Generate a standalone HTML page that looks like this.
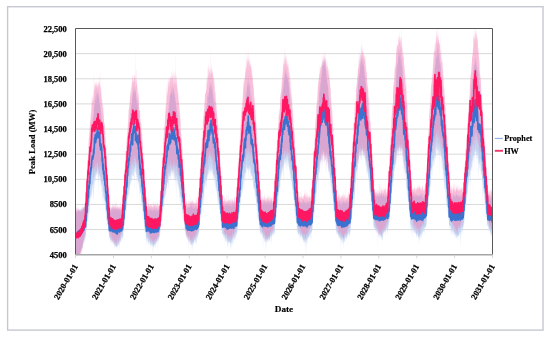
<!DOCTYPE html>
<html><head><meta charset="utf-8"><style>
html,body{margin:0;padding:0;background:#fff;width:550px;height:337px;overflow:hidden}
svg{display:block}
</style></head><body>
<svg width="550" height="337" viewBox="0 0 550 337">
<rect x="7.6" y="6.7" width="535.4" height="323.4" fill="#fff" stroke="#c5c8d0" stroke-width="1.4"/>
<line x1="75.5" y1="53.64" x2="492.5" y2="53.64" stroke="#d9d9d9" stroke-width="1"/><line x1="75.5" y1="78.78" x2="492.5" y2="78.78" stroke="#d9d9d9" stroke-width="1"/><line x1="75.5" y1="103.92" x2="492.5" y2="103.92" stroke="#d9d9d9" stroke-width="1"/><line x1="75.5" y1="129.06" x2="492.5" y2="129.06" stroke="#d9d9d9" stroke-width="1"/><line x1="75.5" y1="154.20" x2="492.5" y2="154.20" stroke="#d9d9d9" stroke-width="1"/><line x1="75.5" y1="179.34" x2="492.5" y2="179.34" stroke="#d9d9d9" stroke-width="1"/><line x1="75.5" y1="204.48" x2="492.5" y2="204.48" stroke="#d9d9d9" stroke-width="1"/><line x1="75.5" y1="229.62" x2="492.5" y2="229.62" stroke="#d9d9d9" stroke-width="1"/>
<clipPath id="c"><rect x="75.5" y="28.5" width="417.0" height="226.26"/></clipPath>
<g clip-path="url(#c)">
<polygon points="75.5,210.8 75.6,205.6 75.7,210.1 75.8,210.9 75.9,200.4 76.0,210.0 76.1,209.7 76.2,208.9 76.3,211.9 76.4,211.4 76.5,211.8 76.6,209.9 76.7,210.7 76.8,213.4 77.0,211.3 77.1,210.3 77.2,210.7 77.3,212.4 77.4,212.1 77.5,211.7 77.6,211.4 77.7,210.3 77.8,211.2 77.9,212.6 78.0,210.6 78.1,209.5 78.2,211.1 78.3,206.1 78.4,208.3 78.5,208.9 78.6,209.7 78.7,211.0 78.8,212.0 78.9,210.5 79.0,210.0 79.1,213.4 79.2,209.2 79.3,209.9 79.4,210.8 79.5,210.2 79.7,209.1 79.8,208.3 79.9,210.2 80.0,209.7 80.1,212.9 80.2,208.6 80.3,210.3 80.4,209.3 80.5,210.5 80.6,209.6 80.7,209.4 80.8,209.6 80.9,207.9 81.0,209.7 81.1,211.9 81.2,207.4 81.3,210.3 81.4,207.9 81.5,207.7 81.6,210.5 81.7,210.3 81.8,211.8 81.9,209.0 82.0,212.0 82.1,205.5 82.2,208.1 82.3,208.2 82.5,209.3 82.6,208.7 82.7,206.8 82.8,213.2 82.9,209.3 83.0,207.7 83.1,207.2 83.2,210.2 83.3,208.1 83.4,207.3 83.5,207.4 83.6,209.3 83.7,208.7 83.8,209.7 83.9,208.8 84.0,204.6 84.1,208.8 84.2,207.3 84.3,207.7 84.4,206.5 84.5,199.0 84.6,204.2 84.7,205.0 84.8,207.8 84.9,205.9 85.0,207.2 85.2,205.5 85.3,207.0 85.4,205.2 85.5,207.4 85.6,210.3 85.7,207.6 85.8,205.1 85.9,202.3 86.0,202.1 86.1,202.1 86.2,201.4 86.3,201.9 86.4,196.5 86.5,194.7 86.6,193.4 86.7,198.6 86.8,191.9 86.9,193.6 87.0,191.2 87.1,189.9 87.2,184.8 87.3,185.7 87.4,186.5 87.5,185.9 87.6,187.3 87.7,180.4 87.9,180.6 88.0,179.3 88.1,175.4 88.2,179.4 88.3,181.5 88.4,169.7 88.5,174.8 88.6,166.3 88.7,173.1 88.8,168.4 88.9,164.4 89.0,166.2 89.1,169.2 89.2,166.3 89.3,167.9 89.4,162.8 89.5,157.7 89.6,152.7 89.7,157.6 89.8,154.3 89.9,155.7 90.0,158.0 90.1,155.7 90.2,150.9 90.3,145.8 90.4,147.2 90.5,148.0 90.7,149.6 90.8,141.2 90.9,148.9 91.0,142.3 91.1,135.8 91.2,140.9 91.3,141.5 91.4,140.5 91.5,133.2 91.6,133.4 91.7,134.0 91.8,129.9 91.9,133.6 92.0,131.2 92.1,131.9 92.2,128.5 92.3,127.9 92.4,120.1 92.5,127.0 92.6,125.8 92.7,123.4 92.8,117.9 92.9,124.1 93.0,111.1 93.1,119.5 93.2,119.0 93.4,116.4 93.5,117.5 93.6,116.0 93.7,117.1 93.8,106.3 93.9,115.6 94.0,106.0 94.1,107.9 94.2,109.9 94.3,99.4 94.4,104.4 94.5,104.1 94.6,111.1 94.7,97.1 94.8,96.2 94.9,102.8 95.0,104.8 95.1,96.0 95.2,109.6 95.3,81.6 95.4,103.9 95.5,95.3 95.6,97.7 95.7,91.9 95.8,101.6 95.9,99.8 96.0,97.1 96.2,104.0 96.3,97.5 96.4,87.9 96.5,83.8 96.6,97.7 96.7,91.7 96.8,96.6 96.9,93.6 97.0,91.3 97.1,94.6 97.2,93.8 97.3,89.2 97.4,93.9 97.5,92.6 97.6,91.5 97.7,95.6 97.8,94.6 97.9,96.3 98.0,98.0 98.1,91.0 98.2,91.8 98.3,91.6 98.4,100.2 98.5,98.8 98.6,97.8 98.7,96.7 98.9,93.4 99.0,99.5 99.1,103.0 99.2,93.8 99.3,96.9 99.4,100.9 99.5,103.0 99.6,106.7 99.7,104.2 99.8,104.6 99.9,105.2 100.0,98.2 100.1,103.7 100.2,104.1 100.3,111.1 100.4,109.4 100.5,102.7 100.6,106.7 100.7,114.4 100.8,109.1 100.9,110.9 101.0,115.2 101.1,110.7 101.2,119.9 101.3,111.2 101.4,119.4 101.5,119.6 101.7,119.5 101.8,115.6 101.9,125.4 102.0,119.0 102.1,128.9 102.2,131.8 102.3,126.5 102.4,128.7 102.5,126.8 102.6,127.2 102.7,131.0 102.8,138.3 102.9,136.7 103.0,137.1 103.1,140.3 103.2,138.4 103.3,133.4 103.4,142.3 103.5,137.9 103.6,144.3 103.7,141.3 103.8,148.2 103.9,143.6 104.0,148.0 104.1,153.1 104.2,154.0 104.4,149.8 104.5,152.7 104.6,158.2 104.7,159.8 104.8,159.3 104.9,161.2 105.0,159.8 105.1,155.5 105.2,161.4 105.3,165.9 105.4,164.0 105.5,167.8 105.6,169.7 105.7,168.1 105.8,175.8 105.9,170.7 106.0,165.4 106.1,176.5 106.2,175.1 106.3,169.3 106.4,177.0 106.5,180.7 106.6,174.7 106.7,181.3 106.8,184.6 106.9,187.1 107.1,182.9 107.2,184.7 107.3,186.9 107.4,185.8 107.5,190.2 107.6,192.8 107.7,194.6 107.8,193.1 107.9,196.7 108.0,197.6 108.1,196.4 108.2,197.1 108.3,203.2 108.4,200.9 108.5,202.3 108.6,203.3 108.7,210.0 108.8,206.7 108.9,210.1 109.0,208.5 109.1,207.5 109.2,210.2 109.3,208.6 109.4,210.6 109.5,208.4 109.6,207.8 109.7,209.8 109.9,205.7 110.0,211.0 110.1,209.6 110.2,213.4 110.3,208.7 110.4,209.2 110.5,213.5 110.6,211.0 110.7,210.4 110.8,206.4 110.9,209.2 111.0,208.9 111.1,209.1 111.2,211.6 111.3,209.2 111.4,207.1 111.5,208.2 111.6,211.8 111.7,211.3 111.8,208.5 111.9,206.0 112.0,209.8 112.1,201.6 112.2,206.4 112.3,208.8 112.4,208.1 112.6,210.4 112.7,211.1 112.8,213.0 112.9,207.7 113.0,208.3 113.1,202.3 113.2,211.5 113.3,206.1 113.4,209.2 113.5,208.4 113.6,210.1 113.7,208.4 113.8,208.4 113.9,206.7 114.0,208.2 114.1,208.2 114.2,209.8 114.3,206.6 114.4,202.9 114.5,207.8 114.6,211.6 114.7,209.1 114.8,210.5 114.9,205.8 115.0,209.7 115.1,207.3 115.2,207.1 115.4,208.9 115.5,208.5 115.6,208.1 115.7,203.4 115.8,208.3 115.9,210.2 116.0,209.1 116.1,207.2 116.2,207.3 116.3,211.6 116.4,208.1 116.5,207.2 116.6,208.0 116.7,210.3 116.8,209.1 116.9,210.1 117.0,208.4 117.1,210.2 117.2,201.3 117.3,211.1 117.4,206.3 117.5,209.8 117.6,209.0 117.7,211.9 117.8,212.3 117.9,206.5 118.1,211.4 118.2,208.5 118.3,210.0 118.4,207.7 118.5,208.2 118.6,209.2 118.7,208.3 118.8,207.7 118.9,210.4 119.0,208.8 119.1,207.6 119.2,207.9 119.3,210.6 119.4,211.4 119.5,202.7 119.6,214.1 119.7,207.1 119.8,205.5 119.9,210.2 120.0,208.2 120.1,211.9 120.2,208.6 120.3,208.2 120.4,211.8 120.5,212.8 120.6,210.1 120.7,209.7 120.9,209.3 121.0,209.6 121.1,208.9 121.2,208.9 121.3,209.0 121.4,209.1 121.5,208.6 121.6,210.5 121.7,206.3 121.8,208.0 121.9,211.7 122.0,207.9 122.1,209.7 122.2,210.8 122.3,209.9 122.4,212.8 122.5,211.6 122.6,209.9 122.7,207.5 122.8,197.2 122.9,210.0 123.0,208.4 123.1,204.2 123.2,209.1 123.3,206.7 123.4,199.9 123.6,203.8 123.7,196.7 123.8,198.3 123.9,199.4 124.0,193.1 124.1,194.6 124.2,193.4 124.3,188.3 124.4,192.4 124.5,191.4 124.6,180.9 124.7,190.9 124.8,177.2 124.9,184.3 125.0,184.7 125.1,183.6 125.2,181.1 125.3,172.1 125.4,180.1 125.5,176.0 125.6,174.6 125.7,169.3 125.8,170.4 125.9,170.4 126.0,167.9 126.1,165.2 126.2,163.8 126.4,162.3 126.5,164.5 126.6,157.5 126.7,162.6 126.8,156.4 126.9,158.3 127.0,154.4 127.1,149.9 127.2,153.5 127.3,156.5 127.4,150.4 127.5,151.5 127.6,149.1 127.7,147.2 127.8,141.6 127.9,143.1 128.0,147.1 128.1,144.7 128.2,134.0 128.3,142.5 128.4,139.4 128.5,137.3 128.6,138.4 128.7,133.7 128.8,128.9 128.9,133.7 129.1,125.5 129.2,128.5 129.3,121.4 129.4,127.4 129.5,127.9 129.6,123.8 129.7,124.1 129.8,122.5 129.9,121.6 130.0,118.3 130.1,126.0 130.2,118.4 130.3,113.3 130.4,116.0 130.5,114.9 130.6,108.4 130.7,112.7 130.8,111.5 130.9,108.1 131.0,105.8 131.1,104.0 131.2,108.6 131.3,111.1 131.4,101.2 131.5,106.6 131.6,106.4 131.8,102.9 131.9,105.7 132.0,102.3 132.1,89.4 132.2,98.0 132.3,92.5 132.4,96.0 132.5,99.9 132.6,99.4 132.7,98.0 132.8,84.4 132.9,98.9 133.0,92.3 133.1,91.6 133.2,92.0 133.3,93.6 133.4,86.3 133.5,89.7 133.6,81.7 133.7,92.6 133.8,86.0 133.9,97.9 134.0,89.7 134.1,84.7 134.2,94.7 134.3,93.8 134.4,91.7 134.6,92.5 134.7,83.7 134.8,90.1 134.9,94.9 135.0,88.6 135.1,88.5 135.2,89.1 135.3,89.0 135.4,91.5 135.5,91.6 135.6,90.6 135.7,91.0 135.8,95.7 135.9,90.8 136.0,94.9 136.1,96.3 136.2,97.0 136.3,100.1 136.4,101.0 136.5,105.3 136.6,96.3 136.7,104.4 136.8,99.2 136.9,100.3 137.0,95.4 137.1,99.1 137.3,106.5 137.4,102.6 137.5,108.7 137.6,101.9 137.7,104.2 137.8,107.7 137.9,106.8 138.0,105.9 138.1,95.2 138.2,109.9 138.3,116.1 138.4,112.4 138.5,116.0 138.6,116.0 138.7,118.5 138.8,114.2 138.9,124.2 139.0,120.8 139.1,126.5 139.2,125.9 139.3,122.9 139.4,126.4 139.5,128.6 139.6,127.3 139.7,128.5 139.8,139.3 139.9,132.3 140.1,135.2 140.2,133.8 140.3,134.9 140.4,132.5 140.5,139.6 140.6,138.6 140.7,136.4 140.8,142.0 140.9,143.0 141.0,141.5 141.1,145.7 141.2,151.8 141.3,145.6 141.4,146.3 141.5,147.9 141.6,151.8 141.7,154.4 141.8,154.0 141.9,159.1 142.0,158.6 142.1,158.7 142.2,161.9 142.3,167.5 142.4,163.4 142.5,161.5 142.6,171.6 142.8,170.2 142.9,170.1 143.0,174.6 143.1,169.4 143.2,176.8 143.3,175.2 143.4,177.7 143.5,178.5 143.6,182.4 143.7,180.5 143.8,185.7 143.9,183.2 144.0,186.4 144.1,187.6 144.2,185.0 144.3,190.0 144.4,185.8 144.5,190.4 144.6,193.1 144.7,192.4 144.8,197.8 144.9,199.6 145.0,197.7 145.1,201.3 145.2,204.0 145.3,205.1 145.4,203.9 145.6,204.0 145.7,199.2 145.8,209.9 145.9,203.4 146.0,213.9 146.1,210.8 146.2,207.9 146.3,212.0 146.4,210.2 146.5,210.1 146.6,210.6 146.7,211.3 146.8,210.7 146.9,209.1 147.0,211.3 147.1,210.1 147.2,206.8 147.3,211.9 147.4,210.4 147.5,211.8 147.6,205.4 147.7,207.8 147.8,209.4 147.9,210.9 148.0,212.7 148.1,208.0 148.3,210.7 148.4,212.2 148.5,210.4 148.6,211.0 148.7,207.5 148.8,209.8 148.9,208.9 149.0,208.3 149.1,209.9 149.2,207.4 149.3,205.1 149.4,209.3 149.5,208.6 149.6,211.2 149.7,212.7 149.8,208.0 149.9,212.2 150.0,208.2 150.1,212.2 150.2,207.1 150.3,209.4 150.4,207.5 150.5,208.2 150.6,209.6 150.7,208.8 150.8,209.9 151.0,208.8 151.1,209.2 151.2,206.7 151.3,208.1 151.4,209.5 151.5,209.6 151.6,211.3 151.7,212.4 151.8,209.7 151.9,210.5 152.0,209.1 152.1,211.7 152.2,207.1 152.3,212.1 152.4,211.4 152.5,211.5 152.6,207.2 152.7,207.1 152.8,209.6 152.9,210.8 153.0,209.5 153.1,211.1 153.2,206.7 153.3,210.9 153.4,210.1 153.5,208.3 153.6,210.4 153.8,211.5 153.9,210.0 154.0,204.5 154.1,210.1 154.2,208.8 154.3,207.1 154.4,209.8 154.5,208.2 154.6,204.0 154.7,208.2 154.8,208.8 154.9,209.7 155.0,211.6 155.1,208.4 155.2,207.6 155.3,208.7 155.4,212.4 155.5,210.2 155.6,209.1 155.7,210.6 155.8,206.7 155.9,212.7 156.0,209.4 156.1,211.3 156.2,205.9 156.3,208.5 156.5,210.6 156.6,212.7 156.7,210.3 156.8,206.5 156.9,207.5 157.0,209.0 157.1,209.2 157.2,208.0 157.3,209.6 157.4,211.3 157.5,209.9 157.6,208.5 157.7,209.9 157.8,212.8 157.9,210.9 158.0,210.0 158.1,205.3 158.2,206.0 158.3,210.1 158.4,210.3 158.5,210.8 158.6,212.2 158.7,208.6 158.8,211.0 158.9,209.7 159.0,209.0 159.1,211.8 159.3,209.9 159.4,209.3 159.5,207.9 159.6,203.7 159.7,205.9 159.8,200.9 159.9,198.6 160.0,201.1 160.1,201.5 160.2,198.9 160.3,198.1 160.4,195.6 160.5,197.8 160.6,195.0 160.7,190.6 160.8,189.5 160.9,186.2 161.0,189.2 161.1,189.8 161.2,184.8 161.3,186.4 161.4,185.7 161.5,185.0 161.6,175.5 161.7,183.6 161.8,176.5 162.0,180.5 162.1,176.6 162.2,175.1 162.3,175.4 162.4,169.3 162.5,173.5 162.6,172.1 162.7,173.5 162.8,169.5 162.9,170.4 163.0,166.9 163.1,168.2 163.2,160.4 163.3,163.7 163.4,167.1 163.5,160.5 163.6,152.7 163.7,154.8 163.8,155.1 163.9,155.1 164.0,153.1 164.1,156.7 164.2,154.3 164.3,151.6 164.4,151.9 164.5,150.5 164.6,142.2 164.8,139.8 164.9,147.1 165.0,137.5 165.1,144.1 165.2,137.1 165.3,143.0 165.4,144.6 165.5,142.1 165.6,135.0 165.7,134.5 165.8,135.1 165.9,138.0 166.0,134.9 166.1,128.8 166.2,132.5 166.3,126.4 166.4,129.4 166.5,128.0 166.6,126.5 166.7,126.4 166.8,128.6 166.9,117.1 167.0,125.9 167.1,123.4 167.2,123.8 167.3,119.3 167.5,116.1 167.6,118.5 167.7,112.8 167.8,110.9 167.9,116.3 168.0,115.3 168.1,101.5 168.2,115.3 168.3,114.1 168.4,101.2 168.5,110.6 168.6,107.8 168.7,112.4 168.8,113.9 168.9,111.8 169.0,107.0 169.1,104.5 169.2,103.5 169.3,99.8 169.4,104.9 169.5,103.2 169.6,95.9 169.7,99.6 169.8,91.7 169.9,99.1 170.0,94.8 170.2,90.9 170.3,94.6 170.4,98.6 170.5,91.3 170.6,92.6 170.7,96.5 170.8,93.8 170.9,93.2 171.0,90.3 171.1,95.9 171.2,92.9 171.3,93.9 171.4,86.1 171.5,90.5 171.6,89.6 171.7,93.5 171.8,85.1 171.9,85.4 172.0,88.1 172.1,85.0 172.2,88.4 172.3,91.4 172.4,83.2 172.5,89.7 172.6,95.5 172.7,95.7 172.8,93.4 173.0,90.7 173.1,86.9 173.2,90.4 173.3,87.0 173.4,91.5 173.5,86.7 173.6,86.7 173.7,94.3 173.8,94.0 173.9,87.4 174.0,83.4 174.1,94.4 174.2,93.7 174.3,97.1 174.4,94.2 174.5,93.0 174.6,91.3 174.7,89.4 174.8,97.8 174.9,96.2 175.0,101.0 175.1,99.6 175.2,95.3 175.3,97.0 175.4,102.3 175.5,99.1 175.7,107.5 175.8,100.7 175.9,104.2 176.0,100.3 176.1,107.0 176.2,110.7 176.3,109.0 176.4,107.8 176.5,104.5 176.6,116.5 176.7,107.3 176.8,104.9 176.9,114.2 177.0,116.1 177.1,114.4 177.2,110.5 177.3,114.5 177.4,109.7 177.5,115.0 177.6,116.7 177.7,118.6 177.8,118.8 177.9,124.2 178.0,120.3 178.1,119.2 178.2,125.2 178.3,123.2 178.5,125.2 178.6,131.7 178.7,130.4 178.8,130.7 178.9,138.9 179.0,133.3 179.1,130.7 179.2,131.9 179.3,135.0 179.4,143.2 179.5,137.7 179.6,137.7 179.7,142.7 179.8,137.2 179.9,142.8 180.0,146.4 180.1,131.1 180.2,147.3 180.3,151.9 180.4,145.8 180.5,148.2 180.6,151.5 180.7,150.8 180.8,155.2 180.9,149.7 181.0,146.5 181.2,156.5 181.3,151.2 181.4,156.0 181.5,153.8 181.6,158.2 181.7,159.0 181.8,162.8 181.9,162.3 182.0,165.2 182.1,165.8 182.2,167.4 182.3,167.8 182.4,170.6 182.5,167.8 182.6,173.0 182.7,176.1 182.8,173.5 182.9,175.8 183.0,180.3 183.1,172.9 183.2,182.1 183.3,177.9 183.4,176.8 183.5,181.4 183.6,182.4 183.7,186.1 183.8,184.2 184.0,190.1 184.1,180.9 184.2,186.0 184.3,188.9 184.4,188.3 184.5,192.2 184.6,193.0 184.7,194.6 184.8,195.9 184.9,193.6 185.0,198.3 185.1,200.1 185.2,195.8 185.3,200.5 185.4,195.5 185.5,202.4 185.6,206.6 185.7,204.5 185.8,205.4 185.9,209.8 186.0,212.4 186.1,206.7 186.2,207.6 186.3,210.0 186.4,204.9 186.5,208.0 186.7,210.3 186.8,205.3 186.9,210.5 187.0,205.4 187.1,213.9 187.2,208.6 187.3,207.1 187.4,209.0 187.5,207.0 187.6,206.4 187.7,207.1 187.8,206.0 187.9,209.7 188.0,207.0 188.1,208.3 188.2,205.4 188.3,205.8 188.4,209.2 188.5,206.3 188.6,207.1 188.7,207.7 188.8,208.5 188.9,206.2 189.0,210.7 189.1,205.9 189.2,205.9 189.3,208.0 189.5,206.4 189.6,206.5 189.7,208.0 189.8,209.3 189.9,206.2 190.0,205.0 190.1,205.2 190.2,204.6 190.3,205.8 190.4,205.4 190.5,205.0 190.6,209.4 190.7,209.8 190.8,204.5 190.9,197.7 191.0,208.6 191.1,207.5 191.2,205.6 191.3,202.7 191.4,204.3 191.5,207.7 191.6,204.7 191.7,207.3 191.8,205.0 191.9,205.0 192.0,205.4 192.2,201.7 192.3,208.6 192.4,206.4 192.5,209.4 192.6,204.8 192.7,202.5 192.8,206.5 192.9,209.2 193.0,210.0 193.1,203.7 193.2,205.2 193.3,204.5 193.4,205.1 193.5,208.6 193.6,209.5 193.7,207.4 193.8,209.9 193.9,208.3 194.0,205.0 194.1,208.0 194.2,206.5 194.3,207.6 194.4,205.0 194.5,209.5 194.6,207.0 194.7,210.3 194.9,207.0 195.0,198.3 195.1,204.7 195.2,206.0 195.3,209.0 195.4,210.6 195.5,206.8 195.6,205.4 195.7,207.2 195.8,203.5 195.9,205.6 196.0,206.6 196.1,205.7 196.2,208.2 196.3,207.2 196.4,209.2 196.5,207.7 196.6,205.8 196.7,205.9 196.8,205.4 196.9,208.8 197.0,206.8 197.1,205.1 197.2,205.8 197.3,207.2 197.4,207.0 197.5,206.6 197.7,208.2 197.8,205.8 197.9,209.9 198.0,209.6 198.1,207.7 198.2,205.1 198.3,208.3 198.4,208.2 198.5,207.7 198.6,203.7 198.7,206.4 198.8,202.7 198.9,202.2 199.0,201.1 199.1,201.4 199.2,196.0 199.3,195.8 199.4,192.6 199.5,198.6 199.6,191.4 199.7,189.8 199.8,188.9 199.9,185.2 200.0,188.7 200.1,184.1 200.2,187.2 200.4,182.0 200.5,182.3 200.6,180.1 200.7,178.8 200.8,172.0 200.9,176.0 201.0,176.2 201.1,175.0 201.2,175.1 201.3,172.4 201.4,168.5 201.5,171.9 201.6,172.2 201.7,156.6 201.8,170.3 201.9,162.9 202.0,164.5 202.1,161.5 202.2,157.3 202.3,161.7 202.4,151.8 202.5,155.8 202.6,154.4 202.7,148.9 202.8,149.8 202.9,150.6 203.0,150.0 203.2,149.6 203.3,145.4 203.4,145.0 203.5,145.0 203.6,140.7 203.7,140.9 203.8,136.5 203.9,136.8 204.0,134.3 204.1,132.0 204.2,131.6 204.3,132.9 204.4,132.5 204.5,130.5 204.6,135.5 204.7,126.9 204.8,126.8 204.9,120.0 205.0,120.4 205.1,120.2 205.2,127.3 205.3,127.2 205.4,121.6 205.5,114.5 205.6,120.1 205.7,116.5 205.9,108.7 206.0,116.6 206.1,107.1 206.2,104.9 206.3,111.6 206.4,111.9 206.5,106.3 206.6,107.4 206.7,105.6 206.8,107.3 206.9,108.6 207.0,105.5 207.1,99.3 207.2,108.1 207.3,104.4 207.4,102.6 207.5,95.7 207.6,95.0 207.7,97.6 207.8,92.5 207.9,97.4 208.0,92.6 208.1,91.6 208.2,95.4 208.3,92.7 208.4,90.8 208.5,95.2 208.7,98.7 208.8,93.4 208.9,96.3 209.0,95.0 209.1,90.6 209.2,90.2 209.3,86.4 209.4,88.4 209.5,86.6 209.6,87.7 209.7,87.2 209.8,86.9 209.9,77.0 210.0,61.2 210.1,79.4 210.2,86.1 210.3,88.1 210.4,85.4 210.5,81.4 210.6,86.8 210.7,84.4 210.8,79.9 210.9,88.0 211.0,91.9 211.1,86.6 211.2,85.1 211.4,91.3 211.5,78.0 211.6,81.9 211.7,89.1 211.8,81.7 211.9,83.6 212.0,93.9 212.1,78.0 212.2,86.5 212.3,89.3 212.4,88.8 212.5,93.9 212.6,94.4 212.7,92.9 212.8,88.5 212.9,97.1 213.0,100.9 213.1,93.1 213.2,98.0 213.3,95.8 213.4,101.4 213.5,99.4 213.6,105.8 213.7,103.6 213.8,97.5 213.9,106.8 214.1,101.1 214.2,88.6 214.3,107.8 214.4,106.4 214.5,107.3 214.6,109.0 214.7,101.4 214.8,111.7 214.9,113.5 215.0,114.6 215.1,115.5 215.2,110.6 215.3,113.8 215.4,120.4 215.5,117.7 215.6,124.9 215.7,125.6 215.8,123.9 215.9,120.1 216.0,126.0 216.1,126.9 216.2,131.8 216.3,132.8 216.4,132.8 216.5,133.8 216.6,133.4 216.7,136.2 216.9,133.5 217.0,141.2 217.1,140.0 217.2,137.4 217.3,139.3 217.4,140.7 217.5,144.5 217.6,148.3 217.7,150.1 217.8,141.5 217.9,150.1 218.0,150.3 218.1,153.8 218.2,150.6 218.3,154.8 218.4,157.9 218.5,158.1 218.6,152.4 218.7,154.9 218.8,162.1 218.9,164.3 219.0,166.3 219.1,165.4 219.2,165.1 219.3,171.1 219.4,167.3 219.6,166.8 219.7,172.5 219.8,175.5 219.9,174.9 220.0,174.0 220.1,178.4 220.2,175.4 220.3,180.7 220.4,176.9 220.5,183.6 220.6,184.4 220.7,184.7 220.8,184.5 220.9,185.3 221.0,187.8 221.1,185.0 221.2,187.4 221.3,192.7 221.4,195.8 221.5,192.3 221.6,196.6 221.7,197.3 221.8,199.9 221.9,200.2 222.0,199.0 222.1,199.7 222.2,202.4 222.4,206.1 222.5,205.2 222.6,205.2 222.7,207.4 222.8,204.8 222.9,207.4 223.0,205.9 223.1,207.3 223.2,207.3 223.3,204.0 223.4,203.1 223.5,206.1 223.6,206.2 223.7,207.5 223.8,202.8 223.9,206.9 224.0,204.2 224.1,205.5 224.2,206.6 224.3,204.2 224.4,203.2 224.5,206.2 224.6,205.2 224.7,203.1 224.8,206.9 224.9,208.6 225.1,205.9 225.2,204.7 225.3,205.8 225.4,204.6 225.5,204.7 225.6,205.2 225.7,203.8 225.8,204.3 225.9,204.2 226.0,204.2 226.1,203.6 226.2,202.2 226.3,202.9 226.4,208.8 226.5,204.1 226.6,204.5 226.7,205.6 226.8,204.1 226.9,202.4 227.0,200.9 227.1,204.8 227.2,203.9 227.3,201.2 227.4,206.3 227.5,206.5 227.6,203.5 227.7,206.5 227.9,200.0 228.0,203.3 228.1,206.2 228.2,178.9 228.3,204.7 228.4,209.1 228.5,201.8 228.6,201.7 228.7,204.1 228.8,205.3 228.9,206.1 229.0,203.2 229.1,204.7 229.2,203.7 229.3,205.6 229.4,204.8 229.5,204.6 229.6,205.3 229.7,204.8 229.8,204.2 229.9,199.2 230.0,201.8 230.1,196.4 230.2,203.6 230.3,202.9 230.4,205.5 230.6,207.2 230.7,205.7 230.8,206.6 230.9,202.6 231.0,208.5 231.1,206.5 231.2,205.9 231.3,208.6 231.4,203.7 231.5,201.4 231.6,203.9 231.7,206.1 231.8,204.5 231.9,204.2 232.0,207.9 232.1,199.1 232.2,206.9 232.3,206.8 232.4,199.8 232.5,205.1 232.6,206.0 232.7,206.5 232.8,198.5 232.9,197.6 233.0,204.3 233.1,202.7 233.3,207.0 233.4,206.1 233.5,203.6 233.6,205.5 233.7,205.0 233.8,202.5 233.9,205.1 234.0,205.4 234.1,205.3 234.2,201.2 234.3,201.1 234.4,206.5 234.5,206.8 234.6,197.3 234.7,201.3 234.8,200.6 234.9,192.7 235.0,202.5 235.1,205.1 235.2,205.8 235.3,203.9 235.4,207.6 235.5,206.3 235.6,208.1 235.7,206.3 235.8,204.2 235.9,205.0 236.1,204.2 236.2,206.5 236.3,204.9 236.4,204.6 236.5,203.8 236.6,207.5 236.7,205.7 236.8,205.7 236.9,203.2 237.0,201.6 237.1,203.0 237.2,198.4 237.3,197.5 237.4,198.4 237.5,198.0 237.6,197.5 237.7,194.4 237.8,194.0 237.9,188.7 238.0,191.4 238.1,191.4 238.2,187.5 238.3,181.2 238.4,185.2 238.5,189.1 238.6,185.0 238.8,178.6 238.9,178.2 239.0,174.3 239.1,179.0 239.2,168.4 239.3,161.7 239.4,163.1 239.5,174.2 239.6,170.1 239.7,164.5 239.8,166.4 239.9,165.4 240.0,157.8 240.1,164.2 240.2,159.1 240.3,160.1 240.4,156.3 240.5,155.6 240.6,155.0 240.7,160.0 240.8,153.2 240.9,151.4 241.0,142.4 241.1,158.3 241.2,151.8 241.3,143.9 241.4,143.4 241.6,141.4 241.7,142.7 241.8,139.9 241.9,131.3 242.0,138.6 242.1,139.0 242.2,136.3 242.3,132.0 242.4,138.3 242.5,134.0 242.6,125.9 242.7,128.2 242.8,116.3 242.9,116.9 243.0,122.0 243.1,125.6 243.2,124.2 243.3,122.9 243.4,120.8 243.5,125.9 243.6,117.8 243.7,120.1 243.8,112.9 243.9,113.7 244.0,104.6 244.1,114.6 244.3,116.0 244.4,116.0 244.5,113.2 244.6,110.4 244.7,104.6 244.8,114.4 244.9,105.9 245.0,102.1 245.1,112.4 245.2,105.0 245.3,101.1 245.4,104.0 245.5,99.7 245.6,99.5 245.7,88.7 245.8,94.8 245.9,92.8 246.0,97.1 246.1,97.7 246.2,95.7 246.3,86.3 246.4,90.8 246.5,93.7 246.6,98.5 246.7,91.3 246.8,91.4 246.9,90.0 247.1,77.1 247.2,87.9 247.3,86.0 247.4,88.3 247.5,80.6 247.6,85.7 247.7,84.3 247.8,80.8 247.9,82.8 248.0,86.4 248.1,82.3 248.2,77.0 248.3,86.7 248.4,86.0 248.5,83.4 248.6,73.9 248.7,79.4 248.8,84.6 248.9,88.6 249.0,84.7 249.1,80.8 249.2,89.0 249.3,84.8 249.4,81.9 249.5,84.6 249.6,92.3 249.8,90.3 249.9,78.5 250.0,88.0 250.1,82.9 250.2,93.7 250.3,90.7 250.4,103.9 250.5,85.2 250.6,97.2 250.7,98.3 250.8,96.5 250.9,95.0 251.0,96.6 251.1,93.7 251.2,98.1 251.3,93.4 251.4,97.7 251.5,106.2 251.6,103.2 251.7,98.9 251.8,104.6 251.9,97.1 252.0,103.8 252.1,98.4 252.2,105.0 252.3,109.2 252.4,111.4 252.6,98.6 252.7,113.2 252.8,114.6 252.9,113.2 253.0,114.5 253.1,118.2 253.2,113.0 253.3,124.2 253.4,119.0 253.5,123.1 253.6,119.3 253.7,124.9 253.8,115.0 253.9,121.4 254.0,123.0 254.1,125.3 254.2,129.9 254.3,125.9 254.4,131.0 254.5,132.7 254.6,128.9 254.7,137.3 254.8,135.0 254.9,132.0 255.0,144.2 255.1,139.7 255.3,142.3 255.4,142.5 255.5,145.3 255.6,139.6 255.7,147.6 255.8,151.6 255.9,147.8 256.0,152.5 256.1,149.9 256.2,152.1 256.3,156.9 256.4,161.3 256.5,153.1 256.6,159.1 256.7,158.2 256.8,165.2 256.9,168.6 257.0,161.9 257.1,165.6 257.2,168.6 257.3,169.7 257.4,167.6 257.5,173.3 257.6,170.8 257.7,178.8 257.8,177.1 258.0,179.2 258.1,181.7 258.2,180.6 258.3,183.4 258.4,181.9 258.5,182.6 258.6,184.5 258.7,185.2 258.8,189.0 258.9,187.6 259.0,188.7 259.1,193.1 259.2,188.0 259.3,194.4 259.4,194.6 259.5,197.2 259.6,200.1 259.7,201.8 259.8,203.0 259.9,198.0 260.0,203.7 260.1,204.9 260.2,201.7 260.3,204.0 260.4,207.2 260.5,204.5 260.6,204.4 260.8,205.8 260.9,204.5 261.0,193.7 261.1,200.4 261.2,202.3 261.3,203.4 261.4,205.9 261.5,200.2 261.6,203.4 261.7,202.7 261.8,201.1 261.9,198.7 262.0,201.4 262.1,201.2 262.2,203.9 262.3,201.5 262.4,204.1 262.5,203.3 262.6,205.7 262.7,201.2 262.8,207.0 262.9,195.7 263.0,202.4 263.1,199.5 263.2,200.9 263.3,203.6 263.5,205.8 263.6,202.0 263.7,204.4 263.8,204.1 263.9,200.3 264.0,200.2 264.1,202.8 264.2,204.4 264.3,201.2 264.4,194.6 264.5,200.9 264.6,201.4 264.7,199.4 264.8,204.5 264.9,203.5 265.0,200.3 265.1,201.5 265.2,199.9 265.3,201.7 265.4,200.1 265.5,205.0 265.6,202.3 265.7,202.7 265.8,203.1 265.9,194.0 266.0,203.0 266.1,201.4 266.3,202.7 266.4,203.4 266.5,203.8 266.6,205.3 266.7,202.8 266.8,203.0 266.9,201.2 267.0,203.7 267.1,203.1 267.2,204.3 267.3,202.4 267.4,201.7 267.5,199.9 267.6,201.7 267.7,201.9 267.8,203.2 267.9,198.9 268.0,203.3 268.1,204.8 268.2,200.6 268.3,200.1 268.4,203.4 268.5,199.3 268.6,205.7 268.7,201.5 268.8,202.5 269.0,196.4 269.1,205.1 269.2,201.9 269.3,200.7 269.4,203.4 269.5,200.9 269.6,203.0 269.7,200.3 269.8,204.7 269.9,202.4 270.0,204.2 270.1,203.3 270.2,203.4 270.3,201.3 270.4,206.3 270.5,202.7 270.6,202.1 270.7,199.4 270.8,203.4 270.9,202.6 271.0,200.2 271.1,198.4 271.2,199.9 271.3,202.3 271.4,195.5 271.5,205.4 271.6,202.5 271.8,202.7 271.9,201.9 272.0,201.8 272.1,203.1 272.2,204.1 272.3,204.0 272.4,200.7 272.5,203.6 272.6,203.1 272.7,202.9 272.8,201.0 272.9,203.7 273.0,203.3 273.1,201.7 273.2,198.6 273.3,200.5 273.4,200.4 273.5,202.3 273.6,201.5 273.7,202.0 273.8,204.2 273.9,201.7 274.0,201.2 274.1,202.9 274.2,199.8 274.3,208.3 274.5,204.1 274.6,204.1 274.7,203.3 274.8,201.2 274.9,198.1 275.0,195.3 275.1,193.3 275.2,195.1 275.3,193.0 275.4,190.7 275.5,186.8 275.6,189.5 275.7,184.8 275.8,189.0 275.9,183.9 276.0,187.7 276.1,182.4 276.2,175.4 276.3,179.7 276.4,177.3 276.5,173.5 276.6,170.2 276.7,175.6 276.8,172.1 276.9,163.4 277.0,164.5 277.2,164.7 277.3,161.6 277.4,166.3 277.5,158.9 277.6,151.4 277.7,157.6 277.8,159.2 277.9,155.3 278.0,150.4 278.1,153.8 278.2,156.5 278.3,142.8 278.4,139.4 278.5,144.4 278.6,146.9 278.7,140.6 278.8,137.8 278.9,143.0 279.0,139.7 279.1,138.1 279.2,136.5 279.3,138.9 279.4,133.8 279.5,134.7 279.6,130.6 279.7,124.3 279.8,126.1 280.0,123.2 280.1,128.4 280.2,127.4 280.3,124.7 280.4,123.1 280.5,114.6 280.6,119.0 280.7,112.4 280.8,119.6 280.9,112.4 281.0,115.7 281.1,109.3 281.2,104.9 281.3,110.2 281.4,104.0 281.5,88.4 281.6,103.9 281.7,104.3 281.8,101.7 281.9,102.8 282.0,99.7 282.1,100.1 282.2,93.9 282.3,92.8 282.4,91.7 282.5,89.1 282.7,92.3 282.8,99.3 282.9,90.5 283.0,84.8 283.1,88.6 283.2,86.1 283.3,90.1 283.4,82.0 283.5,90.5 283.6,88.1 283.7,86.4 283.8,80.6 283.9,81.3 284.0,77.8 284.1,82.0 284.2,82.0 284.3,70.7 284.4,77.3 284.5,76.4 284.6,80.3 284.7,80.3 284.8,59.9 284.9,73.4 285.0,78.9 285.1,77.0 285.2,74.7 285.3,69.5 285.5,74.8 285.6,66.8 285.7,70.0 285.8,67.2 285.9,73.1 286.0,69.5 286.1,75.6 286.2,72.1 286.3,71.3 286.4,77.9 286.5,75.1 286.6,73.4 286.7,74.1 286.8,77.5 286.9,73.6 287.0,76.0 287.1,80.3 287.2,75.4 287.3,78.4 287.4,79.5 287.5,73.3 287.6,81.4 287.7,74.3 287.8,79.4 287.9,75.3 288.0,81.0 288.2,76.6 288.3,83.2 288.4,86.7 288.5,84.4 288.6,74.3 288.7,87.3 288.8,83.6 288.9,82.2 289.0,88.8 289.1,86.9 289.2,93.3 289.3,93.0 289.4,87.5 289.5,97.1 289.6,96.1 289.7,103.1 289.8,95.6 289.9,97.8 290.0,104.1 290.1,105.0 290.2,100.1 290.3,107.5 290.4,102.7 290.5,101.3 290.6,108.1 290.7,105.8 290.8,108.2 291.0,114.0 291.1,114.4 291.2,110.3 291.3,110.0 291.4,124.2 291.5,122.4 291.6,123.8 291.7,124.2 291.8,119.1 291.9,121.3 292.0,126.6 292.1,133.0 292.2,130.6 292.3,128.7 292.4,131.9 292.5,125.9 292.6,136.8 292.7,137.4 292.8,136.3 292.9,137.2 293.0,139.9 293.1,147.6 293.2,144.0 293.3,143.0 293.4,146.5 293.5,139.3 293.7,145.8 293.8,148.9 293.9,148.4 294.0,154.3 294.1,158.2 294.2,158.8 294.3,163.6 294.4,161.2 294.5,167.4 294.6,166.1 294.7,164.5 294.8,166.2 294.9,170.5 295.0,165.3 295.1,167.4 295.2,169.0 295.3,168.7 295.4,175.8 295.5,169.1 295.6,179.0 295.7,177.9 295.8,177.9 295.9,179.0 296.0,188.6 296.1,187.4 296.2,178.4 296.4,191.3 296.5,189.0 296.6,186.2 296.7,189.0 296.8,193.7 296.9,195.4 297.0,198.5 297.1,194.8 297.2,201.0 297.3,201.6 297.4,202.8 297.5,205.3 297.6,205.5 297.7,203.8 297.8,202.6 297.9,197.0 298.0,205.9 298.1,203.6 298.2,203.9 298.3,199.0 298.4,203.5 298.5,201.1 298.6,203.0 298.7,205.1 298.8,200.6 298.9,204.0 299.0,201.6 299.2,203.7 299.3,203.1 299.4,199.8 299.5,201.6 299.6,205.3 299.7,200.5 299.8,199.8 299.9,202.9 300.0,201.6 300.1,204.1 300.2,201.1 300.3,202.3 300.4,203.5 300.5,202.7 300.6,203.0 300.7,201.6 300.8,203.8 300.9,200.9 301.0,202.6 301.1,199.9 301.2,205.5 301.3,201.9 301.4,203.6 301.5,201.6 301.6,202.5 301.7,202.7 301.9,201.3 302.0,201.2 302.1,206.0 302.2,201.5 302.3,203.8 302.4,204.8 302.5,202.5 302.6,198.1 302.7,201.7 302.8,202.5 302.9,196.6 303.0,203.6 303.1,203.5 303.2,200.3 303.3,200.2 303.4,203.1 303.5,201.5 303.6,197.9 303.7,201.7 303.8,198.8 303.9,197.4 304.0,204.4 304.1,201.9 304.2,200.6 304.3,204.4 304.4,200.3 304.5,203.5 304.7,199.8 304.8,201.3 304.9,202.8 305.0,203.8 305.1,202.3 305.2,201.8 305.3,201.7 305.4,201.7 305.5,195.6 305.6,202.5 305.7,206.9 305.8,203.2 305.9,204.5 306.0,202.5 306.1,204.9 306.2,197.0 306.3,203.7 306.4,203.8 306.5,201.5 306.6,202.0 306.7,202.0 306.8,202.2 306.9,205.5 307.0,202.3 307.1,200.9 307.2,200.9 307.4,204.2 307.5,203.4 307.6,201.0 307.7,203.0 307.8,202.2 307.9,202.8 308.0,199.5 308.1,203.8 308.2,204.8 308.3,201.0 308.4,201.4 308.5,203.6 308.6,201.1 308.7,202.8 308.8,200.6 308.9,200.7 309.0,201.3 309.1,204.9 309.2,201.4 309.3,204.0 309.4,200.3 309.5,198.0 309.6,204.1 309.7,200.8 309.8,201.5 309.9,203.9 310.0,203.0 310.2,204.1 310.3,201.8 310.4,200.8 310.5,200.5 310.6,203.1 310.7,205.3 310.8,200.0 310.9,204.2 311.0,201.1 311.1,203.5 311.2,203.1 311.3,203.3 311.4,199.6 311.5,202.3 311.6,204.9 311.7,203.2 311.8,199.8 311.9,199.5 312.0,203.6 312.1,202.7 312.2,199.9 312.3,194.2 312.4,197.2 312.5,193.9 312.6,194.6 312.7,192.0 312.9,192.5 313.0,188.3 313.1,182.8 313.2,184.6 313.3,183.2 313.4,181.6 313.5,181.9 313.6,182.3 313.7,174.0 313.8,173.4 313.9,172.7 314.0,166.4 314.1,170.9 314.2,172.0 314.3,169.6 314.4,168.9 314.5,167.5 314.6,160.9 314.7,164.6 314.8,162.8 314.9,161.3 315.0,159.6 315.1,160.3 315.2,160.2 315.3,155.9 315.4,149.9 315.6,148.5 315.7,151.2 315.8,141.9 315.9,148.9 316.0,143.1 316.1,143.9 316.2,142.7 316.3,138.6 316.4,139.0 316.5,136.2 316.6,143.8 316.7,139.3 316.8,131.3 316.9,133.3 317.0,130.7 317.1,129.1 317.2,131.8 317.3,125.1 317.4,120.3 317.5,116.0 317.6,119.9 317.7,121.9 317.8,109.0 317.9,119.3 318.0,116.8 318.1,109.9 318.2,108.2 318.4,107.4 318.5,112.5 318.6,106.5 318.7,109.8 318.8,104.9 318.9,100.9 319.0,99.0 319.1,99.6 319.2,101.4 319.3,95.8 319.4,85.6 319.5,89.9 319.6,90.5 319.7,93.9 319.8,82.0 319.9,92.3 320.0,89.7 320.1,92.1 320.2,89.8 320.3,87.5 320.4,81.2 320.5,85.4 320.6,82.5 320.7,78.7 320.8,83.4 320.9,80.5 321.1,80.0 321.2,86.3 321.3,79.0 321.4,77.6 321.5,78.6 321.6,68.7 321.7,73.6 321.8,68.7 321.9,72.5 322.0,74.0 322.1,70.8 322.2,61.9 322.3,81.6 322.4,59.2 322.5,62.3 322.6,64.5 322.7,67.0 322.8,59.3 322.9,64.5 323.0,67.7 323.1,57.9 323.2,66.1 323.3,60.2 323.4,60.2 323.5,64.5 323.6,64.7 323.7,66.2 323.9,63.4 324.0,59.3 324.1,60.0 324.2,62.1 324.3,57.4 324.4,62.1 324.5,61.4 324.6,70.0 324.7,61.4 324.8,58.6 324.9,72.9 325.0,56.7 325.1,65.7 325.2,75.7 325.3,56.5 325.4,64.6 325.5,58.3 325.6,67.9 325.7,63.5 325.8,69.8 325.9,67.6 326.0,67.8 326.1,75.5 326.2,76.2 326.3,79.4 326.4,80.2 326.6,70.3 326.7,80.9 326.8,72.4 326.9,80.9 327.0,76.5 327.1,86.3 327.2,82.5 327.3,82.0 327.4,84.9 327.5,86.2 327.6,80.6 327.7,86.1 327.8,81.3 327.9,89.2 328.0,84.9 328.1,89.1 328.2,87.5 328.3,96.4 328.4,98.0 328.5,91.3 328.6,96.6 328.7,101.7 328.8,98.7 328.9,93.0 329.0,99.8 329.1,102.9 329.2,105.2 329.4,101.1 329.5,112.3 329.6,107.7 329.7,108.7 329.8,105.8 329.9,111.8 330.0,106.8 330.1,109.3 330.2,115.9 330.3,114.2 330.4,116.3 330.5,121.5 330.6,125.1 330.7,121.9 330.8,129.7 330.9,126.8 331.0,124.8 331.1,135.3 331.2,132.2 331.3,128.7 331.4,135.8 331.5,136.0 331.6,134.8 331.7,137.9 331.8,140.3 331.9,143.1 332.1,147.9 332.2,139.1 332.3,147.5 332.4,144.1 332.5,150.2 332.6,148.2 332.7,152.2 332.8,153.9 332.9,156.2 333.0,158.2 333.1,163.1 333.2,157.3 333.3,157.8 333.4,165.0 333.5,158.9 333.6,166.3 333.7,166.2 333.8,169.1 333.9,169.6 334.0,175.4 334.1,173.5 334.2,172.7 334.3,175.6 334.4,176.3 334.5,178.3 334.6,175.6 334.7,179.8 334.9,181.4 335.0,183.3 335.1,185.3 335.2,185.7 335.3,189.9 335.4,192.3 335.5,195.4 335.6,189.4 335.7,196.4 335.8,198.9 335.9,199.4 336.0,200.9 336.1,201.8 336.2,204.1 336.3,205.8 336.4,202.4 336.5,199.3 336.6,204.3 336.7,201.4 336.8,202.3 336.9,208.2 337.0,204.4 337.1,199.4 337.2,203.1 337.3,205.7 337.4,204.7 337.6,204.9 337.7,204.1 337.8,205.1 337.9,201.8 338.0,206.0 338.1,200.2 338.2,204.8 338.3,201.5 338.4,202.3 338.5,203.0 338.6,202.7 338.7,203.9 338.8,202.3 338.9,204.2 339.0,199.8 339.1,199.2 339.2,201.8 339.3,199.9 339.4,205.6 339.5,201.2 339.6,204.4 339.7,199.1 339.8,198.3 339.9,201.2 340.0,200.3 340.1,205.6 340.3,199.8 340.4,201.8 340.5,201.9 340.6,200.9 340.7,199.9 340.8,204.1 340.9,203.5 341.0,206.1 341.1,205.4 341.2,208.6 341.3,203.6 341.4,204.2 341.5,205.4 341.6,205.0 341.7,203.6 341.8,200.4 341.9,201.2 342.0,202.8 342.1,203.7 342.2,200.4 342.3,202.0 342.4,202.2 342.5,200.2 342.6,202.8 342.7,203.0 342.8,198.9 342.9,205.5 343.1,199.1 343.2,199.7 343.3,201.5 343.4,200.0 343.5,204.3 343.6,203.0 343.7,201.7 343.8,202.5 343.9,200.1 344.0,205.0 344.1,201.5 344.2,203.5 344.3,200.6 344.4,203.6 344.5,203.2 344.6,202.0 344.7,200.7 344.8,203.9 344.9,202.3 345.0,200.9 345.1,202.5 345.2,202.6 345.3,200.0 345.4,203.6 345.5,203.8 345.6,199.5 345.8,201.9 345.9,203.3 346.0,204.4 346.1,200.3 346.2,203.0 346.3,200.1 346.4,198.8 346.5,200.4 346.6,203.4 346.7,202.1 346.8,204.8 346.9,202.8 347.0,201.0 347.1,203.3 347.2,201.5 347.3,200.9 347.4,198.8 347.5,204.9 347.6,196.0 347.7,203.3 347.8,200.9 347.9,201.7 348.0,201.1 348.1,200.3 348.2,203.8 348.3,203.4 348.4,201.0 348.6,203.5 348.7,202.6 348.8,198.0 348.9,203.2 349.0,201.2 349.1,203.6 349.2,202.4 349.3,199.5 349.4,201.9 349.5,198.0 349.6,204.6 349.7,199.4 349.8,202.7 349.9,202.4 350.0,201.6 350.1,203.0 350.2,200.7 350.3,203.6 350.4,201.0 350.5,201.2 350.6,204.3 350.7,197.8 350.8,192.7 350.9,193.4 351.0,193.4 351.1,190.1 351.3,192.9 351.4,187.2 351.5,182.5 351.6,182.5 351.7,182.8 351.8,184.3 351.9,175.6 352.0,176.1 352.1,178.5 352.2,174.2 352.3,176.9 352.4,173.8 352.5,171.1 352.6,168.6 352.7,173.8 352.8,166.4 352.9,162.9 353.0,160.6 353.1,149.8 353.2,160.0 353.3,155.4 353.4,153.9 353.5,157.1 353.6,152.9 353.7,148.4 353.8,151.8 353.9,144.5 354.1,133.5 354.2,146.7 354.3,144.9 354.4,137.0 354.5,138.4 354.6,134.2 354.7,137.4 354.8,130.7 354.9,134.4 355.0,128.1 355.1,129.2 355.2,128.9 355.3,132.1 355.4,124.4 355.5,121.7 355.6,121.8 355.7,109.5 355.8,107.0 355.9,118.2 356.0,113.3 356.1,117.7 356.2,114.3 356.3,108.3 356.4,105.9 356.5,110.5 356.6,106.2 356.8,103.8 356.9,108.5 357.0,105.7 357.1,98.4 357.2,99.2 357.3,94.8 357.4,100.1 357.5,96.6 357.6,93.8 357.7,89.9 357.8,93.6 357.9,84.0 358.0,87.4 358.1,80.0 358.2,80.3 358.3,83.5 358.4,79.7 358.5,78.2 358.6,73.0 358.7,76.5 358.8,84.8 358.9,74.8 359.0,70.6 359.1,78.0 359.2,75.0 359.3,68.9 359.5,79.1 359.6,71.8 359.7,75.2 359.8,71.8 359.9,68.5 360.0,64.0 360.1,71.7 360.2,63.8 360.3,71.6 360.4,65.1 360.5,54.1 360.6,65.9 360.7,60.1 360.8,60.1 360.9,42.7 361.0,56.5 361.1,53.8 361.2,71.9 361.3,62.5 361.4,57.3 361.5,61.4 361.6,59.7 361.7,58.5 361.8,34.5 361.9,48.5 362.0,58.5 362.1,63.6 362.3,61.9 362.4,53.9 362.5,54.5 362.6,62.7 362.7,60.4 362.8,67.8 362.9,62.0 363.0,60.3 363.1,61.7 363.2,53.9 363.3,59.7 363.4,69.1 363.5,65.5 363.6,65.5 363.7,66.5 363.8,57.1 363.9,68.7 364.0,63.4 364.1,73.8 364.2,65.0 364.3,73.8 364.4,67.2 364.5,70.6 364.6,77.9 364.7,75.8 364.8,76.6 365.0,76.5 365.1,75.7 365.2,76.1 365.3,80.5 365.4,84.4 365.5,83.0 365.6,79.5 365.7,84.7 365.8,80.2 365.9,85.4 366.0,89.2 366.1,83.3 366.2,95.2 366.3,95.7 366.4,98.5 366.5,88.0 366.6,91.4 366.7,97.0 366.8,94.9 366.9,101.9 367.0,100.5 367.1,97.9 367.2,97.7 367.3,100.0 367.4,106.9 367.5,111.1 367.6,113.4 367.8,114.7 367.9,107.7 368.0,107.1 368.1,109.8 368.2,117.1 368.3,110.8 368.4,113.8 368.5,124.6 368.6,120.8 368.7,117.3 368.8,125.1 368.9,126.1 369.0,133.0 369.1,130.4 369.2,132.2 369.3,135.3 369.4,134.0 369.5,140.5 369.6,131.9 369.7,142.1 369.8,134.9 369.9,143.0 370.0,137.9 370.1,142.6 370.2,143.3 370.3,145.2 370.5,145.8 370.6,155.5 370.7,157.8 370.8,153.0 370.9,133.0 371.0,160.1 371.1,156.3 371.2,156.3 371.3,163.2 371.4,165.6 371.5,164.1 371.6,167.2 371.7,168.9 371.8,165.5 371.9,172.6 372.0,172.4 372.1,160.7 372.2,175.1 372.3,177.8 372.4,181.6 372.5,178.4 372.6,181.2 372.7,183.6 372.8,183.5 372.9,182.5 373.0,184.0 373.1,188.1 373.3,188.3 373.4,191.3 373.5,195.3 373.6,193.6 373.7,198.0 373.8,195.9 373.9,199.8 374.0,197.0 374.1,196.0 374.2,194.6 374.3,197.8 374.4,192.6 374.5,194.4 374.6,198.4 374.7,193.8 374.8,195.5 374.9,197.0 375.0,196.0 375.1,194.2 375.2,189.9 375.3,194.9 375.4,194.0 375.5,192.5 375.6,196.8 375.7,196.1 375.8,196.0 376.0,197.0 376.1,193.7 376.2,197.4 376.3,194.6 376.4,190.2 376.5,199.1 376.6,196.6 376.7,197.6 376.8,190.9 376.9,200.0 377.0,194.6 377.1,198.8 377.2,201.3 377.3,197.5 377.4,191.8 377.5,195.6 377.6,194.6 377.7,197.1 377.8,193.0 377.9,197.3 378.0,194.3 378.1,196.1 378.2,196.9 378.3,196.7 378.4,192.4 378.5,196.0 378.7,196.2 378.8,193.8 378.9,195.6 379.0,199.3 379.1,192.9 379.2,184.3 379.3,192.6 379.4,194.0 379.5,198.0 379.6,195.0 379.7,199.2 379.8,193.5 379.9,195.7 380.0,194.9 380.1,196.1 380.2,197.6 380.3,192.1 380.4,193.7 380.5,194.8 380.6,191.8 380.7,196.3 380.8,196.8 380.9,194.2 381.0,196.2 381.1,192.8 381.2,196.8 381.3,197.0 381.5,193.4 381.6,193.3 381.7,193.0 381.8,194.2 381.9,193.6 382.0,194.8 382.1,196.4 382.2,197.2 382.3,195.6 382.4,196.7 382.5,192.8 382.6,196.9 382.7,194.4 382.8,194.1 382.9,197.3 383.0,194.6 383.1,197.0 383.2,192.9 383.3,196.4 383.4,196.4 383.5,190.7 383.6,194.8 383.7,193.8 383.8,194.1 383.9,195.3 384.0,196.2 384.2,197.2 384.3,192.6 384.4,197.4 384.5,196.3 384.6,193.9 384.7,193.9 384.8,197.0 384.9,198.6 385.0,197.0 385.1,195.2 385.2,194.1 385.3,194.7 385.4,199.3 385.5,194.2 385.6,195.5 385.7,195.2 385.8,196.8 385.9,194.3 386.0,196.5 386.1,194.4 386.2,197.0 386.3,193.5 386.4,199.5 386.5,194.7 386.6,198.0 386.7,192.4 386.8,199.2 387.0,196.1 387.1,194.7 387.2,197.7 387.3,190.1 387.4,192.9 387.5,194.8 387.6,194.3 387.7,194.3 387.8,192.3 387.9,197.3 388.0,191.0 388.1,196.8 388.2,196.1 388.3,195.1 388.4,195.9 388.5,194.4 388.6,193.1 388.7,198.4 388.8,196.7 388.9,195.5 389.0,192.3 389.1,191.3 389.2,187.0 389.3,188.7 389.4,187.1 389.5,185.0 389.7,179.6 389.8,184.2 389.9,181.1 390.0,176.0 390.1,175.0 390.2,169.9 390.3,175.3 390.4,170.6 390.5,168.3 390.6,163.6 390.7,164.9 390.8,163.8 390.9,163.6 391.0,158.6 391.1,162.1 391.2,159.6 391.3,153.5 391.4,155.0 391.5,151.6 391.6,152.7 391.7,148.4 391.8,149.4 391.9,145.5 392.0,144.5 392.1,144.5 392.2,144.8 392.3,137.5 392.5,135.8 392.6,135.8 392.7,138.9 392.8,126.3 392.9,126.5 393.0,129.3 393.1,125.9 393.2,121.5 393.3,120.0 393.4,122.7 393.5,117.4 393.6,120.3 393.7,115.8 393.8,119.7 393.9,113.6 394.0,111.2 394.1,114.0 394.2,108.4 394.3,109.5 394.4,104.5 394.5,99.2 394.6,103.9 394.7,99.9 394.8,106.1 394.9,99.1 395.0,99.5 395.2,102.0 395.3,82.7 395.4,87.4 395.5,90.2 395.6,83.5 395.7,88.5 395.8,90.1 395.9,90.0 396.0,83.9 396.1,78.3 396.2,58.8 396.3,75.9 396.4,77.1 396.5,69.2 396.6,76.6 396.7,72.7 396.8,63.0 396.9,69.2 397.0,57.1 397.1,70.8 397.2,63.6 397.3,70.5 397.4,62.8 397.5,60.7 397.6,62.7 397.7,64.5 397.8,65.9 398.0,54.2 398.1,58.0 398.2,62.6 398.3,54.6 398.4,58.4 398.5,57.3 398.6,43.3 398.7,57.4 398.8,43.7 398.9,55.1 399.0,55.0 399.1,59.3 399.2,55.8 399.3,56.1 399.4,52.9 399.5,55.6 399.6,51.3 399.7,51.7 399.8,49.3 399.9,50.7 400.0,51.3 400.1,42.9 400.2,57.5 400.3,51.3 400.4,53.9 400.5,53.2 400.7,64.4 400.8,65.4 400.9,58.0 401.0,40.2 401.1,55.9 401.2,60.4 401.3,59.8 401.4,58.7 401.5,61.1 401.6,59.2 401.7,67.6 401.8,66.3 401.9,64.8 402.0,68.4 402.1,58.9 402.2,67.3 402.3,70.7 402.4,68.2 402.5,68.6 402.6,76.1 402.7,68.8 402.8,74.6 402.9,81.9 403.0,79.7 403.1,76.5 403.2,81.0 403.4,81.0 403.5,79.0 403.6,83.3 403.7,94.9 403.8,81.1 403.9,90.1 404.0,87.3 404.1,91.7 404.2,97.4 404.3,95.4 404.4,100.9 404.5,95.0 404.6,93.9 404.7,102.7 404.8,98.0 404.9,104.2 405.0,106.1 405.1,104.6 405.2,107.6 405.3,105.7 405.4,111.4 405.5,107.0 405.6,119.2 405.7,118.1 405.8,119.9 405.9,121.9 406.0,121.8 406.2,124.2 406.3,123.8 406.4,132.7 406.5,133.7 406.6,123.7 406.7,131.8 406.8,135.6 406.9,131.5 407.0,133.7 407.1,134.6 407.2,143.7 407.3,143.2 407.4,131.6 407.5,144.1 407.6,146.7 407.7,147.4 407.8,134.2 407.9,159.8 408.0,146.6 408.1,153.9 408.2,155.0 408.3,156.1 408.4,158.1 408.5,164.8 408.6,170.5 408.7,158.6 408.9,166.4 409.0,171.9 409.1,169.6 409.2,171.2 409.3,176.0 409.4,175.6 409.5,176.1 409.6,182.6 409.7,182.3 409.8,186.4 409.9,185.8 410.0,176.5 410.1,188.6 410.2,192.1 410.3,191.7 410.4,186.0 410.5,192.6 410.6,194.9 410.7,195.9 410.8,202.2 410.9,194.2 411.0,192.7 411.1,196.4 411.2,195.9 411.3,197.4 411.4,196.6 411.5,192.7 411.7,195.7 411.8,194.3 411.9,194.7 412.0,197.5 412.1,194.3 412.2,197.5 412.3,195.2 412.4,194.6 412.5,195.7 412.6,197.0 412.7,197.6 412.8,194.9 412.9,196.0 413.0,194.2 413.1,189.7 413.2,197.4 413.3,190.1 413.4,196.8 413.5,193.8 413.6,194.0 413.7,194.5 413.8,197.7 413.9,195.1 414.0,191.7 414.1,198.3 414.2,192.2 414.4,196.3 414.5,196.4 414.6,190.6 414.7,194.8 414.8,195.0 414.9,196.8 415.0,194.1 415.1,190.9 415.2,196.9 415.3,198.5 415.4,190.7 415.5,196.0 415.6,197.9 415.7,196.4 415.8,196.6 415.9,193.3 416.0,195.2 416.1,193.9 416.2,196.5 416.3,197.0 416.4,196.6 416.5,194.1 416.6,194.5 416.7,196.3 416.8,193.0 416.9,195.8 417.0,195.9 417.2,194.5 417.3,193.5 417.4,196.9 417.5,195.6 417.6,195.9 417.7,195.1 417.8,196.8 417.9,196.1 418.0,198.0 418.1,194.8 418.2,195.6 418.3,195.0 418.4,195.3 418.5,199.2 418.6,193.7 418.7,196.2 418.8,193.7 418.9,197.8 419.0,194.3 419.1,196.2 419.2,194.6 419.3,194.9 419.4,196.0 419.5,197.9 419.6,197.2 419.7,194.8 419.9,196.4 420.0,197.5 420.1,195.7 420.2,196.0 420.3,195.7 420.4,191.7 420.5,196.7 420.6,191.9 420.7,194.0 420.8,196.8 420.9,192.8 421.0,193.8 421.1,195.3 421.2,197.4 421.3,191.1 421.4,196.3 421.5,196.9 421.6,198.2 421.7,191.6 421.8,194.3 421.9,194.0 422.0,189.6 422.1,194.1 422.2,198.8 422.3,198.4 422.4,193.9 422.6,195.1 422.7,195.9 422.8,196.7 422.9,198.6 423.0,198.9 423.1,196.8 423.2,197.4 423.3,195.2 423.4,193.1 423.5,195.3 423.6,198.0 423.7,197.4 423.8,199.0 423.9,197.9 424.0,196.1 424.1,193.8 424.2,195.6 424.3,195.6 424.4,194.6 424.5,195.8 424.6,194.9 424.7,194.8 424.8,199.8 424.9,196.5 425.0,198.2 425.1,198.7 425.2,196.2 425.4,199.6 425.5,195.5 425.6,196.4 425.7,200.2 425.8,195.5 425.9,195.8 426.0,196.9 426.1,200.1 426.2,197.8 426.3,196.4 426.4,192.9 426.5,191.9 426.6,189.8 426.7,191.1 426.8,183.3 426.9,182.8 427.0,184.4 427.1,181.5 427.2,188.6 427.3,182.7 427.4,177.3 427.5,179.3 427.6,175.1 427.7,168.7 427.8,173.7 427.9,168.6 428.1,168.4 428.2,168.0 428.3,159.4 428.4,164.9 428.5,162.8 428.6,155.4 428.7,158.8 428.8,153.3 428.9,159.1 429.0,149.7 429.1,152.3 429.2,150.8 429.3,148.9 429.4,147.0 429.5,144.4 429.6,144.8 429.7,132.8 429.8,137.9 429.9,135.0 430.0,136.0 430.1,135.0 430.2,130.4 430.3,127.5 430.4,129.5 430.5,129.9 430.6,123.6 430.7,113.5 430.9,117.2 431.0,115.3 431.1,119.7 431.2,123.6 431.3,115.9 431.4,116.4 431.5,112.8 431.6,113.0 431.7,114.5 431.8,111.4 431.9,90.2 432.0,107.4 432.1,103.5 432.2,104.8 432.3,102.7 432.4,92.0 432.5,95.5 432.6,98.0 432.7,93.4 432.8,93.1 432.9,93.2 433.0,80.5 433.1,89.6 433.2,97.7 433.3,88.4 433.4,78.8 433.6,84.0 433.7,78.6 433.8,81.6 433.9,85.3 434.0,76.4 434.1,76.5 434.2,83.3 434.3,76.6 434.4,76.4 434.5,73.5 434.6,68.2 434.7,78.4 434.8,63.4 434.9,66.7 435.0,68.4 435.1,61.7 435.2,66.9 435.3,67.5 435.4,62.2 435.5,64.9 435.6,63.0 435.7,50.5 435.8,55.6 435.9,59.8 436.0,53.4 436.1,58.9 436.2,54.7 436.4,59.3 436.5,57.0 436.6,45.3 436.7,51.2 436.8,59.3 436.9,53.4 437.0,56.8 437.1,55.6 437.2,62.4 437.3,49.4 437.4,47.8 437.5,49.6 437.6,43.5 437.7,46.0 437.8,42.1 437.9,43.0 438.0,53.2 438.1,48.0 438.2,56.2 438.3,48.4 438.4,42.0 438.5,64.1 438.6,34.8 438.7,56.8 438.8,54.3 438.9,52.8 439.1,53.4 439.2,56.3 439.3,51.4 439.4,64.1 439.5,66.9 439.6,53.8 439.7,63.7 439.8,60.7 439.9,59.0 440.0,63.8 440.1,64.2 440.2,67.3 440.3,63.9 440.4,65.3 440.5,72.3 440.6,63.7 440.7,63.1 440.8,65.4 440.9,75.0 441.0,70.6 441.1,73.7 441.2,76.7 441.3,74.7 441.4,79.6 441.5,72.4 441.6,77.7 441.8,82.9 441.9,85.7 442.0,80.3 442.1,84.6 442.2,89.0 442.3,84.2 442.4,86.3 442.5,91.5 442.6,94.2 442.7,88.7 442.8,100.0 442.9,102.5 443.0,98.3 443.1,95.8 443.2,104.1 443.3,104.6 443.4,106.7 443.5,102.1 443.6,107.0 443.7,107.7 443.8,111.9 443.9,109.3 444.0,120.8 444.1,115.6 444.2,113.7 444.3,119.8 444.4,123.6 444.6,120.2 444.7,126.9 444.8,123.2 444.9,129.2 445.0,129.3 445.1,126.7 445.2,134.6 445.3,130.5 445.4,134.1 445.5,134.5 445.6,136.8 445.7,140.2 445.8,144.1 445.9,147.5 446.0,144.5 446.1,149.9 446.2,146.1 446.3,152.1 446.4,148.6 446.5,150.7 446.6,152.4 446.7,159.5 446.8,153.4 446.9,162.0 447.0,164.2 447.1,162.3 447.3,164.9 447.4,170.8 447.5,163.0 447.6,171.6 447.7,170.9 447.8,173.7 447.9,173.4 448.0,177.7 448.1,175.9 448.2,183.7 448.3,178.8 448.4,183.5 448.5,182.6 448.6,187.4 448.7,188.9 448.8,185.6 448.9,190.8 449.0,190.3 449.1,190.8 449.2,195.7 449.3,193.1 449.4,191.7 449.5,192.8 449.6,196.0 449.7,193.1 449.8,197.6 449.9,196.9 450.1,195.0 450.2,193.5 450.3,198.5 450.4,198.0 450.5,196.1 450.6,197.1 450.7,198.0 450.8,196.6 450.9,192.3 451.0,198.3 451.1,194.2 451.2,186.5 451.3,199.0 451.4,197.7 451.5,199.6 451.6,195.3 451.7,196.1 451.8,197.3 451.9,195.1 452.0,197.7 452.1,197.1 452.2,194.9 452.3,198.0 452.4,199.5 452.5,194.1 452.6,199.0 452.8,197.5 452.9,194.0 453.0,190.7 453.1,197.1 453.2,196.4 453.3,194.7 453.4,193.9 453.5,197.9 453.6,193.2 453.7,194.5 453.8,193.7 453.9,194.3 454.0,192.8 454.1,193.4 454.2,196.7 454.3,193.0 454.4,196.0 454.5,201.1 454.6,195.8 454.7,196.9 454.8,195.9 454.9,195.6 455.0,197.9 455.1,196.7 455.2,198.1 455.3,195.2 455.4,196.8 455.6,195.4 455.7,188.9 455.8,197.2 455.9,194.9 456.0,194.1 456.1,195.4 456.2,183.7 456.3,189.6 456.4,195.3 456.5,194.4 456.6,196.3 456.7,192.5 456.8,194.5 456.9,193.9 457.0,196.5 457.1,194.4 457.2,196.7 457.3,196.2 457.4,192.0 457.5,196.0 457.6,194.9 457.7,198.7 457.8,195.1 457.9,195.2 458.0,197.9 458.1,189.4 458.3,195.5 458.4,196.9 458.5,196.4 458.6,197.4 458.7,195.1 458.8,197.0 458.9,196.0 459.0,193.6 459.1,195.4 459.2,195.4 459.3,196.0 459.4,194.3 459.5,196.8 459.6,197.8 459.7,196.2 459.8,198.9 459.9,197.3 460.0,193.2 460.1,195.0 460.2,197.4 460.3,197.1 460.4,196.1 460.5,196.8 460.6,194.5 460.7,196.3 460.8,196.9 460.9,201.5 461.1,192.3 461.2,197.6 461.3,195.0 461.4,195.2 461.5,193.9 461.6,196.2 461.7,197.1 461.8,196.6 461.9,193.9 462.0,197.1 462.1,198.4 462.2,195.5 462.3,198.7 462.4,199.0 462.5,198.1 462.6,196.5 462.7,197.3 462.8,198.5 462.9,193.3 463.0,196.0 463.1,198.8 463.2,199.4 463.3,196.9 463.4,198.3 463.5,198.1 463.6,196.3 463.8,193.6 463.9,188.5 464.0,189.9 464.1,183.5 464.2,184.2 464.3,184.4 464.4,182.4 464.5,180.9 464.6,179.5 464.7,175.3 464.8,184.6 464.9,180.7 465.0,173.7 465.1,180.6 465.2,168.7 465.3,171.1 465.4,164.9 465.5,168.0 465.6,161.5 465.7,159.8 465.8,164.0 465.9,158.8 466.0,161.7 466.1,155.5 466.2,157.3 466.3,155.9 466.5,159.1 466.6,156.3 466.7,150.0 466.8,144.1 466.9,155.0 467.0,151.3 467.1,153.0 467.2,144.3 467.3,146.8 467.4,147.9 467.5,137.6 467.6,138.9 467.7,144.7 467.8,135.8 467.9,132.4 468.0,130.0 468.1,139.5 468.2,131.6 468.3,124.4 468.4,126.2 468.5,127.6 468.6,126.5 468.7,121.9 468.8,117.8 468.9,122.7 469.0,119.6 469.1,118.6 469.3,117.7 469.4,108.3 469.5,107.2 469.6,105.9 469.7,111.4 469.8,110.2 469.9,105.2 470.0,109.8 470.1,114.2 470.2,104.3 470.3,100.2 470.4,105.3 470.5,99.6 470.6,95.5 470.7,92.2 470.8,103.8 470.9,98.6 471.0,92.2 471.1,93.6 471.2,88.8 471.3,93.7 471.4,93.0 471.5,84.3 471.6,87.5 471.7,89.3 471.8,83.6 472.0,77.0 472.1,89.6 472.2,87.1 472.3,86.4 472.4,81.1 472.5,78.9 472.6,77.7 472.7,79.4 472.8,77.4 472.9,79.0 473.0,70.4 473.1,75.4 473.2,71.4 473.3,73.5 473.4,70.8 473.5,72.2 473.6,70.6 473.7,68.6 473.8,66.0 473.9,66.2 474.0,63.9 474.1,65.3 474.2,61.8 474.3,64.7 474.4,68.2 474.5,69.8 474.6,61.2 474.8,69.0 474.9,57.9 475.0,55.8 475.1,57.9 475.2,59.0 475.3,60.0 475.4,59.2 475.5,61.7 475.6,66.2 475.7,56.7 475.8,58.2 475.9,64.9 476.0,70.5 476.1,62.9 476.2,60.6 476.3,59.0 476.4,67.6 476.5,64.2 476.6,66.7 476.7,59.7 476.8,67.4 476.9,65.8 477.0,77.9 477.1,69.4 477.2,70.5 477.3,68.9 477.5,68.0 477.6,70.0 477.7,78.7 477.8,64.5 477.9,70.3 478.0,74.9 478.1,66.5 478.2,69.7 478.3,74.8 478.4,76.6 478.5,80.9 478.6,86.3 478.7,78.2 478.8,81.1 478.9,81.5 479.0,85.4 479.1,81.6 479.2,88.6 479.3,85.7 479.4,88.7 479.5,95.2 479.6,92.6 479.7,97.0 479.8,91.2 479.9,90.1 480.0,93.6 480.1,88.8 480.3,96.2 480.4,103.1 480.5,101.5 480.6,103.9 480.7,111.3 480.8,106.3 480.9,104.0 481.0,108.1 481.1,101.1 481.2,110.9 481.3,101.9 481.4,113.6 481.5,104.0 481.6,113.6 481.7,116.7 481.8,113.8 481.9,115.7 482.0,123.3 482.1,118.1 482.2,117.8 482.3,120.4 482.4,129.4 482.5,122.0 482.6,125.5 482.7,128.7 482.8,134.1 483.0,131.1 483.1,139.8 483.2,139.3 483.3,132.8 483.4,140.5 483.5,136.7 483.6,138.3 483.7,123.8 483.8,141.4 483.9,149.4 484.0,145.1 484.1,150.6 484.2,147.9 484.3,153.3 484.4,151.7 484.5,152.6 484.6,158.3 484.7,156.3 484.8,155.5 484.9,158.1 485.0,161.9 485.1,158.9 485.2,158.2 485.3,168.1 485.4,165.7 485.5,163.0 485.7,169.8 485.8,171.8 485.9,172.9 486.0,178.3 486.1,175.6 486.2,176.8 486.3,179.0 486.4,181.6 486.5,180.6 486.6,180.9 486.7,185.4 486.8,179.8 486.9,186.2 487.0,190.2 487.1,187.0 487.2,190.0 487.3,191.8 487.4,194.1 487.5,201.1 487.6,196.4 487.7,197.7 487.8,197.3 487.9,199.1 488.0,199.7 488.1,191.2 488.2,195.7 488.3,194.4 488.5,200.0 488.6,197.7 488.7,197.6 488.8,199.7 488.9,190.3 489.0,194.2 489.1,194.5 489.2,196.0 489.3,196.4 489.4,199.4 489.5,198.4 489.6,194.9 489.7,196.2 489.8,200.5 489.9,202.9 490.0,195.2 490.1,194.5 490.2,197.7 490.3,197.7 490.4,200.8 490.5,196.2 490.6,202.0 490.7,199.6 490.8,197.9 490.9,196.4 491.0,198.0 491.2,193.3 491.3,198.3 491.4,197.4 491.5,194.7 491.6,197.2 491.7,201.1 491.8,194.4 491.9,197.3 492.0,200.2 492.1,199.8 492.2,197.7 492.3,196.1 492.4,196.2 492.5,193.6 492.5,246.1 492.4,236.2 492.3,234.8 492.2,234.5 492.1,238.0 492.0,233.4 491.9,237.6 491.8,234.0 491.7,235.5 491.6,233.9 491.5,239.8 491.4,235.7 491.3,232.3 491.2,229.6 491.0,232.3 490.9,232.3 490.8,232.2 490.7,234.8 490.6,234.6 490.5,232.1 490.4,235.8 490.3,233.2 490.2,228.6 490.1,232.6 490.0,237.3 489.9,230.9 489.8,229.2 489.7,229.6 489.6,229.3 489.5,229.9 489.4,226.7 489.3,233.1 489.2,228.7 489.1,229.3 489.0,229.8 488.9,233.3 488.8,229.0 488.7,226.2 488.6,229.4 488.5,228.1 488.3,226.5 488.2,225.4 488.1,226.3 488.0,224.4 487.9,227.0 487.8,225.4 487.7,226.0 487.6,227.5 487.5,223.2 487.4,226.5 487.3,223.2 487.2,224.3 487.1,220.3 487.0,230.6 486.9,218.4 486.8,217.5 486.7,215.2 486.6,212.7 486.5,220.5 486.4,215.8 486.3,212.9 486.2,211.1 486.1,208.6 486.0,210.5 485.9,213.1 485.8,209.2 485.7,207.2 485.5,222.3 485.4,205.1 485.3,203.9 485.2,205.6 485.1,203.0 485.0,200.8 484.9,214.5 484.8,199.7 484.7,200.1 484.6,202.9 484.5,197.2 484.4,198.2 484.3,190.7 484.2,195.5 484.1,196.1 484.0,191.9 483.9,186.5 483.8,194.6 483.7,194.1 483.6,184.3 483.5,194.1 483.4,190.3 483.3,187.5 483.2,194.6 483.1,186.0 483.0,218.3 482.8,190.9 482.7,179.9 482.6,180.0 482.5,178.4 482.4,185.2 482.3,181.8 482.2,180.1 482.1,189.0 482.0,170.2 481.9,176.0 481.8,174.5 481.7,178.7 481.6,171.5 481.5,173.3 481.4,173.7 481.3,174.4 481.2,170.6 481.1,171.9 481.0,168.9 480.9,176.2 480.8,163.8 480.7,166.9 480.6,173.6 480.5,166.4 480.4,161.5 480.3,161.0 480.1,158.0 480.0,176.1 479.9,161.5 479.8,169.0 479.7,170.1 479.6,164.3 479.5,165.6 479.4,163.0 479.3,164.0 479.2,157.7 479.1,162.4 479.0,161.9 478.9,165.1 478.8,162.0 478.7,154.2 478.6,160.5 478.5,151.7 478.4,192.8 478.3,162.1 478.2,178.3 478.1,160.7 478.0,153.0 477.9,159.8 477.8,154.8 477.7,165.3 477.6,156.0 477.5,151.3 477.3,152.5 477.2,159.5 477.1,153.0 477.0,158.1 476.9,160.1 476.8,151.4 476.7,154.1 476.6,174.2 476.5,155.6 476.4,154.7 476.3,151.6 476.2,150.0 476.1,156.4 476.0,144.9 475.9,151.4 475.8,149.8 475.7,154.3 475.6,149.9 475.5,156.4 475.4,143.7 475.3,151.2 475.2,151.1 475.1,153.6 475.0,147.6 474.9,148.6 474.8,173.1 474.6,154.7 474.5,151.0 474.4,153.5 474.3,157.9 474.2,151.3 474.1,155.9 474.0,155.3 473.9,154.7 473.8,156.4 473.7,156.7 473.6,159.9 473.5,152.1 473.4,147.2 473.3,163.4 473.2,158.6 473.1,161.3 473.0,169.1 472.9,160.8 472.8,158.1 472.7,179.2 472.6,151.1 472.5,161.0 472.4,153.7 472.3,163.7 472.2,160.3 472.1,165.5 472.0,170.8 471.8,168.3 471.7,174.2 471.6,161.7 471.5,160.2 471.4,167.7 471.3,168.3 471.2,166.4 471.1,165.9 471.0,161.9 470.9,167.9 470.8,217.5 470.7,167.5 470.6,171.8 470.5,169.9 470.4,158.7 470.3,190.5 470.2,174.8 470.1,167.8 470.0,180.1 469.9,165.4 469.8,171.5 469.7,175.9 469.6,176.7 469.5,176.9 469.4,172.1 469.3,176.1 469.1,183.1 469.0,174.9 468.9,176.5 468.8,175.4 468.7,183.2 468.6,178.8 468.5,181.6 468.4,183.1 468.3,189.8 468.2,184.8 468.1,183.1 468.0,189.2 467.9,186.3 467.8,185.1 467.7,188.3 467.6,191.8 467.5,191.8 467.4,192.8 467.3,200.8 467.2,188.1 467.1,198.1 467.0,189.6 466.9,197.2 466.8,197.3 466.7,202.1 466.6,197.2 466.5,195.8 466.3,201.0 466.2,200.9 466.1,203.7 466.0,200.7 465.9,212.1 465.8,204.7 465.7,203.5 465.6,205.9 465.5,205.5 465.4,209.2 465.3,205.6 465.2,210.7 465.1,208.5 465.0,211.0 464.9,214.3 464.8,214.9 464.7,215.5 464.6,215.3 464.5,213.5 464.4,218.2 464.3,223.3 464.2,216.4 464.1,226.1 464.0,222.9 463.9,222.9 463.8,227.6 463.6,222.9 463.5,223.3 463.4,225.8 463.3,226.8 463.2,225.3 463.1,231.3 463.0,227.6 462.9,228.4 462.8,226.2 462.7,226.3 462.6,228.4 462.5,237.4 462.4,231.0 462.3,232.1 462.2,230.8 462.1,229.6 462.0,226.6 461.9,229.8 461.8,226.9 461.7,228.2 461.6,228.8 461.5,229.0 461.4,227.5 461.3,234.2 461.2,230.8 461.1,232.6 460.9,251.3 460.8,232.8 460.7,229.7 460.6,234.4 460.5,231.9 460.4,233.2 460.3,239.4 460.2,238.3 460.1,232.4 460.0,230.1 459.9,234.5 459.8,235.7 459.7,236.0 459.6,231.3 459.5,231.6 459.4,233.9 459.3,235.3 459.2,233.4 459.1,231.6 459.0,235.2 458.9,233.9 458.8,235.6 458.7,235.7 458.6,235.5 458.5,236.7 458.4,240.7 458.3,234.6 458.1,236.2 458.0,236.0 457.9,236.0 457.8,234.5 457.7,235.2 457.6,238.0 457.5,237.9 457.4,236.1 457.3,233.9 457.2,237.5 457.1,235.2 457.0,234.0 456.9,237.4 456.8,239.0 456.7,237.3 456.6,234.7 456.5,233.7 456.4,234.9 456.3,238.1 456.2,239.0 456.1,238.0 456.0,233.3 455.9,233.9 455.8,240.6 455.7,234.7 455.6,234.0 455.4,235.0 455.3,237.8 455.2,238.4 455.1,234.2 455.0,233.8 454.9,228.9 454.8,237.2 454.7,236.0 454.6,231.9 454.5,236.7 454.4,232.6 454.3,235.0 454.2,233.4 454.1,235.1 454.0,230.9 453.9,231.8 453.8,231.3 453.7,231.6 453.6,236.8 453.5,232.2 453.4,235.8 453.3,231.0 453.2,230.0 453.1,232.5 453.0,233.2 452.9,229.6 452.8,228.6 452.6,234.4 452.5,230.6 452.4,238.6 452.3,231.5 452.2,230.6 452.1,226.8 452.0,229.9 451.9,232.5 451.8,227.6 451.7,236.7 451.6,228.2 451.5,230.9 451.4,237.7 451.3,227.9 451.2,228.3 451.1,230.3 451.0,230.5 450.9,236.0 450.8,225.5 450.7,226.5 450.6,224.8 450.5,228.3 450.4,226.0 450.3,226.3 450.2,237.6 450.1,226.5 449.9,224.8 449.8,233.2 449.7,226.8 449.6,225.9 449.5,227.3 449.4,225.6 449.3,226.0 449.2,225.6 449.1,225.3 449.0,219.9 448.9,221.6 448.8,215.9 448.7,219.0 448.6,218.6 448.5,216.6 448.4,220.0 448.3,219.3 448.2,211.9 448.1,207.3 448.0,214.4 447.9,212.2 447.8,210.5 447.7,206.5 447.6,205.9 447.5,199.3 447.4,212.6 447.3,200.4 447.1,200.2 447.0,205.7 446.9,202.1 446.8,214.5 446.7,201.8 446.6,199.2 446.5,201.3 446.4,205.1 446.3,203.5 446.2,190.3 446.1,192.3 446.0,192.6 445.9,206.9 445.8,190.3 445.7,191.4 445.6,185.5 445.5,187.1 445.4,186.2 445.3,179.7 445.2,181.1 445.1,185.4 445.0,181.5 444.9,182.6 444.8,188.9 444.7,188.3 444.6,192.0 444.4,186.5 444.3,176.5 444.2,175.1 444.1,178.5 444.0,174.4 443.9,183.7 443.8,181.3 443.7,175.0 443.6,169.6 443.5,169.3 443.4,172.3 443.3,165.9 443.2,172.1 443.1,174.0 443.0,184.3 442.9,170.0 442.8,168.0 442.7,163.0 442.6,158.0 442.5,171.8 442.4,159.9 442.3,166.1 442.2,156.0 442.1,162.1 442.0,173.0 441.9,154.2 441.8,157.2 441.6,159.8 441.5,176.5 441.4,154.7 441.3,155.3 441.2,157.4 441.1,156.2 441.0,158.1 440.9,155.5 440.8,151.5 440.7,155.0 440.6,151.4 440.5,147.6 440.4,154.0 440.3,154.4 440.2,148.1 440.1,150.1 440.0,157.7 439.9,151.9 439.8,187.0 439.7,151.1 439.6,146.2 439.5,152.9 439.4,155.2 439.3,142.4 439.2,142.6 439.1,155.2 438.9,150.7 438.8,150.5 438.7,159.5 438.6,143.5 438.5,144.1 438.4,147.0 438.3,158.5 438.2,149.1 438.1,159.7 438.0,140.0 437.9,147.5 437.8,147.1 437.7,156.7 437.6,148.4 437.5,151.3 437.4,162.4 437.3,152.1 437.2,147.9 437.1,151.1 437.0,150.8 436.9,147.2 436.8,141.4 436.7,133.0 436.6,144.9 436.5,160.5 436.4,145.5 436.2,150.2 436.1,148.3 436.0,164.0 435.9,144.1 435.8,156.8 435.7,157.4 435.6,158.4 435.5,145.6 435.4,154.4 435.3,160.6 435.2,154.8 435.1,159.0 435.0,155.1 434.9,167.2 434.8,156.2 434.7,154.6 434.6,149.8 434.5,163.2 434.4,157.8 434.3,154.6 434.2,159.9 434.1,167.9 434.0,161.2 433.9,158.5 433.8,160.0 433.7,158.2 433.6,165.5 433.4,167.0 433.3,159.4 433.2,156.5 433.1,167.4 433.0,161.5 432.9,157.3 432.8,161.9 432.7,160.4 432.6,162.5 432.5,165.3 432.4,167.7 432.3,167.0 432.2,173.2 432.1,177.9 432.0,175.4 431.9,167.3 431.8,166.4 431.7,171.0 431.6,169.3 431.5,169.8 431.4,168.1 431.3,170.0 431.2,174.8 431.1,178.3 431.0,178.3 430.9,178.9 430.7,177.6 430.6,184.4 430.5,182.5 430.4,195.2 430.3,182.8 430.2,188.6 430.1,184.6 430.0,190.3 429.9,187.3 429.8,193.3 429.7,191.5 429.6,193.5 429.5,196.2 429.4,194.6 429.3,193.2 429.2,190.8 429.1,196.2 429.0,197.0 428.9,194.2 428.8,202.5 428.7,209.7 428.6,196.8 428.5,199.6 428.4,203.8 428.3,198.7 428.2,206.6 428.1,203.9 427.9,205.1 427.8,215.3 427.7,208.9 427.6,207.3 427.5,210.0 427.4,212.9 427.3,212.6 427.2,215.1 427.1,214.0 427.0,216.6 426.9,216.6 426.8,214.3 426.7,221.1 426.6,223.2 426.5,222.0 426.4,227.3 426.3,221.2 426.2,228.1 426.1,224.9 426.0,225.7 425.9,226.0 425.8,229.0 425.7,227.4 425.6,226.9 425.5,225.2 425.4,228.2 425.2,226.2 425.1,228.6 425.0,227.0 424.9,226.0 424.8,226.4 424.7,230.2 424.6,226.7 424.5,228.4 424.4,227.3 424.3,230.6 424.2,232.7 424.1,234.5 424.0,231.6 423.9,229.4 423.8,229.6 423.7,233.6 423.6,230.9 423.5,228.7 423.4,231.5 423.3,231.8 423.2,231.9 423.1,225.4 423.0,225.7 422.9,227.5 422.8,233.0 422.7,237.4 422.6,231.0 422.4,233.5 422.3,230.7 422.2,232.0 422.1,235.5 422.0,232.7 421.9,235.7 421.8,230.7 421.7,231.3 421.6,233.0 421.5,233.1 421.4,235.5 421.3,239.5 421.2,232.3 421.1,241.3 421.0,234.2 420.9,236.7 420.8,232.6 420.7,236.0 420.6,233.5 420.5,235.2 420.4,241.5 420.3,238.0 420.2,233.1 420.1,237.7 420.0,235.4 419.9,233.7 419.7,238.5 419.6,240.7 419.5,234.0 419.4,237.4 419.3,242.3 419.2,239.2 419.1,236.4 419.0,235.3 418.9,242.5 418.8,236.2 418.7,250.7 418.6,236.4 418.5,237.0 418.4,237.2 418.3,238.2 418.2,235.4 418.1,235.6 418.0,238.2 417.9,235.8 417.8,233.1 417.7,233.4 417.6,233.6 417.5,230.6 417.4,236.5 417.3,232.7 417.2,237.0 417.0,234.9 416.9,239.0 416.8,236.4 416.7,236.7 416.6,235.2 416.5,233.5 416.4,234.4 416.3,234.0 416.2,233.5 416.1,233.0 416.0,238.0 415.9,230.6 415.8,231.8 415.7,233.2 415.6,232.8 415.5,234.6 415.4,229.8 415.3,231.1 415.2,234.8 415.1,231.9 415.0,228.6 414.9,230.5 414.8,232.1 414.7,235.8 414.6,232.5 414.5,229.8 414.4,232.6 414.2,233.3 414.1,231.4 414.0,228.4 413.9,229.2 413.8,227.9 413.7,230.0 413.6,230.6 413.5,232.2 413.4,232.9 413.3,230.7 413.2,230.6 413.1,225.8 413.0,239.7 412.9,230.7 412.8,226.7 412.7,230.0 412.6,227.1 412.5,225.3 412.4,239.3 412.3,228.2 412.2,230.1 412.1,229.4 412.0,227.7 411.9,236.7 411.8,227.9 411.7,233.9 411.5,226.8 411.4,220.2 411.3,228.0 411.2,226.1 411.1,224.9 411.0,230.1 410.9,232.5 410.8,228.8 410.7,227.7 410.6,223.9 410.5,223.6 410.4,225.7 410.3,223.7 410.2,218.1 410.1,215.3 410.0,230.6 409.9,215.8 409.8,213.6 409.7,217.0 409.6,212.2 409.5,211.8 409.4,213.9 409.3,210.9 409.2,211.6 409.1,219.5 409.0,210.5 408.9,208.9 408.7,205.8 408.6,198.6 408.5,197.3 408.4,200.5 408.3,201.7 408.2,198.8 408.1,195.4 408.0,209.1 407.9,194.5 407.8,200.4 407.7,193.5 407.6,188.5 407.5,198.4 407.4,192.4 407.3,185.1 407.2,192.7 407.1,187.4 407.0,200.4 406.9,186.8 406.8,189.0 406.7,186.7 406.6,178.7 406.5,193.4 406.4,186.1 406.3,183.3 406.2,175.7 406.0,171.0 405.9,180.4 405.8,176.7 405.7,174.6 405.6,171.6 405.5,175.5 405.4,172.0 405.3,169.7 405.2,166.9 405.1,170.2 405.0,164.6 404.9,174.0 404.8,163.7 404.7,173.2 404.6,167.6 404.5,169.4 404.4,159.1 404.3,172.5 404.2,161.7 404.1,174.3 404.0,159.7 403.9,178.2 403.8,163.5 403.7,159.5 403.6,155.8 403.5,176.1 403.4,162.9 403.2,161.8 403.1,165.3 403.0,148.0 402.9,148.4 402.8,156.2 402.7,154.5 402.6,160.1 402.5,162.3 402.4,155.6 402.3,145.7 402.2,152.2 402.1,149.1 402.0,151.3 401.9,151.9 401.8,146.4 401.7,151.7 401.6,155.0 401.5,148.4 401.4,148.3 401.3,149.3 401.2,149.0 401.1,153.6 401.0,146.8 400.9,147.3 400.8,148.3 400.7,153.7 400.5,152.1 400.4,150.6 400.3,147.5 400.2,147.1 400.1,164.5 400.0,147.1 399.9,149.4 399.8,140.8 399.7,155.5 399.6,144.5 399.5,146.5 399.4,137.3 399.3,146.7 399.2,147.8 399.1,149.1 399.0,144.8 398.9,152.1 398.8,148.6 398.7,146.4 398.6,152.7 398.5,149.4 398.4,154.8 398.3,158.0 398.2,151.5 398.1,149.9 398.0,153.2 397.8,146.3 397.7,155.2 397.6,158.9 397.5,156.8 397.4,152.4 397.3,150.5 397.2,148.7 397.1,150.7 397.0,153.7 396.9,160.0 396.8,165.6 396.7,159.3 396.6,152.0 396.5,154.3 396.4,157.4 396.3,152.7 396.2,176.9 396.1,150.5 396.0,172.6 395.9,159.1 395.8,166.6 395.7,166.9 395.6,161.3 395.5,163.6 395.4,157.0 395.3,164.7 395.2,163.6 395.0,164.7 394.9,165.0 394.8,168.7 394.7,164.1 394.6,168.5 394.5,168.3 394.4,174.1 394.3,168.5 394.2,171.3 394.1,172.1 394.0,168.8 393.9,175.4 393.8,169.7 393.7,178.0 393.6,176.1 393.5,178.6 393.4,176.8 393.3,190.1 393.2,178.7 393.1,181.4 393.0,183.5 392.9,182.9 392.8,186.6 392.7,187.3 392.6,181.9 392.5,180.0 392.3,184.8 392.2,186.4 392.1,187.7 392.0,188.5 391.9,188.0 391.8,191.8 391.7,194.3 391.6,204.4 391.5,197.4 391.4,199.2 391.3,200.3 391.2,193.9 391.1,200.5 391.0,210.3 390.9,203.2 390.8,204.4 390.7,203.7 390.6,207.9 390.5,204.4 390.4,214.2 390.3,208.5 390.2,207.7 390.1,212.2 390.0,210.2 389.9,216.0 389.8,215.8 389.7,216.8 389.5,220.5 389.4,225.4 389.3,226.0 389.2,216.9 389.1,222.2 389.0,222.1 388.9,220.8 388.8,226.6 388.7,227.0 388.6,223.9 388.5,227.8 388.4,222.4 388.3,227.9 388.2,237.0 388.1,223.4 388.0,227.8 387.9,232.1 387.8,225.9 387.7,239.1 387.6,230.7 387.5,229.8 387.4,227.3 387.3,236.3 387.2,223.9 387.1,231.7 387.0,227.4 386.8,229.3 386.7,227.9 386.6,231.6 386.5,227.4 386.4,230.4 386.3,227.2 386.2,229.0 386.1,231.2 386.0,226.3 385.9,230.0 385.8,229.1 385.7,235.0 385.6,237.5 385.5,233.7 385.4,230.0 385.3,230.1 385.2,229.8 385.1,232.3 385.0,230.5 384.9,231.6 384.8,232.2 384.7,230.1 384.6,232.0 384.5,228.9 384.4,232.3 384.3,230.7 384.2,230.1 384.0,234.9 383.9,231.6 383.8,232.8 383.7,234.2 383.6,232.2 383.5,233.1 383.4,232.8 383.3,234.2 383.2,229.7 383.1,237.4 383.0,234.9 382.9,239.3 382.8,241.9 382.7,235.0 382.6,243.4 382.5,234.3 382.4,242.8 382.3,238.1 382.2,237.1 382.1,234.9 382.0,233.6 381.9,242.0 381.8,236.0 381.7,239.4 381.6,235.1 381.5,240.4 381.3,237.4 381.2,235.9 381.1,235.2 381.0,238.6 380.9,235.1 380.8,234.5 380.7,231.3 380.6,234.6 380.5,237.3 380.4,239.4 380.3,237.2 380.2,233.6 380.1,236.3 380.0,232.9 379.9,236.4 379.8,235.9 379.7,234.2 379.6,237.6 379.5,231.9 379.4,239.1 379.3,230.4 379.2,235.6 379.1,235.2 379.0,235.3 378.9,238.0 378.8,232.0 378.7,233.4 378.5,233.7 378.4,240.9 378.3,234.1 378.2,233.4 378.1,235.8 378.0,229.8 377.9,229.1 377.8,255.5 377.7,229.0 377.6,232.2 377.5,233.3 377.4,230.8 377.3,231.3 377.2,232.1 377.1,232.7 377.0,228.6 376.9,232.9 376.8,230.0 376.7,233.3 376.6,230.3 376.5,239.0 376.4,228.3 376.3,230.4 376.2,228.8 376.1,230.8 376.0,231.5 375.8,227.9 375.7,228.0 375.6,228.4 375.5,229.8 375.4,228.6 375.3,229.6 375.2,230.7 375.1,236.1 375.0,228.3 374.9,227.9 374.8,230.4 374.7,227.6 374.6,228.0 374.5,230.4 374.4,226.8 374.3,225.8 374.2,229.2 374.1,227.0 374.0,227.2 373.9,226.5 373.8,231.0 373.7,226.2 373.6,226.6 373.5,224.9 373.4,220.0 373.3,218.5 373.1,220.3 373.0,222.2 372.9,218.5 372.8,216.4 372.7,218.3 372.6,214.2 372.5,213.4 372.4,211.3 372.3,215.0 372.2,214.5 372.1,208.2 372.0,211.2 371.9,211.7 371.8,205.6 371.7,207.8 371.6,202.4 371.5,200.2 371.4,207.1 371.3,204.5 371.2,199.1 371.1,200.0 371.0,198.9 370.9,193.8 370.8,197.7 370.7,195.6 370.6,192.7 370.5,190.0 370.3,195.0 370.2,194.9 370.1,190.3 370.0,188.6 369.9,193.1 369.8,189.9 369.7,196.2 369.6,190.6 369.5,186.3 369.4,174.1 369.3,185.3 369.2,193.2 369.1,184.0 369.0,182.6 368.9,180.4 368.8,182.9 368.7,176.3 368.6,179.1 368.5,175.4 368.4,179.0 368.3,180.6 368.2,170.2 368.1,174.8 368.0,172.7 367.9,176.5 367.8,171.3 367.6,174.3 367.5,161.6 367.4,170.8 367.3,167.6 367.2,173.0 367.1,171.1 367.0,171.7 366.9,165.8 366.8,166.2 366.7,165.5 366.6,179.8 366.5,173.0 366.4,168.9 366.3,163.5 366.2,164.5 366.1,162.8 366.0,158.7 365.9,167.8 365.8,165.3 365.7,160.1 365.6,167.9 365.5,153.6 365.4,163.5 365.3,160.8 365.2,157.9 365.1,159.6 365.0,153.7 364.8,158.4 364.7,157.5 364.6,156.7 364.5,158.8 364.4,151.0 364.3,149.0 364.2,156.4 364.1,152.4 364.0,146.9 363.9,156.3 363.8,149.7 363.7,154.2 363.6,164.2 363.5,149.2 363.4,151.4 363.3,155.9 363.2,156.0 363.1,151.2 363.0,156.8 362.9,147.9 362.8,155.2 362.7,139.0 362.6,147.7 362.5,155.0 362.4,145.1 362.3,150.8 362.1,152.9 362.0,153.7 361.9,167.9 361.8,151.7 361.7,150.6 361.6,149.3 361.5,149.0 361.4,153.0 361.3,148.3 361.2,154.6 361.1,149.3 361.0,154.7 360.9,148.2 360.8,163.2 360.7,155.4 360.6,160.0 360.5,150.5 360.4,155.1 360.3,144.5 360.2,158.0 360.1,157.1 360.0,147.8 359.9,158.8 359.8,148.8 359.7,150.6 359.6,152.3 359.5,152.8 359.3,158.3 359.2,154.9 359.1,157.5 359.0,161.1 358.9,160.2 358.8,157.6 358.7,162.1 358.6,160.5 358.5,160.1 358.4,155.3 358.3,164.2 358.2,162.3 358.1,164.2 358.0,161.5 357.9,161.7 357.8,208.0 357.7,177.8 357.6,162.1 357.5,163.7 357.4,167.4 357.3,166.5 357.2,169.8 357.1,170.2 357.0,172.8 356.9,171.4 356.8,170.1 356.6,168.9 356.5,173.8 356.4,169.0 356.3,173.1 356.2,180.9 356.1,178.4 356.0,171.1 355.9,185.1 355.8,175.7 355.7,179.3 355.6,192.5 355.5,184.4 355.4,173.4 355.3,175.7 355.2,185.7 355.1,180.4 355.0,200.0 354.9,179.8 354.8,201.0 354.7,219.1 354.6,186.9 354.5,188.6 354.4,193.8 354.3,197.5 354.2,204.5 354.1,198.3 353.9,189.1 353.8,194.9 353.7,193.1 353.6,195.4 353.5,198.0 353.4,201.8 353.3,196.4 353.2,209.1 353.1,202.4 353.0,204.4 352.9,203.7 352.8,201.7 352.7,205.6 352.6,206.5 352.5,211.3 352.4,220.1 352.3,207.5 352.2,208.8 352.1,214.0 352.0,208.5 351.9,215.6 351.8,213.0 351.7,217.4 351.6,216.9 351.5,222.1 351.4,221.5 351.3,221.7 351.1,218.8 351.0,224.2 350.9,224.8 350.8,226.9 350.7,224.4 350.6,229.4 350.5,235.3 350.4,228.1 350.3,230.7 350.2,232.9 350.1,229.9 350.0,234.1 349.9,231.2 349.8,231.4 349.7,238.7 349.6,233.4 349.5,236.0 349.4,228.7 349.3,234.0 349.2,235.4 349.1,237.3 349.0,235.8 348.9,233.0 348.8,238.7 348.7,230.9 348.6,232.9 348.4,236.5 348.3,230.4 348.2,232.5 348.1,232.7 348.0,234.0 347.9,233.7 347.8,234.1 347.7,235.3 347.6,234.7 347.5,235.3 347.4,237.6 347.3,234.5 347.2,238.4 347.1,235.5 347.0,244.2 346.9,233.1 346.8,234.2 346.7,238.7 346.6,235.1 346.5,240.7 346.4,238.0 346.3,238.6 346.2,238.2 346.1,240.0 346.0,237.0 345.9,236.8 345.8,234.2 345.6,237.5 345.5,235.9 345.4,244.4 345.3,237.5 345.2,237.9 345.1,237.2 345.0,241.0 344.9,240.4 344.8,235.6 344.7,236.7 344.6,240.0 344.5,242.8 344.4,240.9 344.3,242.2 344.2,242.5 344.1,239.8 344.0,241.5 343.9,245.9 343.8,242.0 343.7,237.8 343.6,238.0 343.5,251.5 343.4,243.2 343.3,240.1 343.2,237.8 343.1,238.6 342.9,242.0 342.8,244.6 342.7,241.7 342.6,236.6 342.5,240.8 342.4,246.3 342.3,241.6 342.2,238.1 342.1,236.9 342.0,242.0 341.9,237.4 341.8,239.9 341.7,243.4 341.6,240.6 341.5,236.4 341.4,242.2 341.3,238.2 341.2,242.6 341.1,235.6 341.0,242.4 340.9,260.9 340.8,238.2 340.7,235.2 340.6,237.9 340.5,240.6 340.4,238.2 340.3,237.9 340.1,238.8 340.0,236.8 339.9,237.0 339.8,238.2 339.7,232.8 339.6,243.6 339.5,237.2 339.4,233.8 339.3,239.8 339.2,235.8 339.1,237.2 339.0,238.5 338.9,233.4 338.8,234.3 338.7,239.9 338.6,235.1 338.5,233.5 338.4,236.3 338.3,233.9 338.2,237.6 338.1,234.2 338.0,234.2 337.9,234.3 337.8,228.3 337.7,236.8 337.6,232.7 337.4,232.3 337.3,230.5 337.2,236.1 337.1,234.3 337.0,231.0 336.9,235.1 336.8,229.8 336.7,233.6 336.6,230.3 336.5,235.7 336.4,233.9 336.3,230.7 336.2,229.4 336.1,229.4 336.0,230.5 335.9,226.9 335.8,232.2 335.7,223.4 335.6,224.4 335.5,219.1 335.4,222.3 335.3,220.7 335.2,222.4 335.1,217.5 335.0,216.7 334.9,218.0 334.7,212.0 334.6,226.1 334.5,216.8 334.4,216.0 334.3,208.9 334.2,211.1 334.1,209.5 334.0,209.8 333.9,210.1 333.8,210.4 333.7,205.7 333.6,204.3 333.5,200.1 333.4,203.3 333.3,204.2 333.2,222.1 333.1,201.3 333.0,197.6 332.9,201.6 332.8,195.8 332.7,197.3 332.6,194.1 332.5,194.1 332.4,190.6 332.3,188.5 332.2,192.9 332.1,197.5 331.9,188.5 331.8,185.7 331.7,190.8 331.6,186.0 331.5,183.4 331.4,180.8 331.3,186.4 331.2,181.0 331.1,181.3 331.0,237.2 330.9,180.8 330.8,180.5 330.7,178.2 330.6,178.1 330.5,178.3 330.4,176.3 330.3,187.9 330.2,176.7 330.1,178.7 330.0,178.2 329.9,171.6 329.8,172.0 329.7,175.5 329.6,175.6 329.5,176.4 329.4,171.4 329.2,171.0 329.1,167.3 329.0,174.8 328.9,173.0 328.8,170.2 328.7,171.8 328.6,167.1 328.5,170.8 328.4,174.7 328.3,167.8 328.2,164.0 328.1,167.4 328.0,168.0 327.9,161.5 327.8,162.7 327.7,169.4 327.6,159.9 327.5,162.0 327.4,161.1 327.3,152.5 327.2,156.5 327.1,167.7 327.0,157.4 326.9,155.1 326.8,162.4 326.7,159.1 326.6,175.5 326.4,157.2 326.3,156.0 326.2,153.1 326.1,154.7 326.0,153.5 325.9,161.8 325.8,153.9 325.7,151.9 325.6,150.0 325.5,154.4 325.4,153.5 325.3,156.1 325.2,155.3 325.1,156.1 325.0,155.9 324.9,167.2 324.8,151.9 324.7,150.8 324.6,166.8 324.5,151.5 324.4,153.1 324.3,154.2 324.2,159.4 324.1,151.9 324.0,156.7 323.9,149.6 323.7,149.9 323.6,157.5 323.5,150.8 323.4,154.9 323.3,153.2 323.2,152.3 323.1,168.8 323.0,149.0 322.9,148.3 322.8,165.1 322.7,159.1 322.6,152.4 322.5,154.4 322.4,163.4 322.3,152.5 322.2,153.3 322.1,155.3 322.0,156.0 321.9,152.6 321.8,183.9 321.7,156.5 321.6,160.3 321.5,159.0 321.4,156.6 321.3,150.0 321.2,160.1 321.1,160.0 320.9,160.3 320.8,162.0 320.7,161.3 320.6,159.7 320.5,161.7 320.4,170.0 320.3,163.4 320.2,163.5 320.1,161.8 320.0,157.0 319.9,161.6 319.8,162.4 319.7,171.8 319.6,173.8 319.5,169.0 319.4,172.4 319.3,172.9 319.2,167.5 319.1,173.6 319.0,169.8 318.9,170.7 318.8,228.2 318.7,171.3 318.6,171.4 318.5,176.9 318.4,176.5 318.2,169.6 318.1,190.3 318.0,179.0 317.9,181.2 317.8,176.0 317.7,183.2 317.6,177.6 317.5,183.7 317.4,177.2 317.3,190.8 317.2,175.6 317.1,182.2 317.0,184.5 316.9,190.3 316.8,184.6 316.7,183.9 316.6,183.2 316.5,196.5 316.4,209.1 316.3,191.9 316.2,192.4 316.1,191.0 316.0,201.1 315.9,205.0 315.8,192.3 315.7,194.7 315.6,196.2 315.4,192.5 315.3,196.3 315.2,200.1 315.1,200.8 315.0,204.8 314.9,204.7 314.8,200.5 314.7,206.1 314.6,216.1 314.5,209.3 314.4,201.8 314.3,208.7 314.2,217.9 314.1,212.5 314.0,207.9 313.9,213.5 313.8,214.4 313.7,218.4 313.6,211.8 313.5,212.7 313.4,214.9 313.3,219.0 313.2,218.0 313.1,218.8 313.0,218.1 312.9,219.9 312.7,225.1 312.6,224.1 312.5,223.5 312.4,229.6 312.3,229.6 312.2,230.8 312.1,227.7 312.0,230.6 311.9,233.1 311.8,232.4 311.7,231.2 311.6,234.1 311.5,233.8 311.4,230.8 311.3,233.5 311.2,244.4 311.1,229.2 311.0,233.7 310.9,235.4 310.8,240.3 310.7,232.3 310.6,231.1 310.5,232.1 310.4,234.9 310.3,243.5 310.2,230.2 310.0,235.6 309.9,237.8 309.8,231.7 309.7,238.0 309.6,236.3 309.5,234.5 309.4,234.0 309.3,235.2 309.2,233.4 309.1,235.7 309.0,239.0 308.9,236.4 308.8,235.7 308.7,238.3 308.6,237.1 308.5,237.5 308.4,236.8 308.3,236.2 308.2,239.7 308.1,238.2 308.0,236.8 307.9,238.5 307.8,233.4 307.7,239.2 307.6,240.3 307.5,235.9 307.4,243.7 307.2,238.4 307.1,235.2 307.0,247.1 306.9,243.1 306.8,238.8 306.7,245.2 306.6,243.3 306.5,238.9 306.4,239.5 306.3,257.1 306.2,237.5 306.1,240.7 306.0,242.5 305.9,237.8 305.8,239.9 305.7,240.3 305.6,239.4 305.5,238.6 305.4,241.2 305.3,246.7 305.2,242.3 305.1,264.8 305.0,241.0 304.9,242.2 304.8,243.3 304.7,241.9 304.5,241.2 304.4,239.8 304.3,242.1 304.2,239.0 304.1,239.5 304.0,237.8 303.9,240.7 303.8,241.1 303.7,239.6 303.6,239.5 303.5,244.4 303.4,236.0 303.3,241.3 303.2,240.3 303.1,240.1 303.0,244.0 302.9,235.9 302.8,239.2 302.7,241.1 302.6,236.3 302.5,240.9 302.4,238.1 302.3,239.6 302.2,237.2 302.1,237.2 302.0,238.4 301.9,233.8 301.7,237.0 301.6,238.3 301.5,235.0 301.4,235.8 301.3,233.0 301.2,235.6 301.1,235.7 301.0,236.5 300.9,237.8 300.8,234.8 300.7,236.7 300.6,234.3 300.5,237.3 300.4,236.0 300.3,233.9 300.2,237.4 300.1,237.4 300.0,238.0 299.9,232.7 299.8,232.4 299.7,234.5 299.6,233.9 299.5,233.0 299.4,239.6 299.3,242.3 299.2,235.7 299.0,231.5 298.9,231.9 298.8,233.9 298.7,232.6 298.6,235.3 298.5,234.6 298.4,233.8 298.3,236.9 298.2,235.3 298.1,231.2 298.0,234.0 297.9,233.1 297.8,232.4 297.7,231.6 297.6,229.8 297.5,230.3 297.4,229.7 297.3,238.3 297.2,227.1 297.1,227.1 297.0,226.6 296.9,224.2 296.8,224.7 296.7,222.9 296.6,220.1 296.5,222.8 296.4,218.9 296.2,221.1 296.1,241.5 296.0,221.4 295.9,218.6 295.8,217.7 295.7,215.0 295.6,218.5 295.5,213.0 295.4,215.4 295.3,210.8 295.2,209.2 295.1,205.7 295.0,215.3 294.9,209.4 294.8,223.3 294.7,204.6 294.6,198.5 294.5,201.6 294.4,202.7 294.3,208.2 294.2,202.9 294.1,201.4 294.0,206.4 293.9,195.9 293.8,201.4 293.7,193.8 293.5,199.3 293.4,194.3 293.3,189.1 293.2,195.2 293.1,195.1 293.0,197.2 292.9,184.3 292.8,189.5 292.7,191.3 292.6,190.0 292.5,187.6 292.4,183.0 292.3,186.1 292.2,196.2 292.1,187.6 292.0,183.7 291.9,181.7 291.8,179.1 291.7,190.4 291.6,174.9 291.5,181.9 291.4,180.0 291.3,178.5 291.2,170.9 291.1,184.9 291.0,178.7 290.8,173.0 290.7,174.9 290.6,176.4 290.5,179.2 290.4,185.8 290.3,173.9 290.2,172.3 290.1,167.5 290.0,165.3 289.9,181.7 289.8,165.1 289.7,172.5 289.6,166.6 289.5,170.6 289.4,167.0 289.3,173.3 289.2,170.7 289.1,164.9 289.0,171.3 288.9,160.8 288.8,163.8 288.7,163.3 288.6,158.4 288.5,171.3 288.4,159.1 288.3,166.8 288.2,167.0 288.0,160.3 287.9,154.5 287.8,160.3 287.7,158.5 287.6,168.5 287.5,165.0 287.4,160.1 287.3,161.2 287.2,173.6 287.1,157.2 287.0,153.2 286.9,160.7 286.8,170.5 286.7,161.7 286.6,175.1 286.5,154.6 286.4,153.6 286.3,161.7 286.2,163.6 286.1,156.8 286.0,165.4 285.9,158.5 285.8,147.2 285.7,160.1 285.6,156.6 285.5,163.6 285.3,157.5 285.2,168.0 285.1,164.3 285.0,158.4 284.9,160.0 284.8,159.1 284.7,165.1 284.6,157.3 284.5,159.7 284.4,161.9 284.3,166.1 284.2,165.6 284.1,161.4 284.0,163.6 283.9,167.6 283.8,163.3 283.7,165.5 283.6,186.2 283.5,161.1 283.4,162.3 283.3,190.3 283.2,167.5 283.1,173.6 283.0,160.0 282.9,167.6 282.8,170.3 282.7,174.2 282.5,165.7 282.4,168.1 282.3,178.2 282.2,168.8 282.1,168.5 282.0,167.3 281.9,167.6 281.8,169.6 281.7,171.5 281.6,179.9 281.5,173.8 281.4,173.3 281.3,183.8 281.2,171.0 281.1,172.0 281.0,175.9 280.9,180.6 280.8,173.4 280.7,176.0 280.6,189.2 280.5,172.0 280.4,180.8 280.3,178.5 280.2,177.5 280.1,189.0 280.0,189.1 279.8,188.8 279.7,183.6 279.6,179.9 279.5,187.6 279.4,188.3 279.3,186.8 279.2,186.5 279.1,200.8 279.0,188.9 278.9,194.5 278.8,191.8 278.7,192.5 278.6,192.6 278.5,194.4 278.4,195.6 278.3,195.0 278.2,198.5 278.1,200.1 278.0,202.3 277.9,192.8 277.8,199.6 277.7,203.0 277.6,205.4 277.5,201.6 277.4,201.7 277.3,209.7 277.2,203.7 277.0,207.1 276.9,206.3 276.8,210.5 276.7,210.0 276.6,213.9 276.5,221.4 276.4,210.0 276.3,212.0 276.2,214.2 276.1,218.2 276.0,216.9 275.9,216.5 275.8,218.3 275.7,219.6 275.6,220.9 275.5,217.9 275.4,223.2 275.3,220.8 275.2,223.8 275.1,222.9 275.0,230.8 274.9,228.0 274.8,229.3 274.7,233.4 274.6,233.2 274.5,232.4 274.3,233.5 274.2,235.1 274.1,231.6 274.0,232.2 273.9,230.0 273.8,231.2 273.7,237.1 273.6,231.6 273.5,236.6 273.4,233.4 273.3,236.0 273.2,233.3 273.1,232.5 273.0,231.1 272.9,235.5 272.8,234.2 272.7,232.9 272.6,230.0 272.5,236.7 272.4,233.6 272.3,232.8 272.2,238.9 272.1,236.2 272.0,234.2 271.9,234.7 271.8,236.3 271.6,235.2 271.5,236.6 271.4,237.0 271.3,244.1 271.2,239.3 271.1,246.8 271.0,238.0 270.9,234.1 270.8,239.0 270.7,237.9 270.6,239.6 270.5,236.5 270.4,234.8 270.3,236.7 270.2,236.9 270.1,236.7 270.0,237.0 269.9,237.9 269.8,241.2 269.7,236.3 269.6,242.6 269.5,239.3 269.4,240.0 269.3,238.9 269.2,237.1 269.1,246.8 269.0,237.5 268.8,238.3 268.7,239.9 268.6,238.3 268.5,241.8 268.4,237.2 268.3,244.7 268.2,239.7 268.1,239.7 268.0,239.1 267.9,240.5 267.8,239.6 267.7,235.6 267.6,244.4 267.5,241.6 267.4,240.1 267.3,242.9 267.2,240.6 267.1,240.2 267.0,241.3 266.9,242.0 266.8,237.7 266.7,241.7 266.6,240.4 266.5,239.7 266.4,238.6 266.3,252.1 266.1,239.3 266.0,239.7 265.9,240.6 265.8,255.0 265.7,246.1 265.6,240.2 265.5,242.3 265.4,240.5 265.3,238.0 265.2,241.8 265.1,242.0 265.0,243.8 264.9,238.2 264.8,241.5 264.7,242.2 264.6,238.1 264.5,236.7 264.4,234.6 264.3,243.3 264.2,239.4 264.1,236.8 264.0,245.3 263.9,238.6 263.8,237.6 263.7,236.7 263.6,236.9 263.5,239.6 263.3,236.3 263.2,235.1 263.1,244.5 263.0,251.6 262.9,239.1 262.8,237.5 262.7,231.7 262.6,236.6 262.5,234.2 262.4,233.4 262.3,237.7 262.2,236.7 262.1,234.5 262.0,233.5 261.9,231.4 261.8,239.4 261.7,230.9 261.6,233.8 261.5,236.8 261.4,231.8 261.3,234.5 261.2,231.5 261.1,234.2 261.0,234.4 260.9,230.7 260.8,230.3 260.6,233.2 260.5,233.4 260.4,229.6 260.3,233.8 260.2,234.4 260.1,236.5 260.0,229.8 259.9,232.6 259.8,231.3 259.7,226.7 259.6,226.6 259.5,229.5 259.4,222.0 259.3,227.6 259.2,224.7 259.1,223.6 259.0,221.2 258.9,216.8 258.8,216.4 258.7,224.1 258.6,219.5 258.5,216.9 258.4,215.7 258.3,219.4 258.2,212.1 258.1,214.3 258.0,212.2 257.8,221.2 257.7,218.0 257.6,211.0 257.5,210.3 257.4,210.2 257.3,204.3 257.2,207.0 257.1,209.2 257.0,210.4 256.9,202.8 256.8,203.4 256.7,203.6 256.6,200.8 256.5,200.2 256.4,203.0 256.3,214.9 256.2,200.2 256.1,203.3 256.0,197.3 255.9,195.6 255.8,196.6 255.7,191.6 255.6,199.7 255.5,199.2 255.4,198.1 255.3,190.0 255.1,196.3 255.0,187.5 254.9,189.3 254.8,186.2 254.7,191.5 254.6,187.0 254.5,209.0 254.4,185.2 254.3,192.3 254.2,186.9 254.1,189.7 254.0,190.4 253.9,186.9 253.8,189.2 253.7,187.8 253.6,184.2 253.5,185.6 253.4,194.8 253.3,183.2 253.2,180.4 253.1,173.4 253.0,178.2 252.9,183.0 252.8,175.8 252.7,177.0 252.6,184.7 252.4,178.4 252.3,172.9 252.2,178.2 252.1,174.9 252.0,178.3 251.9,172.9 251.8,177.1 251.7,172.9 251.6,177.0 251.5,174.1 251.4,177.6 251.3,169.9 251.2,172.7 251.1,177.9 251.0,171.7 250.9,173.5 250.8,172.5 250.7,182.9 250.6,186.2 250.5,169.6 250.4,165.1 250.3,168.2 250.2,176.9 250.1,166.2 250.0,172.9 249.9,168.0 249.8,169.7 249.6,168.2 249.5,173.4 249.4,164.8 249.3,165.3 249.2,167.2 249.1,171.1 249.0,166.4 248.9,166.9 248.8,175.3 248.7,167.9 248.6,183.8 248.5,172.9 248.4,163.9 248.3,167.1 248.2,169.6 248.1,172.2 248.0,168.3 247.9,168.4 247.8,172.8 247.7,159.7 247.6,172.6 247.5,167.0 247.4,168.0 247.3,168.6 247.2,168.7 247.1,171.3 246.9,163.9 246.8,169.3 246.7,158.6 246.6,164.0 246.5,170.5 246.4,174.9 246.3,170.9 246.2,164.4 246.1,169.4 246.0,169.7 245.9,172.8 245.8,173.3 245.7,170.5 245.6,177.6 245.5,165.0 245.4,173.8 245.3,172.8 245.2,176.2 245.1,180.0 245.0,195.1 244.9,180.4 244.8,174.4 244.7,172.3 244.6,173.6 244.5,173.7 244.4,175.6 244.3,178.1 244.1,184.1 244.0,178.4 243.9,178.6 243.8,172.7 243.7,192.6 243.6,180.4 243.5,179.0 243.4,180.8 243.3,180.6 243.2,185.3 243.1,190.4 243.0,184.6 242.9,188.7 242.8,191.6 242.7,184.7 242.6,188.4 242.5,193.5 242.4,193.8 242.3,190.9 242.2,179.5 242.1,192.6 242.0,189.6 241.9,188.6 241.8,190.6 241.7,189.2 241.6,190.5 241.4,195.2 241.3,199.3 241.2,194.2 241.1,194.6 241.0,195.7 240.9,209.9 240.8,199.1 240.7,199.4 240.6,198.5 240.5,198.1 240.4,200.9 240.3,202.5 240.2,207.7 240.1,201.5 240.0,206.6 239.9,208.8 239.8,206.7 239.7,206.9 239.6,214.6 239.5,207.5 239.4,216.0 239.3,211.2 239.2,213.9 239.1,214.9 239.0,212.6 238.9,214.8 238.8,214.5 238.6,214.0 238.5,221.8 238.4,217.0 238.3,219.4 238.2,221.8 238.1,227.0 238.0,222.4 237.9,229.0 237.8,225.2 237.7,225.6 237.6,223.0 237.5,229.8 237.4,229.6 237.3,233.3 237.2,229.9 237.1,233.2 237.0,232.7 236.9,233.7 236.8,235.3 236.7,235.0 236.6,244.6 236.5,233.3 236.4,232.2 236.3,232.2 236.2,233.8 236.1,235.9 235.9,232.8 235.8,231.1 235.7,234.2 235.6,236.2 235.5,236.2 235.4,238.5 235.3,240.1 235.2,239.7 235.1,236.7 235.0,238.2 234.9,237.8 234.8,234.0 234.7,234.6 234.6,247.3 234.5,236.4 234.4,234.9 234.3,237.7 234.2,237.9 234.1,239.9 234.0,239.3 233.9,240.6 233.8,234.0 233.7,235.7 233.6,237.5 233.5,238.4 233.4,237.4 233.3,245.1 233.1,236.0 233.0,236.8 232.9,246.6 232.8,239.0 232.7,238.2 232.6,237.5 232.5,240.9 232.4,252.8 232.3,241.1 232.2,244.0 232.1,240.6 232.0,242.8 231.9,238.8 231.8,251.3 231.7,240.4 231.6,243.9 231.5,243.3 231.4,242.9 231.3,239.0 231.2,241.9 231.1,240.5 231.0,252.5 230.9,245.4 230.8,243.3 230.7,243.2 230.6,243.2 230.4,242.4 230.3,242.3 230.2,249.7 230.1,248.8 230.0,244.3 229.9,243.0 229.8,242.1 229.7,241.3 229.6,240.2 229.5,242.0 229.4,243.2 229.3,243.5 229.2,242.7 229.1,241.4 229.0,243.7 228.9,241.7 228.8,240.1 228.7,246.9 228.6,239.2 228.5,249.0 228.4,241.7 228.3,241.3 228.2,241.0 228.1,241.6 228.0,242.3 227.9,249.2 227.7,244.1 227.6,240.6 227.5,248.2 227.4,240.7 227.3,237.9 227.2,239.8 227.1,240.8 227.0,241.5 226.9,242.8 226.8,238.9 226.7,241.7 226.6,239.2 226.5,242.7 226.4,238.8 226.3,237.2 226.2,238.9 226.1,237.3 226.0,236.8 225.9,241.2 225.8,241.7 225.7,238.7 225.6,237.8 225.5,240.7 225.4,238.5 225.3,242.3 225.2,241.2 225.1,237.6 224.9,234.3 224.8,238.2 224.7,237.3 224.6,234.3 224.5,236.1 224.4,248.3 224.3,238.5 224.2,237.1 224.1,237.7 224.0,233.4 223.9,236.9 223.8,233.0 223.7,237.9 223.6,235.4 223.5,237.1 223.4,234.0 223.3,237.0 223.2,240.0 223.1,232.1 223.0,235.4 222.9,233.7 222.8,235.1 222.7,234.0 222.6,234.5 222.5,232.6 222.4,233.7 222.2,234.0 222.1,230.3 222.0,230.4 221.9,227.8 221.8,228.9 221.7,228.2 221.6,232.0 221.5,235.4 221.4,226.4 221.3,225.7 221.2,227.1 221.1,228.4 221.0,222.9 220.9,221.3 220.8,223.2 220.7,218.2 220.6,217.1 220.5,213.5 220.4,212.7 220.3,218.1 220.2,218.8 220.1,217.0 220.0,210.6 219.9,208.3 219.8,215.2 219.7,208.7 219.6,207.8 219.4,209.2 219.3,209.7 219.2,210.0 219.1,204.5 219.0,203.7 218.9,201.9 218.8,202.9 218.7,212.2 218.6,200.8 218.5,201.7 218.4,204.1 218.3,198.0 218.2,200.7 218.1,198.7 218.0,196.1 217.9,205.2 217.8,195.7 217.7,208.3 217.6,197.6 217.5,191.2 217.4,197.5 217.3,195.2 217.2,192.8 217.1,186.6 217.0,194.4 216.9,191.2 216.7,186.0 216.6,195.1 216.5,189.1 216.4,192.0 216.3,187.1 216.2,184.9 216.1,191.3 216.0,187.7 215.9,187.7 215.8,191.4 215.7,184.4 215.6,186.3 215.5,179.6 215.4,180.4 215.3,177.0 215.2,188.6 215.1,180.1 215.0,173.8 214.9,184.9 214.8,184.3 214.7,178.1 214.6,176.3 214.5,180.3 214.4,180.1 214.3,171.7 214.2,182.5 214.1,174.9 213.9,176.1 213.8,177.9 213.7,179.5 213.6,175.6 213.5,174.5 213.4,186.7 213.3,171.1 213.2,177.0 213.1,173.8 213.0,173.3 212.9,174.7 212.8,172.9 212.7,166.7 212.6,171.0 212.5,165.9 212.4,173.0 212.3,168.6 212.2,177.4 212.1,169.8 212.0,177.5 211.9,165.3 211.8,170.4 211.7,169.8 211.6,169.9 211.5,173.3 211.4,173.3 211.2,159.0 211.1,171.8 211.0,169.0 210.9,161.7 210.8,171.7 210.7,170.9 210.6,168.8 210.5,175.8 210.4,168.0 210.3,180.1 210.2,170.2 210.1,172.9 210.0,163.6 209.9,165.4 209.8,168.5 209.7,167.3 209.6,173.3 209.5,172.9 209.4,166.5 209.3,172.8 209.2,170.7 209.1,174.7 209.0,168.5 208.9,170.1 208.8,174.3 208.7,175.9 208.5,171.0 208.4,174.4 208.3,177.1 208.2,168.7 208.1,172.3 208.0,167.3 207.9,171.8 207.8,176.4 207.7,174.3 207.6,176.3 207.5,178.1 207.4,178.7 207.3,174.1 207.2,173.3 207.1,176.6 207.0,179.0 206.9,179.0 206.8,177.1 206.7,185.5 206.6,170.6 206.5,178.1 206.4,179.7 206.3,178.5 206.2,188.2 206.1,187.4 206.0,191.1 205.9,177.8 205.7,183.1 205.6,180.3 205.5,182.9 205.4,177.5 205.3,184.9 205.2,185.7 205.1,190.9 205.0,179.3 204.9,184.6 204.8,187.2 204.7,189.4 204.6,184.1 204.5,187.4 204.4,183.5 204.3,185.5 204.2,189.0 204.1,197.9 204.0,203.5 203.9,193.5 203.8,190.3 203.7,196.4 203.6,195.4 203.5,219.3 203.4,194.5 203.3,196.7 203.2,197.0 203.0,204.3 202.9,194.5 202.8,202.6 202.7,197.6 202.6,220.6 202.5,198.4 202.4,203.1 202.3,204.8 202.2,202.5 202.1,204.1 202.0,204.6 201.9,205.2 201.8,201.6 201.7,205.8 201.6,224.0 201.5,215.7 201.4,207.4 201.3,212.9 201.2,216.0 201.1,210.4 201.0,213.4 200.9,212.9 200.8,213.7 200.7,216.6 200.6,216.4 200.5,214.7 200.4,219.4 200.2,217.0 200.1,217.7 200.0,218.6 199.9,220.3 199.8,221.7 199.7,227.3 199.6,225.9 199.5,219.7 199.4,227.4 199.3,226.1 199.2,232.8 199.1,229.8 199.0,231.7 198.9,233.0 198.8,231.3 198.7,232.4 198.6,233.6 198.5,234.3 198.4,234.9 198.3,236.1 198.2,233.3 198.1,232.3 198.0,237.7 197.9,238.9 197.8,234.7 197.7,237.8 197.5,235.0 197.4,236.7 197.3,236.9 197.2,238.3 197.1,242.6 197.0,236.3 196.9,237.3 196.8,247.5 196.7,236.3 196.6,236.3 196.5,238.0 196.4,243.5 196.3,241.7 196.2,245.2 196.1,238.2 196.0,240.0 195.9,238.3 195.8,239.9 195.7,239.4 195.6,240.1 195.5,246.0 195.4,239.0 195.3,239.7 195.2,243.8 195.1,244.6 195.0,242.1 194.9,241.8 194.7,238.3 194.6,241.3 194.5,241.8 194.4,239.4 194.3,243.5 194.2,242.0 194.1,240.5 194.0,240.5 193.9,242.4 193.8,244.2 193.7,241.5 193.6,245.6 193.5,243.5 193.4,241.6 193.3,244.6 193.2,242.2 193.1,244.5 193.0,247.1 192.9,246.9 192.8,245.0 192.7,243.0 192.6,242.9 192.5,243.9 192.4,246.7 192.3,256.2 192.2,243.5 192.0,243.5 191.9,245.4 191.8,244.0 191.7,244.1 191.6,244.0 191.5,239.6 191.4,243.1 191.3,245.5 191.2,252.0 191.1,244.1 191.0,244.5 190.9,243.9 190.8,241.4 190.7,240.1 190.6,240.8 190.5,242.7 190.4,246.4 190.3,242.1 190.2,243.0 190.1,244.8 190.0,244.0 189.9,244.1 189.8,241.6 189.7,241.7 189.6,239.6 189.5,240.6 189.3,242.5 189.2,239.7 189.1,241.3 189.0,242.7 188.9,239.3 188.8,244.9 188.7,237.3 188.6,238.3 188.5,254.8 188.4,243.6 188.3,237.7 188.2,238.0 188.1,241.7 188.0,242.1 187.9,238.6 187.8,241.2 187.7,238.4 187.6,238.5 187.5,234.7 187.4,239.1 187.3,239.7 187.2,239.4 187.1,238.5 187.0,235.3 186.9,236.8 186.8,238.0 186.7,238.5 186.5,236.0 186.4,235.3 186.3,234.3 186.2,236.7 186.1,236.9 186.0,238.5 185.9,231.5 185.8,230.7 185.7,230.2 185.6,237.2 185.5,234.3 185.4,231.7 185.3,230.9 185.2,226.4 185.1,225.9 185.0,228.4 184.9,231.3 184.8,230.6 184.7,228.2 184.6,228.3 184.5,222.1 184.4,226.5 184.3,219.5 184.2,221.8 184.1,219.2 184.0,219.4 183.8,221.6 183.7,221.2 183.6,213.0 183.5,222.5 183.4,218.1 183.3,216.5 183.2,212.5 183.1,216.3 183.0,212.7 182.9,211.1 182.8,210.0 182.7,221.1 182.6,215.9 182.5,212.6 182.4,206.7 182.3,211.2 182.2,210.4 182.1,204.0 182.0,212.4 181.9,204.5 181.8,214.4 181.7,205.5 181.6,205.0 181.5,203.3 181.4,200.9 181.3,201.4 181.2,202.9 181.0,194.3 180.9,208.1 180.8,203.7 180.7,199.2 180.6,197.3 180.5,194.8 180.4,196.3 180.3,199.1 180.2,194.2 180.1,190.8 180.0,198.1 179.9,197.7 179.8,209.5 179.7,196.1 179.6,189.6 179.5,195.1 179.4,190.0 179.3,189.6 179.2,187.2 179.1,189.1 179.0,190.0 178.9,186.4 178.8,190.3 178.7,183.8 178.6,179.2 178.5,192.3 178.3,187.7 178.2,185.0 178.1,185.3 178.0,183.8 177.9,186.4 177.8,183.8 177.7,178.7 177.6,183.1 177.5,179.9 177.4,182.5 177.3,184.7 177.2,171.9 177.1,179.2 177.0,180.1 176.9,179.1 176.8,177.3 176.7,174.8 176.6,177.6 176.5,177.8 176.4,181.1 176.3,170.5 176.2,209.8 176.1,194.7 176.0,177.3 175.9,195.8 175.8,171.6 175.7,178.4 175.5,181.2 175.4,178.0 175.3,184.2 175.2,177.9 175.1,172.1 175.0,181.9 174.9,178.2 174.8,178.2 174.7,176.7 174.6,169.8 174.5,177.7 174.4,173.2 174.3,171.2 174.2,190.1 174.1,167.8 174.0,173.0 173.9,177.3 173.8,169.9 173.7,167.2 173.6,170.6 173.5,175.6 173.4,170.9 173.3,169.1 173.2,183.0 173.1,171.4 173.0,177.8 172.8,169.3 172.7,168.4 172.6,171.0 172.5,170.3 172.4,168.7 172.3,169.6 172.2,175.5 172.1,170.4 172.0,170.2 171.9,172.1 171.8,173.9 171.7,171.7 171.6,171.0 171.5,179.5 171.4,165.4 171.3,164.3 171.2,173.9 171.1,174.9 171.0,170.8 170.9,172.6 170.8,180.4 170.7,178.3 170.6,169.5 170.5,172.0 170.4,172.1 170.3,176.8 170.2,176.2 170.0,176.3 169.9,172.1 169.8,178.9 169.7,176.2 169.6,173.3 169.5,178.9 169.4,176.3 169.3,180.3 169.2,176.7 169.1,176.8 169.0,175.1 168.9,173.0 168.8,173.1 168.7,176.9 168.6,176.1 168.5,177.0 168.4,187.1 168.3,189.0 168.2,180.7 168.1,185.0 168.0,189.9 167.9,178.6 167.8,184.2 167.7,185.2 167.6,179.8 167.5,183.4 167.3,182.5 167.2,180.5 167.1,183.2 167.0,188.3 166.9,185.5 166.8,185.1 166.7,188.0 166.6,188.1 166.5,189.2 166.4,184.0 166.3,191.4 166.2,198.7 166.1,186.8 166.0,190.5 165.9,189.4 165.8,193.3 165.7,192.4 165.6,192.3 165.5,194.3 165.4,205.1 165.3,191.3 165.2,196.9 165.1,195.9 165.0,195.5 164.9,190.8 164.8,196.8 164.6,196.0 164.5,199.9 164.4,195.6 164.3,205.4 164.2,199.6 164.1,195.9 164.0,203.6 163.9,210.8 163.8,204.0 163.7,208.3 163.6,200.9 163.5,201.9 163.4,202.8 163.3,208.4 163.2,209.9 163.1,206.7 163.0,207.6 162.9,214.2 162.8,210.7 162.7,213.8 162.6,209.6 162.5,214.9 162.4,214.6 162.3,214.9 162.2,213.6 162.1,219.6 162.0,217.5 161.8,216.8 161.7,213.3 161.6,216.6 161.5,228.4 161.4,218.7 161.3,221.3 161.2,221.2 161.1,233.1 161.0,222.0 160.9,223.3 160.8,226.9 160.7,229.2 160.6,226.6 160.5,227.0 160.4,227.6 160.3,237.6 160.2,227.2 160.1,233.6 160.0,231.2 159.9,232.4 159.8,230.3 159.7,231.4 159.6,237.7 159.5,236.6 159.4,237.3 159.3,238.3 159.1,234.8 159.0,248.6 158.9,239.4 158.8,236.0 158.7,237.3 158.6,241.8 158.5,237.5 158.4,238.2 158.3,239.0 158.2,241.1 158.1,241.2 158.0,240.2 157.9,239.4 157.8,239.3 157.7,238.5 157.6,237.2 157.5,243.8 157.4,240.6 157.3,242.2 157.2,238.8 157.1,256.3 157.0,240.4 156.9,241.0 156.8,239.5 156.7,241.1 156.6,243.5 156.5,241.1 156.3,243.4 156.2,242.7 156.1,243.6 156.0,244.3 155.9,243.8 155.8,244.6 155.7,242.4 155.6,244.2 155.5,242.3 155.4,242.7 155.3,243.0 155.2,247.7 155.1,247.6 155.0,244.5 154.9,243.2 154.8,245.0 154.7,246.4 154.6,243.9 154.5,246.3 154.4,247.6 154.3,245.7 154.2,244.1 154.1,244.3 154.0,246.5 153.9,244.0 153.8,247.4 153.6,247.1 153.5,241.9 153.4,249.7 153.3,246.3 153.2,243.6 153.1,258.3 153.0,243.5 152.9,245.6 152.8,246.3 152.7,244.5 152.6,244.3 152.5,248.1 152.4,244.3 152.3,245.6 152.2,258.8 152.1,245.1 152.0,241.3 151.9,246.0 151.8,242.2 151.7,251.1 151.6,244.5 151.5,244.3 151.4,242.2 151.3,244.5 151.2,246.5 151.1,245.8 151.0,243.2 150.8,244.2 150.7,244.2 150.6,246.7 150.5,250.1 150.4,245.3 150.3,241.7 150.2,245.6 150.1,244.3 150.0,241.6 149.9,240.7 149.8,241.0 149.7,244.2 149.6,241.5 149.5,243.9 149.4,245.0 149.3,240.9 149.2,241.3 149.1,245.3 149.0,238.3 148.9,242.5 148.8,241.6 148.7,241.3 148.6,245.2 148.5,246.0 148.4,241.7 148.3,239.7 148.1,244.5 148.0,241.0 147.9,241.0 147.8,241.0 147.7,245.1 147.6,240.9 147.5,239.4 147.4,237.2 147.3,239.6 147.2,237.5 147.1,238.2 147.0,237.7 146.9,239.4 146.8,239.0 146.7,241.6 146.6,244.9 146.5,245.3 146.4,238.5 146.3,238.6 146.2,236.0 146.1,237.6 146.0,242.1 145.9,235.4 145.8,237.2 145.7,234.5 145.6,230.7 145.4,233.3 145.3,231.3 145.2,230.5 145.1,229.8 145.0,228.7 144.9,231.3 144.8,223.4 144.7,230.2 144.6,227.1 144.5,225.6 144.4,223.2 144.3,224.1 144.2,220.0 144.1,238.0 144.0,217.1 143.9,225.0 143.8,218.2 143.7,214.9 143.6,213.6 143.5,217.1 143.4,216.5 143.3,212.8 143.2,212.2 143.1,211.9 143.0,211.4 142.9,211.7 142.8,204.0 142.6,223.8 142.5,209.8 142.4,206.0 142.3,205.0 142.2,205.5 142.1,204.9 142.0,198.0 141.9,204.7 141.8,205.3 141.7,207.8 141.6,203.3 141.5,197.5 141.4,200.8 141.3,201.0 141.2,202.2 141.1,197.5 141.0,194.6 140.9,192.5 140.8,192.0 140.7,192.6 140.6,191.7 140.5,194.4 140.4,188.5 140.3,193.2 140.2,196.0 140.1,188.9 139.9,189.0 139.8,220.2 139.7,184.7 139.6,197.6 139.5,183.0 139.4,189.3 139.3,186.4 139.2,179.1 139.1,176.4 139.0,184.7 138.9,186.4 138.8,180.9 138.7,191.1 138.6,181.1 138.5,182.4 138.4,182.4 138.3,182.1 138.2,180.5 138.1,182.8 138.0,175.5 137.9,172.4 137.8,183.6 137.7,177.0 137.6,181.4 137.5,175.6 137.4,174.6 137.3,181.9 137.1,178.0 137.0,177.6 136.9,176.5 136.8,171.2 136.7,175.2 136.6,175.0 136.5,200.2 136.4,178.0 136.3,173.2 136.2,166.9 136.1,173.4 136.0,173.9 135.9,166.0 135.8,165.7 135.7,171.2 135.6,161.1 135.5,165.9 135.4,171.0 135.3,175.1 135.2,172.7 135.1,172.7 135.0,171.7 134.9,172.2 134.8,168.3 134.7,167.4 134.6,172.3 134.4,167.8 134.3,190.8 134.2,186.3 134.1,170.9 134.0,164.7 133.9,174.6 133.8,177.1 133.7,177.9 133.6,174.5 133.5,175.9 133.4,176.9 133.3,175.5 133.2,174.8 133.1,166.8 133.0,164.3 132.9,176.0 132.8,174.8 132.7,172.2 132.6,171.2 132.5,169.5 132.4,181.5 132.3,174.6 132.2,176.3 132.1,176.5 132.0,174.5 131.9,175.0 131.8,175.3 131.6,191.1 131.5,180.0 131.4,180.8 131.3,180.8 131.2,180.8 131.1,172.5 131.0,175.5 130.9,175.6 130.8,176.8 130.7,184.3 130.6,180.5 130.5,185.5 130.4,184.7 130.3,181.0 130.2,180.3 130.1,184.5 130.0,186.6 129.9,183.7 129.8,182.3 129.7,189.4 129.6,200.7 129.5,184.9 129.4,189.9 129.3,189.8 129.2,191.5 129.1,186.4 128.9,182.7 128.8,191.3 128.7,187.2 128.6,189.1 128.5,193.5 128.4,194.0 128.3,196.1 128.2,196.3 128.1,195.8 128.0,196.6 127.9,200.6 127.8,196.0 127.7,195.7 127.6,195.0 127.5,192.8 127.4,200.7 127.3,197.3 127.2,199.1 127.1,197.5 127.0,203.2 126.9,202.8 126.8,204.6 126.7,204.8 126.6,206.5 126.5,207.6 126.4,205.6 126.2,208.4 126.1,215.7 126.0,215.2 125.9,207.7 125.8,210.5 125.7,212.8 125.6,212.7 125.5,209.3 125.4,210.4 125.3,221.8 125.2,215.8 125.1,217.3 125.0,215.3 124.9,219.4 124.8,224.0 124.7,219.6 124.6,219.1 124.5,227.8 124.4,224.7 124.3,224.6 124.2,226.7 124.1,225.5 124.0,223.6 123.9,227.4 123.8,233.6 123.7,227.4 123.6,230.2 123.4,229.3 123.3,234.1 123.2,235.3 123.1,242.2 123.0,237.7 122.9,237.4 122.8,235.3 122.7,235.5 122.6,238.2 122.5,235.9 122.4,239.8 122.3,239.0 122.2,240.4 122.1,238.9 122.0,235.7 121.9,238.1 121.8,236.2 121.7,237.3 121.6,242.4 121.5,240.9 121.4,234.9 121.3,235.3 121.2,240.2 121.1,242.8 121.0,240.3 120.9,242.7 120.7,239.0 120.6,243.5 120.5,237.7 120.4,241.4 120.3,242.6 120.2,243.0 120.1,239.1 120.0,239.4 119.9,246.2 119.8,241.6 119.7,241.3 119.6,239.0 119.5,251.6 119.4,251.0 119.3,241.4 119.2,245.0 119.1,242.9 119.0,242.8 118.9,243.7 118.8,244.6 118.7,246.5 118.6,245.7 118.5,245.4 118.4,242.7 118.3,247.6 118.2,242.6 118.1,244.3 117.9,247.8 117.8,243.5 117.7,244.7 117.6,242.8 117.5,250.9 117.4,246.0 117.3,245.6 117.2,246.2 117.1,246.2 117.0,247.1 116.9,244.9 116.8,247.2 116.7,245.0 116.6,247.0 116.5,248.2 116.4,245.6 116.3,249.8 116.2,246.2 116.1,247.9 116.0,245.7 115.9,247.7 115.8,244.5 115.7,245.0 115.6,245.9 115.5,246.8 115.4,245.9 115.2,245.5 115.1,247.0 115.0,246.3 114.9,246.5 114.8,250.2 114.7,247.3 114.6,245.5 114.5,242.4 114.4,246.2 114.3,246.2 114.2,246.1 114.1,241.1 114.0,245.6 113.9,243.7 113.8,244.3 113.7,243.5 113.6,244.5 113.5,242.8 113.4,243.5 113.3,241.8 113.2,244.3 113.1,241.2 113.0,241.6 112.9,241.2 112.8,241.1 112.7,240.9 112.6,242.8 112.4,243.7 112.3,241.4 112.2,243.5 112.1,239.6 112.0,242.4 111.9,240.1 111.8,240.7 111.7,239.1 111.6,239.9 111.5,243.6 111.4,239.1 111.3,246.5 111.2,241.0 111.1,239.5 111.0,239.4 110.9,241.5 110.8,243.3 110.7,238.7 110.6,238.6 110.5,249.2 110.4,239.5 110.3,240.6 110.2,240.3 110.1,236.4 110.0,237.9 109.9,236.8 109.7,235.9 109.6,239.2 109.5,237.4 109.4,240.3 109.3,236.2 109.2,238.2 109.1,238.0 109.0,236.9 108.9,232.2 108.8,233.4 108.7,233.4 108.6,229.1 108.5,229.4 108.4,232.3 108.3,228.4 108.2,225.6 108.1,232.0 108.0,225.1 107.9,226.1 107.8,227.4 107.7,225.3 107.6,223.7 107.5,217.7 107.4,220.5 107.3,220.8 107.2,219.3 107.1,222.3 106.9,220.3 106.8,220.6 106.7,219.9 106.6,212.3 106.5,215.3 106.4,212.2 106.3,236.2 106.2,211.2 106.1,213.5 106.0,210.3 105.9,209.0 105.8,209.9 105.7,214.2 105.6,211.7 105.5,206.0 105.4,202.5 105.3,221.7 105.2,203.4 105.1,199.1 105.0,209.7 104.9,199.9 104.8,205.9 104.7,202.1 104.6,199.6 104.5,200.3 104.4,202.1 104.2,195.7 104.1,197.8 104.0,201.1 103.9,198.7 103.8,197.6 103.7,209.4 103.6,196.1 103.5,196.4 103.4,197.8 103.3,193.2 103.2,190.7 103.1,190.1 103.0,197.5 102.9,200.2 102.8,206.0 102.7,192.2 102.6,191.5 102.5,191.2 102.4,183.4 102.3,184.7 102.2,184.2 102.1,182.6 102.0,183.3 101.9,184.5 101.8,189.1 101.7,201.2 101.5,181.3 101.4,187.7 101.3,185.7 101.2,181.4 101.1,183.3 101.0,180.9 100.9,186.8 100.8,178.6 100.7,189.5 100.6,184.3 100.5,177.6 100.4,174.8 100.3,175.7 100.2,176.9 100.1,180.0 100.0,180.2 99.9,174.0 99.8,180.3 99.7,181.2 99.6,174.1 99.5,172.2 99.4,173.9 99.3,176.0 99.2,172.7 99.1,176.7 99.0,172.6 98.9,169.5 98.7,175.9 98.6,178.0 98.5,176.9 98.4,189.6 98.3,175.7 98.2,205.8 98.1,177.3 98.0,173.5 97.9,173.4 97.8,177.8 97.7,167.1 97.6,173.6 97.5,167.9 97.4,173.8 97.3,174.7 97.2,165.5 97.1,177.2 97.0,174.6 96.9,171.4 96.8,171.7 96.7,178.9 96.6,170.5 96.5,177.2 96.4,171.2 96.3,172.3 96.2,175.9 96.0,170.0 95.9,176.5 95.8,173.1 95.7,175.3 95.6,170.7 95.5,171.6 95.4,178.6 95.3,177.5 95.2,186.7 95.1,175.6 95.0,181.4 94.9,181.0 94.8,174.8 94.7,176.7 94.6,189.8 94.5,187.0 94.4,174.9 94.3,177.8 94.2,184.8 94.1,186.3 94.0,175.9 93.9,180.9 93.8,178.3 93.7,182.9 93.6,182.9 93.5,183.5 93.4,202.3 93.2,190.7 93.1,198.6 93.0,202.7 92.9,191.9 92.8,185.9 92.7,193.8 92.6,189.8 92.5,184.5 92.4,185.0 92.3,190.3 92.2,184.4 92.1,184.3 92.0,186.7 91.9,192.3 91.8,197.5 91.7,190.2 91.6,203.1 91.5,196.2 91.4,195.5 91.3,185.9 91.2,186.7 91.1,200.7 91.0,194.4 90.9,192.3 90.8,197.6 90.7,194.5 90.5,198.3 90.4,196.7 90.3,192.7 90.2,205.1 90.1,198.8 90.0,205.2 89.9,200.6 89.8,200.0 89.7,203.1 89.6,201.9 89.5,202.3 89.4,213.7 89.3,211.1 89.2,210.9 89.1,213.6 89.0,207.5 88.9,214.1 88.8,204.2 88.7,214.2 88.6,211.3 88.5,211.1 88.4,216.4 88.3,218.0 88.2,222.1 88.1,215.0 88.0,213.5 87.9,214.5 87.7,217.1 87.6,216.8 87.5,217.5 87.4,219.0 87.3,223.1 87.2,222.3 87.1,223.6 87.0,223.4 86.9,226.2 86.8,239.6 86.7,225.1 86.6,224.7 86.5,231.6 86.4,226.8 86.3,227.2 86.2,230.3 86.1,234.0 86.0,229.3 85.9,246.2 85.8,235.3 85.7,236.5 85.6,239.5 85.5,234.1 85.4,237.9 85.3,238.8 85.2,234.5 85.0,238.7 84.9,236.5 84.8,239.2 84.7,239.4 84.6,241.7 84.5,241.0 84.4,244.1 84.3,242.6 84.2,236.9 84.1,240.5 84.0,241.2 83.9,240.6 83.8,239.0 83.7,242.0 83.6,243.0 83.5,244.9 83.4,240.4 83.3,244.8 83.2,245.9 83.1,242.0 83.0,244.4 82.9,244.0 82.8,244.6 82.7,251.7 82.6,247.9 82.5,246.9 82.3,248.5 82.2,246.0 82.1,246.6 82.0,249.9 81.9,254.1 81.8,248.2 81.7,250.9 81.6,248.1 81.5,248.2 81.4,252.3 81.3,246.7 81.2,253.8 81.1,249.2 81.0,249.3 80.9,248.4 80.8,251.6 80.7,251.6 80.6,251.4 80.5,252.3 80.4,251.5 80.3,255.8 80.2,252.6 80.1,252.3 80.0,250.5 79.9,253.2 79.8,253.2 79.7,253.9 79.5,254.9 79.4,257.2 79.3,258.9 79.2,253.9 79.1,256.5 79.0,259.2 78.9,255.2 78.8,255.9 78.7,257.3 78.6,255.9 78.5,257.6 78.4,255.1 78.3,255.5 78.2,254.8 78.1,259.6 78.0,264.9 77.9,257.4 77.8,260.5 77.7,261.7 77.6,258.2 77.5,256.3 77.4,265.1 77.3,258.1 77.2,256.9 77.1,257.9 77.0,263.3 76.8,258.5 76.7,259.4 76.6,258.3 76.5,263.3 76.4,257.8 76.3,260.8 76.2,262.6 76.1,258.0 76.0,263.3 75.9,260.6 75.8,260.4 75.7,263.9 75.6,263.0 75.5,261.8" fill="#c3d3f1"/>
<polygon points="75.5,209.9 75.6,207.5 75.7,210.7 75.8,208.1 75.9,209.8 76.0,210.8 76.1,209.9 76.2,205.2 76.3,209.5 76.4,210.3 76.5,209.9 76.6,211.1 76.7,209.2 76.8,207.2 77.0,208.0 77.1,206.6 77.2,208.6 77.3,213.0 77.4,206.4 77.5,211.7 77.6,208.7 77.7,210.7 77.8,208.8 77.9,203.9 78.0,210.4 78.1,209.5 78.2,212.0 78.3,209.5 78.4,208.7 78.5,206.7 78.6,210.6 78.7,207.8 78.8,210.2 78.9,207.8 79.0,211.8 79.1,209.6 79.2,208.2 79.3,211.9 79.4,210.1 79.5,210.6 79.7,210.7 79.8,209.7 79.9,210.8 80.0,211.3 80.1,210.1 80.2,209.1 80.3,211.0 80.4,211.6 80.5,209.5 80.6,210.5 80.7,212.0 80.8,211.3 80.9,212.0 81.0,209.9 81.1,206.6 81.2,207.6 81.3,212.2 81.4,212.6 81.5,211.0 81.6,206.1 81.7,209.6 81.8,210.0 81.9,208.9 82.0,211.0 82.1,205.9 82.2,210.6 82.3,209.8 82.5,209.5 82.6,210.3 82.7,212.4 82.8,206.4 82.9,202.7 83.0,206.6 83.1,211.5 83.2,205.7 83.3,208.6 83.4,206.0 83.5,207.7 83.6,208.2 83.7,208.4 83.8,206.9 83.9,207.1 84.0,205.2 84.1,206.6 84.2,207.2 84.3,206.1 84.4,207.6 84.5,207.1 84.6,209.3 84.7,210.7 84.8,207.3 84.9,205.8 85.0,206.8 85.2,205.4 85.3,200.4 85.4,202.0 85.5,200.2 85.6,192.5 85.7,193.6 85.8,192.7 85.9,187.6 86.0,186.6 86.1,183.8 86.2,188.4 86.3,184.3 86.4,179.5 86.5,182.0 86.6,178.2 86.7,176.6 86.8,178.1 86.9,166.4 87.0,170.4 87.1,173.4 87.2,170.6 87.3,169.3 87.4,163.3 87.5,165.7 87.6,159.2 87.7,159.7 87.9,159.2 88.0,156.1 88.1,154.2 88.2,154.9 88.3,155.9 88.4,141.5 88.5,142.2 88.6,150.5 88.7,145.3 88.8,138.6 88.9,137.2 89.0,136.5 89.1,140.0 89.2,134.1 89.3,136.5 89.4,127.2 89.5,132.8 89.6,130.9 89.7,123.3 89.8,126.3 89.9,131.0 90.0,125.2 90.1,119.1 90.2,118.2 90.3,121.6 90.4,123.2 90.5,120.2 90.7,109.4 90.8,124.2 90.9,116.3 91.0,109.7 91.1,113.7 91.2,115.8 91.3,112.9 91.4,93.9 91.5,113.2 91.6,107.9 91.7,107.3 91.8,95.6 91.9,101.8 92.0,101.8 92.1,103.1 92.2,98.1 92.3,102.5 92.4,104.6 92.5,101.0 92.6,97.7 92.7,95.0 92.8,91.5 92.9,98.8 93.0,100.5 93.1,99.8 93.2,94.7 93.4,102.2 93.5,95.7 93.6,72.7 93.7,90.7 93.8,98.3 93.9,89.8 94.0,91.3 94.1,88.4 94.2,84.1 94.3,90.8 94.4,83.4 94.5,84.2 94.6,93.0 94.7,67.5 94.8,94.2 94.9,84.0 95.0,85.8 95.1,90.1 95.2,81.2 95.3,88.6 95.4,85.0 95.5,82.0 95.6,81.9 95.7,85.4 95.8,81.7 95.9,86.5 96.0,81.9 96.2,85.4 96.3,85.6 96.4,82.7 96.5,81.1 96.6,90.3 96.7,86.0 96.8,80.6 96.9,84.1 97.0,88.4 97.1,83.8 97.2,87.5 97.3,80.6 97.4,88.5 97.5,87.2 97.6,85.1 97.7,85.3 97.8,85.7 97.9,87.7 98.0,82.9 98.1,86.4 98.2,88.8 98.3,74.3 98.4,83.9 98.5,85.0 98.6,81.5 98.7,87.1 98.9,81.9 99.0,81.2 99.1,82.6 99.2,83.2 99.3,82.6 99.4,79.4 99.5,74.1 99.6,96.3 99.7,85.2 99.8,87.0 99.9,81.7 100.0,87.9 100.1,85.7 100.2,90.8 100.3,85.1 100.4,87.3 100.5,85.2 100.6,66.6 100.7,81.6 100.8,90.1 100.9,93.0 101.0,94.4 101.1,85.7 101.2,97.5 101.3,93.5 101.4,98.5 101.5,99.3 101.7,100.1 101.8,84.1 101.9,97.1 102.0,105.7 102.1,104.1 102.2,106.3 102.3,103.6 102.4,104.8 102.5,95.8 102.6,107.3 102.7,109.8 102.8,106.0 102.9,100.2 103.0,110.0 103.1,107.5 103.2,105.9 103.3,117.1 103.4,113.2 103.5,115.6 103.6,113.2 103.7,101.9 103.8,118.3 103.9,119.0 104.0,120.1 104.1,122.6 104.2,124.5 104.4,124.0 104.5,124.9 104.6,121.3 104.7,126.9 104.8,132.4 104.9,130.2 105.0,133.4 105.1,124.6 105.2,134.2 105.3,138.7 105.4,141.3 105.5,137.7 105.6,141.3 105.7,146.6 105.8,144.8 105.9,148.6 106.0,143.6 106.1,148.4 106.2,145.9 106.3,148.5 106.4,150.6 106.5,155.8 106.6,156.1 106.7,160.2 106.8,162.2 106.9,163.9 107.1,167.4 107.2,171.2 107.3,161.0 107.4,169.4 107.5,173.3 107.6,172.4 107.7,173.4 107.8,173.0 107.9,178.2 108.0,178.9 108.1,187.3 108.2,177.9 108.3,183.8 108.4,188.6 108.5,189.4 108.6,195.5 108.7,193.7 108.8,192.4 108.9,197.0 109.0,198.9 109.1,200.1 109.2,205.7 109.3,207.5 109.4,204.3 109.5,207.7 109.6,206.7 109.7,204.3 109.9,209.2 110.0,210.6 110.1,200.5 110.2,211.6 110.3,209.3 110.4,204.9 110.5,206.2 110.6,211.8 110.7,209.8 110.8,212.0 110.9,206.4 111.0,206.9 111.1,208.4 111.2,210.0 111.3,207.2 111.4,208.3 111.5,206.5 111.6,209.8 111.7,205.6 111.8,206.0 111.9,208.8 112.0,208.3 112.1,206.3 112.2,208.0 112.3,204.8 112.4,205.6 112.6,208.7 112.7,201.8 112.8,209.7 112.9,206.1 113.0,204.2 113.1,206.7 113.2,203.0 113.3,207.9 113.4,206.0 113.5,209.0 113.6,204.7 113.7,204.3 113.8,210.5 113.9,209.3 114.0,205.6 114.1,209.9 114.2,205.7 114.3,206.2 114.4,206.4 114.5,207.2 114.6,207.1 114.7,208.5 114.8,209.3 114.9,201.6 115.0,206.7 115.1,207.2 115.2,204.8 115.4,202.7 115.5,209.0 115.6,210.5 115.7,206.7 115.8,200.3 115.9,206.8 116.0,209.4 116.1,208.8 116.2,205.7 116.3,206.8 116.4,209.7 116.5,207.6 116.6,209.4 116.7,207.4 116.8,203.4 116.9,200.2 117.0,205.9 117.1,207.5 117.2,204.6 117.3,206.5 117.4,208.2 117.5,205.5 117.6,208.0 117.7,206.3 117.8,206.6 117.9,208.8 118.1,207.4 118.2,206.7 118.3,207.8 118.4,209.9 118.5,204.5 118.6,206.7 118.7,209.2 118.8,205.5 118.9,206.1 119.0,207.4 119.1,204.6 119.2,210.5 119.3,208.6 119.4,207.6 119.5,206.6 119.6,210.5 119.7,209.7 119.8,208.8 119.9,208.8 120.0,207.1 120.1,208.5 120.2,209.6 120.3,210.2 120.4,205.6 120.5,205.3 120.6,207.9 120.7,206.1 120.9,200.0 121.0,205.1 121.1,208.8 121.2,207.8 121.3,209.0 121.4,211.1 121.5,210.6 121.6,207.9 121.7,208.4 121.8,205.8 121.9,207.8 122.0,208.7 122.1,206.9 122.2,204.5 122.3,205.7 122.4,198.2 122.5,200.2 122.6,197.0 122.7,198.9 122.8,194.5 122.9,192.0 123.0,192.7 123.1,190.6 123.2,188.4 123.3,188.9 123.4,190.1 123.6,188.4 123.7,186.3 123.8,186.1 123.9,186.2 124.0,182.6 124.1,179.9 124.2,172.4 124.3,177.3 124.4,173.5 124.5,172.7 124.6,171.1 124.7,172.3 124.8,166.4 124.9,167.5 125.0,160.4 125.1,162.5 125.2,165.3 125.3,157.9 125.4,162.1 125.5,161.7 125.6,149.0 125.7,152.5 125.8,149.7 125.9,152.3 126.0,151.0 126.1,151.1 126.2,144.3 126.4,147.3 126.5,144.7 126.6,138.6 126.7,144.2 126.8,137.0 126.9,141.9 127.0,131.7 127.1,137.6 127.2,135.7 127.3,133.2 127.4,133.2 127.5,130.5 127.6,129.7 127.7,130.4 127.8,125.9 127.9,124.5 128.0,120.6 128.1,122.6 128.2,124.9 128.3,121.6 128.4,116.4 128.5,116.2 128.6,112.7 128.7,109.1 128.8,110.5 128.9,108.8 129.1,108.6 129.2,107.7 129.3,108.2 129.4,104.3 129.5,103.1 129.6,106.4 129.7,104.6 129.8,97.6 129.9,101.0 130.0,94.3 130.1,89.7 130.2,101.0 130.3,89.3 130.4,98.5 130.5,92.3 130.6,93.6 130.7,93.9 130.8,95.9 130.9,88.6 131.0,88.3 131.1,96.4 131.2,84.7 131.3,81.3 131.4,82.4 131.5,90.6 131.6,87.2 131.8,86.7 131.9,96.9 132.0,79.3 132.1,81.5 132.2,83.7 132.3,76.1 132.4,77.0 132.5,76.0 132.6,85.7 132.7,73.4 132.8,79.2 132.9,74.1 133.0,83.0 133.1,80.1 133.2,80.9 133.3,81.3 133.4,82.5 133.5,77.4 133.6,74.9 133.7,77.3 133.8,79.3 133.9,85.8 134.0,76.5 134.1,82.6 134.2,74.1 134.3,75.1 134.4,76.1 134.6,79.2 134.7,73.9 134.8,83.1 134.9,72.8 135.0,76.1 135.1,81.0 135.2,77.8 135.3,38.9 135.4,78.0 135.5,75.3 135.6,81.1 135.7,87.4 135.8,85.4 135.9,81.4 136.0,70.5 136.1,69.1 136.2,73.6 136.3,82.2 136.4,80.7 136.5,79.9 136.6,82.8 136.7,85.5 136.8,84.5 136.9,77.8 137.0,86.4 137.1,93.2 137.3,80.4 137.4,88.6 137.5,84.0 137.6,91.2 137.7,98.2 137.8,93.4 137.9,97.6 138.0,92.2 138.1,93.0 138.2,94.6 138.3,89.1 138.4,100.5 138.5,102.3 138.6,92.3 138.7,92.8 138.8,99.3 138.9,104.2 139.0,93.2 139.1,111.0 139.2,109.1 139.3,105.0 139.4,113.3 139.5,108.0 139.6,110.5 139.7,110.9 139.8,111.1 139.9,110.7 140.1,110.7 140.2,114.7 140.3,122.7 140.4,118.5 140.5,121.2 140.6,122.4 140.7,129.7 140.8,124.9 140.9,124.7 141.0,119.3 141.1,112.9 141.2,133.6 141.3,128.3 141.4,125.1 141.5,124.4 141.6,134.4 141.7,131.2 141.8,138.4 141.9,131.3 142.0,131.7 142.1,134.3 142.2,139.8 142.3,141.0 142.4,143.4 142.5,146.5 142.6,146.8 142.8,141.0 142.9,154.3 143.0,151.1 143.1,150.7 143.2,157.5 143.3,159.6 143.4,162.4 143.5,154.1 143.6,159.3 143.7,164.0 143.8,162.6 143.9,166.0 144.0,165.8 144.1,170.4 144.2,168.0 144.3,169.4 144.4,169.2 144.5,173.0 144.6,173.9 144.7,172.4 144.8,175.9 144.9,178.8 145.0,182.2 145.1,184.5 145.2,184.1 145.3,186.0 145.4,189.5 145.6,189.3 145.7,192.3 145.8,192.1 145.9,193.9 146.0,194.7 146.1,194.3 146.2,198.1 146.3,203.3 146.4,199.7 146.5,202.7 146.6,200.4 146.7,206.2 146.8,207.5 146.9,209.9 147.0,206.4 147.1,205.6 147.2,210.1 147.3,207.9 147.4,210.4 147.5,209.9 147.6,205.1 147.7,206.4 147.8,204.0 147.9,209.2 148.0,204.2 148.1,204.8 148.3,203.6 148.4,200.5 148.5,196.6 148.6,204.1 148.7,205.7 148.8,205.2 148.9,205.9 149.0,206.0 149.1,206.7 149.2,205.0 149.3,206.7 149.4,207.9 149.5,203.9 149.6,205.1 149.7,196.9 149.8,205.7 149.9,207.1 150.0,207.6 150.1,204.6 150.2,204.1 150.3,206.6 150.4,206.5 150.5,205.2 150.6,203.9 150.7,204.7 150.8,204.7 151.0,205.9 151.1,205.6 151.2,204.1 151.3,207.9 151.4,202.2 151.5,205.5 151.6,206.3 151.7,204.8 151.8,205.0 151.9,206.8 152.0,203.5 152.1,207.1 152.2,206.0 152.3,207.6 152.4,208.2 152.5,204.1 152.6,206.7 152.7,207.9 152.8,207.2 152.9,201.7 153.0,208.0 153.1,206.1 153.2,206.4 153.3,203.9 153.4,206.5 153.5,197.8 153.6,202.0 153.8,202.9 153.9,204.7 154.0,205.4 154.1,207.5 154.2,206.4 154.3,205.7 154.4,205.9 154.5,204.4 154.6,204.9 154.7,203.8 154.8,204.1 154.9,206.0 155.0,202.5 155.1,205.0 155.2,204.1 155.3,204.8 155.4,204.4 155.5,205.1 155.6,201.5 155.7,205.4 155.8,200.9 155.9,208.9 156.0,205.2 156.1,205.4 156.2,203.7 156.3,206.5 156.5,205.2 156.6,206.7 156.7,208.3 156.8,207.4 156.9,203.3 157.0,207.9 157.1,202.6 157.2,207.7 157.3,204.3 157.4,203.8 157.5,200.6 157.6,206.7 157.7,205.7 157.8,201.7 157.9,206.0 158.0,209.4 158.1,203.5 158.2,205.6 158.3,205.3 158.4,206.5 158.5,211.9 158.6,206.0 158.7,206.4 158.8,204.0 158.9,205.3 159.0,207.0 159.1,204.5 159.3,206.2 159.4,205.5 159.5,206.2 159.6,204.9 159.7,202.3 159.8,205.2 159.9,202.8 160.0,204.3 160.1,205.8 160.2,205.7 160.3,202.8 160.4,200.5 160.5,198.4 160.6,198.1 160.7,196.6 160.8,191.3 160.9,189.6 161.0,187.9 161.1,186.6 161.2,188.0 161.3,177.2 161.4,177.9 161.5,175.8 161.6,175.1 161.7,169.4 161.8,175.9 162.0,166.2 162.1,167.2 162.2,172.3 162.3,161.3 162.4,159.5 162.5,161.8 162.6,158.1 162.7,151.8 162.8,154.9 162.9,156.7 163.0,150.0 163.1,147.4 163.2,149.2 163.3,141.3 163.4,146.4 163.5,140.1 163.6,137.3 163.7,138.4 163.8,135.4 163.9,137.6 164.0,115.6 164.1,131.9 164.2,132.5 164.3,128.5 164.4,123.3 164.5,126.3 164.6,129.1 164.8,125.9 164.9,117.2 165.0,119.8 165.1,121.4 165.2,115.9 165.3,112.9 165.4,112.2 165.5,114.4 165.6,105.2 165.7,109.5 165.8,105.5 165.9,102.4 166.0,106.1 166.1,104.9 166.2,108.6 166.3,106.1 166.4,95.6 166.5,100.8 166.6,97.8 166.7,84.4 166.8,88.2 166.9,87.9 167.0,95.4 167.1,93.4 167.2,96.8 167.3,89.5 167.5,77.2 167.6,92.8 167.7,93.7 167.8,92.6 167.9,87.9 168.0,92.8 168.1,83.8 168.2,80.7 168.3,88.0 168.4,85.5 168.5,84.2 168.6,81.5 168.7,76.1 168.8,81.0 168.9,76.6 169.0,83.3 169.1,80.2 169.2,90.1 169.3,78.5 169.4,77.4 169.5,78.4 169.6,82.2 169.7,81.9 169.8,88.1 169.9,79.0 170.0,81.6 170.2,77.5 170.3,77.5 170.4,75.4 170.5,81.6 170.6,75.0 170.7,76.0 170.8,79.5 170.9,78.3 171.0,79.4 171.1,83.1 171.2,76.7 171.3,79.0 171.4,70.6 171.5,73.2 171.6,74.1 171.7,78.7 171.8,78.2 171.9,78.9 172.0,73.3 172.1,78.3 172.2,77.9 172.3,66.5 172.4,86.3 172.5,77.0 172.6,74.2 172.7,74.2 172.8,78.5 173.0,76.9 173.1,67.4 173.2,74.6 173.3,83.4 173.4,80.7 173.5,70.7 173.6,77.1 173.7,75.4 173.8,79.9 173.9,89.2 174.0,78.3 174.1,72.0 174.2,74.1 174.3,84.4 174.4,80.4 174.5,80.9 174.6,69.2 174.7,76.7 174.8,84.8 174.9,81.3 175.0,73.2 175.1,76.4 175.2,76.8 175.3,47.8 175.4,86.3 175.5,69.2 175.7,81.9 175.8,85.3 175.9,82.2 176.0,72.0 176.1,76.0 176.2,79.7 176.3,82.5 176.4,75.6 176.5,78.2 176.6,75.1 176.7,86.4 176.8,84.8 176.9,82.0 177.0,88.7 177.1,91.7 177.2,81.4 177.3,84.5 177.4,92.1 177.5,89.0 177.6,87.1 177.7,87.6 177.8,93.5 177.9,95.0 178.0,94.9 178.1,93.4 178.2,102.0 178.3,89.0 178.5,99.0 178.6,99.1 178.7,102.7 178.8,103.8 178.9,98.9 179.0,102.3 179.1,103.1 179.2,107.9 179.3,103.5 179.4,109.3 179.5,108.1 179.6,114.2 179.7,109.9 179.8,111.4 179.9,112.6 180.0,118.7 180.1,117.6 180.2,117.9 180.3,116.1 180.4,117.2 180.5,121.8 180.6,124.9 180.7,129.2 180.8,132.6 180.9,133.9 181.0,128.0 181.2,139.6 181.3,135.6 181.4,140.3 181.5,137.6 181.6,140.7 181.7,134.7 181.8,132.4 181.9,147.5 182.0,144.6 182.1,149.8 182.2,148.1 182.3,153.6 182.4,159.4 182.5,145.2 182.6,158.5 182.7,152.5 182.8,160.9 182.9,166.2 183.0,165.5 183.1,163.1 183.2,169.2 183.3,167.7 183.4,170.3 183.5,172.0 183.6,172.9 183.7,181.1 183.8,183.7 184.0,180.2 184.1,178.2 184.2,185.3 184.3,185.1 184.4,188.7 184.5,191.6 184.6,196.0 184.7,192.8 184.8,198.0 184.9,200.0 185.0,202.8 185.1,203.1 185.2,203.9 185.3,204.7 185.4,205.0 185.5,204.0 185.6,196.9 185.7,203.2 185.8,203.0 185.9,201.7 186.0,202.6 186.1,201.3 186.2,201.2 186.3,205.0 186.4,202.1 186.5,203.4 186.7,201.3 186.8,204.8 186.9,199.4 187.0,206.8 187.1,203.7 187.2,202.2 187.3,206.3 187.4,203.9 187.5,202.1 187.6,204.6 187.7,202.2 187.8,206.2 187.9,205.4 188.0,198.8 188.1,202.9 188.2,202.2 188.3,206.6 188.4,204.2 188.5,197.6 188.6,205.0 188.7,204.6 188.8,201.4 188.9,199.4 189.0,202.9 189.1,203.1 189.2,204.6 189.3,202.3 189.5,193.0 189.6,206.5 189.7,201.0 189.8,204.4 189.9,204.2 190.0,202.4 190.1,201.4 190.2,200.9 190.3,204.1 190.4,202.7 190.5,201.0 190.6,203.7 190.7,203.6 190.8,202.5 190.9,200.6 191.0,200.6 191.1,201.6 191.2,200.3 191.3,202.6 191.4,203.6 191.5,202.1 191.6,199.8 191.7,201.3 191.8,202.2 191.9,202.7 192.0,201.7 192.2,205.8 192.3,199.9 192.4,201.2 192.5,203.8 192.6,202.3 192.7,198.7 192.8,201.1 192.9,199.0 193.0,202.3 193.1,204.1 193.2,203.3 193.3,200.7 193.4,202.2 193.5,203.7 193.6,203.0 193.7,201.2 193.8,199.6 193.9,202.7 194.0,202.6 194.1,202.9 194.2,204.4 194.3,202.2 194.4,205.0 194.5,202.0 194.6,201.8 194.7,202.8 194.9,204.8 195.0,204.5 195.1,202.2 195.2,205.3 195.3,204.7 195.4,201.9 195.5,203.8 195.6,202.1 195.7,202.8 195.8,198.3 195.9,202.8 196.0,204.9 196.1,205.5 196.2,200.5 196.3,201.9 196.4,202.4 196.5,199.7 196.6,197.4 196.7,198.3 196.8,201.5 196.9,204.4 197.0,201.7 197.1,203.9 197.2,203.3 197.3,197.4 197.4,200.8 197.5,204.8 197.7,201.3 197.8,190.7 197.9,204.8 198.0,200.7 198.1,201.3 198.2,204.0 198.3,198.1 198.4,204.1 198.5,198.3 198.6,195.1 198.7,191.9 198.8,191.7 198.9,189.7 199.0,193.8 199.1,187.5 199.2,186.3 199.3,178.3 199.4,179.0 199.5,182.4 199.6,175.5 199.7,179.9 199.8,174.2 199.9,175.5 200.0,169.0 200.1,169.2 200.2,164.0 200.4,165.3 200.5,165.7 200.6,162.0 200.7,162.9 200.8,160.4 200.9,157.3 201.0,155.4 201.1,155.5 201.2,151.8 201.3,151.0 201.4,150.1 201.5,153.2 201.6,146.6 201.7,146.4 201.8,139.7 201.9,143.9 202.0,142.7 202.1,144.4 202.2,135.6 202.3,140.5 202.4,130.0 202.5,137.2 202.6,134.2 202.7,136.8 202.8,128.6 202.9,125.5 203.0,114.2 203.2,121.7 203.3,122.4 203.4,120.1 203.5,119.6 203.6,110.8 203.7,110.4 203.8,112.7 203.9,118.2 204.0,111.8 204.1,108.7 204.2,113.8 204.3,106.9 204.4,101.1 204.5,103.7 204.6,106.4 204.7,98.9 204.8,104.3 204.9,96.1 205.0,90.0 205.1,101.3 205.2,94.7 205.3,91.5 205.4,93.0 205.5,94.7 205.6,92.1 205.7,92.9 205.9,93.4 206.0,89.9 206.1,90.1 206.2,90.6 206.3,88.9 206.4,91.1 206.5,84.0 206.6,87.0 206.7,80.0 206.8,76.2 206.9,81.6 207.0,82.8 207.1,76.6 207.2,85.8 207.3,79.5 207.4,75.5 207.5,81.8 207.6,78.9 207.7,78.0 207.8,66.8 207.9,67.4 208.0,72.2 208.1,63.0 208.2,66.2 208.3,68.7 208.4,72.4 208.5,78.7 208.7,75.2 208.8,74.0 208.9,60.4 209.0,69.4 209.1,74.5 209.2,67.7 209.3,74.1 209.4,71.1 209.5,70.9 209.6,66.7 209.7,78.2 209.8,68.1 209.9,67.4 210.0,77.7 210.1,71.3 210.2,74.4 210.3,72.1 210.4,73.4 210.5,67.7 210.6,43.3 210.7,68.6 210.8,67.8 210.9,85.2 211.0,74.8 211.1,69.8 211.2,74.1 211.4,62.9 211.5,65.8 211.6,71.2 211.7,71.7 211.8,62.7 211.9,69.3 212.0,75.1 212.1,70.2 212.2,76.1 212.3,71.1 212.4,68.7 212.5,71.1 212.6,73.9 212.7,73.5 212.8,73.0 212.9,76.8 213.0,66.8 213.1,76.0 213.2,74.3 213.3,80.4 213.4,76.0 213.5,79.9 213.6,77.0 213.7,78.9 213.8,87.1 213.9,80.0 214.1,79.0 214.2,79.7 214.3,84.3 214.4,91.9 214.5,88.1 214.6,80.0 214.7,85.9 214.8,85.0 214.9,100.1 215.0,91.0 215.1,90.7 215.2,93.0 215.3,91.4 215.4,91.2 215.5,94.0 215.6,101.5 215.7,102.5 215.8,96.4 215.9,102.2 216.0,101.5 216.1,97.9 216.2,107.8 216.3,103.1 216.4,105.2 216.5,110.3 216.6,110.2 216.7,114.6 216.9,112.8 217.0,111.8 217.1,117.9 217.2,117.1 217.3,119.4 217.4,116.6 217.5,116.4 217.6,123.5 217.7,127.5 217.8,121.1 217.9,127.5 218.0,127.0 218.1,126.9 218.2,130.9 218.3,129.0 218.4,138.6 218.5,136.9 218.6,138.3 218.7,136.9 218.8,140.3 218.9,142.8 219.0,148.2 219.1,141.5 219.2,145.1 219.3,149.1 219.4,148.5 219.6,153.2 219.7,155.9 219.8,155.5 219.9,160.3 220.0,159.9 220.1,165.3 220.2,160.5 220.3,157.3 220.4,161.1 220.5,166.9 220.6,169.2 220.7,173.7 220.8,172.0 220.9,161.7 221.0,172.1 221.1,178.0 221.2,180.0 221.3,177.5 221.4,184.8 221.5,186.8 221.6,182.5 221.7,170.2 221.8,188.3 221.9,188.7 222.0,186.7 222.1,196.1 222.2,194.8 222.4,193.5 222.5,202.1 222.6,201.4 222.7,202.2 222.8,203.6 222.9,203.5 223.0,198.6 223.1,201.5 223.2,199.3 223.3,204.9 223.4,200.9 223.5,200.6 223.6,203.4 223.7,199.1 223.8,202.6 223.9,201.7 224.0,202.1 224.1,201.4 224.2,201.9 224.3,197.0 224.4,199.4 224.5,200.9 224.6,197.6 224.7,196.9 224.8,200.6 224.9,200.2 225.1,201.5 225.2,201.3 225.3,202.0 225.4,201.8 225.5,200.5 225.6,202.1 225.7,200.4 225.8,197.5 225.9,202.4 226.0,192.6 226.1,201.7 226.2,194.4 226.3,193.6 226.4,206.1 226.5,201.9 226.6,199.8 226.7,201.1 226.8,200.1 226.9,202.0 227.0,202.8 227.1,203.0 227.2,197.8 227.3,193.7 227.4,201.1 227.5,200.9 227.6,202.0 227.7,199.6 227.9,202.0 228.0,203.4 228.1,199.2 228.2,201.1 228.3,198.7 228.4,203.3 228.5,202.7 228.6,200.5 228.7,201.2 228.8,199.3 228.9,201.9 229.0,202.8 229.1,200.6 229.2,199.9 229.3,199.6 229.4,200.4 229.5,200.1 229.6,198.8 229.7,205.4 229.8,198.9 229.9,200.7 230.0,199.1 230.1,203.6 230.2,200.7 230.3,204.0 230.4,199.1 230.6,200.9 230.7,202.7 230.8,196.7 230.9,199.7 231.0,203.1 231.1,204.2 231.2,197.9 231.3,199.0 231.4,199.1 231.5,200.3 231.6,201.5 231.7,199.2 231.8,203.3 231.9,200.7 232.0,199.6 232.1,203.4 232.2,200.8 232.3,197.9 232.4,203.6 232.5,199.2 232.6,200.3 232.7,200.9 232.8,200.4 232.9,200.5 233.0,199.2 233.1,199.2 233.3,203.4 233.4,201.7 233.5,204.1 233.6,200.1 233.7,200.1 233.8,202.0 233.9,200.6 234.0,199.6 234.1,194.9 234.2,200.5 234.3,197.3 234.4,204.2 234.5,202.2 234.6,195.1 234.7,202.1 234.8,203.5 234.9,201.4 235.0,200.0 235.1,198.3 235.2,203.1 235.3,199.9 235.4,203.1 235.5,197.8 235.6,200.6 235.7,205.2 235.8,201.9 235.9,200.5 236.1,200.7 236.2,202.5 236.3,201.1 236.4,197.4 236.5,193.5 236.6,190.1 236.7,190.6 236.8,187.0 236.9,190.9 237.0,189.9 237.1,186.1 237.2,182.5 237.3,185.1 237.4,180.6 237.5,178.2 237.6,175.4 237.7,177.7 237.8,166.3 237.9,170.2 238.0,151.9 238.1,164.4 238.2,165.1 238.3,159.4 238.4,164.2 238.5,158.3 238.6,163.3 238.8,158.6 238.9,158.0 239.0,153.6 239.1,151.9 239.2,151.5 239.3,148.3 239.4,150.6 239.5,143.6 239.6,145.2 239.7,145.9 239.8,139.4 239.9,136.8 240.0,136.8 240.1,136.9 240.2,134.7 240.3,134.6 240.4,126.8 240.5,132.4 240.6,122.8 240.7,125.2 240.8,130.6 240.9,115.9 241.0,123.1 241.1,118.6 241.2,120.3 241.3,120.1 241.4,112.3 241.6,111.8 241.7,103.4 241.8,108.6 241.9,109.4 242.0,110.3 242.1,108.9 242.2,107.1 242.3,102.9 242.4,102.2 242.5,99.3 242.6,101.7 242.7,95.3 242.8,95.8 242.9,103.5 243.0,94.9 243.1,85.2 243.2,77.8 243.3,92.3 243.4,91.4 243.5,87.4 243.6,76.4 243.7,85.4 243.8,83.1 243.9,88.5 244.0,84.9 244.1,80.2 244.3,85.0 244.4,79.0 244.5,76.6 244.6,80.1 244.7,73.7 244.8,80.7 244.9,80.4 245.0,80.4 245.1,71.6 245.2,75.1 245.3,70.9 245.4,76.8 245.5,64.3 245.6,72.6 245.7,68.8 245.8,69.6 245.9,47.9 246.0,71.5 246.1,67.7 246.2,70.7 246.3,56.7 246.4,59.8 246.5,55.5 246.6,68.8 246.7,65.6 246.8,69.5 246.9,61.8 247.1,62.4 247.2,59.9 247.3,49.7 247.4,70.3 247.5,62.7 247.6,53.4 247.7,64.0 247.8,58.6 247.9,63.6 248.0,49.6 248.1,61.0 248.2,57.4 248.3,59.4 248.4,45.7 248.5,60.5 248.6,61.9 248.7,59.1 248.8,62.7 248.9,70.9 249.0,60.0 249.1,65.5 249.2,66.6 249.3,60.5 249.4,71.1 249.5,54.4 249.6,60.9 249.8,61.7 249.9,58.8 250.0,64.4 250.1,68.0 250.2,60.2 250.3,64.8 250.4,64.6 250.5,66.5 250.6,64.6 250.7,62.3 250.8,65.7 250.9,68.6 251.0,64.1 251.1,66.5 251.2,66.6 251.3,70.3 251.4,67.5 251.5,70.6 251.6,75.1 251.7,68.4 251.8,74.6 251.9,75.9 252.0,65.1 252.1,69.1 252.2,75.8 252.3,75.3 252.4,77.9 252.6,80.1 252.7,75.2 252.8,77.9 252.9,82.8 253.0,83.4 253.1,86.9 253.2,88.1 253.3,87.7 253.4,84.5 253.5,85.0 253.6,94.6 253.7,87.1 253.8,80.7 253.9,92.2 254.0,99.9 254.1,98.7 254.2,94.3 254.3,96.3 254.4,99.0 254.5,94.4 254.6,103.1 254.7,102.1 254.8,107.4 254.9,100.9 255.0,110.3 255.1,108.9 255.3,109.9 255.4,111.9 255.5,117.3 255.6,114.4 255.7,123.2 255.8,114.7 255.9,123.5 256.0,101.5 256.1,126.1 256.2,127.2 256.3,122.8 256.4,128.2 256.5,131.0 256.6,130.0 256.7,138.8 256.8,119.2 256.9,134.3 257.0,140.7 257.1,127.4 257.2,136.8 257.3,143.7 257.4,144.2 257.5,145.1 257.6,147.9 257.7,149.4 257.8,153.5 258.0,147.5 258.1,149.8 258.2,159.4 258.3,159.9 258.4,158.5 258.5,161.9 258.6,160.5 258.7,166.4 258.8,167.1 258.9,167.7 259.0,173.6 259.1,172.3 259.2,172.3 259.3,165.1 259.4,180.3 259.5,183.5 259.6,180.4 259.7,180.9 259.8,185.3 259.9,188.9 260.0,193.1 260.1,189.8 260.2,192.2 260.3,197.4 260.4,197.1 260.5,197.4 260.6,200.4 260.8,197.5 260.9,196.6 261.0,201.0 261.1,198.3 261.2,199.4 261.3,198.6 261.4,197.3 261.5,199.2 261.6,198.6 261.7,203.3 261.8,200.4 261.9,201.7 262.0,200.1 262.1,200.1 262.2,198.9 262.3,204.1 262.4,199.3 262.5,194.6 262.6,196.7 262.7,199.5 262.8,197.1 262.9,201.3 263.0,199.7 263.1,199.0 263.2,199.8 263.3,195.9 263.5,202.0 263.6,197.6 263.7,199.0 263.8,194.9 263.9,200.2 264.0,199.6 264.1,194.2 264.2,195.9 264.3,195.8 264.4,200.2 264.5,198.3 264.6,201.7 264.7,199.1 264.8,201.8 264.9,197.6 265.0,186.8 265.1,202.7 265.2,201.5 265.3,199.1 265.4,201.1 265.5,198.0 265.6,200.2 265.7,200.7 265.8,197.3 265.9,198.2 266.0,197.6 266.1,200.3 266.3,198.2 266.4,199.8 266.5,196.4 266.6,201.7 266.7,197.9 266.8,198.5 266.9,201.0 267.0,196.1 267.1,195.5 267.2,200.1 267.3,197.2 267.4,196.8 267.5,194.2 267.6,198.8 267.7,199.4 267.8,199.2 267.9,199.7 268.0,190.5 268.1,201.3 268.2,196.7 268.3,198.4 268.4,200.7 268.5,197.7 268.6,199.9 268.7,195.8 268.8,201.9 269.0,193.9 269.1,197.3 269.2,196.2 269.3,198.2 269.4,200.7 269.5,200.4 269.6,201.3 269.7,194.4 269.8,198.4 269.9,200.6 270.0,199.3 270.1,196.8 270.2,199.1 270.3,198.2 270.4,201.7 270.5,200.1 270.6,192.4 270.7,199.4 270.8,201.5 270.9,194.3 271.0,200.2 271.1,199.5 271.2,199.4 271.3,198.9 271.4,196.9 271.5,199.1 271.6,196.1 271.8,200.5 271.9,197.5 272.0,197.9 272.1,197.0 272.2,189.0 272.3,198.8 272.4,199.1 272.5,200.9 272.6,201.3 272.7,203.0 272.8,203.4 272.9,202.4 273.0,195.7 273.1,200.5 273.2,203.7 273.3,200.4 273.4,197.0 273.5,196.3 273.6,196.8 273.7,195.4 273.8,191.0 273.9,191.7 274.0,193.5 274.1,192.3 274.2,184.0 274.3,176.5 274.5,177.9 274.6,179.6 274.7,172.3 274.8,176.8 274.9,179.5 275.0,176.3 275.1,176.0 275.2,174.8 275.3,174.0 275.4,164.7 275.5,162.3 275.6,161.6 275.7,164.1 275.8,163.0 275.9,164.1 276.0,161.1 276.1,154.3 276.2,157.0 276.3,155.9 276.4,150.1 276.5,151.4 276.6,147.0 276.7,148.3 276.8,145.4 276.9,148.4 277.0,137.1 277.2,140.0 277.3,147.0 277.4,144.2 277.5,133.0 277.6,135.3 277.7,138.3 277.8,137.6 277.9,126.7 278.0,132.4 278.1,125.2 278.2,126.4 278.3,125.3 278.4,114.1 278.5,123.7 278.6,123.4 278.7,123.2 278.8,113.8 278.9,114.6 279.0,111.5 279.1,117.0 279.2,114.9 279.3,114.8 279.4,112.2 279.5,110.5 279.6,108.3 279.7,108.1 279.8,111.6 280.0,104.0 280.1,99.3 280.2,102.4 280.3,92.2 280.4,94.8 280.5,97.8 280.6,92.1 280.7,98.0 280.8,91.7 280.9,93.5 281.0,95.4 281.1,88.5 281.2,86.7 281.3,82.8 281.4,92.5 281.5,88.6 281.6,84.6 281.7,93.9 281.8,82.2 281.9,79.8 282.0,73.3 282.1,76.5 282.2,83.7 282.3,75.1 282.4,73.3 282.5,83.7 282.7,73.7 282.8,63.1 282.9,70.0 283.0,72.6 283.1,75.4 283.2,52.9 283.3,58.9 283.4,62.2 283.5,65.3 283.6,63.3 283.7,62.7 283.8,64.8 283.9,64.7 284.0,72.1 284.1,63.2 284.2,58.9 284.3,58.7 284.4,53.3 284.5,64.7 284.6,56.9 284.7,39.7 284.8,64.0 284.9,62.6 285.0,66.5 285.1,57.2 285.2,53.5 285.3,60.8 285.5,52.9 285.6,57.3 285.7,56.2 285.8,63.9 285.9,58.0 286.0,61.2 286.1,53.2 286.2,56.9 286.3,62.5 286.4,59.8 286.5,56.3 286.6,59.7 286.7,63.9 286.8,67.2 286.9,63.4 287.0,63.9 287.1,64.7 287.2,70.3 287.3,59.8 287.4,60.1 287.5,67.1 287.6,60.9 287.7,63.3 287.8,67.0 287.9,63.9 288.0,68.0 288.2,65.0 288.3,72.5 288.4,68.9 288.5,74.4 288.6,60.2 288.7,64.2 288.8,62.9 288.9,72.2 289.0,77.1 289.1,69.4 289.2,69.5 289.3,78.4 289.4,71.6 289.5,74.2 289.6,72.4 289.7,80.7 289.8,82.0 289.9,81.3 290.0,82.0 290.1,78.4 290.2,75.2 290.3,82.9 290.4,81.6 290.5,88.1 290.6,90.3 290.7,84.6 290.8,93.2 291.0,94.0 291.1,85.3 291.2,95.0 291.3,89.6 291.4,101.3 291.5,95.1 291.6,96.7 291.7,93.7 291.8,99.7 291.9,99.6 292.0,99.5 292.1,96.0 292.2,109.2 292.3,101.2 292.4,108.5 292.5,107.8 292.6,111.1 292.7,112.5 292.8,113.6 292.9,120.7 293.0,114.0 293.1,115.5 293.2,117.9 293.3,121.6 293.4,130.4 293.5,127.2 293.7,126.5 293.8,130.3 293.9,122.6 294.0,128.7 294.1,133.3 294.2,136.2 294.3,140.8 294.4,139.6 294.5,136.1 294.6,127.9 294.7,141.7 294.8,139.4 294.9,127.7 295.0,143.6 295.1,148.0 295.2,154.5 295.3,147.9 295.4,153.5 295.5,158.2 295.6,153.8 295.7,154.5 295.8,159.2 295.9,164.7 296.0,154.4 296.1,162.2 296.2,165.6 296.4,164.2 296.5,166.6 296.6,167.2 296.7,170.3 296.8,170.3 296.9,166.3 297.0,173.7 297.1,177.7 297.2,178.8 297.3,182.4 297.4,182.0 297.5,186.1 297.6,185.7 297.7,190.1 297.8,184.6 297.9,183.6 298.0,190.4 298.1,192.4 298.2,197.5 298.3,196.4 298.4,199.2 298.5,198.4 298.6,196.8 298.7,199.0 298.8,198.1 298.9,197.8 299.0,195.8 299.2,197.5 299.3,197.7 299.4,195.3 299.5,197.2 299.6,191.8 299.7,198.8 299.8,199.1 299.9,197.1 300.0,196.3 300.1,198.8 300.2,196.8 300.3,198.0 300.4,196.7 300.5,196.9 300.6,197.7 300.7,199.2 300.8,186.9 300.9,198.4 301.0,197.4 301.1,196.5 301.2,196.1 301.3,199.5 301.4,198.2 301.5,196.7 301.6,189.7 301.7,195.4 301.9,196.8 302.0,199.3 302.1,198.6 302.2,198.5 302.3,197.9 302.4,196.8 302.5,200.0 302.6,195.2 302.7,198.4 302.8,198.2 302.9,195.5 303.0,196.7 303.1,200.4 303.2,198.3 303.3,198.8 303.4,195.2 303.5,195.5 303.6,196.7 303.7,196.1 303.8,194.5 303.9,197.1 304.0,196.5 304.1,193.3 304.2,194.5 304.3,193.9 304.4,195.1 304.5,195.9 304.7,193.6 304.8,186.8 304.9,192.5 305.0,196.4 305.1,195.5 305.2,195.6 305.3,197.1 305.4,196.7 305.5,190.3 305.6,199.6 305.7,196.3 305.8,188.0 305.9,197.3 306.0,194.9 306.1,196.7 306.2,190.1 306.3,191.5 306.4,196.5 306.5,198.0 306.6,194.6 306.7,193.7 306.8,200.7 306.9,197.6 307.0,197.2 307.1,195.2 307.2,192.6 307.4,197.2 307.5,195.6 307.6,199.5 307.7,196.5 307.8,198.0 307.9,193.8 308.0,193.2 308.1,198.6 308.2,197.4 308.3,198.3 308.4,198.6 308.5,197.6 308.6,195.1 308.7,199.6 308.8,199.8 308.9,192.9 309.0,196.7 309.1,197.3 309.2,196.0 309.3,197.9 309.4,197.7 309.5,194.4 309.6,199.0 309.7,188.7 309.8,196.3 309.9,195.3 310.0,197.8 310.2,195.0 310.3,196.8 310.4,197.7 310.5,198.1 310.6,198.4 310.7,196.7 310.8,196.9 310.9,197.9 311.0,199.9 311.1,195.1 311.2,197.5 311.3,199.2 311.4,201.9 311.5,196.0 311.6,195.4 311.7,195.4 311.8,189.7 311.9,190.0 312.0,182.8 312.1,185.4 312.2,179.6 312.3,179.8 312.4,182.1 312.5,176.3 312.6,181.9 312.7,173.7 312.9,169.3 313.0,170.7 313.1,166.6 313.2,163.1 313.3,161.8 313.4,157.2 313.5,159.8 313.6,158.1 313.7,154.9 313.8,148.7 313.9,155.3 314.0,153.9 314.1,152.7 314.2,147.2 314.3,143.3 314.4,143.7 314.5,141.0 314.6,136.7 314.7,142.4 314.8,137.4 314.9,134.0 315.0,128.9 315.1,129.8 315.2,118.3 315.3,133.8 315.4,124.6 315.6,120.4 315.7,121.2 315.8,119.5 315.9,116.6 316.0,115.3 316.1,119.2 316.2,116.5 316.3,114.9 316.4,106.5 316.5,105.6 316.6,104.7 316.7,104.9 316.8,103.7 316.9,102.4 317.0,94.0 317.1,97.7 317.2,101.6 317.3,99.1 317.4,103.4 317.5,90.9 317.6,97.5 317.7,82.8 317.8,93.9 317.9,88.5 318.0,80.2 318.1,84.7 318.2,89.1 318.4,76.5 318.5,82.0 318.6,82.2 318.7,82.8 318.8,81.1 318.9,77.6 319.0,78.9 319.1,74.2 319.2,78.8 319.3,74.1 319.4,74.8 319.5,73.3 319.6,73.3 319.7,59.5 319.8,72.8 319.9,71.9 320.0,69.8 320.1,76.0 320.2,68.0 320.3,69.1 320.4,65.8 320.5,66.3 320.6,70.8 320.7,70.9 320.8,65.1 320.9,67.3 321.1,66.4 321.2,66.4 321.3,61.5 321.4,64.4 321.5,66.9 321.6,66.6 321.7,66.2 321.8,55.1 321.9,69.1 322.0,65.4 322.1,65.2 322.2,60.7 322.3,66.2 322.4,59.0 322.5,63.3 322.6,59.0 322.7,66.6 322.8,57.5 322.9,51.3 323.0,59.5 323.1,54.7 323.2,60.8 323.3,56.2 323.4,62.1 323.5,58.0 323.6,55.5 323.7,56.3 323.9,66.2 324.0,57.1 324.1,52.8 324.2,54.9 324.3,61.5 324.4,62.8 324.5,52.4 324.6,62.5 324.7,59.7 324.8,58.4 324.9,51.4 325.0,64.8 325.1,59.1 325.2,62.0 325.3,62.0 325.4,43.9 325.5,59.4 325.6,56.6 325.7,57.9 325.8,65.4 325.9,55.8 326.0,63.9 326.1,53.9 326.2,67.7 326.3,63.4 326.4,69.4 326.6,58.9 326.7,63.4 326.8,64.1 326.9,67.4 327.0,69.2 327.1,57.5 327.2,67.7 327.3,63.1 327.4,68.4 327.5,61.6 327.6,70.2 327.7,71.0 327.8,71.0 327.9,66.8 328.0,66.5 328.1,73.9 328.2,68.9 328.3,70.0 328.4,79.8 328.5,69.1 328.6,70.7 328.7,75.1 328.8,74.6 328.9,65.8 329.0,75.9 329.1,76.6 329.2,81.1 329.4,83.5 329.5,72.0 329.6,72.9 329.7,79.7 329.8,78.5 329.9,79.1 330.0,89.0 330.1,87.1 330.2,84.1 330.3,88.0 330.4,88.5 330.5,96.1 330.6,101.0 330.7,94.6 330.8,83.2 330.9,87.7 331.0,96.3 331.1,105.7 331.2,97.6 331.3,105.7 331.4,114.3 331.5,97.9 331.6,104.6 331.7,111.0 331.8,111.5 331.9,103.4 332.1,111.9 332.2,106.1 332.3,116.5 332.4,122.2 332.5,119.9 332.6,114.5 332.7,121.4 332.8,126.7 332.9,127.6 333.0,127.4 333.1,127.2 333.2,125.4 333.3,137.9 333.4,138.3 333.5,136.9 333.6,139.5 333.7,140.0 333.8,141.8 333.9,147.8 334.0,152.6 334.1,142.6 334.2,152.1 334.3,152.0 334.4,152.3 334.5,154.7 334.6,160.0 334.7,156.0 334.9,162.6 335.0,162.9 335.1,165.3 335.2,154.9 335.3,167.0 335.4,170.9 335.5,173.3 335.6,171.1 335.7,177.9 335.8,182.2 335.9,181.3 336.0,181.9 336.1,186.1 336.2,183.9 336.3,182.3 336.4,183.2 336.5,194.6 336.6,196.7 336.7,199.8 336.8,198.1 336.9,194.9 337.0,198.0 337.1,199.3 337.2,193.7 337.3,197.0 337.4,198.3 337.6,195.5 337.7,197.5 337.8,197.2 337.9,199.2 338.0,200.4 338.1,198.7 338.2,195.0 338.3,195.9 338.4,196.6 338.5,200.0 338.6,191.1 338.7,193.1 338.8,197.2 338.9,193.7 339.0,197.5 339.1,201.8 339.2,196.1 339.3,200.4 339.4,197.9 339.5,196.5 339.6,194.7 339.7,193.4 339.8,194.2 339.9,198.4 340.0,193.1 340.1,196.5 340.3,196.6 340.4,198.4 340.5,196.9 340.6,199.9 340.7,198.5 340.8,200.7 340.9,196.7 341.0,198.2 341.1,193.9 341.2,196.7 341.3,197.0 341.4,196.7 341.5,195.9 341.6,194.9 341.7,199.6 341.8,198.6 341.9,197.7 342.0,195.8 342.1,194.0 342.2,194.8 342.3,196.1 342.4,196.2 342.5,198.7 342.6,193.7 342.7,198.5 342.8,197.5 342.9,196.5 343.1,192.3 343.2,197.8 343.3,195.4 343.4,191.8 343.5,195.6 343.6,199.0 343.7,196.9 343.8,199.0 343.9,196.4 344.0,194.8 344.1,195.6 344.2,200.9 344.3,198.2 344.4,194.1 344.5,195.7 344.6,198.5 344.7,195.4 344.8,194.9 344.9,196.6 345.0,183.2 345.1,192.2 345.2,197.8 345.3,197.6 345.4,195.3 345.5,199.4 345.6,196.7 345.8,198.9 345.9,198.4 346.0,200.2 346.1,194.2 346.2,199.0 346.3,200.0 346.4,197.1 346.5,199.2 346.6,197.5 346.7,197.5 346.8,198.3 346.9,195.8 347.0,193.5 347.1,197.2 347.2,198.3 347.3,195.6 347.4,194.7 347.5,198.0 347.6,198.8 347.7,197.8 347.8,198.4 347.9,197.4 348.0,197.2 348.1,193.4 348.2,191.0 348.3,195.4 348.4,192.2 348.6,192.9 348.7,197.2 348.8,197.8 348.9,199.2 349.0,196.5 349.1,197.9 349.2,195.9 349.3,195.2 349.4,199.0 349.5,196.4 349.6,197.0 349.7,201.9 349.8,196.0 349.9,191.8 350.0,190.8 350.1,184.5 350.2,182.7 350.3,172.3 350.4,180.7 350.5,179.6 350.6,177.5 350.7,180.6 350.8,173.6 350.9,171.4 351.0,172.9 351.1,169.6 351.3,170.2 351.4,168.3 351.5,163.7 351.6,164.8 351.7,161.9 351.8,158.7 351.9,160.9 352.0,151.4 352.1,159.2 352.2,155.1 352.3,148.0 352.4,145.7 352.5,145.8 352.6,146.0 352.7,143.5 352.8,144.0 352.9,132.8 353.0,136.2 353.1,136.1 353.2,138.6 353.3,136.0 353.4,137.6 353.5,126.9 353.6,125.8 353.7,122.5 353.8,122.4 353.9,118.3 354.1,128.6 354.2,117.4 354.3,116.1 354.4,120.8 354.5,114.7 354.6,96.4 354.7,111.3 354.8,109.8 354.9,106.6 355.0,103.3 355.1,99.4 355.2,110.3 355.3,101.7 355.4,103.2 355.5,99.7 355.6,102.2 355.7,105.5 355.8,99.9 355.9,90.5 356.0,98.6 356.1,89.3 356.2,89.0 356.3,87.1 356.4,90.3 356.5,82.9 356.6,85.2 356.8,84.9 356.9,81.0 357.0,79.8 357.1,85.1 357.2,77.3 357.3,77.2 357.4,76.8 357.5,78.9 357.6,71.1 357.7,78.6 357.8,64.9 357.9,74.5 358.0,70.1 358.1,69.1 358.2,66.8 358.3,67.3 358.4,66.3 358.5,71.1 358.6,62.2 358.7,64.7 358.8,63.8 358.9,52.1 359.0,56.2 359.1,65.1 359.2,55.4 359.3,49.9 359.5,60.5 359.6,62.5 359.7,65.9 359.8,57.4 359.9,58.1 360.0,62.9 360.1,60.9 360.2,65.9 360.3,54.2 360.4,60.7 360.5,56.0 360.6,54.5 360.7,51.7 360.8,55.3 360.9,55.4 361.0,52.3 361.1,57.8 361.2,58.2 361.3,61.0 361.4,53.6 361.5,58.0 361.6,51.0 361.7,45.6 361.8,56.4 361.9,42.6 362.0,49.1 362.1,54.8 362.3,44.4 362.4,50.8 362.5,50.2 362.6,52.0 362.7,47.1 362.8,53.0 362.9,56.9 363.0,52.7 363.1,54.3 363.2,50.6 363.3,57.9 363.4,48.5 363.5,55.3 363.6,51.9 363.7,59.8 363.8,54.6 363.9,58.8 364.0,53.1 364.1,59.5 364.2,60.0 364.3,54.1 364.4,55.1 364.5,58.7 364.6,60.0 364.7,57.5 364.8,57.0 365.0,55.1 365.1,61.6 365.2,65.6 365.3,56.5 365.4,54.5 365.5,59.5 365.6,65.6 365.7,66.2 365.8,66.0 365.9,78.0 366.0,69.8 366.1,70.6 366.2,73.2 366.3,72.3 366.4,73.3 366.5,61.7 366.6,73.7 366.7,69.2 366.8,80.2 366.9,77.7 367.0,64.9 367.1,83.9 367.2,87.8 367.3,82.9 367.4,83.1 367.5,79.2 367.6,88.8 367.8,85.4 367.9,85.8 368.0,93.0 368.1,87.7 368.2,86.7 368.3,96.3 368.4,92.9 368.5,99.4 368.6,97.4 368.7,112.8 368.8,104.1 368.9,97.6 369.0,101.3 369.1,102.9 369.2,95.3 369.3,110.0 369.4,111.4 369.5,119.5 369.6,117.3 369.7,120.3 369.8,111.4 369.9,115.9 370.0,124.4 370.1,121.4 370.2,121.6 370.3,120.5 370.5,119.5 370.6,128.3 370.7,129.5 370.8,129.5 370.9,133.6 371.0,132.6 371.1,137.3 371.2,134.9 371.3,135.3 371.4,137.9 371.5,139.6 371.6,144.1 371.7,146.6 371.8,152.2 371.9,145.2 372.0,153.4 372.1,152.7 372.2,155.4 372.3,153.0 372.4,160.2 372.5,161.0 372.6,159.4 372.7,164.1 372.8,165.6 372.9,162.1 373.0,171.0 373.1,167.7 373.3,167.9 373.4,174.4 373.5,173.1 373.6,177.8 373.7,179.1 373.8,180.2 373.9,185.4 374.0,188.4 374.1,176.4 374.2,192.7 374.3,188.6 374.4,192.0 374.5,193.7 374.6,191.8 374.7,194.1 374.8,193.7 374.9,192.2 375.0,192.8 375.1,194.9 375.2,192.8 375.3,189.5 375.4,193.2 375.5,193.0 375.6,195.4 375.7,196.5 375.8,191.3 376.0,193.5 376.1,193.1 376.2,188.4 376.3,191.2 376.4,191.4 376.5,192.4 376.6,192.9 376.7,196.1 376.8,195.5 376.9,193.7 377.0,193.0 377.1,194.0 377.2,192.8 377.3,192.6 377.4,186.5 377.5,194.1 377.6,191.2 377.7,194.6 377.8,193.0 377.9,192.2 378.0,196.5 378.1,190.8 378.2,197.4 378.3,192.4 378.4,193.8 378.5,190.3 378.7,191.3 378.8,192.2 378.9,189.6 379.0,193.6 379.1,192.7 379.2,190.8 379.3,193.4 379.4,194.5 379.5,194.5 379.6,190.6 379.7,193.1 379.8,181.4 379.9,186.8 380.0,193.5 380.1,195.2 380.2,194.9 380.3,194.1 380.4,187.4 380.5,191.5 380.6,195.1 380.7,190.7 380.8,192.8 380.9,178.5 381.0,189.7 381.1,187.1 381.2,190.3 381.3,191.3 381.5,193.0 381.6,191.5 381.7,188.0 381.8,187.4 381.9,191.4 382.0,191.1 382.1,191.6 382.2,194.2 382.3,191.7 382.4,187.7 382.5,190.8 382.6,188.7 382.7,188.4 382.8,190.4 382.9,191.4 383.0,194.0 383.1,193.1 383.2,192.4 383.3,185.7 383.4,187.5 383.5,193.0 383.6,194.2 383.7,192.9 383.8,191.3 383.9,189.2 384.0,189.9 384.2,188.9 384.3,190.7 384.4,188.7 384.5,190.0 384.6,189.5 384.7,187.8 384.8,192.9 384.9,192.4 385.0,179.9 385.1,185.4 385.2,192.2 385.3,187.9 385.4,188.0 385.5,189.1 385.6,192.2 385.7,189.5 385.8,190.9 385.9,188.0 386.0,185.4 386.1,193.4 386.2,194.5 386.3,193.2 386.4,190.3 386.5,193.5 386.6,192.4 386.7,190.7 386.8,195.6 387.0,186.9 387.1,192.0 387.2,185.6 387.3,194.8 387.4,192.2 387.5,191.1 387.6,190.2 387.7,188.7 387.8,188.7 387.9,191.7 388.0,182.5 388.1,184.2 388.2,183.3 388.3,174.5 388.4,181.1 388.5,171.2 388.6,173.1 388.7,172.8 388.8,169.1 388.9,165.2 389.0,167.7 389.1,163.0 389.2,161.9 389.3,162.7 389.4,157.9 389.5,159.1 389.7,153.1 389.8,155.0 389.9,149.7 390.0,146.0 390.1,144.5 390.2,144.8 390.3,147.3 390.4,144.0 390.5,144.7 390.6,134.8 390.7,136.1 390.8,131.6 390.9,131.1 391.0,133.1 391.1,131.5 391.2,129.6 391.3,127.7 391.4,125.5 391.5,126.2 391.6,115.4 391.7,117.6 391.8,115.8 391.9,109.9 392.0,113.5 392.1,113.0 392.2,109.8 392.3,107.3 392.5,104.4 392.6,105.2 392.7,106.4 392.8,103.1 392.9,105.8 393.0,103.0 393.1,83.4 393.2,86.0 393.3,94.6 393.4,91.1 393.5,86.6 393.6,87.4 393.7,83.6 393.8,82.7 393.9,81.8 394.0,86.7 394.1,77.2 394.2,81.4 394.3,68.0 394.4,76.6 394.5,82.0 394.6,74.8 394.7,69.4 394.8,68.4 394.9,63.7 395.0,67.5 395.2,59.9 395.3,69.2 395.4,66.0 395.5,69.8 395.6,65.7 395.7,66.9 395.8,63.4 395.9,55.6 396.0,58.8 396.1,51.8 396.2,55.1 396.3,42.8 396.4,48.9 396.5,56.1 396.6,53.8 396.7,45.9 396.8,50.3 396.9,44.1 397.0,37.2 397.1,56.4 397.2,46.0 397.3,46.5 397.4,46.1 397.5,44.4 397.6,45.7 397.7,44.1 397.8,44.0 398.0,45.3 398.1,40.7 398.2,37.2 398.3,41.8 398.4,38.9 398.5,37.4 398.6,35.0 398.7,38.2 398.8,48.4 398.9,48.4 399.0,43.1 399.1,42.4 399.2,35.8 399.3,35.5 399.4,41.6 399.5,38.2 399.6,28.5 399.7,35.3 399.8,39.3 399.9,43.4 400.0,37.6 400.1,40.7 400.2,38.1 400.3,36.5 400.4,47.4 400.5,46.4 400.7,37.7 400.8,38.5 400.9,42.2 401.0,39.7 401.1,36.5 401.2,46.1 401.3,38.1 401.4,35.8 401.5,38.5 401.6,45.6 401.7,21.4 401.8,46.3 401.9,48.6 402.0,48.4 402.1,46.4 402.2,50.0 402.3,49.0 402.4,53.8 402.5,58.5 402.6,54.5 402.7,47.8 402.8,41.4 402.9,52.0 403.0,56.8 403.1,57.7 403.2,57.0 403.4,56.0 403.5,56.7 403.6,51.4 403.7,50.8 403.8,58.3 403.9,69.0 404.0,64.2 404.1,65.8 404.2,70.6 404.3,66.5 404.4,64.4 404.5,66.3 404.6,70.3 404.7,74.2 404.8,72.0 404.9,77.4 405.0,76.6 405.1,76.3 405.2,70.6 405.3,85.7 405.4,76.6 405.5,83.2 405.6,88.5 405.7,88.1 405.8,84.3 405.9,84.1 406.0,75.9 406.2,88.5 406.3,88.6 406.4,100.2 406.5,104.3 406.6,97.6 406.7,101.8 406.8,103.6 406.9,100.4 407.0,82.3 407.1,103.1 407.2,107.6 407.3,104.0 407.4,107.5 407.5,118.3 407.6,115.2 407.7,118.4 407.8,123.7 407.9,120.3 408.0,122.3 408.1,130.2 408.2,136.8 408.3,132.3 408.4,133.0 408.5,136.1 408.6,135.0 408.7,132.5 408.9,126.7 409.0,142.6 409.1,144.9 409.2,145.7 409.3,147.7 409.4,147.8 409.5,146.5 409.6,155.1 409.7,152.2 409.8,151.4 409.9,151.7 410.0,152.0 410.1,161.2 410.2,163.1 410.3,158.2 410.4,164.8 410.5,166.0 410.6,169.5 410.7,175.2 410.8,172.4 410.9,173.1 411.0,177.3 411.1,174.6 411.2,177.9 411.3,184.9 411.4,183.5 411.5,187.8 411.7,185.4 411.8,195.0 411.9,190.1 412.0,188.7 412.1,192.3 412.2,186.7 412.3,188.9 412.4,189.9 412.5,189.5 412.6,190.3 412.7,191.0 412.8,189.4 412.9,188.4 413.0,187.9 413.1,192.0 413.2,187.4 413.3,191.1 413.4,189.3 413.5,181.3 413.6,189.3 413.7,191.0 413.8,190.4 413.9,188.7 414.0,189.0 414.1,189.7 414.2,185.8 414.4,189.0 414.5,188.6 414.6,188.9 414.7,186.7 414.8,187.6 414.9,190.8 415.0,192.8 415.1,192.8 415.2,193.3 415.3,187.3 415.4,193.4 415.5,186.8 415.6,189.2 415.7,187.9 415.8,191.5 415.9,188.3 416.0,186.2 416.1,191.1 416.2,186.3 416.3,188.1 416.4,189.5 416.5,186.7 416.6,189.6 416.7,188.7 416.8,188.4 416.9,191.9 417.0,188.5 417.2,187.0 417.3,187.1 417.4,186.0 417.5,188.4 417.6,190.8 417.7,185.5 417.8,191.3 417.9,187.7 418.0,187.7 418.1,189.4 418.2,184.5 418.3,190.6 418.4,184.1 418.5,188.2 418.6,188.0 418.7,189.0 418.8,189.1 418.9,184.7 419.0,187.4 419.1,187.6 419.2,188.2 419.3,189.3 419.4,185.3 419.5,182.3 419.6,188.0 419.7,186.0 419.9,186.0 420.0,185.7 420.1,188.7 420.2,188.5 420.3,187.8 420.4,188.2 420.5,190.7 420.6,188.0 420.7,187.6 420.8,188.4 420.9,188.7 421.0,189.7 421.1,190.8 421.2,189.8 421.3,191.1 421.4,191.2 421.5,185.6 421.6,188.2 421.7,190.7 421.8,188.2 421.9,187.3 422.0,189.2 422.1,190.5 422.2,188.2 422.3,187.4 422.4,183.9 422.6,186.4 422.7,186.9 422.8,185.4 422.9,186.1 423.0,193.0 423.1,188.6 423.2,189.2 423.3,188.6 423.4,194.5 423.5,191.3 423.6,190.1 423.7,188.2 423.8,191.3 423.9,188.6 424.0,190.3 424.1,189.3 424.2,188.7 424.3,191.1 424.4,190.8 424.5,186.7 424.6,186.1 424.7,186.7 424.8,192.2 424.9,189.7 425.0,187.8 425.1,186.4 425.2,189.3 425.4,186.2 425.5,189.1 425.6,186.8 425.7,185.1 425.8,184.9 425.9,180.3 426.0,179.5 426.1,182.6 426.2,177.9 426.3,175.9 426.4,172.0 426.5,173.4 426.6,175.5 426.7,170.8 426.8,166.8 426.9,165.9 427.0,164.6 427.1,158.1 427.2,156.5 427.3,153.9 427.4,152.8 427.5,150.8 427.6,151.2 427.7,150.7 427.8,144.6 427.9,143.1 428.1,137.0 428.2,134.6 428.3,140.8 428.4,145.0 428.5,129.6 428.6,133.0 428.7,132.7 428.8,127.1 428.9,130.1 429.0,129.5 429.1,123.4 429.2,125.5 429.3,96.8 429.4,113.6 429.5,116.6 429.6,110.6 429.7,112.3 429.8,104.4 429.9,111.8 430.0,106.6 430.1,105.3 430.2,102.6 430.3,106.0 430.4,102.8 430.5,97.0 430.6,92.6 430.7,98.8 430.9,88.4 431.0,91.6 431.1,83.6 431.2,87.1 431.3,79.5 431.4,77.1 431.5,86.9 431.6,84.2 431.7,85.3 431.8,81.9 431.9,81.7 432.0,68.2 432.1,84.2 432.2,77.0 432.3,73.9 432.4,68.9 432.5,76.2 432.6,76.2 432.7,78.1 432.8,70.1 432.9,67.2 433.0,62.5 433.1,69.0 433.2,62.0 433.3,50.0 433.4,64.4 433.6,49.3 433.7,61.6 433.8,53.6 433.9,59.2 434.0,54.4 434.1,46.3 434.2,54.1 434.3,51.4 434.4,50.9 434.5,53.6 434.6,41.4 434.7,46.9 434.8,53.7 434.9,44.4 435.0,51.0 435.1,52.0 435.2,39.7 435.3,51.6 435.4,48.0 435.5,42.6 435.6,44.3 435.7,38.4 435.8,43.3 435.9,44.0 436.0,34.9 436.1,42.3 436.2,30.2 436.4,42.7 436.5,36.0 436.6,37.0 436.7,42.2 436.8,25.4 436.9,34.9 437.0,22.4 437.1,40.2 437.2,42.4 437.3,46.2 437.4,38.2 437.5,30.5 437.6,39.0 437.7,30.0 437.8,40.8 437.9,33.9 438.0,37.3 438.1,41.1 438.2,34.9 438.3,39.0 438.4,43.7 438.5,24.1 438.6,41.3 438.7,33.9 438.8,43.2 438.9,39.0 439.1,43.0 439.2,41.5 439.3,45.5 439.4,43.8 439.5,48.3 439.6,43.3 439.7,42.5 439.8,42.3 439.9,44.5 440.0,41.7 440.1,30.2 440.2,48.7 440.3,50.8 440.4,55.2 440.5,50.0 440.6,58.5 440.7,52.2 440.8,45.9 440.9,51.0 441.0,60.4 441.1,47.0 441.2,44.9 441.3,59.6 441.4,62.9 441.5,56.8 441.6,58.3 441.8,61.8 441.9,62.4 442.0,61.8 442.1,61.4 442.2,58.1 442.3,69.6 442.4,69.3 442.5,61.0 442.6,64.6 442.7,77.5 442.8,70.8 442.9,66.6 443.0,54.4 443.1,69.0 443.2,76.1 443.3,75.8 443.4,81.9 443.5,86.4 443.6,85.4 443.7,94.2 443.8,66.0 443.9,89.3 444.0,86.9 444.1,87.9 444.2,90.1 444.3,86.9 444.4,93.3 444.6,97.6 444.7,92.5 444.8,99.1 444.9,103.0 445.0,108.4 445.1,105.8 445.2,105.4 445.3,106.4 445.4,101.4 445.5,112.8 445.6,112.5 445.7,114.6 445.8,118.7 445.9,116.7 446.0,121.7 446.1,119.9 446.2,119.5 446.3,129.5 446.4,125.0 446.5,127.3 446.6,130.1 446.7,132.9 446.8,131.6 446.9,132.8 447.0,138.0 447.1,139.8 447.3,135.6 447.4,141.7 447.5,143.4 447.6,145.3 447.7,146.1 447.8,151.4 447.9,155.5 448.0,156.6 448.1,152.9 448.2,154.6 448.3,163.2 448.4,165.3 448.5,159.3 448.6,159.9 448.7,162.9 448.8,165.6 448.9,168.4 449.0,175.6 449.1,172.0 449.2,175.0 449.3,176.9 449.4,179.4 449.5,183.5 449.6,180.0 449.7,183.6 449.8,187.9 449.9,188.6 450.1,192.9 450.2,187.5 450.3,189.0 450.4,188.8 450.5,184.5 450.6,188.2 450.7,185.8 450.8,182.4 450.9,189.1 451.0,191.0 451.1,189.8 451.2,187.4 451.3,184.1 451.4,185.1 451.5,188.4 451.6,192.2 451.7,186.1 451.8,189.9 451.9,188.0 452.0,191.4 452.1,187.5 452.2,189.7 452.3,184.8 452.4,192.1 452.5,181.7 452.6,191.4 452.8,193.5 452.9,191.9 453.0,189.2 453.1,189.4 453.2,190.2 453.3,188.4 453.4,182.7 453.5,183.8 453.6,189.5 453.7,188.4 453.8,186.2 453.9,188.6 454.0,188.7 454.1,189.0 454.2,180.9 454.3,190.9 454.4,190.6 454.5,188.7 454.6,190.4 454.7,187.2 454.8,188.9 454.9,178.9 455.0,190.6 455.1,192.3 455.2,190.1 455.3,192.7 455.4,191.4 455.6,189.8 455.7,189.0 455.8,186.7 455.9,183.3 456.0,191.5 456.1,189.4 456.2,189.6 456.3,188.4 456.4,188.5 456.5,187.9 456.6,189.9 456.7,183.6 456.8,185.6 456.9,186.9 457.0,188.1 457.1,188.6 457.2,186.3 457.3,189.5 457.4,190.7 457.5,189.9 457.6,189.8 457.7,188.0 457.8,185.9 457.9,183.2 458.0,188.1 458.1,192.0 458.3,188.8 458.4,189.4 458.5,191.9 458.6,188.3 458.7,185.3 458.8,191.4 458.9,190.9 459.0,181.6 459.1,190.4 459.2,189.4 459.3,190.4 459.4,191.3 459.5,190.4 459.6,187.5 459.7,185.8 459.8,190.4 459.9,189.8 460.0,189.7 460.1,189.3 460.2,188.6 460.3,188.1 460.4,189.8 460.5,192.1 460.6,186.6 460.7,188.6 460.8,190.1 460.9,189.3 461.1,189.4 461.2,184.2 461.3,193.7 461.4,186.0 461.5,188.7 461.6,187.2 461.7,188.3 461.8,191.2 461.9,189.6 462.0,187.9 462.1,187.7 462.2,188.9 462.3,190.5 462.4,188.6 462.5,187.1 462.6,187.7 462.7,193.4 462.8,189.4 462.9,190.6 463.0,188.0 463.1,191.0 463.2,191.0 463.3,187.2 463.4,181.7 463.5,181.5 463.6,180.8 463.8,175.1 463.9,180.9 464.0,179.6 464.1,177.3 464.2,174.3 464.3,174.7 464.4,174.9 464.5,168.4 464.6,168.8 464.7,163.7 464.8,162.3 464.9,166.2 465.0,162.0 465.1,162.2 465.2,162.4 465.3,147.9 465.4,154.8 465.5,154.7 465.6,145.4 465.7,152.4 465.8,150.2 465.9,145.4 466.0,148.0 466.1,144.3 466.2,137.2 466.3,146.2 466.5,137.5 466.6,138.3 466.7,137.3 466.8,133.0 466.9,138.4 467.0,135.1 467.1,134.2 467.2,131.0 467.3,127.3 467.4,121.1 467.5,125.0 467.6,124.0 467.7,119.0 467.8,124.7 467.9,122.5 468.0,111.4 468.1,119.4 468.2,115.8 468.3,111.6 468.4,106.4 468.5,104.3 468.6,109.9 468.7,111.6 468.8,102.1 468.9,104.9 469.0,103.5 469.1,96.6 469.3,102.9 469.4,101.1 469.5,93.1 469.6,99.1 469.7,85.8 469.8,84.1 469.9,97.2 470.0,89.1 470.1,77.2 470.2,83.0 470.3,80.8 470.4,82.3 470.5,74.9 470.6,78.6 470.7,75.7 470.8,76.2 470.9,71.5 471.0,72.9 471.1,73.2 471.2,65.8 471.3,75.4 471.4,65.8 471.5,71.5 471.6,68.0 471.7,61.2 471.8,63.6 472.0,61.3 472.1,57.4 472.2,57.8 472.3,53.4 472.4,53.9 472.5,58.5 472.6,54.9 472.7,54.2 472.8,55.8 472.9,47.9 473.0,52.2 473.1,48.1 473.2,47.6 473.3,49.6 473.4,37.8 473.5,38.0 473.6,36.1 473.7,35.1 473.8,34.9 473.9,39.4 474.0,31.0 474.1,40.2 474.2,40.1 474.3,34.3 474.4,40.3 474.5,34.6 474.6,27.5 474.8,43.9 474.9,42.9 475.0,34.6 475.1,27.8 475.2,32.7 475.3,23.6 475.4,35.7 475.5,34.0 475.6,32.5 475.7,42.6 475.8,39.1 475.9,37.1 476.0,29.1 476.1,32.6 476.2,36.6 476.3,31.8 476.4,40.6 476.5,31.8 476.6,32.9 476.7,37.2 476.8,42.7 476.9,34.9 477.0,33.3 477.1,38.0 477.2,40.1 477.3,38.2 477.5,37.8 477.6,37.9 477.7,53.2 477.8,45.5 477.9,39.3 478.0,48.8 478.1,48.9 478.2,51.6 478.3,57.4 478.4,49.6 478.5,47.4 478.6,54.5 478.7,44.1 478.8,61.8 478.9,51.9 479.0,63.1 479.1,54.8 479.2,60.5 479.3,59.6 479.4,63.9 479.5,63.0 479.6,69.9 479.7,72.9 479.8,70.4 479.9,75.1 480.0,69.1 480.1,78.9 480.3,76.7 480.4,73.6 480.5,75.1 480.6,87.6 480.7,80.3 480.8,77.3 480.9,80.7 481.0,81.8 481.1,93.0 481.2,89.0 481.3,86.2 481.4,98.0 481.5,92.5 481.6,93.3 481.7,93.0 481.8,104.7 481.9,97.4 482.0,106.0 482.1,97.6 482.2,105.7 482.3,104.6 482.4,108.0 482.5,114.7 482.6,104.3 482.7,111.3 482.8,115.7 483.0,123.0 483.1,109.7 483.2,122.7 483.3,120.7 483.4,119.0 483.5,120.0 483.6,126.5 483.7,124.9 483.8,126.6 483.9,129.4 484.0,137.3 484.1,130.6 484.2,136.0 484.3,130.9 484.4,139.5 484.5,140.1 484.6,141.9 484.7,141.1 484.8,148.3 484.9,148.2 485.0,147.1 485.1,141.7 485.2,151.5 485.3,145.5 485.4,153.1 485.5,152.2 485.7,162.9 485.8,165.1 485.9,160.3 486.0,163.4 486.1,165.5 486.2,166.1 486.3,164.8 486.4,159.6 486.5,171.8 486.6,172.0 486.7,170.7 486.8,177.7 486.9,176.5 487.0,179.1 487.1,181.0 487.2,170.8 487.3,183.8 487.4,178.5 487.5,181.6 487.6,188.8 487.7,187.7 487.8,191.0 487.9,193.5 488.0,189.5 488.1,191.2 488.2,193.5 488.3,189.7 488.5,195.9 488.6,193.1 488.7,192.6 488.8,193.3 488.9,189.0 489.0,193.6 489.1,192.6 489.2,189.3 489.3,189.5 489.4,192.1 489.5,191.2 489.6,193.7 489.7,196.0 489.8,195.8 489.9,193.2 490.0,189.9 490.1,195.0 490.2,186.7 490.3,191.9 490.4,191.1 490.5,188.8 490.6,193.7 490.7,197.4 490.8,189.7 490.9,194.9 491.0,186.8 491.2,189.2 491.3,189.2 491.4,192.5 491.5,189.4 491.6,193.6 491.7,190.0 491.8,193.5 491.9,190.7 492.0,191.0 492.1,193.7 492.2,195.7 492.3,186.2 492.4,192.4 492.5,192.6 492.5,228.5 492.4,232.3 492.3,236.4 492.2,228.1 492.1,230.9 492.0,229.6 491.9,235.6 491.8,231.0 491.7,226.2 491.6,228.6 491.5,231.1 491.4,230.3 491.3,228.6 491.2,229.1 491.0,227.5 490.9,226.4 490.8,224.8 490.7,227.8 490.6,227.9 490.5,231.5 490.4,228.1 490.3,223.4 490.2,226.8 490.1,226.5 490.0,230.3 489.9,223.3 489.8,227.2 489.7,223.8 489.6,228.0 489.5,229.0 489.4,226.9 489.3,229.9 489.2,219.7 489.1,225.1 489.0,223.1 488.9,220.3 488.8,223.0 488.7,223.8 488.6,218.1 488.5,222.3 488.3,223.5 488.2,221.1 488.1,216.0 488.0,215.8 487.9,218.8 487.8,220.8 487.7,214.1 487.6,213.3 487.5,207.1 487.4,210.1 487.3,210.3 487.2,202.3 487.1,207.9 487.0,203.0 486.9,202.1 486.8,202.6 486.7,204.1 486.6,202.0 486.5,201.6 486.4,199.7 486.3,200.0 486.2,196.8 486.1,196.1 486.0,196.4 485.9,188.5 485.8,193.9 485.7,188.2 485.5,196.1 485.4,188.1 485.3,190.4 485.2,189.5 485.1,189.5 485.0,181.3 484.9,181.0 484.8,182.8 484.7,182.4 484.6,182.2 484.5,191.4 484.4,183.0 484.3,180.2 484.2,181.3 484.1,182.2 484.0,174.3 483.9,173.8 483.8,178.2 483.7,180.3 483.6,183.6 483.5,184.1 483.4,175.5 483.3,176.2 483.2,172.6 483.1,166.2 483.0,171.3 482.8,175.3 482.7,179.5 482.6,169.7 482.5,157.3 482.4,163.4 482.3,164.1 482.2,166.3 482.1,166.7 482.0,160.5 481.9,163.1 481.8,162.4 481.7,154.4 481.6,166.0 481.5,149.4 481.4,164.6 481.3,160.2 481.2,154.3 481.1,161.3 481.0,161.8 480.9,151.0 480.8,147.1 480.7,148.7 480.6,152.2 480.5,152.9 480.4,146.8 480.3,151.4 480.1,152.1 480.0,138.6 479.9,146.6 479.8,145.8 479.7,161.4 479.6,150.2 479.5,150.9 479.4,152.9 479.3,145.2 479.2,149.9 479.1,158.4 479.0,141.8 478.9,142.5 478.8,148.1 478.7,149.5 478.6,141.0 478.5,146.7 478.4,141.9 478.3,144.4 478.2,138.4 478.1,143.3 478.0,143.3 477.9,140.4 477.8,141.5 477.7,138.2 477.6,147.0 477.5,136.4 477.3,140.7 477.2,135.7 477.1,135.9 477.0,137.8 476.9,131.8 476.8,140.7 476.7,146.9 476.6,136.7 476.5,143.3 476.4,128.1 476.3,138.3 476.2,130.4 476.1,134.3 476.0,128.3 475.9,131.9 475.8,137.0 475.7,127.0 475.6,128.5 475.5,148.3 475.4,135.5 475.3,140.6 475.2,157.1 475.1,131.4 475.0,130.6 474.9,141.8 474.8,131.9 474.6,136.9 474.5,145.7 474.4,147.8 474.3,154.4 474.2,139.9 474.1,139.1 474.0,129.2 473.9,150.6 473.8,142.5 473.7,145.2 473.6,137.8 473.5,136.9 473.4,141.3 473.3,132.1 473.2,142.8 473.1,144.0 473.0,146.5 472.9,139.2 472.8,133.0 472.7,139.0 472.6,144.2 472.5,145.4 472.4,145.5 472.3,157.2 472.2,143.7 472.1,145.2 472.0,151.8 471.8,151.6 471.7,139.5 471.6,148.5 471.5,148.0 471.4,142.9 471.3,146.8 471.2,152.3 471.1,153.4 471.0,147.2 470.9,142.8 470.8,148.3 470.7,161.9 470.6,154.0 470.5,151.7 470.4,154.1 470.3,179.8 470.2,158.6 470.1,150.8 470.0,159.3 469.9,154.7 469.8,173.3 469.7,154.9 469.6,158.6 469.5,156.0 469.4,164.4 469.3,163.6 469.1,160.8 469.0,163.2 468.9,169.9 468.8,167.2 468.7,169.8 468.6,168.2 468.5,164.4 468.4,167.3 468.3,168.2 468.2,167.9 468.1,170.3 468.0,179.6 467.9,169.7 467.8,178.1 467.7,172.9 467.6,169.9 467.5,171.7 467.4,182.0 467.3,174.8 467.2,175.5 467.1,179.2 467.0,177.8 466.9,177.8 466.8,185.8 466.7,184.2 466.6,178.4 466.5,183.7 466.3,184.1 466.2,183.4 466.1,184.7 466.0,190.0 465.9,187.4 465.8,184.8 465.7,184.8 465.6,190.7 465.5,190.4 465.4,193.6 465.3,194.3 465.2,194.3 465.1,194.0 465.0,194.0 464.9,198.3 464.8,195.0 464.7,192.8 464.6,193.8 464.5,199.7 464.4,194.5 464.3,203.5 464.2,203.3 464.1,203.8 464.0,206.1 463.9,214.2 463.8,217.2 463.6,212.3 463.5,207.6 463.4,208.7 463.3,212.7 463.2,222.9 463.1,209.0 463.0,215.5 462.9,213.8 462.8,219.0 462.7,214.7 462.6,234.1 462.5,221.6 462.4,217.4 462.3,220.0 462.2,219.2 462.1,228.5 462.0,218.4 461.9,224.9 461.8,219.6 461.7,223.2 461.6,220.2 461.5,219.2 461.4,227.4 461.3,222.1 461.2,219.5 461.1,222.5 460.9,225.7 460.8,228.8 460.7,225.2 460.6,227.2 460.5,224.1 460.4,226.5 460.3,225.6 460.2,223.8 460.1,221.7 460.0,231.5 459.9,225.7 459.8,227.4 459.7,227.8 459.6,228.1 459.5,226.8 459.4,225.8 459.3,230.2 459.2,227.0 459.1,230.1 459.0,226.7 458.9,229.0 458.8,226.4 458.7,225.0 458.6,226.1 458.5,225.7 458.4,229.9 458.3,229.3 458.1,224.7 458.0,232.5 457.9,238.5 457.8,225.0 457.7,227.4 457.6,234.3 457.5,229.7 457.4,227.0 457.3,231.7 457.2,229.9 457.1,239.0 457.0,235.3 456.9,232.8 456.8,231.4 456.7,231.6 456.6,229.9 456.5,230.2 456.4,228.0 456.3,230.2 456.2,232.9 456.1,231.7 456.0,229.6 455.9,228.0 455.8,226.9 455.7,225.3 455.6,232.4 455.4,233.0 455.3,229.0 455.2,230.0 455.1,227.1 455.0,229.7 454.9,224.2 454.8,227.7 454.7,227.4 454.6,233.2 454.5,229.4 454.4,230.5 454.3,228.1 454.2,224.3 454.1,226.3 454.0,225.9 453.9,227.8 453.8,224.4 453.7,228.1 453.6,227.5 453.5,225.6 453.4,225.4 453.3,225.1 453.2,225.8 453.1,223.0 453.0,225.2 452.9,221.9 452.8,221.6 452.6,232.8 452.5,220.5 452.4,223.4 452.3,222.0 452.2,223.5 452.1,225.9 452.0,223.9 451.9,223.0 451.8,228.0 451.7,224.3 451.6,220.1 451.5,224.0 451.4,221.8 451.3,219.5 451.2,219.8 451.1,220.5 451.0,224.4 450.9,218.2 450.8,222.8 450.7,219.1 450.6,220.4 450.5,219.4 450.4,222.6 450.3,215.3 450.2,216.6 450.1,216.1 449.9,213.6 449.8,214.2 449.7,217.5 449.6,214.4 449.5,208.8 449.4,205.8 449.3,203.1 449.2,202.5 449.1,199.1 449.0,202.2 448.9,202.8 448.8,204.1 448.7,196.4 448.6,193.6 448.5,193.6 448.4,192.4 448.3,195.1 448.2,190.8 448.1,188.8 448.0,189.4 447.9,183.5 447.8,187.4 447.7,188.1 447.6,185.6 447.5,186.8 447.4,184.8 447.3,184.0 447.1,175.6 447.0,186.2 446.9,175.8 446.8,179.8 446.7,173.1 446.6,176.8 446.5,175.5 446.4,173.5 446.3,174.7 446.2,187.3 446.1,176.8 446.0,171.0 445.9,171.9 445.8,166.3 445.7,162.9 445.6,165.8 445.5,167.9 445.4,167.3 445.3,170.0 445.2,162.7 445.1,164.3 445.0,154.0 444.9,160.3 444.8,155.5 444.7,171.5 444.6,170.0 444.4,159.1 444.3,156.6 444.2,155.8 444.1,150.7 444.0,156.9 443.9,154.1 443.8,152.8 443.7,157.9 443.6,149.9 443.5,158.0 443.4,144.0 443.3,155.6 443.2,151.2 443.1,146.3 443.0,146.5 442.9,150.7 442.8,145.2 442.7,155.7 442.6,149.1 442.5,152.1 442.4,147.0 442.3,148.7 442.2,142.4 442.1,152.3 442.0,138.8 441.9,145.9 441.8,138.4 441.6,141.6 441.5,146.4 441.4,155.4 441.3,133.3 441.2,144.1 441.1,145.3 441.0,146.6 440.9,144.9 440.8,134.6 440.7,142.0 440.6,145.7 440.5,136.8 440.4,141.9 440.3,130.9 440.2,173.9 440.1,145.7 440.0,138.8 439.9,137.4 439.8,134.3 439.7,143.4 439.6,134.8 439.5,142.0 439.4,129.0 439.3,137.5 439.2,142.3 439.1,157.4 438.9,134.1 438.8,140.1 438.7,135.6 438.6,145.6 438.5,155.0 438.4,126.9 438.3,138.4 438.2,127.4 438.1,140.4 438.0,134.1 437.9,141.7 437.8,139.4 437.7,131.1 437.6,133.2 437.5,140.0 437.4,128.0 437.3,145.5 437.2,134.0 437.1,130.0 437.0,136.0 436.9,135.1 436.8,132.3 436.7,128.7 436.6,133.2 436.5,135.7 436.4,132.0 436.2,147.0 436.1,149.7 436.0,141.7 435.9,142.1 435.8,137.6 435.7,135.1 435.6,135.1 435.5,134.3 435.4,140.1 435.3,138.2 435.2,137.3 435.1,146.0 435.0,137.2 434.9,143.1 434.8,134.9 434.7,142.0 434.6,138.4 434.5,144.8 434.4,142.3 434.3,153.6 434.2,140.8 434.1,136.2 434.0,136.1 433.9,145.3 433.8,138.8 433.7,141.6 433.6,142.6 433.4,140.5 433.3,148.6 433.2,146.6 433.1,144.6 433.0,147.7 432.9,139.7 432.8,148.4 432.7,142.2 432.6,147.0 432.5,152.1 432.4,152.6 432.3,153.8 432.2,150.9 432.1,152.8 432.0,155.1 431.9,151.4 431.8,148.0 431.7,149.5 431.6,152.2 431.5,156.8 431.4,155.5 431.3,152.5 431.2,146.8 431.1,150.3 431.0,164.1 430.9,156.2 430.7,154.6 430.6,161.3 430.5,161.6 430.4,159.8 430.3,158.9 430.2,169.8 430.1,171.1 430.0,171.6 429.9,164.5 429.8,166.3 429.7,167.8 429.6,166.2 429.5,172.1 429.4,162.2 429.3,176.1 429.2,170.2 429.1,172.6 429.0,176.1 428.9,176.6 428.8,170.7 428.7,179.3 428.6,181.2 428.5,181.6 428.4,180.8 428.3,188.7 428.2,188.2 428.1,180.2 427.9,185.0 427.8,184.2 427.7,190.4 427.6,187.9 427.5,188.8 427.4,192.1 427.3,188.8 427.2,192.8 427.1,194.1 427.0,196.1 426.9,192.3 426.8,196.8 426.7,215.9 426.6,199.9 426.5,199.4 426.4,201.1 426.3,206.2 426.2,203.1 426.1,205.9 426.0,206.3 425.9,210.4 425.8,207.7 425.7,211.2 425.6,216.8 425.5,211.1 425.4,215.9 425.2,221.1 425.1,219.4 425.0,216.6 424.9,220.1 424.8,217.3 424.7,219.1 424.6,217.8 424.5,219.2 424.4,225.9 424.3,218.1 424.2,219.7 424.1,218.1 424.0,224.3 423.9,223.7 423.8,224.0 423.7,227.0 423.6,228.4 423.5,221.1 423.4,228.3 423.3,219.5 423.2,222.9 423.1,225.0 423.0,224.4 422.9,222.4 422.8,223.3 422.7,222.8 422.6,224.0 422.4,226.6 422.3,225.6 422.2,223.1 422.1,225.2 422.0,224.8 421.9,226.8 421.8,224.2 421.7,227.1 421.6,226.2 421.5,227.2 421.4,225.3 421.3,227.5 421.2,227.9 421.1,229.1 421.0,226.4 420.9,227.5 420.8,229.0 420.7,227.4 420.6,226.1 420.5,226.1 420.4,227.8 420.3,230.0 420.2,228.8 420.1,234.8 420.0,229.6 419.9,233.3 419.7,232.5 419.6,229.8 419.5,241.7 419.4,231.4 419.3,228.1 419.2,227.0 419.1,226.8 419.0,228.8 418.9,229.1 418.8,229.1 418.7,226.7 418.6,231.5 418.5,230.6 418.4,233.5 418.3,231.8 418.2,233.1 418.1,229.3 418.0,240.4 417.9,227.7 417.8,232.5 417.7,230.2 417.6,228.6 417.5,228.7 417.4,227.8 417.3,226.7 417.2,229.4 417.0,229.6 416.9,225.0 416.8,230.0 416.7,227.0 416.6,233.8 416.5,225.9 416.4,231.1 416.3,226.5 416.2,230.0 416.1,235.9 416.0,225.6 415.9,225.0 415.8,225.8 415.7,231.2 415.6,222.5 415.5,228.0 415.4,226.8 415.3,235.4 415.2,222.9 415.1,225.8 415.0,225.2 414.9,226.4 414.8,226.4 414.7,226.0 414.6,225.0 414.5,223.8 414.4,232.7 414.2,228.6 414.1,228.1 414.0,228.1 413.9,226.7 413.8,224.0 413.7,225.5 413.6,224.0 413.5,224.1 413.4,221.8 413.3,224.1 413.2,221.4 413.1,220.1 413.0,221.3 412.9,228.3 412.8,219.4 412.7,219.7 412.6,218.1 412.5,218.2 412.4,220.8 412.3,221.0 412.2,219.2 412.1,221.0 412.0,218.3 411.9,215.9 411.8,211.4 411.7,211.7 411.5,211.0 411.4,209.9 411.3,209.8 411.2,207.9 411.1,209.8 411.0,202.7 410.9,203.4 410.8,203.3 410.7,213.9 410.6,202.6 410.5,196.5 410.4,200.5 410.3,206.2 410.2,191.2 410.1,193.2 410.0,195.3 409.9,188.0 409.8,189.7 409.7,191.0 409.6,208.0 409.5,188.4 409.4,189.2 409.3,181.3 409.2,187.7 409.1,180.8 409.0,185.7 408.9,184.5 408.7,177.0 408.6,183.8 408.5,176.0 408.4,180.5 408.3,182.0 408.2,167.2 408.1,179.4 408.0,172.5 407.9,182.4 407.8,177.1 407.7,172.2 407.6,169.5 407.5,176.1 407.4,166.6 407.3,169.7 407.2,170.5 407.1,175.4 407.0,164.0 406.9,168.4 406.8,166.4 406.7,201.4 406.6,167.9 406.5,161.2 406.4,162.3 406.3,163.4 406.2,161.3 406.0,161.4 405.9,158.0 405.8,161.0 405.7,163.0 405.6,170.2 405.5,158.3 405.4,157.0 405.3,158.2 405.2,164.0 405.1,161.9 405.0,157.2 404.9,155.8 404.8,154.6 404.7,151.4 404.6,155.7 404.5,153.6 404.4,190.4 404.3,155.4 404.2,151.6 404.1,182.5 404.0,157.7 403.9,153.1 403.8,160.0 403.7,149.7 403.6,149.7 403.5,151.2 403.4,158.4 403.2,151.2 403.1,151.0 403.0,143.8 402.9,149.4 402.8,157.5 402.7,155.3 402.6,144.8 402.5,151.5 402.4,142.4 402.3,150.8 402.2,162.3 402.1,150.0 402.0,139.6 401.9,152.2 401.8,147.6 401.7,149.7 401.6,143.8 401.5,146.5 401.4,144.0 401.3,148.4 401.2,145.9 401.1,144.3 401.0,143.3 400.9,145.0 400.8,151.0 400.7,145.4 400.5,143.8 400.4,152.1 400.3,153.7 400.2,147.6 400.1,148.4 400.0,149.5 399.9,140.8 399.8,149.6 399.7,153.4 399.6,149.6 399.5,152.9 399.4,147.6 399.3,143.9 399.2,153.0 399.1,145.3 399.0,149.2 398.9,151.5 398.8,186.1 398.7,149.2 398.6,140.3 398.5,146.6 398.4,148.8 398.3,147.9 398.2,143.4 398.1,148.7 398.0,145.7 397.8,150.3 397.7,145.8 397.6,152.7 397.5,149.3 397.4,152.1 397.3,146.6 397.2,140.0 397.1,150.3 397.0,143.3 396.9,152.2 396.8,141.2 396.7,137.6 396.6,155.0 396.5,146.9 396.4,144.8 396.3,164.5 396.2,145.5 396.1,151.6 396.0,151.1 395.9,149.2 395.8,155.5 395.7,154.9 395.6,144.0 395.5,153.3 395.4,170.3 395.3,151.6 395.2,156.4 395.0,153.4 394.9,151.9 394.8,156.3 394.7,163.5 394.6,151.1 394.5,154.0 394.4,166.2 394.3,151.4 394.2,150.5 394.1,162.5 394.0,157.4 393.9,156.4 393.8,157.6 393.7,159.2 393.6,166.0 393.5,163.5 393.4,165.7 393.3,158.9 393.2,171.0 393.1,168.2 393.0,172.4 392.9,165.7 392.8,169.7 392.7,156.2 392.6,166.1 392.5,168.5 392.3,169.0 392.2,171.2 392.1,180.0 392.0,174.2 391.9,172.8 391.8,173.4 391.7,170.0 391.6,179.0 391.5,181.0 391.4,182.9 391.3,186.8 391.2,177.1 391.1,180.3 391.0,181.2 390.9,177.6 390.8,183.2 390.7,182.5 390.6,182.0 390.5,183.6 390.4,182.2 390.3,203.1 390.2,189.6 390.1,186.0 390.0,187.3 389.9,186.4 389.8,190.7 389.7,191.6 389.5,210.0 389.4,195.3 389.3,206.9 389.2,200.9 389.1,201.4 389.0,198.1 388.9,224.4 388.8,198.8 388.7,216.7 388.6,202.4 388.5,205.7 388.4,203.1 388.3,210.3 388.2,207.0 388.1,213.1 388.0,216.5 387.9,210.5 387.8,215.3 387.7,220.3 387.6,224.0 387.5,223.9 387.4,225.4 387.3,221.8 387.2,220.7 387.1,223.6 387.0,225.5 386.8,223.4 386.7,221.0 386.6,224.7 386.5,220.4 386.4,222.0 386.3,222.5 386.2,224.8 386.1,227.6 386.0,229.1 385.9,227.4 385.8,225.6 385.7,236.3 385.6,224.3 385.5,224.7 385.4,221.2 385.3,225.1 385.2,231.0 385.1,232.7 385.0,225.0 384.9,227.6 384.8,230.5 384.7,234.0 384.6,226.3 384.5,229.9 384.4,228.7 384.3,225.3 384.2,231.8 384.0,227.2 383.9,232.2 383.8,222.8 383.7,232.9 383.6,228.5 383.5,232.2 383.4,228.5 383.3,232.4 383.2,230.8 383.1,231.3 383.0,229.1 382.9,230.1 382.8,230.5 382.7,229.7 382.6,230.8 382.5,226.2 382.4,230.9 382.3,233.1 382.2,230.1 382.1,227.6 382.0,235.4 381.9,235.0 381.8,234.4 381.7,227.5 381.6,234.5 381.5,231.4 381.3,234.6 381.2,234.8 381.1,232.5 381.0,228.9 380.9,231.2 380.8,234.3 380.7,231.9 380.6,235.8 380.5,237.7 380.4,234.6 380.3,234.5 380.2,235.5 380.1,235.5 380.0,232.9 379.9,226.4 379.8,233.4 379.7,234.0 379.6,233.3 379.5,230.0 379.4,230.1 379.3,230.7 379.2,239.0 379.1,230.6 379.0,233.9 378.9,234.5 378.8,231.1 378.7,230.3 378.5,235.8 378.4,231.9 378.3,228.1 378.2,228.6 378.1,227.9 378.0,231.6 377.9,228.8 377.8,233.2 377.7,227.4 377.6,235.8 377.5,226.8 377.4,226.3 377.3,225.8 377.2,228.7 377.1,225.5 377.0,225.6 376.9,225.0 376.8,231.4 376.7,227.6 376.6,228.1 376.5,228.6 376.4,226.4 376.3,228.4 376.2,222.5 376.1,225.3 376.0,226.5 375.8,225.9 375.7,225.1 375.6,223.0 375.5,224.4 375.4,222.6 375.3,222.8 375.2,223.2 375.1,221.2 375.0,222.4 374.9,223.1 374.8,217.8 374.7,225.2 374.6,223.2 374.5,218.0 374.4,216.9 374.3,212.4 374.2,214.6 374.1,211.1 374.0,206.3 373.9,207.7 373.8,213.4 373.7,209.4 373.6,204.2 373.5,204.9 373.4,205.3 373.3,200.7 373.1,200.8 373.0,201.9 372.9,202.5 372.8,199.3 372.7,197.3 372.6,194.7 372.5,196.7 372.4,198.2 372.3,193.9 372.2,192.3 372.1,187.1 372.0,185.6 371.9,191.3 371.8,191.4 371.7,191.6 371.6,183.8 371.5,184.3 371.4,183.8 371.3,182.0 371.2,185.3 371.1,183.4 371.0,183.3 370.9,202.0 370.8,181.3 370.7,176.9 370.6,179.8 370.5,175.0 370.3,178.1 370.2,175.2 370.1,174.5 370.0,177.2 369.9,171.4 369.8,176.7 369.7,170.1 369.6,176.5 369.5,171.9 369.4,174.4 369.3,173.7 369.2,171.4 369.1,173.8 369.0,168.0 368.9,172.4 368.8,162.7 368.7,161.2 368.6,167.2 368.5,165.4 368.4,167.8 368.3,165.6 368.2,164.1 368.1,172.1 368.0,168.5 367.9,165.6 367.8,158.0 367.6,159.3 367.5,158.3 367.4,160.6 367.3,162.2 367.2,154.3 367.1,154.1 367.0,156.0 366.9,163.6 366.8,157.2 366.7,158.5 366.6,160.6 366.5,150.2 366.4,155.8 366.3,163.3 366.2,150.2 366.1,151.9 366.0,163.5 365.9,146.5 365.8,154.4 365.7,147.8 365.6,162.9 365.5,157.8 365.4,158.7 365.3,142.1 365.2,155.7 365.1,148.2 365.0,152.3 364.8,156.3 364.7,155.3 364.6,149.4 364.5,155.4 364.4,151.3 364.3,153.8 364.2,146.5 364.1,151.9 364.0,144.8 363.9,150.9 363.8,150.3 363.7,150.5 363.6,154.7 363.5,157.8 363.4,147.6 363.3,153.6 363.2,155.2 363.1,155.6 363.0,152.9 362.9,146.7 362.8,149.7 362.7,148.1 362.6,150.8 362.5,150.4 362.4,156.2 362.3,152.3 362.1,140.8 362.0,156.9 361.9,160.9 361.8,155.4 361.7,149.6 361.6,157.2 361.5,152.0 361.4,147.7 361.3,150.6 361.2,149.3 361.1,160.3 361.0,146.4 360.9,149.3 360.8,153.3 360.7,150.0 360.6,146.8 360.5,154.7 360.4,154.3 360.3,154.5 360.2,158.9 360.1,144.0 360.0,146.6 359.9,147.3 359.8,143.2 359.7,149.5 359.6,158.6 359.5,152.0 359.3,153.1 359.2,148.2 359.1,150.6 359.0,159.4 358.9,160.5 358.8,152.9 358.7,146.4 358.6,153.8 358.5,151.0 358.4,158.0 358.3,152.0 358.2,154.3 358.1,167.6 358.0,157.2 357.9,154.7 357.8,158.1 357.7,144.9 357.6,165.4 357.5,152.0 357.4,159.0 357.3,162.6 357.2,159.2 357.1,162.3 357.0,155.7 356.9,164.0 356.8,165.7 356.6,154.5 356.5,163.7 356.4,166.0 356.3,162.3 356.2,167.2 356.1,166.6 356.0,156.1 355.9,165.6 355.8,164.9 355.7,164.7 355.6,176.0 355.5,171.4 355.4,166.3 355.3,167.0 355.2,172.4 355.1,167.4 355.0,166.1 354.9,173.7 354.8,175.1 354.7,172.0 354.6,171.9 354.5,180.4 354.4,168.6 354.3,183.7 354.2,172.2 354.1,172.9 353.9,187.4 353.8,193.9 353.7,179.1 353.6,178.2 353.5,179.9 353.4,182.4 353.3,178.6 353.2,189.6 353.1,182.1 353.0,188.6 352.9,190.7 352.8,184.3 352.7,191.5 352.6,182.0 352.5,185.6 352.4,190.5 352.3,188.2 352.2,195.5 352.1,194.7 352.0,188.8 351.9,192.5 351.8,190.5 351.7,203.0 351.6,200.5 351.5,203.2 351.4,199.9 351.3,195.5 351.1,208.5 351.0,205.3 350.9,205.5 350.8,204.0 350.7,209.3 350.6,204.9 350.5,206.6 350.4,209.1 350.3,212.5 350.2,210.1 350.1,215.5 350.0,217.5 349.9,216.2 349.8,220.4 349.7,219.8 349.6,219.8 349.5,227.7 349.4,222.8 349.3,223.5 349.2,223.7 349.1,224.0 349.0,229.0 348.9,222.9 348.8,226.0 348.7,228.9 348.6,228.7 348.4,226.9 348.3,226.9 348.2,225.2 348.1,226.9 348.0,229.5 347.9,226.5 347.8,231.3 347.7,230.1 347.6,229.1 347.5,234.6 347.4,230.7 347.3,231.4 347.2,231.0 347.1,230.1 347.0,231.3 346.9,238.1 346.8,226.0 346.7,232.2 346.6,231.9 346.5,236.1 346.4,233.3 346.3,233.3 346.2,232.4 346.1,233.6 346.0,233.2 345.9,233.2 345.8,239.3 345.6,231.7 345.5,237.4 345.4,231.7 345.3,233.5 345.2,232.3 345.1,232.3 345.0,234.2 344.9,240.4 344.8,236.7 344.7,234.4 344.6,233.7 344.5,236.1 344.4,231.6 344.3,233.5 344.2,234.2 344.1,235.5 344.0,238.3 343.9,234.6 343.8,236.7 343.7,243.7 343.6,239.0 343.5,238.6 343.4,239.4 343.3,239.2 343.2,235.9 343.1,236.9 342.9,238.2 342.8,233.5 342.7,234.0 342.6,239.1 342.5,237.0 342.4,232.5 342.3,238.5 342.2,234.8 342.1,236.8 342.0,234.7 341.9,237.0 341.8,235.4 341.7,237.1 341.6,232.2 341.5,232.7 341.4,234.6 341.3,233.0 341.2,235.3 341.1,242.3 341.0,229.6 340.9,235.4 340.8,234.4 340.7,233.4 340.6,231.9 340.5,236.0 340.4,233.0 340.3,234.0 340.1,228.8 340.0,231.7 339.9,233.4 339.8,238.4 339.7,232.4 339.6,230.6 339.5,237.0 339.4,230.3 339.3,234.8 339.2,237.0 339.1,229.8 339.0,238.1 338.9,234.0 338.8,232.1 338.7,232.2 338.6,232.5 338.5,231.6 338.4,228.7 338.3,235.8 338.2,228.1 338.1,228.1 338.0,228.0 337.9,227.0 337.8,226.2 337.7,227.9 337.6,234.9 337.4,226.8 337.3,222.9 337.2,228.1 337.1,221.9 337.0,222.3 336.9,225.7 336.8,222.9 336.7,221.1 336.6,219.4 336.5,215.3 336.4,216.5 336.3,232.8 336.2,214.5 336.1,210.8 336.0,217.7 335.9,209.1 335.8,207.1 335.7,212.7 335.6,207.7 335.5,200.2 335.4,204.6 335.3,201.3 335.2,199.4 335.1,196.0 335.0,210.2 334.9,195.4 334.7,198.1 334.6,196.9 334.5,194.1 334.4,193.8 334.3,188.0 334.2,186.3 334.1,192.6 334.0,188.9 333.9,189.6 333.8,188.7 333.7,186.1 333.6,183.1 333.5,184.3 333.4,184.0 333.3,179.8 333.2,184.4 333.1,187.6 333.0,178.0 332.9,199.0 332.8,176.1 332.7,188.0 332.6,194.0 332.5,176.9 332.4,187.0 332.3,183.9 332.2,172.5 332.1,179.7 331.9,173.7 331.8,177.6 331.7,173.4 331.6,172.5 331.5,172.8 331.4,169.3 331.3,173.2 331.2,169.5 331.1,163.3 331.0,171.3 330.9,166.1 330.8,170.2 330.7,167.8 330.6,163.9 330.5,165.5 330.4,189.8 330.3,158.1 330.2,166.7 330.1,155.5 330.0,165.8 329.9,164.9 329.8,162.1 329.7,162.4 329.6,169.6 329.5,169.8 329.4,160.9 329.2,162.2 329.1,157.2 329.0,165.6 328.9,157.8 328.8,173.6 328.7,159.2 328.6,154.9 328.5,163.9 328.4,152.1 328.3,162.3 328.2,174.0 328.1,165.0 328.0,164.9 327.9,159.5 327.8,152.9 327.7,156.6 327.6,159.3 327.5,157.8 327.4,155.3 327.3,161.4 327.2,163.0 327.1,147.9 327.0,165.7 326.9,166.4 326.8,162.9 326.7,159.6 326.6,151.2 326.4,160.6 326.3,152.2 326.2,159.5 326.1,150.7 326.0,155.7 325.9,160.0 325.8,163.1 325.7,158.7 325.6,176.8 325.5,161.6 325.4,158.5 325.3,158.4 325.2,158.9 325.1,159.8 325.0,160.7 324.9,161.8 324.8,162.6 324.7,159.7 324.6,153.5 324.5,153.8 324.4,160.9 324.3,156.7 324.2,156.9 324.1,154.8 324.0,160.1 323.9,152.7 323.7,149.7 323.6,155.7 323.5,150.2 323.4,151.6 323.3,158.8 323.2,163.2 323.1,153.9 323.0,151.3 322.9,157.3 322.8,149.6 322.7,157.0 322.6,154.6 322.5,157.7 322.4,166.1 322.3,158.5 322.2,170.9 322.1,154.6 322.0,163.7 321.9,152.4 321.8,165.4 321.7,160.9 321.6,156.9 321.5,152.5 321.4,145.3 321.3,156.0 321.2,152.2 321.1,162.3 320.9,154.4 320.8,156.2 320.7,151.3 320.6,158.6 320.5,161.5 320.4,158.0 320.3,157.3 320.2,160.2 320.1,166.0 320.0,159.1 319.9,156.1 319.8,158.1 319.7,162.8 319.6,168.2 319.5,164.2 319.4,155.7 319.3,152.3 319.2,165.8 319.1,159.7 319.0,149.7 318.9,160.9 318.8,161.6 318.7,167.5 318.6,167.9 318.5,156.7 318.4,171.1 318.2,165.5 318.1,159.3 318.0,166.4 317.9,158.3 317.8,165.8 317.7,161.2 317.6,176.7 317.5,165.1 317.4,164.4 317.3,173.6 317.2,163.2 317.1,172.3 317.0,170.1 316.9,166.2 316.8,171.8 316.7,164.0 316.6,171.9 316.5,171.7 316.4,172.1 316.3,175.1 316.2,174.7 316.1,175.5 316.0,172.8 315.9,171.3 315.8,174.0 315.7,173.0 315.6,177.4 315.4,175.5 315.3,181.4 315.2,180.1 315.1,189.4 315.0,179.0 314.9,183.3 314.8,180.1 314.7,187.1 314.6,185.5 314.5,180.2 314.4,190.0 314.3,184.7 314.2,187.3 314.1,190.3 314.0,189.7 313.9,191.3 313.8,195.1 313.7,196.8 313.6,200.3 313.5,197.4 313.4,194.5 313.3,201.6 313.2,200.3 313.1,206.9 313.0,200.5 312.9,203.4 312.7,206.2 312.6,207.7 312.5,209.0 312.4,205.1 312.3,207.4 312.2,208.9 312.1,208.7 312.0,212.7 311.9,213.2 311.8,215.0 311.7,216.9 311.6,217.5 311.5,219.5 311.4,218.6 311.3,222.2 311.2,224.3 311.1,226.7 311.0,225.7 310.9,222.6 310.8,225.9 310.7,226.8 310.6,226.0 310.5,228.4 310.4,223.3 310.3,226.4 310.2,229.8 310.0,227.1 309.9,230.8 309.8,234.2 309.7,230.4 309.6,228.0 309.5,228.2 309.4,229.6 309.3,229.1 309.2,228.5 309.1,229.5 309.0,227.8 308.9,228.3 308.8,233.4 308.7,230.8 308.6,232.3 308.5,234.8 308.4,233.1 308.3,225.3 308.2,235.7 308.1,229.4 308.0,232.7 307.9,230.5 307.8,232.1 307.7,233.4 307.6,229.7 307.5,232.2 307.4,235.2 307.2,237.2 307.1,243.4 307.0,233.8 306.9,233.3 306.8,233.9 306.7,234.0 306.6,230.8 306.5,235.0 306.4,233.7 306.3,236.6 306.2,234.0 306.1,235.2 306.0,239.5 305.9,236.9 305.8,236.4 305.7,232.1 305.6,239.5 305.5,245.5 305.4,236.7 305.3,239.6 305.2,237.3 305.1,233.4 305.0,237.6 304.9,249.7 304.8,235.3 304.7,232.0 304.5,236.5 304.4,235.2 304.3,235.2 304.2,231.2 304.1,234.0 304.0,235.7 303.9,233.2 303.8,235.6 303.7,247.5 303.6,236.8 303.5,234.9 303.4,235.5 303.3,237.2 303.2,234.1 303.1,233.3 303.0,232.8 302.9,233.4 302.8,235.2 302.7,235.4 302.6,233.7 302.5,237.1 302.4,234.1 302.3,235.2 302.2,233.1 302.1,231.7 302.0,232.1 301.9,240.8 301.7,230.6 301.6,234.3 301.5,232.4 301.4,230.9 301.3,233.0 301.2,233.1 301.1,229.1 301.0,235.2 300.9,230.9 300.8,227.0 300.7,230.5 300.6,227.7 300.5,231.4 300.4,233.8 300.3,231.9 300.2,230.9 300.1,229.4 300.0,232.2 299.9,225.9 299.8,228.5 299.7,232.0 299.6,228.2 299.5,227.0 299.4,228.9 299.3,231.9 299.2,225.0 299.0,229.8 298.9,226.8 298.8,225.2 298.7,236.6 298.6,225.1 298.5,224.1 298.4,221.0 298.3,217.0 298.2,225.8 298.1,215.7 298.0,215.9 297.9,220.8 297.8,213.1 297.7,215.2 297.6,209.3 297.5,218.9 297.4,211.7 297.3,208.4 297.2,203.7 297.1,203.2 297.0,206.1 296.9,205.7 296.8,203.2 296.7,206.3 296.6,205.2 296.5,196.3 296.4,197.5 296.2,199.2 296.1,197.6 296.0,193.2 295.9,198.1 295.8,196.0 295.7,194.9 295.6,191.0 295.5,196.6 295.4,192.7 295.3,189.1 295.2,190.9 295.1,185.0 295.0,195.6 294.9,187.9 294.8,187.4 294.7,184.3 294.6,187.3 294.5,183.6 294.4,185.7 294.3,187.9 294.2,183.9 294.1,182.7 294.0,189.9 293.9,180.2 293.8,179.8 293.7,178.4 293.5,181.3 293.4,180.4 293.3,170.8 293.2,175.9 293.1,172.0 293.0,175.8 292.9,171.4 292.8,177.6 292.7,170.0 292.6,171.1 292.5,169.4 292.4,171.8 292.3,165.4 292.2,170.6 292.1,166.6 292.0,170.2 291.9,173.1 291.8,166.6 291.7,163.9 291.6,161.4 291.5,162.7 291.4,163.0 291.3,167.2 291.2,166.2 291.1,158.6 291.0,163.1 290.8,161.2 290.7,160.2 290.6,165.3 290.5,151.9 290.4,163.2 290.3,160.6 290.2,161.9 290.1,164.2 290.0,164.9 289.9,160.7 289.8,158.4 289.7,155.2 289.6,150.0 289.5,155.8 289.4,166.6 289.3,154.9 289.2,157.0 289.1,149.8 289.0,161.1 288.9,159.5 288.8,154.9 288.7,155.8 288.6,152.8 288.5,156.3 288.4,152.6 288.3,149.4 288.2,153.5 288.0,152.0 287.9,150.9 287.8,154.5 287.7,157.9 287.6,149.7 287.5,151.0 287.4,158.6 287.3,149.2 287.2,146.4 287.1,156.8 287.0,156.5 286.9,146.1 286.8,155.2 286.7,160.0 286.6,150.0 286.5,158.6 286.4,149.8 286.3,158.2 286.2,154.0 286.1,152.9 286.0,155.7 285.9,155.8 285.8,156.7 285.7,144.7 285.6,152.0 285.5,157.1 285.3,167.6 285.2,168.4 285.1,152.1 285.0,151.6 284.9,150.6 284.8,151.2 284.7,150.5 284.6,154.8 284.5,152.2 284.4,150.1 284.3,156.1 284.2,161.8 284.1,151.6 284.0,155.6 283.9,155.3 283.8,173.4 283.7,153.9 283.6,156.0 283.5,155.4 283.4,154.2 283.3,156.0 283.2,153.5 283.1,161.9 283.0,148.7 282.9,151.2 282.8,158.4 282.7,148.3 282.5,157.4 282.4,171.6 282.3,159.6 282.2,162.2 282.1,157.2 282.0,158.5 281.9,163.5 281.8,157.8 281.7,175.1 281.6,166.6 281.5,160.6 281.4,166.1 281.3,167.0 281.2,158.3 281.1,153.0 281.0,165.3 280.9,161.4 280.8,161.7 280.7,158.6 280.6,154.9 280.5,160.6 280.4,165.1 280.3,157.4 280.2,162.0 280.1,170.7 280.0,168.7 279.8,166.1 279.7,167.1 279.6,172.4 279.5,178.8 279.4,170.7 279.3,176.1 279.2,167.7 279.1,179.7 279.0,176.5 278.9,173.5 278.8,178.8 278.7,177.0 278.6,171.5 278.5,178.0 278.4,176.3 278.3,178.3 278.2,194.3 278.1,179.3 278.0,181.9 277.9,188.2 277.8,183.2 277.7,181.5 277.6,182.9 277.5,184.1 277.4,184.9 277.3,182.4 277.2,193.0 277.0,180.2 276.9,188.9 276.8,193.6 276.7,189.2 276.6,187.1 276.5,194.6 276.4,194.7 276.3,200.3 276.2,195.9 276.1,196.4 276.0,194.3 275.9,199.0 275.8,196.3 275.7,202.3 275.6,198.9 275.5,200.3 275.4,202.0 275.3,207.5 275.2,207.4 275.1,206.4 275.0,206.6 274.9,201.9 274.8,206.8 274.7,211.5 274.6,215.2 274.5,210.2 274.3,209.1 274.2,216.1 274.1,216.1 274.0,214.5 273.9,222.5 273.8,229.7 273.7,221.2 273.6,233.3 273.5,222.5 273.4,227.0 273.3,228.1 273.2,226.8 273.1,221.9 273.0,236.1 272.9,229.5 272.8,232.9 272.7,229.9 272.6,230.3 272.5,230.9 272.4,234.9 272.3,228.0 272.2,232.6 272.1,229.5 272.0,232.1 271.9,228.7 271.8,229.9 271.6,234.4 271.5,228.7 271.4,230.5 271.3,234.0 271.2,232.8 271.1,233.4 271.0,233.2 270.9,232.2 270.8,232.7 270.7,232.6 270.6,232.2 270.5,231.4 270.4,231.0 270.3,231.8 270.2,231.0 270.1,231.8 270.0,236.3 269.9,236.4 269.8,236.2 269.7,236.1 269.6,237.1 269.5,236.2 269.4,240.0 269.3,239.2 269.2,243.2 269.1,233.0 269.0,236.2 268.8,237.0 268.7,233.1 268.6,236.8 268.5,234.7 268.4,240.1 268.3,231.9 268.2,242.3 268.1,236.0 268.0,237.3 267.9,240.4 267.8,235.1 267.7,239.2 267.6,236.4 267.5,233.8 267.4,238.0 267.3,239.0 267.2,237.7 267.1,236.8 267.0,240.3 266.9,237.4 266.8,235.4 266.7,236.5 266.6,240.1 266.5,234.8 266.4,236.7 266.3,243.4 266.1,234.7 266.0,238.5 265.9,240.7 265.8,236.2 265.7,239.7 265.6,233.9 265.5,239.1 265.4,239.1 265.3,234.6 265.2,235.3 265.1,233.4 265.0,236.3 264.9,235.5 264.8,234.8 264.7,233.5 264.6,238.7 264.5,240.1 264.4,231.8 264.3,232.1 264.2,231.0 264.1,232.4 264.0,230.0 263.9,230.7 263.8,233.9 263.7,239.2 263.6,235.7 263.5,232.8 263.3,231.2 263.2,236.3 263.1,228.8 263.0,233.8 262.9,233.4 262.8,230.3 262.7,233.9 262.6,229.2 262.5,230.2 262.4,229.5 262.3,229.0 262.2,234.5 262.1,229.9 262.0,228.9 261.9,226.7 261.8,228.0 261.7,227.9 261.6,223.2 261.5,229.2 261.4,225.8 261.3,230.4 261.2,220.9 261.1,225.6 261.0,233.4 260.9,227.7 260.8,224.9 260.6,223.1 260.5,221.2 260.4,219.2 260.3,220.9 260.2,217.4 260.1,215.3 260.0,218.3 259.9,220.5 259.8,210.5 259.7,206.0 259.6,207.0 259.5,207.5 259.4,206.9 259.3,204.1 259.2,206.1 259.1,200.5 259.0,199.3 258.9,212.6 258.8,198.7 258.7,206.0 258.6,191.8 258.5,196.5 258.4,198.2 258.3,202.1 258.2,202.3 258.1,192.5 258.0,191.9 257.8,191.6 257.7,187.8 257.6,187.6 257.5,189.0 257.4,186.3 257.3,187.3 257.2,185.2 257.1,183.7 257.0,176.1 256.9,176.5 256.8,182.4 256.7,179.5 256.6,185.9 256.5,177.1 256.4,171.7 256.3,177.1 256.2,179.4 256.1,180.2 256.0,174.8 255.9,180.7 255.8,184.4 255.7,168.3 255.6,175.1 255.5,167.9 255.4,173.7 255.3,164.8 255.1,175.3 255.0,171.7 254.9,172.0 254.8,157.1 254.7,168.1 254.6,163.5 254.5,162.9 254.4,167.9 254.3,157.9 254.2,164.9 254.1,173.8 254.0,165.8 253.9,161.9 253.8,154.2 253.7,170.3 253.6,171.5 253.5,161.6 253.4,161.7 253.3,160.6 253.2,159.9 253.1,157.3 253.0,161.8 252.9,164.0 252.8,160.2 252.7,162.4 252.6,165.3 252.4,155.6 252.3,157.9 252.2,163.4 252.1,170.8 252.0,155.7 251.9,152.0 251.8,163.6 251.7,158.4 251.6,152.7 251.5,155.3 251.4,149.0 251.3,155.5 251.2,156.7 251.1,154.1 251.0,152.8 250.9,167.8 250.8,149.8 250.7,156.3 250.6,151.4 250.5,148.9 250.4,159.5 250.3,153.9 250.2,152.1 250.1,160.4 250.0,143.6 249.9,159.4 249.8,151.3 249.6,153.9 249.5,161.0 249.4,153.8 249.3,151.2 249.2,152.5 249.1,147.2 249.0,146.8 248.9,152.4 248.8,162.8 248.7,153.4 248.6,155.3 248.5,142.4 248.4,147.6 248.3,155.2 248.2,148.2 248.1,145.6 248.0,154.2 247.9,151.4 247.8,149.3 247.7,145.5 247.6,157.9 247.5,155.7 247.4,154.0 247.3,152.8 247.2,147.8 247.1,151.7 246.9,155.8 246.8,156.0 246.7,152.2 246.6,160.6 246.5,145.5 246.4,151.1 246.3,151.0 246.2,153.7 246.1,149.4 246.0,159.0 245.9,159.9 245.8,153.7 245.7,156.4 245.6,155.8 245.5,158.8 245.4,157.8 245.3,171.1 245.2,158.0 245.1,153.8 245.0,169.1 244.9,162.1 244.8,167.2 244.7,153.5 244.6,156.3 244.5,153.9 244.4,160.8 244.3,163.2 244.1,158.9 244.0,161.4 243.9,156.7 243.8,162.9 243.7,163.3 243.6,164.6 243.5,156.3 243.4,168.9 243.3,161.8 243.2,164.9 243.1,164.0 243.0,170.0 242.9,161.4 242.8,158.9 242.7,162.9 242.6,165.5 242.5,174.7 242.4,163.4 242.3,171.0 242.2,166.4 242.1,167.6 242.0,169.7 241.9,169.9 241.8,173.8 241.7,164.5 241.6,177.6 241.4,167.3 241.3,171.4 241.2,170.3 241.1,176.3 241.0,174.7 240.9,178.1 240.8,179.3 240.7,198.7 240.6,181.5 240.5,173.2 240.4,180.1 240.3,180.4 240.2,178.8 240.1,180.6 240.0,181.3 239.9,183.1 239.8,180.3 239.7,187.3 239.6,192.3 239.5,195.4 239.4,189.4 239.3,191.9 239.2,186.5 239.1,194.2 239.0,187.4 238.9,195.0 238.8,192.5 238.6,198.2 238.5,197.8 238.4,199.2 238.3,202.6 238.2,195.4 238.1,197.8 238.0,200.8 237.9,206.2 237.8,209.2 237.7,208.3 237.6,207.5 237.5,209.3 237.4,209.3 237.3,211.4 237.2,213.2 237.1,210.0 237.0,213.8 236.9,217.8 236.8,218.7 236.7,213.3 236.6,223.8 236.5,221.9 236.4,215.9 236.3,223.6 236.2,221.7 236.1,225.6 235.9,226.2 235.8,227.1 235.7,228.6 235.6,230.6 235.5,229.1 235.4,227.6 235.3,227.9 235.2,231.4 235.1,233.3 235.0,230.3 234.9,240.5 234.8,237.3 234.7,232.2 234.6,229.3 234.5,229.1 234.4,231.1 234.3,228.6 234.2,232.6 234.1,231.6 234.0,231.3 233.9,237.0 233.8,232.4 233.7,235.2 233.6,236.0 233.5,244.1 233.4,238.3 233.3,232.4 233.1,235.5 233.0,234.2 232.9,230.8 232.8,236.3 232.7,235.6 232.6,240.5 232.5,233.3 232.4,237.0 232.3,234.6 232.2,230.8 232.1,233.4 232.0,240.4 231.9,237.4 231.8,239.8 231.7,236.5 231.6,233.1 231.5,237.8 231.4,233.6 231.3,241.8 231.2,247.9 231.1,238.2 231.0,238.9 230.9,239.6 230.8,237.0 230.7,238.5 230.6,238.9 230.4,237.4 230.3,235.8 230.2,235.6 230.1,235.9 230.0,235.4 229.9,239.1 229.8,233.6 229.7,240.0 229.6,241.5 229.5,239.5 229.4,238.3 229.3,242.0 229.2,235.7 229.1,236.6 229.0,237.1 228.9,235.5 228.8,235.3 228.7,240.4 228.6,237.0 228.5,238.5 228.4,237.1 228.3,242.2 228.2,241.7 228.1,236.8 228.0,235.7 227.9,240.0 227.7,243.9 227.6,236.3 227.5,235.5 227.4,237.0 227.3,237.0 227.2,234.8 227.1,232.7 227.0,235.4 226.9,234.3 226.8,236.1 226.7,235.0 226.6,234.4 226.5,231.0 226.4,236.6 226.3,235.5 226.2,231.5 226.1,234.6 226.0,234.0 225.9,234.3 225.8,235.1 225.7,234.7 225.6,233.8 225.5,231.4 225.4,234.6 225.3,231.8 225.2,239.6 225.1,235.3 224.9,231.8 224.8,237.3 224.7,231.4 224.6,232.1 224.5,231.3 224.4,233.1 224.3,234.1 224.2,233.9 224.1,235.2 224.0,231.6 223.9,230.2 223.8,233.0 223.7,226.5 223.6,228.9 223.5,227.4 223.4,226.3 223.3,228.0 223.2,224.4 223.1,229.0 223.0,226.6 222.9,227.7 222.8,226.2 222.7,223.4 222.6,220.5 222.5,226.9 222.4,223.4 222.2,216.1 222.1,214.4 222.0,213.3 221.9,215.8 221.8,213.3 221.7,215.3 221.6,213.2 221.5,209.0 221.4,211.1 221.3,211.7 221.2,209.5 221.1,207.1 221.0,206.4 220.9,204.7 220.8,203.6 220.7,200.0 220.6,204.9 220.5,200.4 220.4,201.2 220.3,199.4 220.2,194.4 220.1,198.5 220.0,195.5 219.9,203.2 219.8,196.5 219.7,192.2 219.6,193.6 219.4,188.7 219.3,191.1 219.2,186.1 219.1,186.9 219.0,194.3 218.9,187.7 218.8,180.7 218.7,184.4 218.6,185.1 218.5,188.9 218.4,183.4 218.3,193.9 218.2,176.0 218.1,183.2 218.0,183.4 217.9,183.0 217.8,178.2 217.7,180.9 217.6,169.1 217.5,172.6 217.4,177.9 217.3,173.1 217.2,173.2 217.1,169.5 217.0,171.2 216.9,171.6 216.7,176.8 216.6,174.2 216.5,173.8 216.4,165.0 216.3,168.8 216.2,163.0 216.1,172.6 216.0,164.1 215.9,173.0 215.8,169.7 215.7,174.2 215.6,167.4 215.5,159.4 215.4,163.6 215.3,170.1 215.2,165.4 215.1,152.7 215.0,157.8 214.9,166.9 214.8,160.6 214.7,170.4 214.6,160.7 214.5,167.0 214.4,160.6 214.3,178.6 214.2,156.2 214.1,175.7 213.9,168.8 213.8,164.4 213.7,157.3 213.6,165.9 213.5,165.7 213.4,162.0 213.3,163.3 213.2,158.7 213.1,159.3 213.0,154.9 212.9,165.4 212.8,147.5 212.7,164.3 212.6,152.1 212.5,179.2 212.4,157.2 212.3,161.2 212.2,157.6 212.1,155.6 212.0,160.1 211.9,153.3 211.8,157.0 211.7,158.5 211.6,156.3 211.5,155.8 211.4,153.4 211.2,165.6 211.1,155.7 211.0,158.9 210.9,159.0 210.8,152.7 210.7,152.3 210.6,155.5 210.5,158.4 210.4,148.9 210.3,156.3 210.2,155.7 210.1,156.7 210.0,157.1 209.9,150.1 209.8,159.5 209.7,160.0 209.6,152.2 209.5,150.2 209.4,153.1 209.3,155.8 209.2,156.0 209.1,155.8 209.0,152.7 208.9,150.9 208.8,157.9 208.7,155.7 208.5,155.8 208.4,163.7 208.3,160.6 208.2,155.9 208.1,160.5 208.0,152.4 207.9,154.7 207.8,156.6 207.7,164.0 207.6,158.0 207.5,180.5 207.4,161.9 207.3,161.0 207.2,159.9 207.1,171.8 207.0,154.6 206.9,159.7 206.8,195.9 206.7,158.4 206.6,164.5 206.5,158.1 206.4,164.8 206.3,166.4 206.2,178.6 206.1,160.4 206.0,162.0 205.9,165.6 205.7,169.6 205.6,166.1 205.5,161.2 205.4,166.8 205.3,167.6 205.2,167.1 205.1,176.5 205.0,163.6 204.9,174.1 204.8,166.9 204.7,173.0 204.6,169.6 204.5,174.3 204.4,171.7 204.3,175.8 204.2,178.6 204.1,174.6 204.0,171.8 203.9,173.6 203.8,177.1 203.7,179.8 203.6,173.7 203.5,173.5 203.4,178.8 203.3,182.1 203.2,180.1 203.0,171.9 202.9,176.4 202.8,186.4 202.7,193.5 202.6,175.6 202.5,184.6 202.4,178.6 202.3,183.4 202.2,183.8 202.1,188.1 202.0,184.7 201.9,188.5 201.8,187.3 201.7,187.8 201.6,196.4 201.5,194.4 201.4,192.7 201.3,192.1 201.2,196.6 201.1,201.8 201.0,189.9 200.9,190.1 200.8,198.7 200.7,199.1 200.6,197.3 200.5,197.0 200.4,210.3 200.2,200.6 200.1,205.7 200.0,198.7 199.9,204.0 199.8,208.8 199.7,204.6 199.6,212.8 199.5,211.4 199.4,213.6 199.3,211.5 199.2,212.6 199.1,213.1 199.0,217.8 198.9,215.3 198.8,216.8 198.7,216.1 198.6,227.7 198.5,220.4 198.4,220.6 198.3,237.3 198.2,228.3 198.1,229.4 198.0,225.9 197.9,227.6 197.8,229.5 197.7,235.4 197.5,230.2 197.4,229.2 197.3,227.9 197.2,228.4 197.1,231.6 197.0,231.2 196.9,232.6 196.8,230.0 196.7,232.7 196.6,233.1 196.5,234.7 196.4,236.1 196.3,230.5 196.2,235.8 196.1,233.8 196.0,233.2 195.9,235.8 195.8,238.3 195.7,235.9 195.6,233.7 195.5,232.4 195.4,238.0 195.3,235.3 195.2,234.2 195.1,235.6 195.0,236.4 194.9,238.3 194.7,236.0 194.6,240.5 194.5,237.9 194.4,238.2 194.3,233.8 194.2,237.7 194.1,237.4 194.0,236.1 193.9,234.9 193.8,235.9 193.7,237.5 193.6,238.6 193.5,240.5 193.4,239.9 193.3,239.2 193.2,240.7 193.1,238.0 193.0,242.5 192.9,233.7 192.8,240.9 192.7,236.6 192.6,237.5 192.5,239.8 192.4,241.4 192.3,242.6 192.2,240.3 192.0,240.8 191.9,247.1 191.8,236.1 191.7,240.5 191.6,239.0 191.5,239.7 191.4,244.1 191.3,242.1 191.2,240.4 191.1,239.3 191.0,253.2 190.9,239.3 190.8,240.6 190.7,237.7 190.6,240.4 190.5,239.7 190.4,238.0 190.3,236.7 190.2,245.8 190.1,242.9 190.0,235.9 189.9,234.7 189.8,235.3 189.7,240.1 189.6,236.1 189.5,235.1 189.3,238.4 189.2,244.9 189.1,237.4 189.0,236.5 188.9,235.6 188.8,238.6 188.7,237.2 188.6,235.8 188.5,239.8 188.4,240.6 188.3,238.4 188.2,236.6 188.1,240.2 188.0,236.6 187.9,238.8 187.8,236.5 187.7,238.6 187.6,233.4 187.5,236.2 187.4,232.6 187.3,235.0 187.2,235.0 187.1,235.7 187.0,233.9 186.9,235.2 186.8,234.9 186.7,229.3 186.5,238.4 186.4,234.1 186.3,232.6 186.2,231.0 186.1,236.5 186.0,232.2 185.9,230.5 185.8,234.9 185.7,233.2 185.6,229.8 185.5,226.7 185.4,232.0 185.3,232.9 185.2,229.6 185.1,229.3 185.0,223.2 184.9,221.9 184.8,226.8 184.7,219.3 184.6,220.4 184.5,218.2 184.4,216.5 184.3,215.3 184.2,214.7 184.1,209.3 184.0,223.2 183.8,211.1 183.7,209.8 183.6,206.3 183.5,214.9 183.4,204.7 183.3,203.9 183.2,204.0 183.1,193.5 183.0,200.0 182.9,203.3 182.8,201.1 182.7,198.6 182.6,198.5 182.5,194.6 182.4,191.4 182.3,201.7 182.2,196.2 182.1,194.3 182.0,188.2 181.9,190.6 181.8,188.2 181.7,186.8 181.6,184.7 181.5,191.2 181.4,189.4 181.3,187.3 181.2,186.2 181.0,183.2 180.9,187.3 180.8,180.4 180.7,190.9 180.6,181.7 180.5,183.0 180.4,181.7 180.3,177.1 180.2,182.1 180.1,179.8 180.0,180.9 179.9,182.4 179.8,179.0 179.7,172.7 179.6,180.7 179.5,175.8 179.4,178.4 179.3,178.1 179.2,173.9 179.1,167.7 179.0,172.7 178.9,174.6 178.8,170.4 178.7,173.8 178.6,170.7 178.5,175.4 178.3,174.6 178.2,182.1 178.1,171.2 178.0,171.7 177.9,168.6 177.8,172.9 177.7,172.2 177.6,181.6 177.5,167.4 177.4,166.1 177.3,165.4 177.2,166.6 177.1,180.2 177.0,165.2 176.9,167.5 176.8,166.7 176.7,163.6 176.6,166.3 176.5,172.2 176.4,169.0 176.3,160.4 176.2,163.1 176.1,167.4 176.0,167.4 175.9,165.7 175.8,165.8 175.7,164.6 175.5,176.1 175.4,165.4 175.3,169.8 175.2,167.0 175.1,161.4 175.0,166.2 174.9,167.1 174.8,161.5 174.7,163.5 174.6,166.6 174.5,162.7 174.4,183.5 174.3,168.0 174.2,167.7 174.1,156.9 174.0,154.7 173.9,160.1 173.8,164.8 173.7,160.6 173.6,166.1 173.5,165.5 173.4,159.7 173.3,176.0 173.2,166.0 173.1,167.5 173.0,166.7 172.8,177.7 172.7,165.1 172.6,162.8 172.5,168.1 172.4,165.3 172.3,164.8 172.2,166.2 172.1,171.4 172.0,172.8 171.9,160.0 171.8,168.9 171.7,169.4 171.6,164.8 171.5,170.0 171.4,165.2 171.3,167.6 171.2,165.5 171.1,164.3 171.0,163.5 170.9,161.9 170.8,167.0 170.7,168.4 170.6,162.4 170.5,186.1 170.4,160.8 170.3,157.6 170.2,160.7 170.0,164.3 169.9,164.7 169.8,171.6 169.7,164.4 169.6,163.9 169.5,171.9 169.4,166.1 169.3,170.5 169.2,170.3 169.1,165.1 169.0,168.9 168.9,175.3 168.8,160.1 168.7,167.5 168.6,163.3 168.5,166.0 168.4,162.8 168.3,173.2 168.2,168.0 168.1,158.9 168.0,167.9 167.9,165.7 167.8,172.5 167.7,167.7 167.6,167.1 167.5,163.0 167.3,174.5 167.2,172.5 167.1,179.3 167.0,181.3 166.9,174.2 166.8,170.7 166.7,174.3 166.6,181.5 166.5,192.3 166.4,173.1 166.3,178.2 166.2,187.2 166.1,180.5 166.0,175.6 165.9,165.2 165.8,177.0 165.7,186.9 165.6,175.6 165.5,180.8 165.4,181.8 165.3,183.7 165.2,174.8 165.1,179.7 165.0,177.6 164.9,184.9 164.8,184.8 164.6,175.0 164.5,183.4 164.4,182.5 164.3,182.8 164.2,182.7 164.1,191.9 164.0,184.1 163.9,185.5 163.8,184.1 163.7,188.5 163.6,191.0 163.5,188.6 163.4,188.7 163.3,192.4 163.2,194.4 163.1,199.1 163.0,193.1 162.9,200.6 162.8,195.1 162.7,202.9 162.6,202.4 162.5,197.7 162.4,204.4 162.3,205.0 162.2,200.0 162.1,202.4 162.0,203.9 161.8,206.4 161.7,209.2 161.6,208.8 161.5,210.0 161.4,216.3 161.3,212.1 161.2,210.1 161.1,215.0 161.0,212.9 160.9,218.5 160.8,219.2 160.7,222.3 160.6,219.4 160.5,221.9 160.4,225.2 160.3,225.5 160.2,228.4 160.1,229.6 160.0,231.6 159.9,229.7 159.8,234.1 159.7,232.3 159.6,231.9 159.5,232.6 159.4,234.5 159.3,236.8 159.1,233.7 159.0,232.7 158.9,233.2 158.8,235.7 158.7,234.5 158.6,242.8 158.5,237.7 158.4,236.1 158.3,237.2 158.2,238.3 158.1,234.8 158.0,237.6 157.9,235.5 157.8,235.7 157.7,239.9 157.6,236.2 157.5,237.5 157.4,243.1 157.3,238.9 157.2,241.4 157.1,236.4 157.0,241.7 156.9,238.7 156.8,239.1 156.7,238.8 156.6,234.9 156.5,239.1 156.3,242.4 156.2,239.1 156.1,244.5 156.0,239.2 155.9,239.7 155.8,239.8 155.7,238.9 155.6,240.9 155.5,238.1 155.4,238.8 155.3,247.1 155.2,244.4 155.1,241.4 155.0,240.4 154.9,242.9 154.8,240.9 154.7,242.0 154.6,241.0 154.5,239.1 154.4,243.4 154.3,240.0 154.2,243.2 154.1,239.9 154.0,240.2 153.9,239.6 153.8,244.1 153.6,248.0 153.5,242.9 153.4,242.5 153.3,240.2 153.2,242.6 153.1,242.6 153.0,241.8 152.9,240.2 152.8,239.9 152.7,239.2 152.6,240.3 152.5,244.9 152.4,241.3 152.3,245.3 152.2,240.7 152.1,242.1 152.0,240.5 151.9,241.8 151.8,240.8 151.7,238.2 151.6,242.9 151.5,241.7 151.4,238.1 151.3,239.2 151.2,237.8 151.1,240.4 151.0,237.1 150.8,238.9 150.7,241.7 150.6,247.3 150.5,239.8 150.4,242.1 150.3,240.3 150.2,238.4 150.1,239.9 150.0,239.6 149.9,236.7 149.8,237.0 149.7,242.3 149.6,235.5 149.5,235.8 149.4,239.2 149.3,236.8 149.2,239.0 149.1,235.4 149.0,235.2 148.9,234.7 148.8,239.6 148.7,237.8 148.6,243.4 148.5,234.2 148.4,232.2 148.3,235.7 148.1,232.9 148.0,236.7 147.9,237.1 147.8,238.6 147.7,234.9 147.6,235.1 147.5,233.5 147.4,232.4 147.3,230.9 147.2,230.8 147.1,229.2 147.0,232.0 146.9,233.6 146.8,231.1 146.7,225.9 146.6,226.6 146.5,223.2 146.4,225.2 146.3,225.8 146.2,219.9 146.1,221.9 146.0,215.3 145.9,220.1 145.8,220.2 145.7,213.8 145.6,210.0 145.4,210.8 145.3,214.3 145.2,215.7 145.1,211.3 145.0,211.8 144.9,208.2 144.8,207.7 144.7,210.8 144.6,205.4 144.5,206.3 144.4,202.6 144.3,204.9 144.2,196.4 144.1,200.1 144.0,201.0 143.9,202.3 143.8,201.9 143.7,200.5 143.6,194.7 143.5,205.8 143.4,193.6 143.3,197.7 143.2,195.2 143.1,193.7 143.0,195.8 142.9,191.1 142.8,193.6 142.6,194.2 142.5,192.4 142.4,191.5 142.3,190.0 142.2,189.3 142.1,187.1 142.0,186.0 141.9,190.6 141.8,181.2 141.7,179.0 141.6,183.5 141.5,179.8 141.4,184.9 141.3,188.0 141.2,173.5 141.1,176.3 141.0,178.6 140.9,189.4 140.8,178.0 140.7,170.9 140.6,175.9 140.5,177.5 140.4,170.8 140.3,173.9 140.2,177.0 140.1,179.2 139.9,174.0 139.8,176.2 139.7,185.7 139.6,165.0 139.5,170.5 139.4,177.0 139.3,182.5 139.2,171.3 139.1,177.3 139.0,170.6 138.9,162.9 138.8,170.1 138.7,168.4 138.6,163.0 138.5,172.1 138.4,160.3 138.3,161.3 138.2,169.3 138.1,179.7 138.0,163.8 137.9,167.2 137.8,163.9 137.7,170.9 137.6,164.5 137.5,158.4 137.4,169.8 137.3,161.3 137.1,166.3 137.0,162.4 136.9,169.1 136.8,167.9 136.7,162.5 136.6,163.6 136.5,162.5 136.4,164.8 136.3,158.1 136.2,164.2 136.1,161.5 136.0,163.4 135.9,159.1 135.8,161.8 135.7,158.0 135.6,160.8 135.5,157.5 135.4,165.4 135.3,159.5 135.2,154.9 135.1,154.5 135.0,166.3 134.9,165.5 134.8,162.3 134.7,162.2 134.6,156.1 134.4,156.5 134.3,153.9 134.2,158.1 134.1,159.6 134.0,158.4 133.9,158.9 133.8,163.5 133.7,171.6 133.6,160.8 133.5,170.4 133.4,158.7 133.3,168.7 133.2,165.0 133.1,153.5 133.0,161.1 132.9,157.7 132.8,161.8 132.7,160.5 132.6,167.4 132.5,164.3 132.4,165.1 132.3,162.5 132.2,158.6 132.1,165.8 132.0,163.6 131.9,167.7 131.8,167.3 131.6,158.2 131.5,160.7 131.4,164.5 131.3,157.1 131.2,165.1 131.1,171.4 131.0,158.7 130.9,166.8 130.8,162.4 130.7,169.2 130.6,169.0 130.5,170.1 130.4,167.8 130.3,173.6 130.2,168.7 130.1,162.9 130.0,170.3 129.9,174.4 129.8,165.6 129.7,169.3 129.6,174.2 129.5,177.2 129.4,169.9 129.3,178.0 129.2,172.5 129.1,172.6 128.9,174.4 128.8,174.9 128.7,170.3 128.6,174.6 128.5,168.7 128.4,175.8 128.3,173.8 128.2,178.5 128.1,180.7 128.0,178.9 127.9,174.3 127.8,183.5 127.7,182.5 127.6,178.2 127.5,180.4 127.4,183.2 127.3,184.1 127.2,178.3 127.1,190.2 127.0,181.7 126.9,180.7 126.8,188.6 126.7,186.8 126.6,185.4 126.5,190.8 126.4,190.7 126.2,187.2 126.1,188.4 126.0,194.3 125.9,190.5 125.8,192.1 125.7,197.4 125.6,193.5 125.5,193.9 125.4,194.9 125.3,202.3 125.2,204.1 125.1,198.8 125.0,199.0 124.9,203.5 124.8,204.8 124.7,204.1 124.6,210.5 124.5,208.1 124.4,200.9 124.3,209.0 124.2,208.5 124.1,209.5 124.0,211.1 123.9,209.6 123.8,211.4 123.7,216.4 123.6,213.6 123.4,215.7 123.3,214.6 123.2,218.3 123.1,219.1 123.0,219.4 122.9,217.4 122.8,220.1 122.7,219.8 122.6,226.4 122.5,223.8 122.4,226.0 122.3,223.0 122.2,228.9 122.1,228.8 122.0,234.2 121.9,229.8 121.8,234.6 121.7,232.2 121.6,233.8 121.5,232.5 121.4,233.8 121.3,230.8 121.2,233.1 121.1,235.9 121.0,235.7 120.9,236.4 120.7,233.2 120.6,234.9 120.5,235.2 120.4,233.4 120.3,243.0 120.2,236.6 120.1,239.2 120.0,239.6 119.9,239.5 119.8,235.4 119.7,239.7 119.6,241.1 119.5,235.4 119.4,238.0 119.3,238.2 119.2,240.9 119.1,240.8 119.0,237.2 118.9,241.5 118.8,242.4 118.7,244.5 118.6,236.4 118.5,241.0 118.4,239.5 118.3,242.8 118.2,242.2 118.1,241.6 117.9,242.1 117.8,236.3 117.7,240.0 117.6,240.8 117.5,240.4 117.4,240.0 117.3,243.1 117.2,242.1 117.1,243.9 117.0,241.8 116.9,250.3 116.8,245.2 116.7,241.9 116.6,237.6 116.5,238.2 116.4,243.5 116.3,245.1 116.2,245.7 116.1,242.0 116.0,242.7 115.9,241.5 115.8,243.4 115.7,245.3 115.6,240.8 115.5,240.5 115.4,244.2 115.2,242.5 115.1,244.3 115.0,241.7 114.9,244.3 114.8,242.2 114.7,239.8 114.6,243.0 114.5,242.5 114.4,241.8 114.3,242.9 114.2,243.4 114.1,240.3 114.0,241.4 113.9,239.9 113.8,240.8 113.7,240.2 113.6,237.9 113.5,240.8 113.4,243.8 113.3,237.6 113.2,238.9 113.1,240.8 113.0,239.2 112.9,249.6 112.8,239.4 112.7,240.8 112.6,241.2 112.4,239.7 112.3,238.3 112.2,238.6 112.1,237.7 112.0,236.5 111.9,238.7 111.8,243.3 111.7,239.0 111.6,236.2 111.5,237.8 111.4,240.3 111.3,239.9 111.2,231.8 111.1,233.4 111.0,235.4 110.9,236.6 110.8,236.4 110.7,239.0 110.6,238.0 110.5,234.8 110.4,234.0 110.3,241.7 110.2,233.0 110.1,233.6 110.0,233.6 109.9,232.2 109.7,229.6 109.6,234.2 109.5,229.3 109.4,228.4 109.3,224.7 109.2,225.2 109.1,225.7 109.0,221.5 108.9,218.1 108.8,228.5 108.7,215.5 108.6,214.3 108.5,214.8 108.4,211.7 108.3,216.1 108.2,213.9 108.1,210.0 108.0,214.5 107.9,205.4 107.8,215.7 107.7,208.1 107.6,207.1 107.5,205.5 107.4,196.8 107.3,202.7 107.2,204.0 107.1,201.3 106.9,198.6 106.8,211.3 106.7,196.2 106.6,199.0 106.5,202.1 106.4,192.8 106.3,191.4 106.2,193.0 106.1,194.9 106.0,191.8 105.9,191.4 105.8,194.5 105.7,191.1 105.6,187.9 105.5,186.2 105.4,187.4 105.3,184.5 105.2,181.4 105.1,184.3 105.0,181.8 104.9,186.4 104.8,187.4 104.7,188.1 104.6,179.1 104.5,177.8 104.4,177.8 104.2,177.3 104.1,192.9 104.0,180.9 103.9,177.0 103.8,177.8 103.7,174.9 103.6,175.2 103.5,172.6 103.4,175.1 103.3,176.2 103.2,175.3 103.1,172.5 103.0,176.6 102.9,177.7 102.8,168.5 102.7,193.0 102.6,177.3 102.5,171.6 102.4,173.4 102.3,175.7 102.2,164.3 102.1,171.2 102.0,165.1 101.9,170.4 101.8,165.8 101.7,176.4 101.5,165.4 101.4,166.9 101.3,168.2 101.2,170.4 101.1,183.0 101.0,173.8 100.9,164.7 100.8,169.4 100.7,163.5 100.6,166.9 100.5,163.9 100.4,175.5 100.3,181.6 100.2,177.7 100.1,165.5 100.0,166.0 99.9,175.2 99.8,177.1 99.7,162.9 99.6,170.6 99.5,168.9 99.4,180.7 99.3,157.0 99.2,163.3 99.1,167.1 99.0,167.7 98.9,170.7 98.7,166.3 98.6,167.0 98.5,166.4 98.4,169.4 98.3,172.4 98.2,169.5 98.1,161.9 98.0,161.7 97.9,169.1 97.8,162.4 97.7,162.5 97.6,163.0 97.5,163.1 97.4,164.6 97.3,161.2 97.2,156.3 97.1,167.8 97.0,166.7 96.9,175.7 96.8,165.7 96.7,169.1 96.6,171.4 96.5,180.2 96.4,162.3 96.3,163.8 96.2,163.3 96.0,165.1 95.9,161.0 95.8,164.8 95.7,186.5 95.6,166.0 95.5,165.4 95.4,162.7 95.3,163.7 95.2,167.0 95.1,178.1 95.0,180.1 94.9,170.9 94.8,167.1 94.7,167.2 94.6,167.3 94.5,165.6 94.4,167.7 94.3,166.9 94.2,169.2 94.1,169.4 94.0,165.6 93.9,169.0 93.8,167.5 93.7,163.1 93.6,185.5 93.5,175.0 93.4,167.2 93.2,179.8 93.1,167.4 93.0,170.4 92.9,163.7 92.8,169.5 92.7,172.9 92.6,167.5 92.5,168.1 92.4,168.2 92.3,163.3 92.2,172.4 92.1,169.0 92.0,169.8 91.9,168.5 91.8,164.3 91.7,164.7 91.6,174.4 91.5,174.5 91.4,172.8 91.3,178.5 91.2,181.3 91.1,178.1 91.0,177.5 90.9,175.6 90.8,185.6 90.7,182.7 90.5,177.8 90.4,174.5 90.3,180.0 90.2,177.4 90.1,175.2 90.0,187.6 89.9,180.9 89.8,181.0 89.7,188.5 89.6,188.8 89.5,184.2 89.4,185.8 89.3,185.1 89.2,184.2 89.1,188.0 89.0,188.1 88.9,190.8 88.8,190.4 88.7,185.8 88.6,188.8 88.5,196.6 88.4,194.5 88.3,203.6 88.2,196.0 88.1,193.5 88.0,197.7 87.9,201.9 87.7,200.5 87.6,198.3 87.5,203.0 87.4,202.8 87.3,201.5 87.2,202.9 87.1,196.9 87.0,204.8 86.9,204.9 86.8,209.3 86.7,206.8 86.6,208.9 86.5,210.9 86.4,212.7 86.3,218.6 86.2,212.1 86.1,215.3 86.0,217.5 85.9,220.5 85.8,217.7 85.7,217.3 85.6,222.2 85.5,225.1 85.4,227.0 85.3,225.7 85.2,228.1 85.0,233.1 84.9,230.7 84.8,232.7 84.7,234.0 84.6,234.3 84.5,237.8 84.4,235.4 84.3,236.8 84.2,239.5 84.1,240.0 84.0,239.5 83.9,239.7 83.8,236.6 83.7,241.2 83.6,239.1 83.5,246.6 83.4,240.4 83.3,243.0 83.2,242.7 83.1,242.5 83.0,243.7 82.9,244.9 82.8,243.0 82.7,247.0 82.6,243.4 82.5,246.1 82.3,250.1 82.2,247.9 82.1,248.4 82.0,248.2 81.9,246.7 81.8,246.3 81.7,249.7 81.6,253.1 81.5,250.2 81.4,253.8 81.3,248.5 81.2,252.5 81.1,263.6 81.0,251.5 80.9,252.5 80.8,253.4 80.7,255.8 80.6,251.6 80.5,257.5 80.4,257.0 80.3,256.5 80.2,254.9 80.1,259.0 80.0,254.5 79.9,255.4 79.8,257.8 79.7,254.9 79.5,258.5 79.4,261.8 79.3,257.9 79.2,259.2 79.1,255.6 79.0,258.5 78.9,257.6 78.8,256.9 78.7,258.6 78.6,264.1 78.5,261.6 78.4,258.3 78.3,262.8 78.2,259.3 78.1,259.9 78.0,260.2 77.9,262.8 77.8,261.0 77.7,265.0 77.6,260.1 77.5,263.5 77.4,263.8 77.3,261.0 77.2,258.7 77.1,262.3 77.0,261.9 76.8,261.3 76.7,262.5 76.6,258.7 76.5,262.2 76.4,262.7 76.3,263.0 76.2,262.3 76.1,262.5 76.0,266.3 75.9,262.0 75.8,260.9 75.7,260.4 75.6,263.1 75.5,268.3" fill="#f26fab" fill-opacity="0.45"/>
<polyline points="75.5,235.7 75.6,235.2 75.7,235.1 75.8,236.1 75.9,237.0 76.0,237.6 76.1,236.4 76.2,234.9 76.3,234.2 76.4,234.2 76.5,235.2 76.6,236.1 76.7,236.9 76.8,236.2 77.0,234.6 77.1,233.5 77.2,232.8 77.3,234.9 77.4,235.8 77.5,235.9 77.6,234.8 77.7,233.4 77.8,232.4 77.9,231.5 78.0,233.9 78.1,234.4 78.2,234.9 78.3,233.8 78.4,231.9 78.5,231.1 78.6,231.1 78.7,233.0 78.8,235.3 78.9,235.7 79.0,234.3 79.1,232.5 79.2,231.1 79.3,232.3 79.4,233.6 79.5,235.7 79.7,236.0 79.8,233.8 79.9,232.1 80.0,230.0 80.1,230.0 80.2,231.7 80.3,233.0 80.4,234.1 80.5,234.0 80.6,231.6 80.7,229.8 80.8,230.1 80.9,231.6 81.0,233.3 81.1,234.2 81.2,233.5 81.3,231.3 81.4,228.7 81.5,228.7 81.6,229.8 81.7,232.5 81.8,233.3 81.9,231.3 82.0,228.8 82.1,226.7 82.2,226.3 82.3,229.4 82.5,230.0 82.6,230.4 82.7,228.8 82.8,227.1 82.9,225.1 83.0,224.8 83.1,227.5 83.2,229.8 83.3,230.6 83.4,229.1 83.5,226.6 83.6,224.5 83.7,224.7 83.8,227.3 83.9,229.5 84.0,229.8 84.1,228.2 84.2,224.5 84.3,223.1 84.4,222.0 84.5,222.9 84.6,226.1 84.7,226.4 84.8,225.2 84.9,223.3 85.0,220.9 85.2,220.7 85.3,222.7 85.4,225.7 85.5,227.0 85.6,224.9 85.7,220.7 85.8,218.8 85.9,216.9 86.0,218.9 86.1,220.8 86.2,220.7 86.3,217.3 86.4,214.7 86.5,210.6 86.6,209.9 86.7,210.2 86.8,211.9 86.9,212.4 87.0,211.1 87.1,207.5 87.2,203.7 87.3,203.5 87.4,203.2 87.5,205.8 87.6,204.3 87.7,202.7 87.9,196.6 88.0,194.1 88.1,195.3 88.2,195.9 88.3,196.3 88.4,197.7 88.5,195.3 88.6,190.2 88.7,187.2 88.8,187.1 88.9,185.4 89.0,188.1 89.1,188.3 89.2,187.3 89.3,185.8 89.4,181.1 89.5,181.1 89.6,182.5 89.7,181.9 89.8,183.6 89.9,181.7 90.0,177.9 90.1,172.5 90.2,173.7 90.3,172.2 90.4,174.6 90.5,171.6 90.7,171.1 90.8,169.6 90.9,171.3 91.0,167.4 91.1,167.8 91.2,168.7 91.3,167.7 91.4,167.4 91.5,163.1 91.6,164.1 91.7,161.2 91.8,159.7 91.9,160.2 92.0,159.1 92.1,159.6 92.2,158.1 92.3,156.2 92.4,158.2 92.5,157.7 92.6,158.7 92.7,157.0 92.8,158.9 92.9,157.5 93.0,157.7 93.1,157.3 93.2,156.1 93.4,155.3 93.5,152.8 93.6,151.8 93.7,149.5 93.8,154.0 93.9,152.6 94.0,149.4 94.1,148.2 94.2,148.8 94.3,147.0 94.4,144.2 94.5,140.5 94.6,139.3 94.7,137.9 94.8,142.7 94.9,142.8 95.0,137.2 95.1,138.4 95.2,139.5 95.3,135.3 95.4,134.8 95.5,138.4 95.6,139.7 95.7,142.6 95.8,136.0 95.9,136.2 96.0,134.9 96.2,139.8 96.3,136.5 96.4,133.4 96.5,137.6 96.6,138.4 96.7,138.4 96.8,136.8 96.9,135.4 97.0,132.6 97.1,135.0 97.2,134.5 97.3,128.3 97.4,135.8 97.5,133.2 97.6,131.2 97.7,132.2 97.8,131.2 97.9,136.9 98.0,135.0 98.1,133.9 98.2,131.5 98.3,133.6 98.4,133.6 98.5,135.9 98.6,135.9 98.7,137.6 98.9,134.2 99.0,132.0 99.1,136.6 99.2,135.1 99.3,136.3 99.4,132.8 99.5,135.3 99.6,135.6 99.7,133.7 99.8,142.7 99.9,138.3 100.0,145.1 100.1,146.2 100.2,145.5 100.3,144.9 100.4,146.1 100.5,147.4 100.6,147.6 100.7,149.9 100.8,146.4 100.9,145.3 101.0,144.1 101.1,145.4 101.2,146.5 101.3,147.8 101.4,150.0 101.5,147.1 101.7,148.3 101.8,152.6 101.9,154.6 102.0,153.4 102.1,157.7 102.2,161.5 102.3,158.6 102.4,159.8 102.5,158.1 102.6,160.5 102.7,163.6 102.8,166.0 102.9,169.8 103.0,166.9 103.1,168.3 103.2,164.1 103.3,166.0 103.4,169.6 103.5,173.0 103.6,174.2 103.7,171.1 103.8,171.3 103.9,173.9 104.0,171.0 104.1,174.3 104.2,178.2 104.4,180.5 104.5,179.8 104.6,178.4 104.7,181.1 104.8,178.6 104.9,183.7 105.0,185.3 105.1,184.8 105.2,185.9 105.3,185.7 105.4,185.5 105.5,186.2 105.6,191.1 105.7,190.1 105.8,192.4 105.9,192.7 106.0,191.1 106.1,191.8 106.2,193.3 106.3,197.3 106.4,200.4 106.5,200.5 106.6,201.0 106.7,200.0 106.8,200.6 106.9,201.2 107.1,203.9 107.2,209.1 107.3,209.5 107.4,210.2 107.5,206.3 107.6,205.3 107.7,207.3 107.8,212.4 107.9,215.3 108.0,218.8 108.1,217.8 108.2,215.2 108.3,214.2 108.4,215.6 108.5,219.2 108.6,222.3 108.7,223.9 108.8,223.8 108.9,222.5 109.0,221.9 109.1,221.9 109.2,224.7 109.3,228.4 109.4,230.5 109.5,227.6 109.6,224.4 109.7,222.6 109.9,223.0 110.0,227.0 110.1,229.8 110.2,231.0 110.3,230.3 110.4,226.2 110.5,223.0 110.6,223.3 110.7,225.9 110.8,229.3 110.9,230.1 111.0,229.6 111.1,225.9 111.2,223.4 111.3,223.1 111.4,225.7 111.5,229.1 111.6,230.6 111.7,229.1 111.8,225.5 111.9,224.0 112.0,224.3 112.1,227.3 112.2,230.7 112.3,231.4 112.4,229.5 112.6,227.1 112.7,224.7 112.8,224.9 112.9,227.5 113.0,231.3 113.1,232.0 113.2,230.2 113.3,227.3 113.4,225.2 113.5,225.5 113.6,228.2 113.7,230.8 113.8,231.2 113.9,229.3 114.0,226.7 114.1,224.0 114.2,224.6 114.3,227.4 114.4,230.5 114.5,231.8 114.6,230.2 114.7,227.2 114.8,225.0 114.9,224.7 115.0,227.3 115.1,231.6 115.2,232.5 115.4,230.3 115.5,227.0 115.6,224.1 115.7,225.4 115.8,228.5 115.9,231.9 116.0,233.1 116.1,231.2 116.2,227.8 116.3,226.3 116.4,225.7 116.5,229.4 116.6,232.2 116.7,233.6 116.8,231.1 116.9,228.3 117.0,225.7 117.1,225.6 117.2,229.3 117.3,231.7 117.4,233.9 117.5,231.7 117.6,229.0 117.7,226.4 117.8,225.9 117.9,227.7 118.1,231.8 118.2,231.8 118.3,230.2 118.4,227.4 118.5,224.9 118.6,225.7 118.7,227.4 118.8,231.6 118.9,231.4 119.0,230.0 119.1,227.5 119.2,224.9 119.3,225.3 119.4,228.5 119.5,230.7 119.6,231.8 119.7,230.0 119.8,226.9 119.9,224.2 120.0,224.9 120.1,228.0 120.2,230.3 120.3,231.3 120.4,229.5 120.5,226.9 120.6,224.1 120.7,224.2 120.9,226.4 121.0,228.3 121.1,230.7 121.2,228.4 121.3,226.3 121.4,223.2 121.5,223.6 121.6,226.5 121.7,229.0 121.8,230.6 121.9,228.8 122.0,224.9 122.1,222.5 122.2,223.2 122.3,225.9 122.4,228.7 122.5,228.9 122.6,227.7 122.7,224.9 122.8,222.7 122.9,222.6 123.0,223.8 123.1,225.1 123.2,225.2 123.3,222.4 123.4,218.7 123.6,215.4 123.7,214.1 123.8,215.7 123.9,218.9 124.0,218.0 124.1,214.2 124.2,210.5 124.3,207.0 124.4,205.7 124.5,207.7 124.6,209.7 124.7,209.4 124.8,206.3 124.9,200.8 125.0,198.3 125.1,198.3 125.2,200.5 125.3,200.0 125.4,199.3 125.5,197.0 125.6,193.5 125.7,191.1 125.8,191.1 125.9,191.9 126.0,193.9 126.1,193.6 126.2,189.0 126.4,186.8 126.5,185.1 126.6,182.1 126.7,185.0 126.8,187.1 126.9,185.9 127.0,184.0 127.1,181.8 127.2,176.3 127.3,175.4 127.4,175.0 127.5,174.4 127.6,175.6 127.7,173.6 127.8,167.1 127.9,166.6 128.0,165.7 128.1,167.8 128.2,166.9 128.3,166.3 128.4,164.4 128.5,165.4 128.6,162.4 128.7,158.4 128.8,158.7 128.9,159.2 129.1,159.8 129.2,160.8 129.3,158.3 129.4,155.7 129.5,153.6 129.6,154.6 129.7,156.5 129.8,153.1 129.9,153.2 130.0,152.6 130.1,146.5 130.2,148.6 130.3,144.6 130.4,148.1 130.5,151.1 130.6,144.5 130.7,145.3 130.8,145.0 130.9,143.3 131.0,143.0 131.1,141.6 131.2,142.3 131.3,141.3 131.4,140.2 131.5,142.6 131.6,133.8 131.8,138.5 131.9,137.5 132.0,136.6 132.1,139.5 132.2,137.3 132.3,139.6 132.4,138.2 132.5,142.3 132.6,144.8 132.7,141.9 132.8,137.8 132.9,132.3 133.0,131.0 133.1,129.6 133.2,134.3 133.3,131.4 133.4,128.8 133.5,127.7 133.6,131.9 133.7,130.2 133.8,123.8 133.9,129.9 134.0,129.9 134.1,130.3 134.2,132.5 134.3,131.8 134.4,130.7 134.6,130.4 134.7,127.1 134.8,130.7 134.9,131.5 135.0,127.5 135.1,129.8 135.2,127.3 135.3,126.7 135.4,129.5 135.5,140.3 135.6,140.3 135.7,139.4 135.8,140.1 135.9,135.4 136.0,132.9 136.1,136.0 136.2,139.8 136.3,138.7 136.4,137.3 136.5,137.7 136.6,136.7 136.7,142.3 136.8,142.4 136.9,140.9 137.0,138.3 137.1,139.6 137.3,140.2 137.4,137.1 137.5,140.0 137.6,141.1 137.7,143.8 137.8,144.3 137.9,138.1 138.0,135.1 138.1,140.6 138.2,141.5 138.3,145.2 138.4,148.1 138.5,149.5 138.6,147.9 138.7,147.7 138.8,149.8 138.9,153.9 139.0,158.3 139.1,155.6 139.2,159.8 139.3,156.0 139.4,157.1 139.5,159.5 139.6,160.9 139.7,162.6 139.8,166.4 139.9,168.0 140.1,169.5 140.2,166.7 140.3,165.1 140.4,168.2 140.5,174.5 140.6,174.1 140.7,174.9 140.8,171.8 140.9,168.5 141.0,169.7 141.1,171.1 141.2,173.7 141.3,176.2 141.4,176.6 141.5,178.7 141.6,178.7 141.7,178.5 141.8,181.4 141.9,181.5 142.0,183.6 142.1,185.7 142.2,187.2 142.3,186.8 142.4,184.8 142.5,185.4 142.6,189.2 142.8,192.3 142.9,194.2 143.0,193.9 143.1,192.8 143.2,193.1 143.3,194.3 143.4,196.5 143.5,199.5 143.6,201.6 143.7,201.5 143.8,200.4 143.9,198.3 144.0,200.9 144.1,204.3 144.2,208.7 144.3,210.8 144.4,209.7 144.5,207.1 144.6,205.8 144.7,208.5 144.8,211.4 144.9,214.8 145.0,218.9 145.1,217.9 145.2,216.2 145.3,215.4 145.4,217.0 145.6,221.0 145.7,224.7 145.8,226.8 145.9,226.7 146.0,225.0 146.1,223.3 146.2,223.3 146.3,226.8 146.4,229.8 146.5,231.4 146.6,229.4 146.7,225.2 146.8,222.6 146.9,222.8 147.0,226.7 147.1,229.4 147.2,230.4 147.3,228.8 147.4,226.9 147.5,224.3 147.6,224.4 147.7,226.7 147.8,229.9 147.9,230.7 148.0,229.8 148.1,226.9 148.3,225.1 148.4,224.1 148.5,226.9 148.6,229.6 148.7,230.3 148.8,228.7 148.9,225.5 149.0,223.4 149.1,224.0 149.2,226.6 149.3,230.5 149.4,231.5 149.5,230.2 149.6,227.6 149.7,224.7 149.8,224.8 149.9,228.2 150.0,231.3 150.1,232.2 150.2,231.0 150.3,228.0 150.4,225.6 150.5,225.4 150.6,229.7 150.7,232.3 150.8,232.9 151.0,231.7 151.1,228.0 151.2,226.3 151.3,226.2 151.4,228.7 151.5,232.5 151.6,232.1 151.7,231.7 151.8,227.6 151.9,224.7 152.0,225.9 152.1,229.0 152.2,231.9 152.3,232.1 152.4,230.6 152.5,227.4 152.6,223.8 152.7,224.8 152.8,226.4 152.9,229.5 153.0,230.9 153.1,229.7 153.2,226.0 153.3,223.1 153.4,224.2 153.5,228.1 153.6,231.3 153.8,232.3 153.9,230.2 154.0,227.9 154.1,226.0 154.2,225.7 154.3,228.1 154.4,231.0 154.5,232.4 154.6,230.7 154.7,227.5 154.8,224.9 154.9,224.1 155.0,227.2 155.1,230.5 155.2,231.7 155.3,229.6 155.4,227.8 155.5,224.9 155.6,224.7 155.7,228.9 155.8,231.3 155.9,231.6 156.0,229.3 156.1,226.6 156.2,224.7 156.3,225.8 156.5,227.9 156.6,231.4 156.7,232.0 156.8,229.8 156.9,227.0 157.0,224.1 157.1,223.6 157.2,226.9 157.3,230.1 157.4,230.9 157.5,230.5 157.6,227.1 157.7,224.7 157.8,225.0 157.9,228.5 158.0,230.3 158.1,231.5 158.2,229.6 158.3,226.6 158.4,223.8 158.5,224.2 158.6,226.3 158.7,229.1 158.8,229.5 158.9,228.6 159.0,224.6 159.1,222.4 159.3,221.2 159.4,223.9 159.5,225.9 159.6,226.0 159.7,223.6 159.8,220.1 159.9,215.7 160.0,215.2 160.1,215.9 160.2,218.0 160.3,217.5 160.4,214.8 160.5,210.8 160.6,208.0 160.7,206.0 160.8,208.6 160.9,211.5 161.0,211.2 161.1,208.1 161.2,204.1 161.3,201.8 161.4,201.4 161.5,202.9 161.6,204.9 161.7,205.8 161.8,201.8 162.0,198.5 162.1,194.1 162.2,193.9 162.3,193.2 162.4,196.3 162.5,197.8 162.6,193.2 162.7,190.1 162.8,187.3 162.9,186.9 163.0,190.4 163.1,190.5 163.2,189.6 163.3,188.5 163.4,182.8 163.5,179.3 163.6,179.5 163.7,181.6 163.8,184.1 163.9,180.2 164.0,177.9 164.1,175.8 164.2,173.9 164.3,172.1 164.4,172.9 164.5,175.2 164.6,172.5 164.8,167.9 164.9,167.3 165.0,166.0 165.1,165.7 165.2,165.7 165.3,168.6 165.4,167.6 165.5,165.1 165.6,164.7 165.7,163.2 165.8,164.0 165.9,163.4 166.0,162.1 166.1,162.6 166.2,162.4 166.3,159.9 166.4,158.9 166.5,155.7 166.6,157.7 166.7,156.9 166.8,155.6 166.9,157.0 167.0,151.4 167.1,148.8 167.2,145.8 167.3,147.9 167.5,148.8 167.6,150.8 167.7,148.1 167.8,145.3 167.9,147.6 168.0,144.2 168.1,148.1 168.2,146.1 168.3,149.3 168.4,146.3 168.5,146.0 168.6,145.2 168.7,141.0 168.8,142.2 168.9,140.0 169.0,138.9 169.1,138.6 169.2,138.7 169.3,133.9 169.4,137.2 169.5,137.1 169.6,138.0 169.7,140.4 169.8,141.2 169.9,142.0 170.0,143.9 170.2,142.5 170.3,140.6 170.4,139.5 170.5,140.6 170.6,142.7 170.7,136.5 170.8,140.4 170.9,137.0 171.0,136.2 171.1,134.9 171.2,134.9 171.3,138.2 171.4,136.5 171.5,134.4 171.6,129.1 171.7,135.9 171.8,132.7 171.9,134.3 172.0,137.8 172.1,137.1 172.2,130.8 172.3,134.4 172.4,133.9 172.5,132.5 172.6,138.8 172.7,136.1 172.8,129.8 173.0,131.2 173.1,133.5 173.2,133.7 173.3,133.6 173.4,130.3 173.5,131.8 173.6,127.8 173.7,133.4 173.8,136.0 173.9,137.3 174.0,139.6 174.1,137.8 174.2,134.9 174.3,132.8 174.4,130.1 174.5,130.5 174.6,134.5 174.7,139.8 174.8,138.6 174.9,137.2 175.0,135.2 175.1,138.2 175.2,138.2 175.3,140.2 175.4,141.6 175.5,137.1 175.7,137.6 175.8,138.4 175.9,144.2 176.0,142.4 176.1,139.9 176.2,138.1 176.3,145.2 176.4,141.1 176.5,142.7 176.6,140.5 176.7,148.3 176.8,149.6 176.9,153.7 177.0,152.3 177.1,150.0 177.2,146.4 177.3,150.0 177.4,149.1 177.5,148.9 177.6,153.0 177.7,153.7 177.8,152.4 177.9,150.7 178.0,149.9 178.1,152.0 178.2,155.8 178.3,157.8 178.5,159.4 178.6,159.1 178.7,157.4 178.8,155.4 178.9,155.0 179.0,162.5 179.1,162.5 179.2,167.1 179.3,164.9 179.4,161.4 179.5,160.3 179.6,159.1 179.7,161.8 179.8,162.2 179.9,164.5 180.0,166.2 180.1,164.4 180.2,165.8 180.3,167.7 180.4,168.1 180.5,172.9 180.6,175.4 180.7,175.3 180.8,172.0 180.9,171.4 181.0,171.4 181.2,176.2 181.3,177.6 181.4,181.1 181.5,179.2 181.6,181.2 181.7,180.2 181.8,181.3 181.9,185.9 182.0,184.7 182.1,187.2 182.2,189.3 182.3,189.6 182.4,188.1 182.5,189.1 182.6,193.7 182.7,196.4 182.8,197.0 182.9,195.5 183.0,195.2 183.1,194.5 183.2,194.3 183.3,196.1 183.4,199.4 183.5,201.7 183.6,202.2 183.7,201.1 183.8,196.9 184.0,200.3 184.1,203.6 184.2,207.4 184.3,208.7 184.4,209.0 184.5,207.5 184.6,205.9 184.7,208.3 184.8,212.2 184.9,215.6 185.0,216.6 185.1,217.3 185.2,217.1 185.3,214.8 185.4,215.6 185.5,218.7 185.6,222.7 185.7,224.1 185.8,224.3 185.9,221.7 186.0,221.1 186.1,221.5 186.2,225.2 186.3,227.7 186.4,228.4 186.5,227.5 186.7,223.9 186.8,221.7 186.9,221.1 187.0,223.9 187.1,228.5 187.2,229.3 187.3,227.9 187.4,223.8 187.5,222.6 187.6,222.3 187.7,224.9 187.8,228.6 187.9,230.3 188.0,229.0 188.1,224.3 188.2,221.7 188.3,222.8 188.4,225.4 188.5,227.2 188.6,229.8 188.7,227.8 188.8,225.1 188.9,222.3 189.0,223.6 189.1,226.3 189.2,229.8 189.3,230.1 189.5,228.8 189.6,226.1 189.7,223.8 189.8,223.5 189.9,225.6 190.0,227.6 190.1,230.1 190.2,228.5 190.3,223.8 190.4,222.5 190.5,222.1 190.6,225.6 190.7,228.7 190.8,229.9 190.9,229.3 191.0,226.6 191.1,224.0 191.2,223.9 191.3,226.8 191.4,230.8 191.5,230.6 191.6,229.8 191.7,226.1 191.8,223.5 191.9,222.9 192.0,226.6 192.2,229.4 192.3,230.5 192.4,229.1 192.5,226.3 192.6,224.0 192.7,224.3 192.8,226.4 192.9,229.4 193.0,230.4 193.1,228.2 193.2,224.4 193.3,222.0 193.4,222.9 193.5,225.5 193.6,229.4 193.7,230.2 193.8,227.6 193.9,224.6 194.0,222.4 194.1,222.0 194.2,223.4 194.3,227.5 194.4,229.1 194.5,227.8 194.6,224.9 194.7,221.7 194.9,221.8 195.0,224.5 195.1,227.4 195.2,228.4 195.3,227.3 195.4,223.8 195.5,221.6 195.6,222.6 195.7,224.8 195.8,227.7 195.9,229.2 196.0,225.9 196.1,223.0 196.2,220.6 196.3,222.7 196.4,224.9 196.5,227.4 196.6,229.1 196.7,225.9 196.8,223.8 196.9,220.5 197.0,221.2 197.1,224.7 197.2,226.9 197.3,228.4 197.4,227.7 197.5,224.3 197.7,221.1 197.8,220.8 197.9,223.5 198.0,226.1 198.1,227.0 198.2,226.6 198.3,223.9 198.4,221.6 198.5,220.7 198.6,223.1 198.7,224.7 198.8,224.6 198.9,220.7 199.0,216.9 199.1,212.5 199.2,212.0 199.3,213.9 199.4,212.8 199.5,214.0 199.6,212.7 199.7,210.3 199.8,206.5 199.9,206.4 200.0,206.6 200.1,207.3 200.2,206.5 200.4,204.4 200.5,200.4 200.6,198.5 200.7,195.8 200.8,197.5 200.9,197.8 201.0,195.5 201.1,194.6 201.2,191.6 201.3,190.0 201.4,188.4 201.5,190.7 201.6,192.4 201.7,191.1 201.8,189.2 201.9,185.5 202.0,181.6 202.1,181.1 202.2,183.1 202.3,183.2 202.4,182.5 202.5,182.5 202.6,178.8 202.7,175.6 202.8,173.6 202.9,172.7 203.0,172.4 203.2,173.7 203.3,169.8 203.4,165.9 203.5,161.9 203.6,163.4 203.7,166.9 203.8,166.8 203.9,163.6 204.0,162.3 204.1,160.3 204.2,156.5 204.3,162.0 204.4,163.9 204.5,161.8 204.6,162.5 204.7,160.2 204.8,156.3 204.9,155.5 205.0,153.9 205.1,156.8 205.2,154.5 205.3,153.5 205.4,149.9 205.5,150.4 205.6,145.8 205.7,145.0 205.9,143.4 206.0,146.8 206.1,147.1 206.2,148.0 206.3,142.8 206.4,142.7 206.5,142.3 206.6,145.8 206.7,147.8 206.8,146.2 206.9,147.0 207.0,140.1 207.1,142.3 207.2,142.0 207.3,142.3 207.4,144.3 207.5,147.1 207.6,141.7 207.7,144.1 207.8,141.5 207.9,137.7 208.0,133.5 208.1,130.8 208.2,131.3 208.3,132.1 208.4,131.8 208.5,138.0 208.7,139.1 208.8,137.2 208.9,140.7 209.0,134.4 209.1,130.1 209.2,133.4 209.3,133.8 209.4,132.0 209.5,131.4 209.6,134.1 209.7,134.0 209.8,134.9 209.9,130.0 210.0,131.6 210.1,129.8 210.2,128.5 210.3,123.9 210.4,128.1 210.5,126.2 210.6,123.8 210.7,131.0 210.8,127.5 210.9,130.3 211.0,120.4 211.1,123.9 211.2,125.1 211.4,121.0 211.5,123.3 211.6,124.8 211.7,124.8 211.8,125.0 211.9,127.8 212.0,127.4 212.1,132.8 212.2,133.0 212.3,129.2 212.4,129.4 212.5,134.0 212.6,129.6 212.7,133.0 212.8,133.1 212.9,134.8 213.0,132.3 213.1,138.2 213.2,139.9 213.3,140.0 213.4,142.8 213.5,141.3 213.6,137.5 213.7,141.4 213.8,140.3 213.9,139.9 214.1,141.5 214.2,143.5 214.3,143.9 214.4,139.5 214.5,142.6 214.6,144.4 214.7,147.6 214.8,147.8 214.9,147.8 215.0,147.1 215.1,146.9 215.2,142.9 215.3,146.9 215.4,148.4 215.5,152.2 215.6,154.4 215.7,150.1 215.8,154.0 215.9,156.8 216.0,157.4 216.1,158.6 216.2,161.3 216.3,160.2 216.4,160.4 216.5,162.0 216.6,160.8 216.7,164.1 216.9,165.0 217.0,168.8 217.1,169.1 217.2,170.2 217.3,167.3 217.4,167.4 217.5,169.8 217.6,171.2 217.7,174.1 217.8,173.7 217.9,173.0 218.0,171.2 218.1,173.5 218.2,174.6 218.3,177.3 218.4,181.2 218.5,179.8 218.6,179.2 218.7,178.3 218.8,181.3 218.9,183.9 219.0,185.9 219.1,190.7 219.2,188.3 219.3,185.8 219.4,184.5 219.6,186.4 219.7,189.4 219.8,194.2 219.9,196.7 220.0,196.9 220.1,194.2 220.2,194.1 220.3,197.0 220.4,198.2 220.5,201.8 220.6,204.7 220.7,203.2 220.8,202.6 220.9,202.5 221.0,203.1 221.1,207.3 221.2,212.3 221.3,213.4 221.4,212.2 221.5,209.8 221.6,208.2 221.7,210.1 221.8,213.6 221.9,217.1 222.0,220.5 222.1,220.3 222.2,218.9 222.4,217.4 222.5,218.9 222.6,221.7 222.7,225.6 222.8,227.2 222.9,224.5 223.0,221.7 223.1,220.7 223.2,220.2 223.3,222.9 223.4,226.3 223.5,226.8 223.6,225.9 223.7,222.5 223.8,219.9 223.9,219.9 224.0,222.8 224.1,225.3 224.2,226.6 224.3,225.4 224.4,222.6 224.5,220.2 224.6,219.7 224.7,224.0 224.8,226.0 224.9,226.7 225.1,226.0 225.2,223.8 225.3,221.6 225.4,221.4 225.5,223.1 225.6,226.5 225.7,227.4 225.8,226.3 225.9,222.6 226.0,220.5 226.1,220.6 226.2,223.9 226.3,226.6 226.4,227.6 226.5,225.8 226.6,223.4 226.7,221.1 226.8,221.8 226.9,223.9 227.0,227.7 227.1,228.8 227.2,226.8 227.3,223.5 227.4,222.1 227.5,222.6 227.6,225.7 227.7,229.1 227.9,228.5 228.0,226.5 228.1,222.9 228.2,221.1 228.3,221.8 228.4,224.7 228.5,227.6 228.6,227.8 228.7,226.7 228.8,222.6 228.9,220.3 229.0,220.8 229.1,223.8 229.2,227.1 229.3,228.2 229.4,225.8 229.5,222.9 229.6,221.0 229.7,220.7 229.8,224.3 229.9,227.3 230.0,227.7 230.1,225.9 230.2,223.0 230.3,221.0 230.4,220.8 230.6,223.9 230.7,227.5 230.8,227.6 230.9,226.0 231.0,222.8 231.1,219.9 231.2,220.5 231.3,222.7 231.4,226.5 231.5,228.2 231.6,226.2 231.7,223.0 231.8,221.6 231.9,220.7 232.0,223.0 232.1,226.6 232.2,227.6 232.3,225.8 232.4,222.5 232.5,219.6 232.6,219.3 232.7,223.0 232.8,226.0 232.9,226.9 233.0,225.0 233.1,222.6 233.3,220.6 233.4,221.3 233.5,223.2 233.6,226.9 233.7,228.4 233.8,225.5 233.9,223.0 234.0,220.1 234.1,220.1 234.2,221.8 234.3,225.9 234.4,226.1 234.5,224.3 234.6,221.1 234.7,218.0 234.8,219.2 234.9,221.2 235.0,224.9 235.1,225.8 235.2,224.6 235.3,220.4 235.4,218.8 235.5,217.8 235.6,220.4 235.7,224.7 235.8,226.5 235.9,223.8 236.1,221.0 236.2,218.2 236.3,218.4 236.4,221.0 236.5,224.2 236.6,225.1 236.7,223.2 236.8,220.7 236.9,217.0 237.0,215.1 237.1,217.0 237.2,219.1 237.3,218.4 237.4,215.9 237.5,212.1 237.6,209.4 237.7,209.1 237.8,210.7 237.9,211.9 238.0,209.8 238.1,207.1 238.2,201.5 238.3,198.1 238.4,198.2 238.5,199.6 238.6,201.5 238.8,201.9 238.9,198.5 239.0,196.1 239.1,195.3 239.2,193.7 239.3,193.0 239.4,195.9 239.5,195.9 239.6,196.2 239.7,190.9 239.8,188.3 239.9,188.7 240.0,189.3 240.1,189.5 240.2,189.4 240.3,184.4 240.4,179.8 240.5,175.0 240.6,177.4 240.7,179.6 240.8,177.2 240.9,176.8 241.0,177.1 241.1,173.9 241.2,172.1 241.3,170.1 241.4,171.3 241.6,168.4 241.7,168.8 241.8,167.1 241.9,163.7 242.0,163.3 242.1,160.4 242.2,161.1 242.3,162.3 242.4,160.9 242.5,159.4 242.6,155.5 242.7,157.2 242.8,155.8 242.9,154.8 243.0,160.8 243.1,159.2 243.2,158.5 243.3,156.1 243.4,156.9 243.5,156.1 243.6,157.1 243.7,157.1 243.8,153.3 243.9,150.1 244.0,146.5 244.1,147.4 244.3,142.8 244.4,148.7 244.5,146.6 244.6,139.2 244.7,139.7 244.8,142.4 244.9,141.9 245.0,140.4 245.1,147.1 245.2,142.8 245.3,143.8 245.4,147.8 245.5,138.7 245.6,137.2 245.7,138.3 245.8,140.1 245.9,140.6 246.0,135.4 246.1,135.0 246.2,133.1 246.3,129.6 246.4,129.7 246.5,131.8 246.6,132.9 246.7,134.8 246.8,132.1 246.9,127.4 247.1,127.6 247.2,128.5 247.3,130.2 247.4,125.8 247.5,127.5 247.6,122.4 247.7,126.7 247.8,124.8 247.9,122.6 248.0,125.1 248.1,121.0 248.2,120.7 248.3,116.2 248.4,125.1 248.5,121.9 248.6,123.9 248.7,126.3 248.8,128.1 248.9,132.4 249.0,133.1 249.1,125.5 249.2,127.0 249.3,125.8 249.4,129.8 249.5,128.8 249.6,128.3 249.8,130.6 249.9,127.6 250.0,127.8 250.1,126.5 250.2,132.0 250.3,132.9 250.4,127.3 250.5,132.9 250.6,133.3 250.7,134.6 250.8,135.1 250.9,134.4 251.0,135.2 251.1,143.6 251.2,140.3 251.3,143.6 251.4,143.1 251.5,141.9 251.6,144.4 251.7,142.9 251.8,140.5 251.9,139.3 252.0,141.2 252.1,139.6 252.2,144.9 252.3,145.7 252.4,145.9 252.6,146.6 252.7,147.9 252.8,144.7 252.9,144.2 253.0,144.1 253.1,150.8 253.2,152.4 253.3,154.3 253.4,152.7 253.5,155.6 253.6,152.4 253.7,156.7 253.8,159.0 253.9,160.1 254.0,162.4 254.1,161.1 254.2,162.7 254.3,161.6 254.4,160.1 254.5,159.9 254.6,163.3 254.7,164.4 254.8,164.1 254.9,163.1 255.0,164.9 255.1,164.5 255.3,169.2 255.4,172.7 255.5,172.6 255.6,172.4 255.7,170.9 255.8,171.2 255.9,174.0 256.0,175.6 256.1,179.3 256.2,180.8 256.3,182.3 256.4,182.6 256.5,179.8 256.6,182.1 256.7,181.8 256.8,186.0 256.9,187.8 257.0,185.8 257.1,184.3 257.2,187.8 257.3,187.8 257.4,190.8 257.5,195.0 257.6,195.9 257.7,195.5 257.8,192.5 258.0,191.6 258.1,194.4 258.2,198.1 258.3,201.5 258.4,202.8 258.5,201.4 258.6,200.4 258.7,200.1 258.8,201.8 258.9,203.9 259.0,207.4 259.1,211.2 259.2,209.4 259.3,207.8 259.4,206.4 259.5,209.0 259.6,212.7 259.7,217.6 259.8,220.1 259.9,220.0 260.0,217.9 260.1,216.4 260.2,216.3 260.3,220.3 260.4,222.7 260.5,224.5 260.6,223.1 260.8,220.4 260.9,217.5 261.0,217.3 261.1,220.0 261.2,223.5 261.3,225.0 261.4,223.4 261.5,221.4 261.6,217.8 261.7,218.1 261.8,221.0 261.9,223.9 262.0,226.1 262.1,224.0 262.2,221.6 262.3,219.2 262.4,219.3 262.5,222.3 262.6,225.0 262.7,226.6 262.8,224.3 262.9,220.1 263.0,218.2 263.1,219.4 263.2,221.0 263.3,223.3 263.5,223.8 263.6,222.9 263.7,220.0 263.8,217.7 263.9,217.7 264.0,220.3 264.1,224.1 264.2,224.8 264.3,224.1 264.4,220.3 264.5,218.1 264.6,218.7 264.7,221.5 264.8,225.4 264.9,226.2 265.0,224.8 265.1,222.3 265.2,219.1 265.3,218.7 265.4,221.2 265.5,223.4 265.6,225.9 265.7,224.2 265.8,221.1 265.9,219.2 266.0,219.9 266.1,222.2 266.3,225.0 266.4,226.2 266.5,224.6 266.6,221.8 266.7,218.9 266.8,218.2 266.9,221.1 267.0,224.1 267.1,225.9 267.2,224.4 267.3,220.9 267.4,218.7 267.5,219.6 267.6,223.1 267.7,226.5 267.8,226.8 267.9,225.4 268.0,221.7 268.1,219.0 268.2,219.6 268.3,221.3 268.4,225.6 268.5,226.0 268.6,225.1 268.7,221.6 268.8,219.3 269.0,218.9 269.1,221.9 269.2,224.8 269.3,226.0 269.4,225.3 269.5,221.1 269.6,218.0 269.7,219.0 269.8,221.1 269.9,224.9 270.0,225.1 270.1,223.6 270.2,220.9 270.3,218.8 270.4,219.4 270.5,222.6 270.6,225.1 270.7,226.0 270.8,224.3 270.9,222.2 271.0,218.7 271.1,218.7 271.2,221.6 271.3,223.8 271.4,225.0 271.5,223.4 271.6,220.4 271.8,217.5 271.9,217.5 272.0,220.3 272.1,222.9 272.2,223.5 272.3,222.6 272.4,219.8 272.5,216.8 272.6,216.5 272.7,220.1 272.8,223.4 272.9,224.0 273.0,222.1 273.1,219.0 273.2,217.3 273.3,216.6 273.4,219.0 273.5,221.9 273.6,223.6 273.7,220.9 273.8,216.9 273.9,215.3 274.0,216.3 274.1,218.6 274.2,221.6 274.3,223.4 274.5,221.8 274.6,218.0 274.7,215.3 274.8,214.0 274.9,213.9 275.0,215.0 275.1,216.9 275.2,213.1 275.3,210.1 275.4,206.2 275.5,204.8 275.6,205.9 275.7,207.0 275.8,207.2 275.9,202.8 276.0,200.1 276.1,194.0 276.2,195.1 276.3,195.4 276.4,195.6 276.5,194.7 276.6,192.5 276.7,190.1 276.8,186.2 276.9,187.6 277.0,188.0 277.2,189.2 277.3,191.2 277.4,187.4 277.5,183.4 277.6,179.1 277.7,177.4 277.8,179.2 277.9,179.1 278.0,180.8 278.1,178.7 278.2,176.3 278.3,170.9 278.4,168.6 278.5,168.0 278.6,166.7 278.7,168.2 278.8,168.8 278.9,161.0 279.0,159.7 279.1,157.6 279.2,160.1 279.3,162.2 279.4,159.4 279.5,159.8 279.6,159.6 279.7,155.9 279.8,154.8 280.0,159.0 280.1,155.3 280.2,159.4 280.3,157.6 280.4,151.7 280.5,149.6 280.6,149.7 280.7,153.7 280.8,153.5 280.9,152.6 281.0,154.6 281.1,148.7 281.2,147.5 281.3,144.3 281.4,146.5 281.5,147.6 281.6,141.3 281.7,141.5 281.8,138.5 281.9,142.6 282.0,141.6 282.1,141.1 282.2,136.2 282.3,131.1 282.4,129.8 282.5,128.7 282.7,130.8 282.8,134.5 282.9,129.1 283.0,127.8 283.1,129.8 283.2,128.8 283.3,124.4 283.4,125.5 283.5,123.8 283.6,122.8 283.7,123.0 283.8,125.5 283.9,120.9 284.0,125.1 284.1,120.6 284.2,122.2 284.3,119.7 284.4,126.8 284.5,129.5 284.6,125.4 284.7,125.3 284.8,126.1 284.9,120.2 285.0,118.1 285.1,122.3 285.2,116.9 285.3,121.4 285.5,123.7 285.6,122.8 285.7,118.5 285.8,116.3 285.9,122.6 286.0,120.4 286.1,117.6 286.2,120.0 286.3,113.1 286.4,116.7 286.5,112.9 286.6,119.2 286.7,113.8 286.8,109.0 286.9,110.7 287.0,109.6 287.1,120.9 287.2,120.0 287.3,125.2 287.4,123.6 287.5,119.9 287.6,126.2 287.7,120.2 287.8,124.6 287.9,123.7 288.0,123.7 288.2,121.4 288.3,126.0 288.4,126.4 288.5,131.3 288.6,126.7 288.7,125.0 288.8,129.4 288.9,131.5 289.0,132.8 289.1,134.8 289.2,132.5 289.3,130.1 289.4,130.9 289.5,133.6 289.6,127.5 289.7,126.4 289.8,133.2 289.9,132.8 290.0,130.2 290.1,133.3 290.2,141.9 290.3,137.3 290.4,141.1 290.5,141.8 290.6,145.2 290.7,149.4 290.8,141.1 291.0,148.0 291.1,145.9 291.2,148.5 291.3,151.0 291.4,148.5 291.5,147.0 291.6,154.8 291.7,154.4 291.8,154.8 291.9,155.0 292.0,159.6 292.1,156.7 292.2,156.4 292.3,157.1 292.4,160.7 292.5,158.6 292.6,159.3 292.7,160.1 292.8,160.3 292.9,159.0 293.0,161.6 293.1,167.1 293.2,168.3 293.3,169.8 293.4,168.1 293.5,166.3 293.7,168.7 293.8,170.0 293.9,173.0 294.0,178.2 294.1,180.3 294.2,180.9 294.3,180.0 294.4,179.4 294.5,181.4 294.6,186.9 294.7,188.6 294.8,189.9 294.9,187.4 295.0,189.4 295.1,191.1 295.2,195.4 295.3,198.4 295.4,199.5 295.5,199.8 295.6,198.8 295.7,197.8 295.8,197.6 295.9,201.8 296.0,203.9 296.1,205.8 296.2,205.6 296.4,206.3 296.5,204.8 296.6,205.8 296.7,208.7 296.8,212.3 296.9,214.5 297.0,215.3 297.1,214.3 297.2,213.8 297.3,214.4 297.4,218.5 297.5,222.4 297.6,222.5 297.7,221.2 297.8,219.1 297.9,216.6 298.0,216.6 298.1,220.7 298.2,223.0 298.3,223.4 298.4,222.5 298.5,219.3 298.6,217.2 298.7,217.1 298.8,220.0 298.9,223.2 299.0,225.3 299.2,222.6 299.3,219.6 299.4,217.8 299.5,218.0 299.6,222.3 299.7,223.8 299.8,224.9 299.9,223.9 300.0,220.3 300.1,217.4 300.2,218.6 300.3,221.1 300.4,223.9 300.5,226.0 300.6,224.9 300.7,220.3 300.8,217.0 300.9,217.4 301.0,220.2 301.1,223.7 301.2,224.9 301.3,224.2 301.4,220.2 301.5,217.6 301.6,217.3 301.7,220.2 301.9,223.6 302.0,224.7 302.1,223.1 302.2,219.7 302.3,217.3 302.4,218.0 302.5,220.7 302.6,224.0 302.7,225.7 302.8,223.9 302.9,220.9 303.0,218.5 303.1,218.7 303.2,221.2 303.3,224.5 303.4,225.0 303.5,224.7 303.6,221.5 303.7,217.9 303.8,219.9 303.9,222.0 304.0,225.9 304.1,225.5 304.2,223.3 304.3,221.0 304.4,218.4 304.5,217.9 304.7,220.4 304.8,223.7 304.9,225.4 305.0,224.2 305.1,220.0 305.2,218.3 305.3,218.6 305.4,221.0 305.5,223.4 305.6,225.8 305.7,224.2 305.8,221.1 305.9,219.1 306.0,219.7 306.1,221.4 306.2,224.8 306.3,225.6 306.4,223.8 306.5,221.1 306.6,218.8 306.7,219.1 306.8,221.5 306.9,224.9 307.0,226.9 307.1,225.5 307.2,221.1 307.4,218.5 307.5,219.0 307.6,221.2 307.7,223.3 307.8,225.1 307.9,223.7 308.0,220.6 308.1,218.1 308.2,218.1 308.3,220.2 308.4,223.6 308.5,225.0 308.6,223.7 308.7,220.9 308.8,217.6 308.9,217.6 309.0,220.7 309.1,223.9 309.2,224.5 309.3,222.6 309.4,219.0 309.5,216.6 309.6,217.5 309.7,219.8 309.8,223.3 309.9,223.9 310.0,223.0 310.2,219.8 310.3,217.4 310.4,218.6 310.5,220.9 310.6,223.9 310.7,224.8 310.8,222.8 310.9,219.6 311.0,216.6 311.1,216.4 311.2,219.6 311.3,223.0 311.4,223.6 311.5,222.6 311.6,220.0 311.7,217.3 311.8,218.5 311.9,219.8 312.0,222.6 312.1,221.7 312.2,219.1 312.3,213.6 312.4,210.4 312.5,208.9 312.6,211.6 312.7,211.8 312.9,211.2 313.0,208.1 313.1,205.4 313.2,200.7 313.3,199.6 313.4,200.6 313.5,202.5 313.6,203.8 313.7,199.9 313.8,197.4 313.9,193.0 314.0,190.7 314.1,191.0 314.2,192.3 314.3,193.1 314.4,189.4 314.5,186.2 314.6,183.5 314.7,180.6 314.8,180.3 314.9,180.5 315.0,178.5 315.1,178.2 315.2,173.6 315.3,172.7 315.4,174.2 315.6,173.8 315.7,174.4 315.8,170.4 315.9,172.8 316.0,169.4 316.1,166.6 316.2,161.6 316.3,163.6 316.4,167.8 316.5,166.5 316.6,164.9 316.7,159.6 316.8,157.7 316.9,157.5 317.0,157.8 317.1,159.2 317.2,157.0 317.3,152.4 317.4,150.0 317.5,152.4 317.6,150.5 317.7,150.1 317.8,154.1 317.9,153.1 318.0,148.7 318.1,145.5 318.2,148.1 318.4,145.3 318.5,143.9 318.6,140.0 318.7,141.5 318.8,143.4 318.9,139.0 319.0,132.1 319.1,137.7 319.2,138.1 319.3,135.6 319.4,134.8 319.5,131.4 319.6,133.3 319.7,129.7 319.8,128.5 319.9,126.9 320.0,127.0 320.1,126.9 320.2,126.2 320.3,122.5 320.4,123.3 320.5,124.2 320.6,122.0 320.7,125.5 320.8,124.0 320.9,121.8 321.1,121.5 321.2,118.9 321.3,113.6 321.4,115.4 321.5,115.2 321.6,111.7 321.7,119.9 321.8,114.4 321.9,114.8 322.0,116.6 322.1,116.2 322.2,122.3 322.3,120.4 322.4,121.7 322.5,116.8 322.6,113.2 322.7,111.8 322.8,116.5 322.9,113.9 323.0,119.6 323.1,116.0 323.2,116.7 323.3,117.3 323.4,109.4 323.5,111.8 323.6,113.8 323.7,109.3 323.9,114.3 324.0,114.3 324.1,112.0 324.2,112.4 324.3,109.0 324.4,113.3 324.5,112.8 324.6,113.3 324.7,112.8 324.8,117.7 324.9,116.8 325.0,116.1 325.1,122.4 325.2,117.5 325.3,110.0 325.4,111.0 325.5,112.7 325.6,112.2 325.7,114.4 325.8,118.4 325.9,123.7 326.0,124.8 326.1,112.4 326.2,119.2 326.3,118.8 326.4,120.3 326.6,122.0 326.7,122.4 326.8,123.6 326.9,122.8 327.0,122.9 327.1,122.0 327.2,120.6 327.3,122.6 327.4,125.5 327.5,120.0 327.6,126.7 327.7,127.4 327.8,128.9 327.9,124.4 328.0,129.3 328.1,135.4 328.2,132.3 328.3,130.5 328.4,128.3 328.5,128.5 328.6,131.9 328.7,135.5 328.8,137.6 328.9,138.4 329.0,143.3 329.1,140.2 329.2,136.0 329.4,136.9 329.5,146.6 329.6,146.6 329.7,147.3 329.8,147.9 329.9,145.0 330.0,147.6 330.1,154.1 330.2,153.5 330.3,155.6 330.4,152.5 330.5,152.3 330.6,151.1 330.7,151.6 330.8,151.5 330.9,157.9 331.0,156.0 331.1,159.1 331.2,158.1 331.3,157.2 331.4,159.8 331.5,161.4 331.6,162.4 331.7,165.6 331.8,165.4 331.9,166.8 332.1,165.7 332.2,165.2 332.3,170.1 332.4,173.3 332.5,174.7 332.6,173.5 332.7,170.5 332.8,172.6 332.9,176.0 333.0,177.0 333.1,180.8 333.2,182.8 333.3,182.9 333.4,182.1 333.5,182.7 333.6,184.4 333.7,187.8 333.8,190.4 333.9,192.4 334.0,192.2 334.1,190.3 334.2,187.9 334.3,191.4 334.4,194.4 334.5,198.0 334.6,200.4 334.7,201.7 334.9,200.6 335.0,198.3 335.1,200.6 335.2,205.4 335.3,208.8 335.4,210.8 335.5,210.8 335.6,208.5 335.7,208.6 335.8,209.7 335.9,214.0 336.0,218.0 336.1,220.7 336.2,221.0 336.3,217.7 336.4,216.7 336.5,216.7 336.6,218.4 336.7,221.3 336.8,223.0 336.9,222.1 337.0,219.0 337.1,217.6 337.2,217.4 337.3,220.8 337.4,224.0 337.6,225.0 337.7,222.5 337.8,219.5 337.9,217.1 338.0,217.7 338.1,220.5 338.2,224.2 338.3,225.4 338.4,222.8 338.5,219.6 338.6,218.5 338.7,218.0 338.8,220.2 338.9,224.6 339.0,225.0 339.1,223.0 339.2,219.8 339.3,217.3 339.4,217.5 339.5,219.8 339.6,223.9 339.7,225.3 339.8,223.8 339.9,220.6 340.0,218.1 340.1,218.4 340.3,220.5 340.4,224.3 340.5,224.8 340.6,223.8 340.7,220.1 340.8,216.9 340.9,217.7 341.0,221.4 341.1,224.1 341.2,225.7 341.3,223.9 341.4,221.6 341.5,218.7 341.6,219.2 341.7,222.3 341.8,225.3 341.9,227.1 342.0,224.9 342.1,221.5 342.2,218.5 342.3,218.6 342.4,221.4 342.5,224.4 342.6,225.9 342.7,224.3 342.8,220.6 342.9,218.7 343.1,219.1 343.2,222.4 343.3,225.6 343.4,226.6 343.5,224.7 343.6,221.5 343.7,219.2 343.8,219.7 343.9,222.4 344.0,225.9 344.1,226.8 344.2,224.2 344.3,221.9 344.4,220.0 344.5,219.3 344.6,222.4 344.7,225.8 344.8,225.6 344.9,224.6 345.0,220.6 345.1,218.6 345.2,219.0 345.3,221.3 345.4,224.0 345.5,226.2 345.6,224.9 345.8,222.4 345.9,220.3 346.0,220.2 346.1,221.3 346.2,225.1 346.3,225.6 346.4,224.9 346.5,221.1 346.6,218.2 346.7,218.0 346.8,221.5 346.9,224.3 347.0,225.6 347.1,222.5 347.2,219.7 347.3,216.8 347.4,217.3 347.5,219.8 347.6,223.8 347.7,223.8 347.8,223.3 347.9,220.2 348.0,217.4 348.1,217.8 348.2,220.1 348.3,222.9 348.4,223.8 348.6,222.3 348.7,219.5 348.8,216.2 348.9,217.5 349.0,219.1 349.1,222.7 349.2,223.1 349.3,221.5 349.4,218.1 349.5,215.8 349.6,215.0 349.7,218.9 349.8,221.0 349.9,222.6 350.0,221.1 350.1,217.7 350.2,215.4 350.3,215.6 350.4,216.9 350.5,218.8 350.6,216.6 350.7,214.6 350.8,210.7 350.9,206.7 351.0,204.1 351.1,206.2 351.3,207.8 351.4,206.3 351.5,204.0 351.6,201.4 351.7,198.0 351.8,195.9 351.9,197.7 352.0,198.5 352.1,198.9 352.2,196.2 352.3,193.3 352.4,188.6 352.5,189.2 352.6,190.6 352.7,191.3 352.8,189.3 352.9,187.9 353.0,184.7 353.1,181.4 353.2,181.7 353.3,180.5 353.4,182.3 353.5,179.4 353.6,175.3 353.7,171.6 353.8,168.6 353.9,168.0 354.1,165.7 354.2,166.2 354.3,165.8 354.4,166.3 354.5,166.6 354.6,162.8 354.7,162.3 354.8,163.9 354.9,166.4 355.0,164.4 355.1,163.1 355.2,159.5 355.3,151.9 355.4,151.7 355.5,153.1 355.6,152.8 355.7,151.7 355.8,151.7 355.9,148.4 356.0,143.1 356.1,142.6 356.2,142.1 356.3,144.6 356.4,140.5 356.5,141.4 356.6,140.9 356.8,139.3 356.9,138.7 357.0,142.0 357.1,143.1 357.2,141.4 357.3,133.2 357.4,135.0 357.5,128.3 357.6,126.3 357.7,125.7 357.8,135.2 357.9,133.1 358.0,132.2 358.1,124.4 358.2,125.1 358.3,126.2 358.4,123.6 358.5,119.9 358.6,122.5 358.7,125.7 358.8,120.3 358.9,121.2 359.0,115.9 359.1,113.0 359.2,113.5 359.3,115.2 359.5,114.5 359.6,108.8 359.7,108.5 359.8,112.4 359.9,116.6 360.0,118.0 360.1,115.4 360.2,115.2 360.3,112.2 360.4,109.0 360.5,116.5 360.6,112.3 360.7,116.7 360.8,119.9 360.9,119.5 361.0,117.6 361.1,113.1 361.2,112.2 361.3,112.5 361.4,110.9 361.5,107.7 361.6,108.8 361.7,114.8 361.8,111.8 361.9,109.2 362.0,109.1 362.1,108.2 362.3,105.1 362.4,105.5 362.5,105.4 362.6,103.6 362.7,118.2 362.8,115.8 362.9,111.4 363.0,108.1 363.1,108.1 363.2,107.0 363.3,110.3 363.4,110.6 363.5,110.6 363.6,113.3 363.7,112.5 363.8,111.9 363.9,110.2 364.0,103.1 364.1,103.1 364.2,114.7 364.3,111.8 364.4,109.7 364.5,110.9 364.6,116.2 364.7,114.9 364.8,119.2 365.0,113.5 365.1,115.9 365.2,123.6 365.3,125.2 365.4,125.5 365.5,119.1 365.6,122.0 365.7,123.8 365.8,128.0 365.9,128.2 366.0,127.4 366.1,128.5 366.2,126.6 366.3,128.9 366.4,128.3 366.5,130.6 366.6,134.8 366.7,129.5 366.8,127.4 366.9,132.3 367.0,128.5 367.1,133.9 367.2,135.8 367.3,133.9 367.4,132.2 367.5,134.8 367.6,135.6 367.8,138.7 367.9,145.0 368.0,147.7 368.1,150.3 368.2,150.4 368.3,148.3 368.4,150.0 368.5,149.5 368.6,151.3 368.7,152.5 368.8,155.0 368.9,155.4 369.0,155.0 369.1,157.3 369.2,155.6 369.3,160.3 369.4,160.2 369.5,160.6 369.6,161.2 369.7,161.0 369.8,162.3 369.9,165.3 370.0,165.4 370.1,164.2 370.2,167.9 370.3,168.1 370.5,166.1 370.6,164.7 370.7,166.4 370.8,170.2 370.9,175.1 371.0,177.6 371.1,180.4 371.2,176.9 371.3,178.0 371.4,181.0 371.5,185.3 371.6,188.4 371.7,191.4 371.8,189.1 371.9,190.6 372.0,188.9 372.1,190.7 372.2,194.4 372.3,199.2 372.4,201.3 372.5,201.1 372.6,199.4 372.7,198.8 372.8,199.0 372.9,204.0 373.0,208.3 373.1,210.5 373.3,209.6 373.4,207.5 373.5,207.0 373.6,208.5 373.7,212.8 373.8,216.2 373.9,218.1 374.0,215.7 374.1,212.7 374.2,209.7 374.3,210.9 374.4,213.1 374.5,217.7 374.6,218.8 374.7,216.6 374.8,213.4 374.9,212.7 375.0,210.6 375.1,213.9 375.2,217.7 375.3,218.8 375.4,217.1 375.5,215.1 375.6,211.4 375.7,212.1 375.8,215.8 376.0,218.5 376.1,219.6 376.2,217.8 376.3,214.6 376.4,212.2 376.5,210.8 376.6,214.5 376.7,217.1 376.8,217.9 376.9,217.0 377.0,213.4 377.1,210.9 377.2,211.2 377.3,213.9 377.4,218.3 377.5,219.5 377.6,218.3 377.7,214.2 377.8,210.6 377.9,211.7 378.0,214.3 378.1,216.9 378.2,218.0 378.3,217.7 378.4,214.2 378.5,211.0 378.7,212.1 378.8,216.2 378.9,218.1 379.0,220.6 379.1,217.2 379.2,214.2 379.3,211.8 379.4,212.7 379.5,214.9 379.6,218.2 379.7,219.6 379.8,218.2 379.9,215.7 380.0,212.8 380.1,212.9 380.2,214.8 380.3,218.1 380.4,220.4 380.5,218.3 380.6,213.8 380.7,211.9 380.8,211.6 380.9,214.2 381.0,217.1 381.1,218.9 381.2,217.5 381.3,213.8 381.5,212.5 381.6,212.0 381.7,215.4 381.8,218.5 381.9,219.9 382.0,217.8 382.1,214.0 382.2,211.6 382.3,212.9 382.4,215.0 382.5,217.6 382.6,219.4 382.7,218.0 382.8,216.2 382.9,212.9 383.0,213.0 383.1,216.0 383.2,218.2 383.3,220.1 383.4,217.5 383.5,215.2 383.6,212.6 383.7,212.9 383.8,215.7 383.9,219.0 384.0,219.5 384.2,219.0 384.3,215.1 384.4,212.8 384.5,212.7 384.6,216.0 384.7,219.3 384.8,219.2 384.9,218.1 385.0,215.3 385.1,211.4 385.2,211.0 385.3,214.6 385.4,218.1 385.5,218.4 385.6,217.2 385.7,213.8 385.8,210.6 385.9,210.7 386.0,213.6 386.1,217.2 386.2,217.9 386.3,216.8 386.4,213.0 386.5,211.1 386.6,211.6 386.7,213.2 386.8,215.4 387.0,217.0 387.1,215.8 387.2,212.5 387.3,209.6 387.4,210.7 387.5,213.4 387.6,216.2 387.7,218.5 387.8,216.0 387.9,213.0 388.0,209.5 388.1,210.4 388.2,212.4 388.3,215.5 388.4,216.8 388.5,214.9 388.6,210.7 388.7,208.8 388.8,209.5 388.9,209.8 389.0,210.6 389.1,211.5 389.2,209.8 389.3,204.7 389.4,202.0 389.5,201.1 389.7,201.9 389.8,202.5 389.9,203.2 390.0,200.1 390.1,195.3 390.2,192.3 390.3,190.3 390.4,191.8 390.5,192.9 390.6,192.3 390.7,190.4 390.8,185.1 390.9,182.0 391.0,179.8 391.1,181.3 391.2,182.1 391.3,179.9 391.4,177.1 391.5,173.9 391.6,168.3 391.7,167.3 391.8,168.2 391.9,169.7 392.0,167.7 392.1,166.3 392.2,163.0 392.3,161.5 392.5,158.8 392.6,164.1 392.7,163.7 392.8,160.5 392.9,155.5 393.0,157.1 393.1,152.6 393.2,150.6 393.3,151.1 393.4,151.9 393.5,151.2 393.6,146.2 393.7,144.6 393.8,146.1 393.9,144.3 394.0,144.3 394.1,143.6 394.2,145.6 394.3,147.3 394.4,143.2 394.5,136.7 394.6,137.0 394.7,136.2 394.8,130.4 394.9,129.9 395.0,126.0 395.2,121.1 395.3,117.8 395.4,126.5 395.5,125.0 395.6,129.5 395.7,128.9 395.8,124.0 395.9,126.3 396.0,124.4 396.1,126.0 396.2,123.2 396.3,121.2 396.4,122.0 396.5,120.1 396.6,117.3 396.7,118.6 396.8,117.3 396.9,117.9 397.0,115.7 397.1,116.8 397.2,111.3 397.3,106.2 397.4,109.1 397.5,107.7 397.6,114.2 397.7,116.3 397.8,112.8 398.0,114.0 398.1,106.2 398.2,105.0 398.3,108.9 398.4,109.0 398.5,107.2 398.6,103.3 398.7,96.5 398.8,96.4 398.9,107.7 399.0,110.2 399.1,103.9 399.2,101.8 399.3,97.9 399.4,98.2 399.5,96.5 399.6,99.7 399.7,95.4 399.8,98.1 399.9,98.0 400.0,97.5 400.1,100.7 400.2,107.3 400.3,102.1 400.4,98.8 400.5,104.0 400.7,105.5 400.8,104.0 400.9,102.6 401.0,109.8 401.1,107.2 401.2,103.0 401.3,103.1 401.4,102.3 401.5,102.8 401.6,107.4 401.7,113.4 401.8,112.2 401.9,110.9 402.0,104.0 402.1,114.0 402.2,111.4 402.3,114.4 402.4,114.1 402.5,116.0 402.6,113.3 402.7,114.4 402.8,119.3 402.9,116.5 403.0,116.0 403.1,119.7 403.2,118.2 403.4,120.7 403.5,122.8 403.6,125.6 403.7,132.4 403.8,134.3 403.9,131.7 404.0,133.1 404.1,128.7 404.2,122.2 404.3,124.7 404.4,126.9 404.5,131.3 404.6,131.9 404.7,131.1 404.8,131.5 404.9,134.0 405.0,135.8 405.1,138.8 405.2,139.5 405.3,140.5 405.4,136.2 405.5,138.6 405.6,141.2 405.7,145.6 405.8,144.9 405.9,147.5 406.0,146.1 406.2,147.9 406.3,149.1 406.4,153.9 406.5,155.5 406.6,160.4 406.7,160.2 406.8,158.1 406.9,156.7 407.0,160.5 407.1,161.1 407.2,164.8 407.3,169.4 407.4,172.9 407.5,170.7 407.6,170.8 407.7,170.9 407.8,173.1 407.9,176.1 408.0,178.7 408.1,176.5 408.2,174.0 408.3,175.9 408.4,176.7 408.5,181.3 408.6,187.8 408.7,189.3 408.9,190.2 409.0,188.1 409.1,186.5 409.2,189.5 409.3,193.8 409.4,198.3 409.5,201.1 409.6,201.6 409.7,199.5 409.8,199.0 409.9,200.4 410.0,202.3 410.1,207.8 410.2,210.0 410.3,210.1 410.4,208.6 410.5,207.5 410.6,208.8 410.7,212.1 410.8,216.3 410.9,216.6 411.0,215.2 411.1,211.4 411.2,209.1 411.3,209.4 411.4,213.1 411.5,217.1 411.7,218.9 411.8,216.6 411.9,213.9 412.0,211.2 412.1,210.5 412.2,214.1 412.3,216.0 412.4,217.7 412.5,216.6 412.6,213.4 412.7,210.9 412.8,210.6 412.9,214.4 413.0,216.4 413.1,218.1 413.2,216.2 413.3,213.4 413.4,210.7 413.5,211.9 413.6,214.5 413.7,217.1 413.8,218.5 413.9,217.2 414.0,213.3 414.1,211.6 414.2,212.1 414.4,213.9 414.5,216.2 414.6,218.0 414.7,217.0 414.8,213.6 414.9,211.3 415.0,211.9 415.1,215.3 415.2,218.0 415.3,219.4 415.4,218.1 415.5,216.2 415.6,213.4 415.7,212.8 415.8,215.4 415.9,219.3 416.0,219.3 416.1,217.8 416.2,213.9 416.3,212.3 416.4,213.9 416.5,215.3 416.6,218.5 416.7,221.1 416.8,219.1 416.9,215.4 417.0,213.0 417.2,213.4 417.3,216.0 417.4,219.2 417.5,219.8 417.6,217.9 417.7,215.1 417.8,212.8 417.9,212.6 418.0,215.6 418.1,218.9 418.2,219.6 418.3,216.6 418.4,214.7 418.5,212.1 418.6,213.0 418.7,215.3 418.8,219.0 418.9,219.9 419.0,218.7 419.1,215.5 419.2,212.4 419.3,212.9 419.4,215.8 419.5,218.3 419.6,218.8 419.7,217.9 419.9,214.2 420.0,212.3 420.1,211.3 420.2,214.1 420.3,217.9 420.4,219.5 420.5,217.5 420.6,213.0 420.7,211.1 420.8,211.4 420.9,214.8 421.0,217.4 421.1,218.6 421.2,217.3 421.3,215.9 421.4,212.0 421.5,213.0 421.6,215.6 421.7,219.7 421.8,219.8 421.9,218.8 422.0,214.9 422.1,211.6 422.2,211.6 422.3,214.8 422.4,218.2 422.6,220.3 422.7,217.4 422.8,215.0 422.9,211.7 423.0,211.0 423.1,215.4 423.2,217.9 423.3,219.0 423.4,217.3 423.5,213.1 423.6,210.2 423.7,210.3 423.8,213.4 423.9,216.7 424.0,218.2 424.1,215.8 424.2,213.7 424.3,211.5 424.4,210.7 424.5,213.0 424.6,216.8 424.7,217.5 424.8,216.9 424.9,213.2 425.0,210.6 425.1,211.6 425.2,213.6 425.4,216.8 425.5,216.6 425.6,215.2 425.7,212.0 425.8,209.3 425.9,209.7 426.0,212.5 426.1,215.7 426.2,214.9 426.3,212.8 426.4,208.7 426.5,205.3 426.6,203.8 426.7,206.1 426.8,206.5 426.9,206.0 427.0,202.8 427.1,199.1 427.2,195.6 427.3,195.1 427.4,194.8 427.5,195.8 427.6,195.1 427.7,194.9 427.8,191.0 427.9,186.4 428.1,186.6 428.2,186.2 428.3,186.4 428.4,184.5 428.5,180.1 428.6,178.3 428.7,176.3 428.8,175.1 428.9,175.7 429.0,178.5 429.1,175.9 429.2,173.8 429.3,170.1 429.4,170.7 429.5,168.0 429.6,168.1 429.7,167.0 429.8,165.2 429.9,162.5 430.0,159.7 430.1,157.3 430.2,155.4 430.3,155.1 430.4,154.4 430.5,150.6 430.6,148.0 430.7,148.2 430.9,151.2 431.0,148.1 431.1,146.3 431.2,145.8 431.3,143.4 431.4,145.3 431.5,142.5 431.6,141.0 431.7,140.1 431.8,139.4 431.9,142.1 432.0,138.2 432.1,138.1 432.2,136.5 432.3,129.0 432.4,130.4 432.5,136.2 432.6,131.2 432.7,128.2 432.8,129.5 432.9,128.3 433.0,126.1 433.1,128.1 433.2,124.5 433.3,120.6 433.4,125.4 433.6,124.4 433.7,121.1 433.8,118.2 433.9,115.3 434.0,120.2 434.1,120.5 434.2,119.7 434.3,119.9 434.4,114.9 434.5,115.5 434.6,113.1 434.7,117.7 434.8,109.6 434.9,111.8 435.0,110.1 435.1,109.5 435.2,108.5 435.3,108.0 435.4,106.3 435.5,111.1 435.6,114.6 435.7,112.4 435.8,108.7 435.9,105.2 436.0,95.6 436.1,96.0 436.2,100.0 436.4,102.2 436.5,106.1 436.6,97.5 436.7,104.5 436.8,100.4 436.9,98.3 437.0,98.6 437.1,101.7 437.2,92.6 437.3,101.2 437.4,99.1 437.5,95.9 437.6,98.1 437.7,97.9 437.8,98.1 437.9,94.6 438.0,99.2 438.1,107.1 438.2,101.7 438.3,106.7 438.4,108.8 438.5,106.0 438.6,104.8 438.7,97.7 438.8,102.1 438.9,95.3 439.1,101.9 439.2,101.5 439.3,105.3 439.4,99.9 439.5,107.3 439.6,106.1 439.7,106.9 439.8,103.6 439.9,110.5 440.0,111.9 440.1,112.5 440.2,112.0 440.3,112.2 440.4,107.9 440.5,115.2 440.6,107.4 440.7,109.5 440.8,110.8 440.9,107.5 441.0,108.1 441.1,112.8 441.2,117.5 441.3,118.2 441.4,123.5 441.5,125.4 441.6,124.5 441.8,125.3 441.9,123.5 442.0,120.1 442.1,129.6 442.2,126.6 442.3,126.0 442.4,131.7 442.5,129.5 442.6,125.9 442.7,129.0 442.8,133.0 442.9,133.0 443.0,135.7 443.1,134.2 443.2,135.3 443.3,133.8 443.4,133.0 443.5,136.4 443.6,137.9 443.7,134.1 443.8,136.8 443.9,138.0 444.0,138.1 444.1,139.5 444.2,142.0 444.3,145.8 444.4,147.2 444.6,147.5 444.7,148.6 444.8,147.1 444.9,151.5 445.0,151.9 445.1,157.1 445.2,158.7 445.3,159.2 445.4,161.1 445.5,160.7 445.6,164.6 445.7,166.0 445.8,170.1 445.9,166.3 446.0,165.0 446.1,165.0 446.2,166.2 446.3,170.7 446.4,174.6 446.5,176.0 446.6,176.2 446.7,176.4 446.8,177.2 446.9,178.1 447.0,181.0 447.1,183.2 447.3,188.4 447.4,187.3 447.5,187.1 447.6,187.4 447.7,188.5 447.8,192.2 447.9,195.8 448.0,197.9 448.1,197.9 448.2,197.2 448.3,194.9 448.4,197.0 448.5,199.3 448.6,205.9 448.7,206.6 448.8,207.5 448.9,207.5 449.0,206.2 449.1,208.8 449.2,212.6 449.3,216.4 449.4,216.8 449.5,214.6 449.6,212.7 449.7,210.2 449.8,210.3 449.9,213.3 450.1,216.4 450.2,217.4 450.3,216.9 450.4,213.0 450.5,211.8 450.6,211.5 450.7,214.2 450.8,218.9 450.9,220.0 451.0,218.3 451.1,216.8 451.2,214.7 451.3,213.7 451.4,215.6 451.5,219.7 451.6,220.9 451.7,219.1 451.8,215.7 451.9,212.7 452.0,213.0 452.1,215.9 452.2,218.9 452.3,220.1 452.4,217.6 452.5,212.8 452.6,211.7 452.8,211.4 452.9,214.3 453.0,216.9 453.1,219.0 453.2,218.2 453.3,214.2 453.4,211.4 453.5,212.7 453.6,214.4 453.7,217.8 453.8,218.5 453.9,217.5 454.0,214.0 454.1,211.5 454.2,212.1 454.3,215.8 454.4,219.4 454.5,220.2 454.6,219.0 454.7,215.0 454.8,212.2 454.9,213.1 455.0,215.5 455.1,218.7 455.2,219.9 455.3,219.0 455.4,214.2 455.6,212.4 455.7,212.2 455.8,215.9 455.9,219.2 456.0,220.5 456.1,219.1 456.2,215.8 456.3,212.7 456.4,212.6 456.5,215.7 456.6,219.4 456.7,219.1 456.8,217.7 456.9,214.9 457.0,212.5 457.1,212.4 457.2,214.5 457.3,217.4 457.4,218.4 457.5,217.4 457.6,214.8 457.7,212.4 457.8,211.9 457.9,215.4 458.0,219.0 458.1,220.1 458.3,218.6 458.4,215.1 458.5,212.0 458.6,213.0 458.7,215.8 458.8,218.2 458.9,218.9 459.0,217.8 459.1,215.2 459.2,212.9 459.3,213.1 459.4,215.1 459.5,218.8 459.6,218.4 459.7,218.0 459.8,215.2 459.9,212.4 460.0,213.7 460.1,215.5 460.2,219.2 460.3,220.1 460.4,219.2 460.5,215.0 460.6,212.4 460.7,212.7 460.8,214.4 460.9,218.0 461.1,219.1 461.2,218.1 461.3,215.3 461.4,211.7 461.5,212.2 461.6,213.9 461.7,217.7 461.8,218.6 461.9,217.2 462.0,214.5 462.1,212.5 462.2,212.9 462.3,214.9 462.4,217.6 462.5,219.0 462.6,217.6 462.7,214.3 462.8,212.4 462.9,211.5 463.0,214.3 463.1,217.5 463.2,217.3 463.3,214.9 463.4,211.6 463.5,206.3 463.6,206.2 463.8,207.5 463.9,210.6 464.0,210.4 464.1,207.0 464.2,203.4 464.3,200.0 464.4,200.9 464.5,200.1 464.6,202.4 464.7,203.1 464.8,201.1 464.9,195.9 465.0,191.8 465.1,191.1 465.2,191.8 465.3,191.6 465.4,193.8 465.5,190.8 465.6,184.9 465.7,184.2 465.8,182.8 465.9,181.8 466.0,182.1 466.1,180.6 466.2,180.3 466.3,176.7 466.5,175.4 466.6,173.2 466.7,175.7 466.8,176.4 466.9,175.4 467.0,174.2 467.1,170.5 467.2,166.7 467.3,168.1 467.4,167.9 467.5,167.2 467.6,169.1 467.7,162.7 467.8,161.4 467.9,161.4 468.0,157.9 468.1,157.6 468.2,159.1 468.3,155.6 468.4,153.2 468.5,148.1 468.6,148.8 468.7,148.3 468.8,150.7 468.9,151.0 469.0,146.9 469.1,144.4 469.3,144.7 469.4,143.7 469.5,142.3 469.6,146.0 469.7,145.2 469.8,144.3 469.9,142.0 470.0,138.3 470.1,137.4 470.2,139.4 470.3,142.3 470.4,136.7 470.5,136.8 470.6,129.6 470.7,126.7 470.8,131.4 470.9,134.1 471.0,134.8 471.1,128.4 471.2,130.6 471.3,127.6 471.4,131.7 471.5,130.7 471.6,134.3 471.7,129.5 471.8,135.9 472.0,134.2 472.1,128.3 472.2,126.1 472.3,127.7 472.4,126.8 472.5,125.5 472.6,120.6 472.7,126.4 472.8,123.1 472.9,120.6 473.0,117.8 473.1,114.8 473.2,112.9 473.3,108.8 473.4,113.7 473.5,112.5 473.6,115.0 473.7,113.9 473.8,112.7 473.9,110.6 474.0,119.1 474.1,122.6 474.2,115.9 474.3,105.8 474.4,103.5 474.5,116.2 474.6,114.8 474.8,112.0 474.9,116.9 475.0,109.4 475.1,100.5 475.2,100.2 475.3,102.8 475.4,110.2 475.5,105.5 475.6,103.8 475.7,99.8 475.8,104.1 475.9,107.5 476.0,104.9 476.1,107.8 476.2,114.9 476.3,112.8 476.4,112.7 476.5,120.5 476.6,113.2 476.7,110.3 476.8,107.8 476.9,107.2 477.0,104.8 477.1,108.6 477.2,111.1 477.3,110.6 477.5,113.2 477.6,116.6 477.7,120.6 477.8,122.4 477.9,126.8 478.0,129.6 478.1,128.1 478.2,125.9 478.3,126.0 478.4,126.0 478.5,127.0 478.6,129.6 478.7,127.5 478.8,123.8 478.9,125.0 479.0,129.5 479.1,125.0 479.2,130.2 479.3,132.5 479.4,132.4 479.5,129.0 479.6,127.2 479.7,128.3 479.8,127.4 479.9,128.0 480.0,124.6 480.1,127.1 480.3,126.5 480.4,131.8 480.5,132.3 480.6,134.8 480.7,132.0 480.8,133.1 480.9,135.1 481.0,130.2 481.1,131.6 481.2,133.8 481.3,141.7 481.4,139.1 481.5,142.3 481.6,142.5 481.7,147.5 481.8,147.1 481.9,147.7 482.0,146.5 482.1,149.2 482.2,151.3 482.3,150.2 482.4,147.4 482.5,148.0 482.6,155.2 482.7,159.3 482.8,159.9 483.0,159.5 483.1,161.4 483.2,159.0 483.3,157.1 483.4,159.6 483.5,167.0 483.6,170.1 483.7,168.2 483.8,166.7 483.9,165.1 484.0,170.0 484.1,172.8 484.2,175.5 484.3,177.6 484.4,177.7 484.5,176.0 484.6,174.0 484.7,178.7 484.8,178.3 484.9,183.2 485.0,187.8 485.1,187.0 485.2,185.1 485.3,183.5 485.4,184.6 485.5,187.4 485.7,192.2 485.8,192.2 485.9,192.3 486.0,193.1 486.1,192.9 486.2,193.5 486.3,196.5 486.4,198.6 486.5,203.1 486.6,201.6 486.7,200.8 486.8,199.2 486.9,201.6 487.0,206.7 487.1,210.6 487.2,213.5 487.3,212.1 487.4,211.4 487.5,209.6 487.6,211.2 487.7,214.7 487.8,217.8 487.9,219.6 488.0,217.3 488.1,213.6 488.2,213.1 488.3,212.6 488.5,215.3 488.6,218.7 488.7,219.6 488.8,217.8 488.9,214.4 489.0,212.6 489.1,212.4 489.2,216.3 489.3,218.3 489.4,220.4 489.5,219.1 489.6,215.4 489.7,212.9 489.8,211.8 489.9,215.4 490.0,219.1 490.1,219.8 490.2,218.0 490.3,214.0 490.4,213.0 490.5,213.7 490.6,215.3 490.7,219.4 490.8,219.7 490.9,218.7 491.0,217.2 491.2,213.6 491.3,213.9 491.4,216.7 491.5,219.1 491.6,220.5 491.7,218.8 491.8,216.0 491.9,213.4 492.0,214.0 492.1,217.4 492.2,221.1 492.3,222.2 492.4,220.3 492.5,217.0" fill="none" stroke="#3b72cf" stroke-width="1.7" stroke-linejoin="round"/>
<polyline points="75.5,235.7 75.6,234.8 75.7,234.0 75.8,235.5 75.9,236.9 76.0,237.6 76.1,236.6 76.2,235.7 76.3,233.9 76.4,234.5 76.5,235.4 76.6,236.6 76.7,237.3 76.8,236.0 77.0,235.0 77.1,233.4 77.2,232.9 77.3,234.2 77.4,236.4 77.5,236.8 77.6,235.7 77.7,235.6 77.8,232.7 77.9,233.0 78.0,235.7 78.1,236.8 78.2,237.6 78.3,236.7 78.4,235.9 78.5,233.5 78.6,232.9 78.7,234.4 78.8,236.4 78.9,236.7 79.0,236.1 79.1,233.2 79.2,231.5 79.3,231.0 79.4,232.9 79.5,235.1 79.7,235.6 79.8,233.9 79.9,232.0 80.0,230.1 80.1,230.9 80.2,233.1 80.3,235.9 80.4,235.7 80.5,234.9 80.6,231.8 80.7,229.5 80.8,229.5 80.9,231.3 81.0,233.1 81.1,233.8 81.2,232.8 81.3,230.1 81.4,228.0 81.5,228.4 81.6,230.6 81.7,232.3 81.8,232.9 81.9,231.9 82.0,229.0 82.1,226.4 82.2,227.2 82.3,227.8 82.5,230.4 82.6,231.6 82.7,229.9 82.8,225.8 82.9,223.7 83.0,224.3 83.1,226.6 83.2,228.5 83.3,227.8 83.4,227.3 83.5,224.5 83.6,221.3 83.7,221.8 83.8,224.6 83.9,226.7 84.0,228.2 84.1,225.4 84.2,222.5 84.3,220.5 84.4,219.9 84.5,222.6 84.6,226.0 84.7,225.1 84.8,222.7 84.9,221.1 85.0,216.4 85.2,215.6 85.3,214.7 85.4,216.4 85.5,216.6 85.6,212.0 85.7,207.5 85.8,204.0 85.9,203.0 86.0,203.7 86.1,204.8 86.2,204.8 86.3,201.0 86.4,197.7 86.5,194.4 86.6,192.2 86.7,192.9 86.8,196.0 86.9,193.3 87.0,190.4 87.1,183.0 87.2,181.5 87.3,180.7 87.4,182.5 87.5,181.5 87.6,178.9 87.7,177.9 87.9,173.3 88.0,171.6 88.1,171.2 88.2,169.9 88.3,174.3 88.4,171.7 88.5,168.5 88.6,167.0 88.7,162.7 88.8,161.0 88.9,163.5 89.0,165.7 89.1,165.4 89.2,162.9 89.3,159.8 89.4,157.3 89.5,155.4 89.6,154.0 89.7,153.4 89.8,150.9 89.9,150.4 90.0,147.0 90.1,147.8 90.2,147.9 90.3,147.3 90.4,151.1 90.5,151.2 90.7,147.4 90.8,147.0 90.9,145.7 91.0,143.1 91.1,143.2 91.2,142.8 91.3,141.1 91.4,140.0 91.5,138.1 91.6,135.0 91.7,133.5 91.8,129.1 91.9,128.2 92.0,130.7 92.1,129.6 92.2,129.8 92.3,127.4 92.4,125.0 92.5,127.8 92.6,128.8 92.7,131.3 92.8,130.5 92.9,127.0 93.0,130.5 93.1,129.3 93.2,125.2 93.4,127.2 93.5,126.3 93.6,128.1 93.7,123.1 93.8,123.5 93.9,123.7 94.0,126.7 94.1,125.4 94.2,126.1 94.3,122.8 94.4,125.9 94.5,121.7 94.6,126.6 94.7,126.6 94.8,131.3 94.9,127.5 95.0,124.2 95.1,125.8 95.2,122.3 95.3,128.6 95.4,124.4 95.5,125.7 95.6,127.3 95.7,126.1 95.8,129.5 95.9,123.4 96.0,121.3 96.2,124.1 96.3,121.3 96.4,128.1 96.5,124.5 96.6,120.2 96.7,119.9 96.8,120.3 96.9,118.7 97.0,119.4 97.1,118.2 97.2,118.0 97.3,120.7 97.4,123.9 97.5,119.3 97.6,121.0 97.7,122.8 97.8,121.5 97.9,120.5 98.0,113.8 98.1,118.2 98.2,120.8 98.3,118.4 98.4,121.0 98.5,121.3 98.6,129.1 98.7,125.1 98.9,125.3 99.0,126.6 99.1,127.9 99.2,129.5 99.3,129.7 99.4,126.5 99.5,123.9 99.6,120.2 99.7,120.6 99.8,121.3 99.9,128.0 100.0,129.5 100.1,129.5 100.2,125.5 100.3,125.7 100.4,123.6 100.5,125.0 100.6,132.7 100.7,133.4 100.8,129.7 100.9,129.1 101.0,127.2 101.1,124.7 101.2,128.9 101.3,126.8 101.4,127.4 101.5,125.0 101.7,122.6 101.8,126.5 101.9,125.0 102.0,123.9 102.1,124.7 102.2,126.9 102.3,128.2 102.4,126.3 102.5,126.6 102.6,131.2 102.7,130.2 102.8,134.7 102.9,134.2 103.0,134.8 103.1,135.4 103.2,137.8 103.3,137.0 103.4,143.4 103.5,142.9 103.6,146.5 103.7,146.0 103.8,146.4 103.9,147.5 104.0,145.2 104.1,146.4 104.2,147.4 104.4,149.4 104.5,150.9 104.6,149.0 104.7,148.1 104.8,149.6 104.9,152.5 105.0,158.0 105.1,158.2 105.2,158.3 105.3,157.0 105.4,156.4 105.5,158.3 105.6,160.7 105.7,165.9 105.8,166.9 105.9,168.8 106.0,170.1 106.1,167.5 106.2,168.4 106.3,173.9 106.4,177.8 106.5,177.7 106.6,179.3 106.7,178.5 106.8,177.0 106.9,175.4 107.1,180.0 107.2,183.5 107.3,187.0 107.4,186.3 107.5,188.1 107.6,188.6 107.7,188.7 107.8,193.0 107.9,195.0 108.0,198.6 108.1,198.9 108.2,194.9 108.3,195.3 108.4,199.9 108.5,202.7 108.6,207.2 108.7,209.4 108.8,210.0 108.9,209.3 109.0,207.9 109.1,208.3 109.2,213.8 109.3,220.4 109.4,223.2 109.5,224.4 109.6,221.1 109.7,218.0 109.9,218.2 110.0,220.6 110.1,224.4 110.2,225.5 110.3,223.8 110.4,220.1 110.5,217.5 110.6,217.5 110.7,221.3 110.8,224.8 110.9,225.6 111.0,224.8 111.1,221.5 111.2,218.3 111.3,219.5 111.4,224.3 111.5,226.8 111.6,228.1 111.7,226.2 111.8,222.6 111.9,219.2 112.0,220.1 112.1,223.6 112.2,227.1 112.3,228.0 112.4,225.0 112.6,222.1 112.7,218.9 112.8,220.0 112.9,223.9 113.0,226.7 113.1,228.5 113.2,226.4 113.3,223.1 113.4,220.2 113.5,221.1 113.6,223.8 113.7,228.0 113.8,228.7 113.9,226.5 114.0,223.0 114.1,220.7 114.2,220.4 114.3,223.2 114.4,226.8 114.5,229.0 114.6,227.6 114.7,222.7 114.8,220.5 114.9,220.6 115.0,222.9 115.1,226.8 115.2,228.7 115.4,226.6 115.5,223.0 115.6,220.8 115.7,220.8 115.8,224.5 115.9,227.8 116.0,228.1 116.1,227.6 116.2,223.3 116.3,221.2 116.4,221.3 116.5,224.7 116.6,227.8 116.7,229.0 116.8,226.5 116.9,222.8 117.0,220.2 117.1,221.4 117.2,224.3 117.3,227.0 117.4,229.2 117.5,226.5 117.6,223.6 117.7,220.2 117.8,221.1 117.9,224.1 118.1,226.8 118.2,227.5 118.3,224.9 118.4,221.4 118.5,219.8 118.6,219.9 118.7,223.2 118.8,226.5 118.9,227.4 119.0,225.9 119.1,222.9 119.2,220.2 119.3,220.1 119.4,224.4 119.5,227.2 119.6,228.2 119.7,226.6 119.8,222.9 119.9,220.1 120.0,219.0 120.1,222.8 120.2,226.0 120.3,227.2 120.4,225.7 120.5,222.1 120.6,220.2 120.7,219.6 120.9,222.5 121.0,225.4 121.1,227.8 121.2,225.8 121.3,222.3 121.4,219.2 121.5,219.4 121.6,222.9 121.7,225.3 121.8,226.4 121.9,223.7 122.0,220.4 122.1,216.3 122.2,214.8 122.3,217.0 122.4,218.7 122.5,217.1 122.6,214.1 122.7,208.2 122.8,205.7 122.9,204.5 123.0,207.6 123.1,208.9 123.2,209.7 123.3,204.4 123.4,198.9 123.6,195.9 123.7,195.4 123.8,198.7 123.9,199.2 124.0,198.1 124.1,195.8 124.2,189.1 124.3,186.3 124.4,187.5 124.5,186.5 124.6,186.1 124.7,187.3 124.8,184.6 124.9,181.0 125.0,179.9 125.1,176.4 125.2,174.5 125.3,180.3 125.4,179.6 125.5,175.1 125.6,174.0 125.7,171.3 125.8,170.0 125.9,171.5 126.0,172.8 126.1,170.2 126.2,169.6 126.4,164.8 126.5,163.3 126.6,161.8 126.7,160.8 126.8,163.6 126.9,161.5 127.0,162.6 127.1,157.1 127.2,154.6 127.3,151.5 127.4,153.0 127.5,155.3 127.6,154.2 127.7,153.6 127.8,150.9 127.9,150.1 128.0,146.8 128.1,146.9 128.2,146.2 128.3,144.3 128.4,142.8 128.5,140.5 128.6,137.7 128.7,136.7 128.8,139.0 128.9,135.6 129.1,138.1 129.2,133.0 129.3,135.3 129.4,133.5 129.5,134.0 129.6,133.6 129.7,132.0 129.8,130.4 129.9,128.4 130.0,130.6 130.1,130.6 130.2,129.0 130.3,131.8 130.4,131.2 130.5,128.2 130.6,124.5 130.7,122.3 130.8,128.3 130.9,127.5 131.0,126.4 131.1,126.1 131.2,124.9 131.3,122.8 131.4,118.9 131.5,122.7 131.6,119.6 131.8,123.0 131.9,124.5 132.0,121.9 132.1,118.9 132.2,116.9 132.3,113.9 132.4,115.2 132.5,116.4 132.6,114.5 132.7,113.3 132.8,115.3 132.9,110.2 133.0,111.3 133.1,113.1 133.2,115.0 133.3,112.7 133.4,113.1 133.5,112.9 133.6,112.2 133.7,118.6 133.8,115.2 133.9,114.8 134.0,119.3 134.1,121.2 134.2,121.5 134.3,123.5 134.4,118.8 134.6,119.8 134.7,118.2 134.8,114.1 134.9,119.6 135.0,112.1 135.1,112.9 135.2,112.6 135.3,113.4 135.4,116.5 135.5,116.8 135.6,114.6 135.7,115.9 135.8,115.9 135.9,116.7 136.0,118.9 136.1,110.6 136.2,115.5 136.3,113.6 136.4,118.4 136.5,118.1 136.6,124.0 136.7,121.4 136.8,123.8 136.9,130.7 137.0,127.7 137.1,123.3 137.3,124.1 137.4,120.0 137.5,119.6 137.6,122.9 137.7,124.7 137.8,123.6 137.9,121.1 138.0,124.7 138.1,123.8 138.2,127.5 138.3,123.2 138.4,124.2 138.5,126.2 138.6,124.0 138.7,126.7 138.8,125.8 138.9,126.5 139.0,127.4 139.1,128.4 139.2,129.3 139.3,129.4 139.4,128.1 139.5,131.5 139.6,135.1 139.7,138.8 139.8,142.3 139.9,140.3 140.1,143.1 140.2,142.4 140.3,143.7 140.4,141.9 140.5,146.1 140.6,147.7 140.7,148.6 140.8,147.1 140.9,149.1 141.0,149.9 141.1,149.5 141.2,152.6 141.3,154.0 141.4,155.6 141.5,155.4 141.6,154.2 141.7,153.4 141.8,155.3 141.9,159.7 142.0,162.3 142.1,163.8 142.2,159.2 142.3,160.8 142.4,161.5 142.5,161.6 142.6,165.6 142.8,172.9 142.9,174.7 143.0,174.5 143.1,169.5 143.2,170.5 143.3,169.7 143.4,173.8 143.5,179.7 143.6,183.4 143.7,182.8 143.8,181.3 143.9,180.8 144.0,182.5 144.1,186.0 144.2,189.3 144.3,190.5 144.4,191.5 144.5,191.0 144.6,187.8 144.7,190.1 144.8,193.5 144.9,198.0 145.0,200.3 145.1,200.4 145.2,199.4 145.3,197.9 145.4,199.2 145.6,204.0 145.7,209.3 145.8,211.5 145.9,211.1 146.0,208.6 146.1,206.6 146.2,208.5 146.3,213.6 146.4,217.6 146.5,219.7 146.6,219.1 146.7,218.3 146.8,216.5 146.9,217.6 147.0,221.3 147.1,224.2 147.2,225.3 147.3,223.3 147.4,220.2 147.5,217.0 147.6,216.9 147.7,219.9 147.8,224.7 147.9,226.4 148.0,222.5 148.1,218.8 148.3,217.2 148.4,216.6 148.5,220.3 148.6,224.7 148.7,225.3 148.8,224.6 148.9,220.8 149.0,217.7 149.1,218.8 149.2,221.5 149.3,226.4 149.4,227.1 149.5,225.0 149.6,220.8 149.7,219.2 149.8,218.9 149.9,221.5 150.0,225.6 150.1,225.8 150.2,224.8 150.3,221.1 150.4,218.8 150.5,218.6 150.6,221.7 150.7,225.7 150.8,227.1 151.0,223.5 151.1,221.2 151.2,218.5 151.3,218.7 151.4,221.7 151.5,226.4 151.6,225.7 151.7,224.6 151.8,222.0 151.9,218.7 152.0,219.5 152.1,223.1 152.2,226.2 152.3,228.3 152.4,225.7 152.5,223.1 152.6,220.5 152.7,220.3 152.8,223.9 152.9,227.5 153.0,228.1 153.1,226.1 153.2,223.2 153.3,219.8 153.4,220.2 153.5,223.0 153.6,226.9 153.8,228.1 153.9,226.1 154.0,222.0 154.1,220.2 154.2,219.3 154.3,223.8 154.4,226.7 154.5,227.5 154.6,225.9 154.7,221.9 154.8,219.6 154.9,220.1 155.0,223.2 155.1,225.8 155.2,228.0 155.3,224.8 155.4,221.9 155.5,218.9 155.6,219.6 155.7,222.7 155.8,225.7 155.9,227.5 156.0,226.2 156.1,222.8 156.2,220.4 156.3,221.0 156.5,224.2 156.6,227.3 156.7,228.2 156.8,227.4 156.9,221.2 157.0,219.3 157.1,219.6 157.2,222.6 157.3,225.0 157.4,226.9 157.5,225.2 157.6,221.8 157.7,219.2 157.8,218.5 157.9,222.7 158.0,225.0 158.1,226.1 158.2,225.2 158.3,220.9 158.4,218.8 158.5,218.3 158.6,220.4 158.7,223.1 158.8,225.4 158.9,223.1 159.0,219.5 159.1,217.6 159.3,218.0 159.4,221.3 159.5,224.6 159.6,225.8 159.7,224.7 159.8,219.9 159.9,216.4 160.0,217.7 160.1,219.3 160.2,221.5 160.3,220.8 160.4,216.8 160.5,212.3 160.6,209.1 160.7,205.4 160.8,206.7 160.9,207.9 161.0,206.3 161.1,202.4 161.2,197.5 161.3,194.2 161.4,191.4 161.5,194.2 161.6,196.3 161.7,194.9 161.8,191.8 162.0,187.6 162.1,181.2 162.2,181.3 162.3,182.1 162.4,179.2 162.5,178.7 162.6,174.0 162.7,171.9 162.8,169.4 162.9,167.7 163.0,167.8 163.1,167.0 163.2,167.5 163.3,166.2 163.4,162.4 163.5,160.6 163.6,158.1 163.7,160.8 163.8,162.7 163.9,162.3 164.0,163.2 164.1,160.9 164.2,157.1 164.3,153.7 164.4,154.7 164.5,158.3 164.6,155.8 164.8,153.0 164.9,145.7 165.0,146.5 165.1,144.4 165.2,142.5 165.3,143.9 165.4,142.4 165.5,141.5 165.6,141.3 165.7,137.7 165.8,138.9 165.9,140.1 166.0,134.4 166.1,137.9 166.2,135.9 166.3,132.4 166.4,132.6 166.5,129.3 166.6,127.0 166.7,129.9 166.8,131.7 166.9,130.9 167.0,134.8 167.1,132.8 167.2,132.4 167.3,137.3 167.5,133.6 167.6,129.6 167.7,127.0 167.8,125.2 167.9,120.0 168.0,125.0 168.1,127.3 168.2,129.3 168.3,129.1 168.4,126.1 168.5,118.5 168.6,124.0 168.7,116.1 168.8,113.7 168.9,117.0 169.0,118.4 169.1,113.5 169.2,113.3 169.3,114.6 169.4,114.5 169.5,117.3 169.6,117.6 169.7,120.7 169.8,120.8 169.9,120.8 170.0,119.4 170.2,116.8 170.3,121.5 170.4,119.9 170.5,123.9 170.6,126.4 170.7,122.8 170.8,120.9 170.9,122.8 171.0,129.3 171.1,129.1 171.2,126.7 171.3,121.3 171.4,124.3 171.5,128.1 171.6,129.2 171.7,130.6 171.8,129.5 171.9,131.5 172.0,125.4 172.1,119.4 172.2,116.9 172.3,119.4 172.4,121.0 172.5,120.3 172.6,125.7 172.7,125.4 172.8,120.4 173.0,121.0 173.1,120.5 173.2,117.7 173.3,120.4 173.4,115.5 173.5,111.8 173.6,118.4 173.7,115.9 173.8,115.8 173.9,120.5 174.0,123.1 174.1,118.3 174.2,115.2 174.3,116.2 174.4,113.1 174.5,112.4 174.6,115.4 174.7,114.3 174.8,120.4 174.9,116.2 175.0,113.0 175.1,118.8 175.2,117.3 175.3,119.8 175.4,118.4 175.5,125.3 175.7,122.6 175.8,123.0 175.9,122.7 176.0,129.7 176.1,121.1 176.2,124.0 176.3,125.2 176.4,121.3 176.5,119.8 176.6,118.7 176.7,123.7 176.8,125.5 176.9,126.1 177.0,126.5 177.1,126.1 177.2,128.5 177.3,129.0 177.4,135.3 177.5,131.9 177.6,133.3 177.7,129.8 177.8,133.3 177.9,136.9 178.0,138.7 178.1,137.6 178.2,137.7 178.3,138.1 178.5,138.3 178.6,140.0 178.7,139.9 178.8,138.8 178.9,137.7 179.0,141.6 179.1,137.2 179.2,140.7 179.3,139.1 179.4,141.5 179.5,140.0 179.6,138.8 179.7,143.2 179.8,145.3 179.9,144.8 180.0,143.7 180.1,147.4 180.2,152.5 180.3,149.0 180.4,150.1 180.5,151.8 180.6,156.0 180.7,158.1 180.8,155.5 180.9,160.3 181.0,160.1 181.2,160.1 181.3,163.3 181.4,162.3 181.5,164.6 181.6,159.5 181.7,160.6 181.8,163.5 181.9,166.6 182.0,167.3 182.1,171.7 182.2,171.2 182.3,169.7 182.4,172.8 182.5,172.1 182.6,175.5 182.7,175.9 182.8,180.0 182.9,183.1 183.0,184.2 183.1,182.4 183.2,183.5 183.3,186.3 183.4,191.4 183.5,194.9 183.6,195.4 183.7,194.1 183.8,193.6 184.0,196.2 184.1,199.7 184.2,203.9 184.3,207.6 184.4,208.1 184.5,205.2 184.6,205.7 184.7,208.2 184.8,212.3 184.9,218.0 185.0,220.3 185.1,221.0 185.2,218.0 185.3,215.0 185.4,215.3 185.5,218.5 185.6,222.9 185.7,223.4 185.8,221.8 185.9,218.8 186.0,215.8 186.1,215.4 186.2,219.0 186.3,221.8 186.4,222.2 186.5,221.0 186.7,215.9 186.8,214.7 186.9,215.3 187.0,218.6 187.1,222.6 187.2,223.9 187.3,221.6 187.4,218.0 187.5,215.9 187.6,216.1 187.7,219.2 187.8,220.6 187.9,223.0 188.0,220.8 188.1,218.6 188.2,215.8 188.3,215.6 188.4,220.3 188.5,223.8 188.6,224.8 188.7,223.3 188.8,219.7 188.9,216.0 189.0,215.9 189.1,218.9 189.2,222.9 189.3,224.4 189.5,222.6 189.6,219.5 189.7,217.5 189.8,217.5 189.9,219.4 190.0,223.4 190.1,225.3 190.2,223.6 190.3,219.4 190.4,217.0 190.5,217.9 190.6,221.0 190.7,224.3 190.8,224.1 190.9,223.7 191.0,220.1 191.1,217.3 191.2,216.8 191.3,220.2 191.4,224.2 191.5,225.6 191.6,222.7 191.7,218.3 191.8,216.3 191.9,216.8 192.0,220.2 192.2,224.0 192.3,225.2 192.4,222.6 192.5,218.9 192.6,217.9 192.7,217.4 192.8,220.5 192.9,223.3 193.0,224.6 193.1,221.4 193.2,217.3 193.3,214.3 193.4,215.0 193.5,218.5 193.6,222.3 193.7,223.3 193.8,221.7 193.9,217.6 194.0,215.5 194.1,216.4 194.2,219.1 194.3,222.4 194.4,224.2 194.5,221.5 194.6,219.1 194.7,216.0 194.9,216.3 195.0,220.0 195.1,224.1 195.2,224.1 195.3,222.2 195.4,218.4 195.5,216.0 195.6,215.5 195.7,218.5 195.8,221.9 195.9,224.1 196.0,222.5 196.1,218.2 196.2,216.3 196.3,215.6 196.4,218.3 196.5,222.9 196.6,223.3 196.7,221.2 196.8,218.6 196.9,216.3 197.0,216.4 197.1,217.9 197.2,222.5 197.3,222.5 197.4,220.2 197.5,216.2 197.7,213.5 197.8,213.1 197.9,215.5 198.0,219.2 198.1,220.7 198.2,217.5 198.3,212.3 198.4,209.6 198.5,209.1 198.6,210.0 198.7,212.6 198.8,210.7 198.9,207.1 199.0,203.0 199.1,199.0 199.2,197.7 199.3,198.2 199.4,199.8 199.5,200.0 199.6,198.6 199.7,194.1 199.8,190.8 199.9,188.3 200.0,190.0 200.1,191.8 200.2,191.1 200.4,187.8 200.5,181.1 200.6,178.1 200.7,178.7 200.8,179.6 200.9,182.2 201.0,183.4 201.1,179.5 201.2,175.8 201.3,173.3 201.4,169.1 201.5,172.5 201.6,173.8 201.7,172.0 201.8,167.4 201.9,162.2 202.0,161.0 202.1,157.6 202.2,159.2 202.3,160.8 202.4,157.0 202.5,157.0 202.6,153.2 202.7,152.1 202.8,152.2 202.9,154.1 203.0,155.5 203.2,152.0 203.3,150.6 203.4,149.4 203.5,145.8 203.6,139.4 203.7,138.7 203.8,139.3 203.9,139.2 204.0,138.6 204.1,131.3 204.2,131.2 204.3,134.2 204.4,134.2 204.5,133.6 204.6,136.4 204.7,134.7 204.8,133.7 204.9,130.1 205.0,129.2 205.1,124.7 205.2,125.7 205.3,124.8 205.4,125.4 205.5,124.9 205.6,118.0 205.7,116.3 205.9,117.5 206.0,121.5 206.1,117.3 206.2,112.0 206.3,112.7 206.4,112.6 206.5,114.7 206.6,115.7 206.7,118.9 206.8,120.7 206.9,115.9 207.0,115.7 207.1,121.4 207.2,124.0 207.3,120.4 207.4,116.3 207.5,122.2 207.6,118.1 207.7,114.7 207.8,109.5 207.9,115.2 208.0,112.7 208.1,115.9 208.2,117.1 208.3,121.0 208.4,115.8 208.5,118.0 208.7,111.4 208.8,109.1 208.9,111.6 209.0,108.9 209.1,106.8 209.2,109.6 209.3,109.3 209.4,106.4 209.5,109.6 209.6,112.7 209.7,108.7 209.8,113.6 209.9,110.2 210.0,107.3 210.1,109.2 210.2,108.6 210.3,109.9 210.4,117.3 210.5,115.7 210.6,111.9 210.7,116.5 210.8,116.6 210.9,115.2 211.0,113.4 211.1,108.2 211.2,107.2 211.4,112.2 211.5,107.7 211.6,113.2 211.7,108.8 211.8,110.7 211.9,111.9 212.0,107.9 212.1,108.0 212.2,111.8 212.3,111.4 212.4,117.7 212.5,115.6 212.6,117.0 212.7,119.8 212.8,115.6 212.9,114.3 213.0,111.6 213.1,117.9 213.2,125.2 213.3,114.2 213.4,115.6 213.5,116.5 213.6,113.0 213.7,119.9 213.8,120.5 213.9,122.2 214.1,125.6 214.2,124.1 214.3,124.3 214.4,125.4 214.5,122.9 214.6,124.1 214.7,132.1 214.8,126.5 214.9,126.4 215.0,122.6 215.1,119.8 215.2,119.6 215.3,132.1 215.4,134.3 215.5,129.3 215.6,129.0 215.7,125.6 215.8,127.4 215.9,126.6 216.0,135.2 216.1,139.1 216.2,139.0 216.3,137.7 216.4,137.8 216.5,134.1 216.6,134.7 216.7,142.1 216.9,140.9 217.0,140.1 217.1,141.9 217.2,138.2 217.3,138.8 217.4,142.7 217.5,144.8 217.6,147.5 217.7,149.1 217.8,151.3 217.9,151.3 218.0,148.0 218.1,153.7 218.2,153.0 218.3,154.1 218.4,156.6 218.5,153.2 218.6,151.5 218.7,155.0 218.8,157.4 218.9,159.1 219.0,163.0 219.1,167.4 219.2,169.2 219.3,169.1 219.4,167.3 219.6,170.8 219.7,172.3 219.8,178.1 219.9,179.0 220.0,178.7 220.1,178.0 220.2,176.0 220.3,176.7 220.4,182.3 220.5,187.1 220.6,186.3 220.7,187.3 220.8,185.9 220.9,185.8 221.0,188.3 221.1,193.0 221.2,197.0 221.3,199.0 221.4,197.0 221.5,196.8 221.6,195.6 221.7,197.6 221.8,201.7 221.9,207.2 222.0,209.4 222.1,209.1 222.2,207.5 222.4,206.9 222.5,209.2 222.6,213.8 222.7,219.3 222.8,221.7 222.9,219.8 223.0,214.8 223.1,212.6 223.2,212.3 223.3,215.8 223.4,219.0 223.5,221.2 223.6,219.0 223.7,216.5 223.8,212.6 223.9,211.7 224.0,215.3 224.1,217.9 224.2,220.4 224.3,218.4 224.4,215.8 224.5,212.7 224.6,212.4 224.7,217.5 224.8,220.7 224.9,222.9 225.1,218.8 225.2,216.8 225.3,214.0 225.4,214.7 225.5,217.4 225.6,221.1 225.7,221.7 225.8,219.7 225.9,216.8 226.0,213.4 226.1,213.8 226.2,216.8 226.3,220.3 226.4,222.4 226.5,220.2 226.6,217.4 226.7,214.5 226.8,215.0 226.9,217.2 227.0,220.7 227.1,221.8 227.2,220.7 227.3,217.0 227.4,214.5 227.5,213.4 227.6,217.2 227.7,222.1 227.9,222.5 228.0,221.3 228.1,216.6 228.2,214.7 228.3,214.4 228.4,217.6 228.5,221.7 228.6,222.8 228.7,220.3 228.8,216.8 228.9,215.8 229.0,215.7 229.1,217.8 229.2,221.9 229.3,222.9 229.4,221.2 229.5,216.4 229.6,213.4 229.7,214.2 229.8,217.4 229.9,220.7 230.0,222.8 230.1,221.6 230.2,218.0 230.3,215.5 230.4,215.3 230.6,217.5 230.7,221.8 230.8,223.5 230.9,221.6 231.0,216.8 231.1,214.8 231.2,214.8 231.3,217.4 231.4,220.8 231.5,221.3 231.6,220.7 231.7,216.7 231.8,213.0 231.9,213.5 232.0,216.8 232.1,220.9 232.2,222.1 232.3,220.6 232.4,217.1 232.5,213.8 232.6,214.4 232.7,218.3 232.8,221.0 232.9,222.0 233.0,219.2 233.1,216.0 233.3,212.8 233.4,214.2 233.5,216.8 233.6,219.3 233.7,220.1 233.8,218.2 233.9,215.0 234.0,212.3 234.1,212.8 234.2,216.6 234.3,219.2 234.4,220.6 234.5,219.1 234.6,215.1 234.7,213.4 234.8,212.9 234.9,217.0 235.0,220.4 235.1,222.0 235.2,220.8 235.3,217.6 235.4,214.1 235.5,214.2 235.6,217.5 235.7,219.5 235.8,221.3 235.9,220.1 236.1,215.2 236.2,212.5 236.3,210.0 236.4,213.3 236.5,212.4 236.6,212.6 236.7,209.1 236.8,202.9 236.9,200.0 237.0,197.4 237.1,198.6 237.2,200.4 237.3,201.4 237.4,198.0 237.5,192.3 237.6,188.2 237.7,187.4 237.8,188.6 237.9,190.9 238.0,189.1 238.1,187.2 238.2,183.7 238.3,181.9 238.4,178.0 238.5,180.7 238.6,180.3 238.8,180.3 238.9,175.5 239.0,172.9 239.1,171.3 239.2,169.8 239.3,167.2 239.4,167.5 239.5,167.2 239.6,166.3 239.7,162.8 239.8,161.7 239.9,158.8 240.0,160.9 240.1,157.9 240.2,161.1 240.3,153.7 240.4,153.0 240.5,150.4 240.6,149.8 240.7,146.3 240.8,145.5 240.9,151.5 241.0,148.0 241.1,146.3 241.2,144.8 241.3,144.7 241.4,142.2 241.6,139.9 241.7,141.7 241.8,140.8 241.9,135.7 242.0,133.1 242.1,134.6 242.2,130.8 242.3,130.3 242.4,133.6 242.5,131.2 242.6,126.1 242.7,124.4 242.8,125.8 242.9,121.2 243.0,121.4 243.1,119.8 243.2,116.7 243.3,116.6 243.4,113.3 243.5,112.1 243.6,113.8 243.7,112.5 243.8,117.1 243.9,120.2 244.0,112.4 244.1,112.8 244.3,112.2 244.4,113.5 244.5,112.1 244.6,115.7 244.7,110.2 244.8,110.1 244.9,110.2 245.0,109.6 245.1,107.8 245.2,113.7 245.3,115.0 245.4,108.9 245.5,111.8 245.6,112.0 245.7,108.0 245.8,109.9 245.9,110.5 246.0,109.7 246.1,112.1 246.2,103.6 246.3,110.0 246.4,104.9 246.5,109.4 246.6,111.3 246.7,106.1 246.8,103.9 246.9,101.5 247.1,103.9 247.2,99.6 247.3,99.1 247.4,103.7 247.5,99.1 247.6,106.0 247.7,101.0 247.8,103.0 247.9,101.9 248.0,97.3 248.1,106.3 248.2,110.1 248.3,106.9 248.4,103.6 248.5,104.4 248.6,108.2 248.7,110.8 248.8,112.5 248.9,108.7 249.0,109.5 249.1,110.6 249.2,113.7 249.3,111.9 249.4,114.3 249.5,113.0 249.6,113.4 249.8,112.4 249.9,110.2 250.0,110.1 250.1,106.2 250.2,108.3 250.3,104.8 250.4,106.8 250.5,104.8 250.6,109.0 250.7,102.3 250.8,110.0 250.9,115.4 251.0,117.3 251.1,116.6 251.2,115.6 251.3,112.1 251.4,111.1 251.5,113.5 251.6,119.5 251.7,111.7 251.8,114.0 251.9,116.0 252.0,115.0 252.1,112.4 252.2,108.0 252.3,111.1 252.4,110.5 252.6,111.3 252.7,113.1 252.8,105.7 252.9,109.7 253.0,110.8 253.1,112.3 253.2,113.1 253.3,123.7 253.4,120.3 253.5,122.5 253.6,120.9 253.7,121.7 253.8,125.2 253.9,125.2 254.0,129.4 254.1,126.7 254.2,130.4 254.3,127.3 254.4,122.9 254.5,126.9 254.6,130.4 254.7,131.9 254.8,134.2 254.9,133.6 255.0,134.9 255.1,136.0 255.3,137.5 255.4,145.2 255.5,146.2 255.6,143.2 255.7,145.8 255.8,144.8 255.9,145.2 256.0,147.7 256.1,148.1 256.2,153.1 256.3,153.1 256.4,151.0 256.5,155.5 256.6,154.7 256.7,156.4 256.8,159.0 256.9,162.3 257.0,163.4 257.1,162.3 257.2,159.9 257.3,163.4 257.4,164.3 257.5,169.7 257.6,173.9 257.7,173.0 257.8,172.4 258.0,171.7 258.1,175.6 258.2,179.5 258.3,181.0 258.4,181.9 258.5,182.5 258.6,181.6 258.7,181.4 258.8,182.7 258.9,188.2 259.0,190.8 259.1,192.5 259.2,191.9 259.3,190.6 259.4,189.9 259.5,190.5 259.6,196.7 259.7,200.4 259.8,203.3 259.9,204.7 260.0,202.2 260.1,200.7 260.2,201.9 260.3,206.8 260.4,212.2 260.5,215.5 260.6,215.1 260.8,213.0 260.9,211.0 261.0,212.6 261.1,214.7 261.2,217.7 261.3,218.4 261.4,217.6 261.5,214.4 261.6,210.4 261.7,210.4 261.8,215.1 261.9,218.4 262.0,219.3 262.1,218.3 262.2,214.7 262.3,212.4 262.4,212.1 262.5,215.0 262.6,219.0 262.7,220.8 262.8,219.9 262.9,215.8 263.0,213.1 263.1,212.2 263.2,215.4 263.3,219.2 263.5,222.0 263.6,220.9 263.7,217.6 263.8,214.8 263.9,214.0 264.0,217.1 264.1,220.1 264.2,221.9 264.3,218.5 264.4,215.6 264.5,212.7 264.6,213.7 264.7,216.6 264.8,220.4 264.9,221.5 265.0,219.3 265.1,215.2 265.2,212.3 265.3,212.3 265.4,215.1 265.5,219.9 265.6,221.0 265.7,219.6 265.8,216.7 265.9,214.5 266.0,213.5 266.1,217.4 266.3,221.4 266.4,222.4 266.5,219.6 266.6,217.0 266.7,214.6 266.8,214.1 266.9,217.9 267.0,220.8 267.1,223.0 267.2,221.2 267.3,217.1 267.4,213.8 267.5,214.6 267.6,217.5 267.7,219.7 267.8,221.9 267.9,219.6 268.0,215.7 268.1,213.4 268.2,212.8 268.3,216.8 268.4,219.7 268.5,221.8 268.6,219.1 268.7,215.0 268.8,213.0 269.0,213.1 269.1,215.0 269.2,218.1 269.3,219.6 269.4,217.7 269.5,214.7 269.6,211.9 269.7,211.8 269.8,214.6 269.9,218.2 270.0,220.1 270.1,218.2 270.2,215.3 270.3,212.5 270.4,212.7 270.5,216.0 270.6,219.8 270.7,220.7 270.8,219.1 270.9,214.8 271.0,210.6 271.1,210.9 271.2,215.3 271.3,217.6 271.4,218.7 271.5,216.4 271.6,214.2 271.8,211.2 271.9,211.8 272.0,213.6 272.1,217.8 272.2,218.9 272.3,217.0 272.4,213.0 272.5,210.4 272.6,210.9 272.7,213.2 272.8,217.7 272.9,218.0 273.0,215.9 273.1,212.6 273.2,210.7 273.3,211.1 273.4,213.6 273.5,215.5 273.6,215.9 273.7,213.6 273.8,208.4 273.9,202.8 274.0,201.9 274.1,202.8 274.2,202.8 274.3,204.2 274.5,200.5 274.6,198.6 274.7,195.4 274.8,192.1 274.9,195.3 275.0,199.0 275.1,198.5 275.2,194.7 275.3,188.8 275.4,182.5 275.5,181.1 275.6,183.4 275.7,186.6 275.8,185.6 275.9,181.8 276.0,180.1 276.1,177.9 276.2,174.2 276.3,176.7 276.4,177.2 276.5,175.5 276.6,171.0 276.7,167.7 276.8,164.4 276.9,160.3 277.0,161.1 277.2,163.3 277.3,164.7 277.4,158.9 277.5,158.1 277.6,152.2 277.7,151.8 277.8,152.5 277.9,152.7 278.0,152.4 278.1,150.3 278.2,150.4 278.3,143.9 278.4,140.4 278.5,144.3 278.6,145.5 278.7,147.5 278.8,141.2 278.9,134.6 279.0,132.2 279.1,132.3 279.2,132.0 279.3,137.5 279.4,136.9 279.5,130.3 279.6,130.1 279.7,130.4 279.8,130.4 280.0,133.1 280.1,135.6 280.2,129.7 280.3,129.1 280.4,127.6 280.5,123.3 280.6,124.6 280.7,122.7 280.8,123.1 280.9,124.7 281.0,131.3 281.1,123.5 281.2,126.1 281.3,120.0 281.4,120.1 281.5,120.6 281.6,122.9 281.7,121.0 281.8,118.1 281.9,116.6 282.0,118.2 282.1,112.9 282.2,115.8 282.3,113.1 282.4,117.3 282.5,112.6 282.7,111.4 282.8,106.5 282.9,104.7 283.0,99.8 283.1,109.3 283.2,101.3 283.3,107.9 283.4,106.3 283.5,101.6 283.6,103.5 283.7,105.9 283.8,109.0 283.9,106.0 284.0,101.7 284.1,106.8 284.2,111.8 284.3,109.8 284.4,107.2 284.5,105.1 284.6,99.5 284.7,98.0 284.8,97.8 284.9,96.8 285.0,99.9 285.1,100.9 285.2,101.7 285.3,101.8 285.5,101.1 285.6,103.5 285.7,103.7 285.8,103.6 285.9,105.5 286.0,109.4 286.1,99.9 286.2,99.1 286.3,100.4 286.4,96.4 286.5,106.5 286.6,111.5 286.7,115.3 286.8,111.6 286.9,108.2 287.0,105.8 287.1,104.5 287.2,107.0 287.3,99.7 287.4,104.3 287.5,104.0 287.6,108.3 287.7,107.2 287.8,106.1 287.9,106.6 288.0,110.6 288.2,106.6 288.3,109.4 288.4,105.1 288.5,106.5 288.6,113.4 288.7,108.8 288.8,112.7 288.9,111.4 289.0,116.0 289.1,110.7 289.2,113.4 289.3,119.0 289.4,117.8 289.5,119.4 289.6,118.0 289.7,116.5 289.8,117.1 289.9,110.1 290.0,116.2 290.1,118.9 290.2,122.3 290.3,117.9 290.4,117.0 290.5,122.4 290.6,119.1 290.7,123.2 290.8,123.2 291.0,123.0 291.1,124.9 291.2,129.2 291.3,127.8 291.4,127.4 291.5,128.4 291.6,131.0 291.7,133.7 291.8,137.9 291.9,139.5 292.0,132.4 292.1,131.4 292.2,132.3 292.3,136.2 292.4,138.4 292.5,139.9 292.6,144.1 292.7,142.9 292.8,141.7 292.9,144.3 293.0,148.4 293.1,148.3 293.2,146.9 293.3,148.0 293.4,148.3 293.5,149.1 293.7,148.3 293.8,150.1 293.9,154.3 294.0,155.2 294.1,157.5 294.2,156.1 294.3,158.8 294.4,160.9 294.5,160.4 294.6,166.0 294.7,167.7 294.8,166.7 294.9,165.2 295.0,165.9 295.1,165.9 295.2,167.7 295.3,172.0 295.4,170.5 295.5,170.5 295.6,170.2 295.7,166.8 295.8,169.8 295.9,175.4 296.0,179.2 296.1,182.8 296.2,181.5 296.4,180.4 296.5,179.4 296.6,180.5 296.7,186.0 296.8,191.7 296.9,192.8 297.0,191.8 297.1,191.1 297.2,192.3 297.3,192.4 297.4,197.8 297.5,202.0 297.6,205.6 297.7,204.4 297.8,203.5 297.9,202.0 298.0,203.8 298.1,208.6 298.2,212.3 298.3,214.9 298.4,214.1 298.5,212.6 298.6,209.5 298.7,209.5 298.8,212.6 298.9,215.7 299.0,217.5 299.2,216.2 299.3,212.3 299.4,208.9 299.5,209.0 299.6,212.5 299.7,214.6 299.8,216.7 299.9,215.7 300.0,211.5 300.1,210.0 300.2,210.2 300.3,212.9 300.4,217.1 300.5,218.2 300.6,216.8 300.7,212.1 300.8,210.4 300.9,209.8 301.0,213.4 301.1,216.1 301.2,218.6 301.3,216.5 301.4,214.0 301.5,211.4 301.6,210.6 301.7,212.8 301.9,217.5 302.0,218.0 302.1,216.5 302.2,214.1 302.3,210.3 302.4,210.3 302.5,213.6 302.6,218.4 302.7,220.8 302.8,218.5 302.9,214.1 303.0,211.6 303.1,211.4 303.2,215.3 303.3,218.3 303.4,219.6 303.5,218.0 303.6,213.8 303.7,212.6 303.8,212.4 303.9,215.3 304.0,219.1 304.1,220.1 304.2,217.9 304.3,214.8 304.4,212.6 304.5,211.9 304.7,215.1 304.8,218.8 304.9,219.6 305.0,217.9 305.1,214.5 305.2,211.5 305.3,212.1 305.4,215.3 305.5,218.7 305.6,219.3 305.7,218.0 305.8,214.6 305.9,212.5 306.0,213.0 306.1,216.9 306.2,220.5 306.3,221.4 306.4,218.0 306.5,214.8 306.6,211.8 306.7,213.0 306.8,214.3 306.9,217.9 307.0,219.7 307.1,217.6 307.2,213.9 307.4,211.2 307.5,210.8 307.6,215.3 307.7,217.9 307.8,219.7 307.9,217.4 308.0,214.0 308.1,210.7 308.2,210.9 308.3,214.0 308.4,217.0 308.5,218.0 308.6,216.6 308.7,214.4 308.8,212.3 308.9,212.1 309.0,215.4 309.1,219.4 309.2,219.0 309.3,216.4 309.4,211.9 309.5,209.0 309.6,209.4 309.7,213.7 309.8,216.7 309.9,218.9 310.0,216.0 310.2,212.7 310.3,209.8 310.4,210.1 310.5,213.3 310.6,216.6 310.7,216.4 310.8,214.5 310.9,210.3 311.0,208.0 311.1,209.2 311.2,210.3 311.3,215.1 311.4,216.1 311.5,212.8 311.6,207.2 311.7,202.4 311.8,201.3 311.9,203.6 312.0,204.6 312.1,203.2 312.2,200.9 312.3,195.2 312.4,189.9 312.5,189.7 312.6,188.0 312.7,191.2 312.9,192.4 313.0,189.2 313.1,186.2 313.2,180.9 313.3,180.7 313.4,180.3 313.5,182.9 313.6,181.8 313.7,178.2 313.8,177.9 313.9,169.1 314.0,166.9 314.1,167.5 314.2,168.5 314.3,164.7 314.4,160.7 314.5,157.3 314.6,155.8 314.7,151.8 314.8,155.9 314.9,157.9 315.0,154.8 315.1,156.0 315.2,152.3 315.3,153.0 315.4,150.5 315.6,148.5 315.7,153.5 315.8,155.9 315.9,151.2 316.0,144.8 316.1,142.4 316.2,138.5 316.3,141.6 316.4,141.8 316.5,140.2 316.6,141.6 316.7,136.0 316.8,135.6 316.9,134.5 317.0,136.9 317.1,131.0 317.2,136.8 317.3,136.7 317.4,128.5 317.5,129.0 317.6,127.7 317.7,129.3 317.8,125.1 317.9,121.8 318.0,118.8 318.1,114.9 318.2,120.3 318.4,122.8 318.5,123.7 318.6,125.1 318.7,124.7 318.8,119.3 318.9,122.0 319.0,123.5 319.1,127.7 319.2,126.9 319.3,131.3 319.4,123.2 319.5,116.5 319.6,119.6 319.7,117.8 319.8,111.2 319.9,107.2 320.0,110.8 320.1,121.3 320.2,124.1 320.3,117.3 320.4,115.4 320.5,107.5 320.6,109.8 320.7,111.1 320.8,115.1 320.9,116.3 321.1,116.0 321.2,115.1 321.3,115.2 321.4,109.9 321.5,112.3 321.6,108.2 321.7,111.2 321.8,109.1 321.9,110.1 322.0,106.6 322.1,108.2 322.2,105.3 322.3,108.3 322.4,107.0 322.5,104.3 322.6,105.2 322.7,110.4 322.8,104.7 322.9,103.0 323.0,110.6 323.1,108.4 323.2,108.0 323.3,104.2 323.4,97.9 323.5,103.3 323.6,105.9 323.7,99.1 323.9,94.4 324.0,99.2 324.1,99.9 324.2,103.0 324.3,98.3 324.4,99.3 324.5,108.5 324.6,103.7 324.7,100.9 324.8,106.4 324.9,101.6 325.0,104.5 325.1,105.5 325.2,107.2 325.3,104.7 325.4,110.9 325.5,108.2 325.6,112.7 325.7,112.6 325.8,118.2 325.9,121.2 326.0,113.5 326.1,112.1 326.2,105.6 326.3,108.8 326.4,104.5 326.6,100.9 326.7,106.7 326.8,109.9 326.9,112.4 327.0,109.9 327.1,108.8 327.2,117.6 327.3,116.1 327.4,116.5 327.5,122.6 327.6,115.6 327.7,114.7 327.8,108.8 327.9,108.1 328.0,112.7 328.1,112.2 328.2,107.8 328.3,109.2 328.4,114.9 328.5,119.1 328.6,118.4 328.7,120.1 328.8,115.7 328.9,112.4 329.0,113.3 329.1,109.6 329.2,114.5 329.4,117.6 329.5,123.9 329.6,129.1 329.7,132.9 329.8,131.0 329.9,130.4 330.0,129.3 330.1,130.7 330.2,135.0 330.3,134.0 330.4,130.8 330.5,130.2 330.6,128.0 330.7,124.7 330.8,131.6 330.9,128.2 331.0,135.0 331.1,135.5 331.2,136.7 331.3,137.6 331.4,139.9 331.5,139.3 331.6,141.8 331.7,144.6 331.8,141.8 331.9,139.7 332.1,135.3 332.2,135.7 332.3,138.4 332.4,142.1 332.5,148.3 332.6,148.3 332.7,145.5 332.8,145.2 332.9,151.5 333.0,149.2 333.1,156.1 333.2,157.8 333.3,157.7 333.4,157.0 333.5,158.1 333.6,166.0 333.7,169.3 333.8,173.7 333.9,174.9 334.0,175.0 334.1,171.2 334.2,170.1 334.3,168.1 334.4,172.2 334.5,175.9 334.6,180.8 334.7,179.5 334.9,179.2 335.0,176.8 335.1,179.5 335.2,184.3 335.3,189.3 335.4,190.8 335.5,191.3 335.6,191.7 335.7,190.6 335.8,190.7 335.9,196.7 336.0,200.9 336.1,203.8 336.2,204.5 336.3,203.0 336.4,201.6 336.5,204.2 336.6,209.6 336.7,215.3 336.8,216.8 336.9,216.3 337.0,213.7 337.1,211.1 337.2,210.3 337.3,212.8 337.4,217.4 337.6,218.1 337.7,216.2 337.8,213.1 337.9,209.9 338.0,210.0 338.1,213.5 338.2,217.0 338.3,217.8 338.4,216.0 338.5,213.1 338.6,210.7 338.7,210.7 338.8,212.2 338.9,216.8 339.0,218.8 339.1,216.7 339.2,213.9 339.3,211.0 339.4,211.8 339.5,215.4 339.6,218.4 339.7,220.1 339.8,217.8 339.9,214.2 340.0,211.1 340.1,211.1 340.3,213.9 340.4,216.8 340.5,219.1 340.6,217.6 340.7,214.0 340.8,210.7 340.9,212.5 341.0,216.0 341.1,218.6 341.2,220.1 341.3,218.6 341.4,215.3 341.5,211.8 341.6,213.5 341.7,215.2 341.8,219.5 341.9,221.0 342.0,218.3 342.1,215.1 342.2,211.1 342.3,212.4 342.4,214.4 342.5,218.6 342.6,219.3 342.7,217.7 342.8,214.1 342.9,212.9 343.1,212.7 343.2,215.7 343.3,217.3 343.4,219.6 343.5,218.5 343.6,215.6 343.7,213.6 343.8,213.5 343.9,215.7 344.0,220.0 344.1,220.8 344.2,220.2 344.3,216.1 344.4,213.4 344.5,212.8 344.6,215.4 344.7,219.1 344.8,220.7 344.9,218.8 345.0,213.7 345.1,212.0 345.2,212.5 345.3,214.7 345.4,218.7 345.5,219.1 345.6,217.7 345.8,213.6 345.9,211.8 346.0,211.1 346.1,213.7 346.2,217.6 346.3,217.6 346.4,217.1 346.5,213.2 346.6,211.4 346.7,210.8 346.8,214.1 346.9,218.2 347.0,218.2 347.1,216.8 347.2,214.3 347.3,210.6 347.4,210.1 347.5,214.0 347.6,217.9 347.7,219.9 347.8,217.6 347.9,214.3 348.0,210.4 348.1,210.5 348.2,212.6 348.3,216.6 348.4,216.7 348.6,215.3 348.7,212.4 348.8,209.4 348.9,208.8 349.0,212.3 349.1,214.6 349.2,215.0 349.3,214.7 349.4,211.2 349.5,208.0 349.6,207.3 349.7,208.2 349.8,209.1 349.9,208.8 350.0,205.5 350.1,199.4 350.2,196.3 350.3,194.6 350.4,195.9 350.5,200.8 350.6,201.4 350.7,196.9 350.8,192.0 350.9,188.7 351.0,189.6 351.1,190.6 351.3,193.7 351.4,192.9 351.5,185.5 351.6,184.9 351.7,179.0 351.8,177.4 351.9,176.2 352.0,177.7 352.1,175.9 352.2,173.7 352.3,168.7 352.4,166.4 352.5,162.3 352.6,166.5 352.7,166.6 352.8,167.3 352.9,159.1 353.0,156.8 353.1,153.1 353.2,154.3 353.3,154.4 353.4,154.2 353.5,157.3 353.6,151.9 353.7,144.0 353.8,142.1 353.9,143.1 354.1,142.8 354.2,145.6 354.3,139.0 354.4,138.7 354.5,134.8 354.6,134.9 354.7,135.6 354.8,133.4 354.9,131.7 355.0,134.4 355.1,128.1 355.2,123.3 355.3,124.1 355.4,124.5 355.5,128.1 355.6,125.4 355.7,128.7 355.8,123.6 355.9,123.1 356.0,117.9 356.1,119.2 356.2,117.6 356.3,117.8 356.4,118.6 356.5,116.6 356.6,113.7 356.8,113.1 356.9,110.7 357.0,101.8 357.1,106.4 357.2,106.4 357.3,110.1 357.4,107.3 357.5,110.6 357.6,106.8 357.7,108.9 357.8,109.8 357.9,110.0 358.0,109.7 358.1,110.9 358.2,107.1 358.3,111.3 358.4,104.7 358.5,106.7 358.6,112.8 358.7,104.4 358.8,107.0 358.9,104.6 359.0,108.8 359.1,101.9 359.2,103.0 359.3,103.0 359.5,103.8 359.6,101.6 359.7,100.2 359.8,102.5 359.9,95.6 360.0,100.5 360.1,97.9 360.2,94.0 360.3,90.1 360.4,94.8 360.5,93.0 360.6,95.2 360.7,92.3 360.8,90.4 360.9,95.5 361.0,94.0 361.1,95.5 361.2,89.8 361.3,86.6 361.4,89.7 361.5,91.4 361.6,88.1 361.7,91.5 361.8,96.0 361.9,97.7 362.0,94.4 362.1,97.2 362.3,100.1 362.4,92.7 362.5,92.7 362.6,96.5 362.7,92.6 362.8,88.3 362.9,90.3 363.0,89.8 363.1,91.9 363.2,90.3 363.3,90.5 363.4,93.6 363.5,98.5 363.6,103.2 363.7,103.6 363.8,107.9 363.9,105.9 364.0,100.2 364.1,99.8 364.2,104.9 364.3,105.2 364.4,106.5 364.5,105.8 364.6,103.1 364.7,111.1 364.8,106.4 365.0,92.9 365.1,99.3 365.2,101.0 365.3,109.6 365.4,106.1 365.5,110.3 365.6,108.7 365.7,109.7 365.8,115.7 365.9,119.0 366.0,122.8 366.1,120.3 366.2,117.6 366.3,116.5 366.4,118.5 366.5,119.5 366.6,120.7 366.7,125.5 366.8,122.2 366.9,120.6 367.0,125.5 367.1,121.2 367.2,129.0 367.3,129.0 367.4,122.6 367.5,127.2 367.6,129.3 367.8,134.1 367.9,133.4 368.0,135.6 368.1,135.0 368.2,137.4 368.3,132.8 368.4,132.5 368.5,131.7 368.6,136.8 368.7,138.4 368.8,138.3 368.9,132.6 369.0,138.7 369.1,133.1 369.2,135.4 369.3,136.0 369.4,139.1 369.5,141.2 369.6,139.2 369.7,136.5 369.8,132.7 369.9,134.2 370.0,141.7 370.1,148.2 370.2,145.6 370.3,144.5 370.5,144.5 370.6,144.9 370.7,144.4 370.8,147.2 370.9,153.7 371.0,157.4 371.1,154.5 371.2,154.7 371.3,158.1 371.4,160.2 371.5,163.7 371.6,168.3 371.7,170.0 371.8,168.1 371.9,168.7 372.0,167.7 372.1,168.3 372.2,171.9 372.3,178.9 372.4,179.7 372.5,184.5 372.6,183.9 372.7,180.7 372.8,180.5 372.9,185.5 373.0,189.2 373.1,190.6 373.3,190.0 373.4,190.4 373.5,189.8 373.6,192.2 373.7,195.8 373.8,200.1 373.9,203.4 374.0,201.8 374.1,200.6 374.2,200.0 374.3,202.4 374.4,207.1 374.5,211.6 374.6,213.6 374.7,211.8 374.8,210.2 374.9,206.7 375.0,206.7 375.1,209.1 375.2,212.4 375.3,214.9 375.4,212.6 375.5,208.3 375.6,205.8 375.7,205.6 375.8,208.3 376.0,211.7 376.1,214.1 376.2,211.8 376.3,208.4 376.4,204.8 376.5,204.6 376.6,208.6 376.7,212.5 376.8,214.6 376.9,212.0 377.0,210.1 377.1,206.0 377.2,207.3 377.3,210.1 377.4,213.4 377.5,215.5 377.6,212.6 377.7,210.0 377.8,207.6 377.9,208.0 378.0,209.6 378.1,214.4 378.2,216.1 378.3,213.6 378.4,209.3 378.5,206.0 378.7,206.1 378.8,210.1 378.9,213.0 379.0,213.3 379.1,213.3 379.2,210.9 379.3,208.0 379.4,208.8 379.5,210.2 379.6,214.4 379.7,215.6 379.8,214.3 379.9,210.3 380.0,207.2 380.1,208.3 380.2,211.6 380.3,214.4 380.4,215.9 380.5,214.9 380.6,211.8 380.7,207.8 380.8,208.4 380.9,211.1 381.0,214.0 381.1,215.7 381.2,214.3 381.3,210.4 381.5,207.8 381.6,208.0 381.7,210.8 381.8,214.4 381.9,215.8 382.0,213.8 382.1,211.0 382.2,208.2 382.3,207.2 382.4,210.4 382.5,214.5 382.6,215.5 382.7,213.5 382.8,209.4 382.9,206.3 383.0,206.0 383.1,208.7 383.2,213.7 383.3,215.8 383.4,214.5 383.5,210.7 383.6,208.4 383.7,208.5 383.8,211.3 383.9,215.8 384.0,216.6 384.2,214.2 384.3,209.9 384.4,207.3 384.5,207.6 384.6,210.1 384.7,213.3 384.8,214.8 384.9,211.4 385.0,208.6 385.1,206.1 385.2,206.4 385.3,208.4 385.4,212.8 385.5,213.9 385.6,211.5 385.7,207.1 385.8,205.6 385.9,205.3 386.0,208.8 386.1,211.2 386.2,213.0 386.3,210.8 386.4,206.9 386.5,203.6 386.6,203.4 386.7,207.0 386.8,212.0 387.0,211.7 387.1,210.8 387.2,207.0 387.3,204.8 387.4,204.1 387.5,206.1 387.6,211.1 387.7,210.8 387.8,207.6 387.9,203.4 388.0,197.7 388.1,197.0 388.2,196.5 388.3,197.7 388.4,196.0 388.5,192.0 388.6,188.6 388.7,186.7 388.8,183.5 388.9,184.7 389.0,186.8 389.1,186.0 389.2,184.3 389.3,175.8 389.4,171.7 389.5,171.8 389.7,172.6 389.8,174.6 389.9,175.8 390.0,174.0 390.1,171.3 390.2,166.9 390.3,167.6 390.4,168.0 390.5,169.7 390.6,171.0 390.7,165.8 390.8,163.2 390.9,160.0 391.0,157.3 391.1,156.3 391.2,160.2 391.3,160.0 391.4,154.9 391.5,147.8 391.6,150.4 391.7,145.0 391.8,147.7 391.9,148.9 392.0,145.8 392.1,145.3 392.2,141.2 392.3,139.5 392.5,137.0 392.6,137.5 392.7,139.4 392.8,141.5 392.9,138.3 393.0,130.4 393.1,131.0 393.2,128.8 393.3,128.5 393.4,130.0 393.5,132.5 393.6,130.3 393.7,128.6 393.8,121.2 393.9,118.7 394.0,125.0 394.1,129.3 394.2,127.9 394.3,123.1 394.4,116.8 394.5,111.7 394.6,106.7 394.7,110.1 394.8,109.5 394.9,115.7 395.0,114.9 395.2,112.1 395.3,112.7 395.4,108.6 395.5,110.6 395.6,112.8 395.7,112.8 395.8,111.8 395.9,107.9 396.0,103.4 396.1,104.1 396.2,103.6 396.3,101.5 396.4,95.8 396.5,94.3 396.6,100.5 396.7,105.3 396.8,97.6 396.9,97.1 397.0,87.8 397.1,91.7 397.2,91.3 397.3,91.8 397.4,93.5 397.5,94.2 397.6,103.0 397.7,98.2 397.8,96.6 398.0,88.1 398.1,94.9 398.2,92.8 398.3,88.8 398.4,99.9 398.5,106.6 398.6,103.5 398.7,96.6 398.8,106.2 398.9,103.8 399.0,105.6 399.1,108.5 399.2,97.9 399.3,104.8 399.4,91.4 399.5,94.3 399.6,94.5 399.7,88.2 399.8,86.2 399.9,82.2 400.0,79.6 400.1,80.1 400.2,77.7 400.3,83.4 400.4,92.5 400.5,90.8 400.7,90.4 400.8,89.8 400.9,94.3 401.0,92.1 401.1,79.3 401.2,82.8 401.3,85.0 401.4,84.9 401.5,83.1 401.6,88.7 401.7,88.5 401.8,89.2 401.9,89.6 402.0,98.5 402.1,100.4 402.2,102.2 402.3,98.6 402.4,101.0 402.5,94.9 402.6,96.6 402.7,99.7 402.8,100.5 402.9,102.0 403.0,95.5 403.1,101.8 403.2,107.3 403.4,103.9 403.5,107.2 403.6,101.3 403.7,106.5 403.8,110.2 403.9,106.8 404.0,105.8 404.1,116.1 404.2,115.9 404.3,119.3 404.4,126.2 404.5,124.7 404.6,124.1 404.7,122.5 404.8,124.2 404.9,126.8 405.0,126.7 405.1,129.0 405.2,126.6 405.3,127.4 405.4,127.5 405.5,123.0 405.6,128.2 405.7,126.4 405.8,130.5 405.9,128.9 406.0,130.1 406.2,129.2 406.3,128.6 406.4,127.3 406.5,129.7 406.6,134.3 406.7,138.4 406.8,135.7 406.9,138.9 407.0,145.3 407.1,146.1 407.2,147.9 407.3,144.7 407.4,143.9 407.5,140.0 407.6,140.6 407.7,142.2 407.8,141.2 407.9,147.3 408.0,148.8 408.1,150.2 408.2,149.7 408.3,151.2 408.4,156.8 408.5,157.9 408.6,162.1 408.7,165.9 408.9,164.5 409.0,163.0 409.1,160.3 409.2,160.2 409.3,163.2 409.4,168.1 409.5,172.4 409.6,170.6 409.7,170.1 409.8,172.0 409.9,171.2 410.0,177.6 410.1,182.4 410.2,185.1 410.3,185.2 410.4,184.2 410.5,180.4 410.6,183.6 410.7,185.8 410.8,190.8 410.9,196.0 411.0,195.9 411.1,193.2 411.2,192.8 411.3,194.9 411.4,199.1 411.5,204.5 411.7,206.4 411.8,208.2 411.9,205.6 412.0,203.2 412.1,203.8 412.2,207.5 412.3,211.8 412.4,212.7 412.5,209.7 412.6,206.2 412.7,203.5 412.8,203.5 412.9,206.3 413.0,210.4 413.1,211.5 413.2,209.8 413.3,206.5 413.4,202.8 413.5,202.3 413.6,205.5 413.7,208.4 413.8,210.4 413.9,208.8 414.0,205.3 414.1,201.3 414.2,203.1 414.4,205.3 414.5,209.2 414.6,210.4 414.7,208.5 414.8,205.1 414.9,204.3 415.0,204.1 415.1,207.2 415.2,210.1 415.3,211.7 415.4,209.3 415.5,207.1 415.6,204.7 415.7,206.4 415.8,208.1 415.9,212.5 416.0,214.0 416.1,212.0 416.2,207.7 416.3,204.0 416.4,205.6 416.5,209.1 416.6,212.2 416.7,213.9 416.8,212.1 416.9,207.9 417.0,204.5 417.2,204.7 417.3,206.4 417.4,210.2 417.5,212.2 417.6,210.4 417.7,205.5 417.8,202.8 417.9,204.3 418.0,207.1 418.1,210.6 418.2,213.4 418.3,211.0 418.4,207.4 418.5,204.4 418.6,206.0 418.7,207.9 418.8,211.5 418.9,213.2 419.0,210.6 419.1,207.6 419.2,205.1 419.3,203.7 419.4,208.1 419.5,211.3 419.6,212.1 419.7,211.9 419.9,207.2 420.0,204.2 420.1,204.4 420.2,207.8 420.3,212.7 420.4,213.9 420.5,211.6 420.6,207.3 420.7,203.1 420.8,204.9 420.9,206.4 421.0,211.3 421.1,211.4 421.2,210.2 421.3,205.6 421.4,203.5 421.5,203.4 421.6,207.2 421.7,210.0 421.8,211.8 421.9,210.8 422.0,205.9 422.1,203.1 422.2,202.8 422.3,205.4 422.4,208.6 422.6,210.4 422.7,208.4 422.8,205.1 422.9,201.8 423.0,201.9 423.1,205.7 423.2,209.8 423.3,210.7 423.4,209.1 423.5,205.7 423.6,202.7 423.7,202.9 423.8,204.8 423.9,210.9 424.0,213.4 424.1,209.9 424.2,205.9 424.3,203.5 424.4,202.8 424.5,206.2 424.6,209.9 424.7,212.4 424.8,211.1 424.9,205.1 425.0,203.2 425.1,203.3 425.2,205.7 425.4,209.9 425.5,208.8 425.6,205.5 425.7,200.9 425.8,195.1 425.9,194.8 426.0,196.9 426.1,197.3 426.2,197.8 426.3,194.8 426.4,189.8 426.5,184.1 426.6,184.7 426.7,183.4 426.8,184.9 426.9,185.4 427.0,182.9 427.1,178.4 427.2,174.9 427.3,173.3 427.4,173.1 427.5,174.0 427.6,171.3 427.7,169.9 427.8,165.1 427.9,163.2 428.1,160.0 428.2,158.2 428.3,159.9 428.4,160.3 428.5,155.7 428.6,149.7 428.7,147.4 428.8,147.0 428.9,144.3 429.0,148.7 429.1,147.1 429.2,145.2 429.3,137.0 429.4,139.5 429.5,138.4 429.6,142.8 429.7,140.8 429.8,136.6 429.9,136.4 430.0,140.2 430.1,137.6 430.2,138.7 430.3,136.8 430.4,133.7 430.5,137.9 430.6,133.5 430.7,128.8 430.9,122.7 431.0,123.1 431.1,119.5 431.2,120.7 431.3,127.3 431.4,124.1 431.5,126.0 431.6,121.9 431.7,116.9 431.8,119.6 431.9,119.2 432.0,109.1 432.1,113.5 432.2,110.0 432.3,105.4 432.4,108.6 432.5,109.2 432.6,103.9 432.7,106.6 432.8,101.5 432.9,102.4 433.0,97.0 433.1,99.1 433.2,101.3 433.3,108.9 433.4,106.2 433.6,103.0 433.7,96.9 433.8,105.1 433.9,107.1 434.0,104.0 434.1,105.5 434.2,105.1 434.3,99.0 434.4,94.1 434.5,84.8 434.6,85.2 434.7,77.5 434.8,81.7 434.9,74.6 435.0,82.7 435.1,79.2 435.2,83.0 435.3,84.7 435.4,87.0 435.5,95.7 435.6,99.8 435.7,90.7 435.8,89.0 435.9,81.3 436.0,80.2 436.1,93.8 436.2,90.7 436.4,91.5 436.5,92.8 436.6,91.7 436.7,92.2 436.8,95.8 436.9,87.8 437.0,87.7 437.1,88.2 437.2,87.2 437.3,84.3 437.4,77.9 437.5,81.2 437.6,84.5 437.7,85.3 437.8,92.7 437.9,100.6 438.0,90.8 438.1,91.8 438.2,93.2 438.3,92.5 438.4,93.8 438.5,77.8 438.6,79.4 438.7,72.4 438.8,82.5 438.9,77.5 439.1,82.7 439.2,81.2 439.3,72.9 439.4,84.4 439.5,84.8 439.6,86.4 439.7,80.8 439.8,78.8 439.9,82.1 440.0,77.6 440.1,81.0 440.2,81.9 440.3,85.2 440.4,96.9 440.5,89.3 440.6,91.1 440.7,90.4 440.8,90.6 440.9,80.3 441.0,86.2 441.1,86.4 441.2,89.2 441.3,96.9 441.4,100.8 441.5,98.7 441.6,103.9 441.8,96.5 441.9,101.0 442.0,109.5 442.1,103.6 442.2,99.9 442.3,97.6 442.4,99.4 442.5,99.2 442.6,108.2 442.7,108.8 442.8,107.5 442.9,106.5 443.0,108.9 443.1,104.8 443.2,106.3 443.3,105.4 443.4,113.9 443.5,115.8 443.6,115.3 443.7,117.0 443.8,114.7 443.9,115.8 444.0,116.9 444.1,118.2 444.2,115.2 444.3,123.1 444.4,128.0 444.6,124.7 444.7,125.1 444.8,125.5 444.9,129.5 445.0,131.9 445.1,137.0 445.2,138.0 445.3,139.0 445.4,135.6 445.5,139.1 445.6,143.3 445.7,147.2 445.8,144.3 445.9,151.3 446.0,150.9 446.1,149.4 446.2,147.5 446.3,150.0 446.4,148.7 446.5,149.1 446.6,153.2 446.7,151.1 446.8,147.5 446.9,152.0 447.0,156.6 447.1,162.3 447.3,161.0 447.4,166.5 447.5,166.0 447.6,163.5 447.7,168.5 447.8,169.8 447.9,174.8 448.0,175.6 448.1,174.7 448.2,174.4 448.3,172.0 448.4,174.6 448.5,177.3 448.6,180.4 448.7,182.4 448.8,183.9 448.9,181.8 449.0,183.6 449.1,184.2 449.2,189.2 449.3,194.5 449.4,196.4 449.5,195.3 449.6,193.5 449.7,193.5 449.8,196.7 449.9,201.4 450.1,207.4 450.2,208.5 450.3,205.7 450.4,202.5 450.5,199.6 450.6,200.3 450.7,203.9 450.8,207.7 450.9,209.7 451.0,208.0 451.1,205.0 451.2,202.6 451.3,202.7 451.4,204.5 451.5,208.6 451.6,210.9 451.7,207.6 451.8,204.0 451.9,201.6 452.0,202.3 452.1,206.3 452.2,209.8 452.3,210.0 452.4,209.4 452.5,206.8 452.6,203.1 452.8,204.3 452.9,207.0 453.0,210.4 453.1,212.7 453.2,210.5 453.3,207.2 453.4,205.0 453.5,205.1 453.6,207.6 453.7,210.2 453.8,213.5 453.9,211.5 454.0,207.3 454.1,204.7 454.2,204.8 454.3,209.2 454.4,211.8 454.5,212.6 454.6,209.4 454.7,205.0 454.8,202.8 454.9,203.3 455.0,206.8 455.1,209.8 455.2,211.7 455.3,209.7 455.4,206.2 455.6,204.1 455.7,204.6 455.8,206.7 455.9,209.8 456.0,211.6 456.1,208.9 456.2,205.6 456.3,203.4 456.4,204.7 456.5,207.8 456.6,210.7 456.7,212.8 456.8,209.7 456.9,206.6 457.0,203.0 457.1,203.1 457.2,206.6 457.3,209.2 457.4,213.0 457.5,210.3 457.6,207.3 457.7,203.9 457.8,204.2 457.9,207.1 458.0,210.7 458.1,211.6 458.3,209.5 458.4,206.4 458.5,204.2 458.6,202.7 458.7,205.7 458.8,210.6 458.9,212.5 459.0,211.2 459.1,206.9 459.2,203.8 459.3,204.6 459.4,208.2 459.5,211.5 459.6,214.2 459.7,211.4 459.8,207.2 459.9,204.8 460.0,204.2 460.1,207.6 460.2,210.0 460.3,211.3 460.4,208.6 460.5,205.1 460.6,202.4 460.7,202.9 460.8,205.9 460.9,209.5 461.1,210.7 461.2,208.6 461.3,205.4 461.4,203.6 461.5,202.6 461.6,204.9 461.7,209.7 461.8,211.4 461.9,208.9 462.0,205.7 462.1,202.6 462.2,202.4 462.3,205.6 462.4,209.6 462.5,211.2 462.6,207.6 462.7,204.0 462.8,200.4 462.9,202.4 463.0,204.8 463.1,206.8 463.2,206.2 463.3,202.2 463.4,198.5 463.5,194.9 463.6,192.8 463.8,193.8 463.9,196.0 464.0,196.7 464.1,194.0 464.2,189.7 464.3,185.2 464.4,182.8 464.5,183.7 464.6,186.7 464.7,186.2 464.8,182.9 464.9,178.5 465.0,175.1 465.1,173.2 465.2,176.0 465.3,176.1 465.4,174.6 465.5,174.6 465.6,170.5 465.7,167.6 465.8,168.4 465.9,169.5 466.0,168.3 466.1,169.9 466.2,167.1 466.3,162.2 466.5,161.0 466.6,160.5 466.7,161.4 466.8,160.9 466.9,158.8 467.0,156.4 467.1,154.7 467.2,152.3 467.3,149.7 467.4,150.2 467.5,153.7 467.6,153.3 467.7,149.1 467.8,138.3 467.9,135.1 468.0,135.6 468.1,137.6 468.2,142.2 468.3,137.2 468.4,136.0 468.5,132.5 468.6,132.0 468.7,129.3 468.8,123.6 468.9,125.1 469.0,126.7 469.1,124.0 469.3,117.8 469.4,116.7 469.5,114.4 469.6,113.0 469.7,117.8 469.8,117.6 469.9,113.3 470.0,109.0 470.1,100.6 470.2,112.5 470.3,110.2 470.4,113.6 470.5,120.9 470.6,118.7 470.7,113.1 470.8,112.2 470.9,116.3 471.0,117.9 471.1,119.0 471.2,120.0 471.3,119.1 471.4,115.3 471.5,111.1 471.6,107.9 471.7,106.5 471.8,110.0 472.0,110.4 472.1,111.8 472.2,105.0 472.3,98.9 472.4,98.2 472.5,97.6 472.6,107.1 472.7,109.5 472.8,107.7 472.9,100.3 473.0,102.2 473.1,100.2 473.2,106.9 473.3,103.3 473.4,101.6 473.5,107.4 473.6,108.5 473.7,105.1 473.8,89.2 473.9,89.3 474.0,81.9 474.1,79.5 474.2,84.2 474.3,86.1 474.4,88.5 474.5,80.8 474.6,78.4 474.8,80.9 474.9,75.0 475.0,76.6 475.1,73.2 475.2,75.7 475.3,70.9 475.4,79.3 475.5,86.2 475.6,85.0 475.7,78.0 475.8,77.0 475.9,81.7 476.0,79.7 476.1,78.0 476.2,87.6 476.3,95.7 476.4,103.8 476.5,101.1 476.6,98.5 476.7,92.9 476.8,86.1 476.9,88.0 477.0,86.6 477.1,90.1 477.2,105.0 477.3,106.7 477.5,104.6 477.6,99.0 477.7,103.0 477.8,106.0 477.9,103.8 478.0,100.9 478.1,104.7 478.2,104.1 478.3,105.9 478.4,103.1 478.5,96.5 478.6,100.9 478.7,94.4 478.8,94.8 478.9,91.8 479.0,93.0 479.1,103.0 479.2,97.6 479.3,107.3 479.4,108.8 479.5,108.3 479.6,103.8 479.7,99.0 479.8,100.8 479.9,101.6 480.0,108.2 480.1,98.4 480.3,95.1 480.4,98.0 480.5,101.1 480.6,107.5 480.7,110.4 480.8,106.9 480.9,115.4 481.0,112.7 481.1,110.7 481.2,110.7 481.3,111.3 481.4,111.1 481.5,113.0 481.6,112.8 481.7,112.7 481.8,115.6 481.9,121.8 482.0,129.3 482.1,129.7 482.2,132.7 482.3,131.3 482.4,129.8 482.5,134.9 482.6,141.3 482.7,146.0 482.8,145.8 483.0,146.3 483.1,141.7 483.2,138.9 483.3,142.0 483.4,142.7 483.5,147.0 483.6,151.3 483.7,151.5 483.8,149.8 483.9,146.3 484.0,148.6 484.1,152.2 484.2,154.6 484.3,160.1 484.4,156.1 484.5,159.3 484.6,159.6 484.7,161.5 484.8,164.3 484.9,169.5 485.0,172.8 485.1,175.8 485.2,174.7 485.3,167.6 485.4,168.5 485.5,173.3 485.7,175.7 485.8,180.1 485.9,182.4 486.0,178.4 486.1,176.7 486.2,179.2 486.3,184.9 486.4,186.6 486.5,189.7 486.6,190.1 486.7,187.5 486.8,185.4 486.9,189.4 487.0,193.2 487.1,197.9 487.2,201.0 487.3,200.9 487.4,196.9 487.5,195.5 487.6,197.1 487.7,201.4 487.8,206.8 487.9,211.1 488.0,210.9 488.1,207.3 488.2,204.5 488.3,205.0 488.5,208.5 488.6,212.0 488.7,214.3 488.8,212.6 488.9,209.1 489.0,205.9 489.1,206.5 489.2,209.2 489.3,213.5 489.4,214.3 489.5,212.4 489.6,208.8 489.7,205.2 489.8,206.3 489.9,208.5 490.0,213.5 490.1,213.6 490.2,212.5 490.3,208.4 490.4,207.2 490.5,208.0 490.6,210.8 490.7,215.1 490.8,215.1 490.9,214.0 491.0,209.8 491.2,208.0 491.3,208.6 491.4,211.6 491.5,214.4 491.6,215.9 491.7,213.8 491.8,209.7 491.9,207.5 492.0,208.1 492.1,211.4 492.2,215.0 492.3,216.7 492.4,214.6 492.5,211.0" fill="none" stroke="#ff1762" stroke-width="1.7" stroke-linejoin="round"/>
</g>
<path d="M75.5,254.76 V28.5 H492.5 V254.76" fill="none" stroke="#595959" stroke-width="1"/>
<line x1="75.0" y1="254.76" x2="493.0" y2="254.76" stroke="#a6a6a6" stroke-width="1.6"/>
<line x1="75.50" y1="255.6" x2="75.50" y2="258.3" stroke="#d2d2d2" stroke-width="0.9"/><line x1="113.48" y1="255.6" x2="113.48" y2="258.3" stroke="#d2d2d2" stroke-width="0.9"/><line x1="151.37" y1="255.6" x2="151.37" y2="258.3" stroke="#d2d2d2" stroke-width="0.9"/><line x1="189.25" y1="255.6" x2="189.25" y2="258.3" stroke="#d2d2d2" stroke-width="0.9"/><line x1="227.13" y1="255.6" x2="227.13" y2="258.3" stroke="#d2d2d2" stroke-width="0.9"/><line x1="265.11" y1="255.6" x2="265.11" y2="258.3" stroke="#d2d2d2" stroke-width="0.9"/><line x1="302.99" y1="255.6" x2="302.99" y2="258.3" stroke="#d2d2d2" stroke-width="0.9"/><line x1="340.87" y1="255.6" x2="340.87" y2="258.3" stroke="#d2d2d2" stroke-width="0.9"/><line x1="378.75" y1="255.6" x2="378.75" y2="258.3" stroke="#d2d2d2" stroke-width="0.9"/><line x1="416.74" y1="255.6" x2="416.74" y2="258.3" stroke="#d2d2d2" stroke-width="0.9"/><line x1="454.62" y1="255.6" x2="454.62" y2="258.3" stroke="#d2d2d2" stroke-width="0.9"/><line x1="492.50" y1="255.6" x2="492.50" y2="258.3" stroke="#d2d2d2" stroke-width="0.9"/>
<g font-family="Liberation Serif, serif" font-weight="bold" font-size="8.5" fill="#000" stroke="#000" stroke-width="0.25" text-anchor="end"><text x="66.8" y="31.50">22,500</text><text x="66.8" y="56.64">20,500</text><text x="66.8" y="81.78">18,500</text><text x="66.8" y="106.92">16,500</text><text x="66.8" y="132.06">14,500</text><text x="66.8" y="157.20">12,500</text><text x="66.8" y="182.34">10,500</text><text x="66.8" y="207.48">8500</text><text x="66.8" y="232.62">6500</text><text x="66.8" y="257.76">4500</text></g>
<g font-family="Liberation Serif, serif" font-weight="bold" font-size="8.4" fill="#000" stroke="#000" stroke-width="0.25" text-anchor="end"><text transform="translate(78.10,266.4) rotate(-60)">2020-01-01</text><text transform="translate(116.08,266.4) rotate(-60)">2021-01-01</text><text transform="translate(153.97,266.4) rotate(-60)">2022-01-01</text><text transform="translate(191.85,266.4) rotate(-60)">2023-01-01</text><text transform="translate(229.73,266.4) rotate(-60)">2024-01-01</text><text transform="translate(267.71,266.4) rotate(-60)">2025-01-01</text><text transform="translate(305.59,266.4) rotate(-60)">2026-01-01</text><text transform="translate(343.47,266.4) rotate(-60)">2027-01-01</text><text transform="translate(381.35,266.4) rotate(-60)">2028-01-01</text><text transform="translate(419.34,266.4) rotate(-60)">2029-01-01</text><text transform="translate(457.22,266.4) rotate(-60)">2030-01-01</text><text transform="translate(495.10,266.4) rotate(-60)">2031-01-01</text></g>
<text transform="translate(34.6,142) rotate(-90)" text-anchor="middle" font-family="Liberation Serif, serif" font-weight="bold" font-size="8.7" stroke="#000" stroke-width="0.15" fill="#000">Peak Load (MW)</text>
<text x="284" y="312.3" text-anchor="middle" font-family="Liberation Serif, serif" font-weight="bold" font-size="9.2" fill="#000" stroke="#000" stroke-width="0.15">Date</text>
<line x1="495" y1="138.4" x2="503" y2="138.4" stroke="#8db0e2" stroke-width="1.1"/>
<line x1="494.8" y1="150.8" x2="503" y2="150.8" stroke="#ec3a6c" stroke-width="1.9"/>
<g font-family="Liberation Serif, serif" font-weight="bold" font-size="8.2" fill="#000" stroke="#000" stroke-width="0.15">
<text x="504.2" y="141.2">Prophet</text>
<text x="504.2" y="153.7">HW</text>
</g>
</svg>
</body></html>
